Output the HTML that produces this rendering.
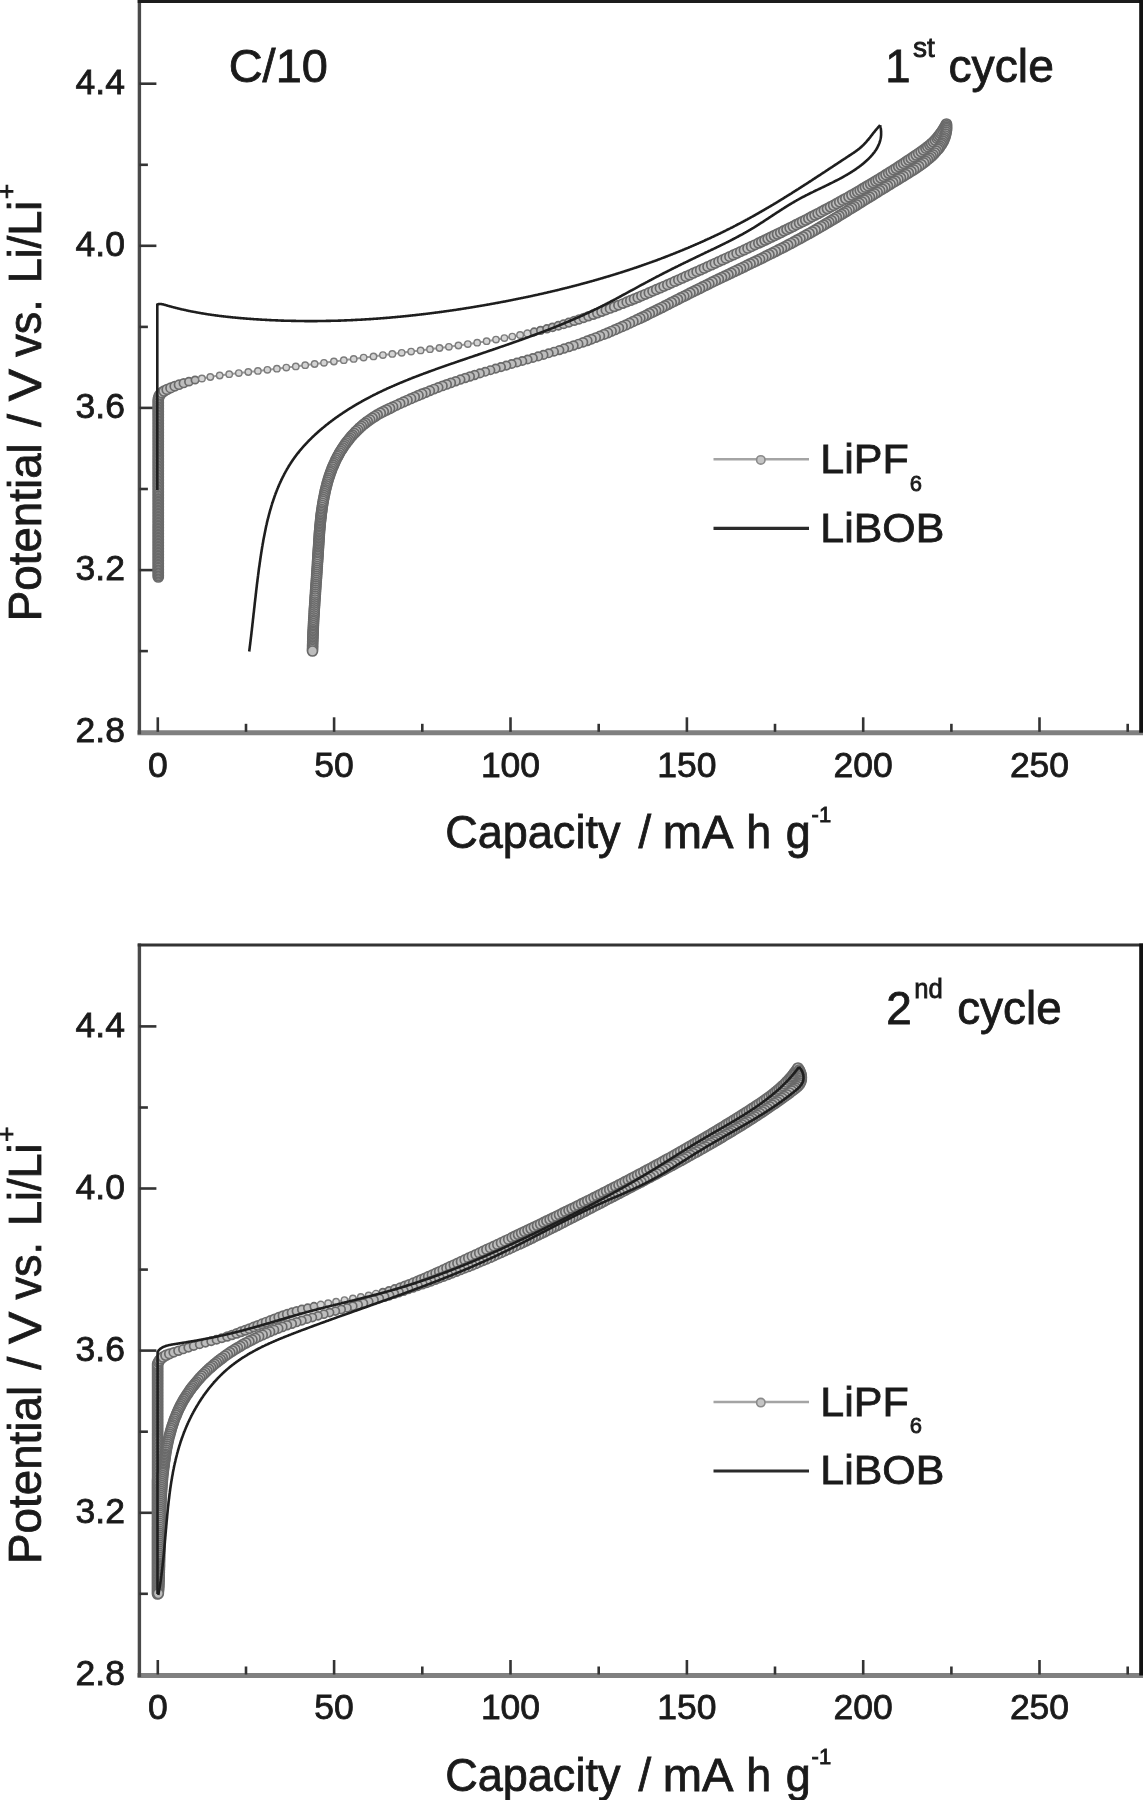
<!DOCTYPE html>
<html><head><meta charset="utf-8"><title>Charge-discharge curves: LiPF6 vs LiBOB</title>
<style>
html,body{margin:0;padding:0;background:#fff;}
svg{display:block;filter:blur(0.6px);}
text{font-family:"Liberation Sans", Arial, sans-serif;fill:#1a1a1a;stroke:#1a1a1a;stroke-width:0.8px;}
.tl text{font-size:35.5px;}
</style></head><body>
<svg width="1143" height="1800" viewBox="0 0 1143 1800">
<rect width="1143" height="1800" fill="#fff"/>
<line x1="137.5" y1="732.8" x2="1143" y2="732.8" stroke="#808080" stroke-width="5"/>
<line x1="139.4" y1="-0.2" x2="139.4" y2="734.3" stroke="#4a4a4a" stroke-width="3.4"/>
<line x1="137.7" y1="1.3" x2="1143" y2="1.3" stroke="#1c1c1c" stroke-width="3.2"/>
<line x1="1141.2" y1="-0.2" x2="1141.2" y2="732.8" stroke="#111" stroke-width="4"/>
<line x1="157.8" y1="717.3" x2="157.8" y2="731.8" stroke="#333" stroke-width="2.6"/>
<line x1="246.0" y1="723.8" x2="246.0" y2="731.8" stroke="#333" stroke-width="2.6"/>
<line x1="334.1" y1="717.3" x2="334.1" y2="731.8" stroke="#333" stroke-width="2.6"/>
<line x1="422.3" y1="723.8" x2="422.3" y2="731.8" stroke="#333" stroke-width="2.6"/>
<line x1="510.5" y1="717.3" x2="510.5" y2="731.8" stroke="#333" stroke-width="2.6"/>
<line x1="598.7" y1="723.8" x2="598.7" y2="731.8" stroke="#333" stroke-width="2.6"/>
<line x1="686.9" y1="717.3" x2="686.9" y2="731.8" stroke="#333" stroke-width="2.6"/>
<line x1="775.0" y1="723.8" x2="775.0" y2="731.8" stroke="#333" stroke-width="2.6"/>
<line x1="863.2" y1="717.3" x2="863.2" y2="731.8" stroke="#333" stroke-width="2.6"/>
<line x1="951.4" y1="723.8" x2="951.4" y2="731.8" stroke="#333" stroke-width="2.6"/>
<line x1="1039.5" y1="717.3" x2="1039.5" y2="731.8" stroke="#333" stroke-width="2.6"/>
<line x1="1127.7" y1="723.8" x2="1127.7" y2="731.8" stroke="#333" stroke-width="2.6"/>
<line x1="139.4" y1="651.1" x2="147.9" y2="651.1" stroke="#333" stroke-width="2.6"/>
<line x1="139.4" y1="570.1" x2="156.4" y2="570.1" stroke="#333" stroke-width="2.6"/>
<line x1="139.4" y1="489.0" x2="147.9" y2="489.0" stroke="#333" stroke-width="2.6"/>
<line x1="139.4" y1="407.9" x2="156.4" y2="407.9" stroke="#333" stroke-width="2.6"/>
<line x1="139.4" y1="326.9" x2="147.9" y2="326.9" stroke="#333" stroke-width="2.6"/>
<line x1="139.4" y1="245.8" x2="156.4" y2="245.8" stroke="#333" stroke-width="2.6"/>
<line x1="139.4" y1="164.8" x2="147.9" y2="164.8" stroke="#333" stroke-width="2.6"/>
<line x1="139.4" y1="83.7" x2="156.4" y2="83.7" stroke="#333" stroke-width="2.6"/>
<g class="tl">
<text x="157.8" y="776.6" text-anchor="middle">0</text>
<text x="334.1" y="776.6" text-anchor="middle">50</text>
<text x="510.5" y="776.6" text-anchor="middle">100</text>
<text x="686.9" y="776.6" text-anchor="middle">150</text>
<text x="863.2" y="776.6" text-anchor="middle">200</text>
<text x="1039.5" y="776.6" text-anchor="middle">250</text>
<text x="124.9" y="742.4" text-anchor="end">2.8</text>
<text x="124.9" y="580.3" text-anchor="end">3.2</text>
<text x="124.9" y="418.1" text-anchor="end">3.6</text>
<text x="124.9" y="256.0" text-anchor="end">4.0</text>
<text x="124.9" y="93.9" text-anchor="end">4.4</text>
</g>
<text x="445.22" y="848.30" style="font-size:45.5px" textLength="175.21" lengthAdjust="spacingAndGlyphs">Capacity</text>
<text x="638.50" y="848.30" style="font-size:45.5px">/</text>
<text x="662.79" y="848.30" style="font-size:45.5px" textLength="70.73" lengthAdjust="spacingAndGlyphs">mA</text>
<text x="746.25" y="848.30" style="font-size:45.5px" textLength="24.93" lengthAdjust="spacingAndGlyphs">h</text>
<text x="785.71" y="848.30" style="font-size:45.5px" textLength="24.96" lengthAdjust="spacingAndGlyphs">g</text>
<text x="811.60" y="821.50" style="font-size:22px">-1</text>
<text transform="translate(41.00 621.22) rotate(-90)" style="font-size:45.5px" textLength="178.01" lengthAdjust="spacingAndGlyphs">Potential</text>
<text transform="translate(41.00 426.75) rotate(-90)" style="font-size:45.5px">/</text>
<text transform="translate(41.00 401.30) rotate(-90)" style="font-size:45.5px" textLength="32.38" lengthAdjust="spacingAndGlyphs">V</text>
<text transform="translate(41.00 356.80) rotate(-90)" style="font-size:45.5px" textLength="57.62" lengthAdjust="spacingAndGlyphs">vs.</text>
<text transform="translate(41.00 283.37) rotate(-90)" style="font-size:45.5px" textLength="82.51" lengthAdjust="spacingAndGlyphs">Li/Li</text>
<text transform="translate(14.50 199.05) rotate(-90)" style="font-size:26px">+</text>
<line x1="137.5" y1="1675.5" x2="1143" y2="1675.5" stroke="#808080" stroke-width="5"/>
<line x1="139.4" y1="943.5" x2="139.4" y2="1677.0" stroke="#4a4a4a" stroke-width="3.4"/>
<line x1="137.7" y1="945.0" x2="1143" y2="945.0" stroke="#333" stroke-width="3.2"/>
<line x1="1141.2" y1="943.5" x2="1141.2" y2="1675.5" stroke="#111" stroke-width="4"/>
<line x1="157.8" y1="1660.0" x2="157.8" y2="1674.5" stroke="#333" stroke-width="2.6"/>
<line x1="246.0" y1="1666.5" x2="246.0" y2="1674.5" stroke="#333" stroke-width="2.6"/>
<line x1="334.1" y1="1660.0" x2="334.1" y2="1674.5" stroke="#333" stroke-width="2.6"/>
<line x1="422.3" y1="1666.5" x2="422.3" y2="1674.5" stroke="#333" stroke-width="2.6"/>
<line x1="510.5" y1="1660.0" x2="510.5" y2="1674.5" stroke="#333" stroke-width="2.6"/>
<line x1="598.7" y1="1666.5" x2="598.7" y2="1674.5" stroke="#333" stroke-width="2.6"/>
<line x1="686.9" y1="1660.0" x2="686.9" y2="1674.5" stroke="#333" stroke-width="2.6"/>
<line x1="775.0" y1="1666.5" x2="775.0" y2="1674.5" stroke="#333" stroke-width="2.6"/>
<line x1="863.2" y1="1660.0" x2="863.2" y2="1674.5" stroke="#333" stroke-width="2.6"/>
<line x1="951.4" y1="1666.5" x2="951.4" y2="1674.5" stroke="#333" stroke-width="2.6"/>
<line x1="1039.5" y1="1660.0" x2="1039.5" y2="1674.5" stroke="#333" stroke-width="2.6"/>
<line x1="1127.7" y1="1666.5" x2="1127.7" y2="1674.5" stroke="#333" stroke-width="2.6"/>
<line x1="139.4" y1="1593.8" x2="147.9" y2="1593.8" stroke="#333" stroke-width="2.6"/>
<line x1="139.4" y1="1512.8" x2="156.4" y2="1512.8" stroke="#333" stroke-width="2.6"/>
<line x1="139.4" y1="1431.7" x2="147.9" y2="1431.7" stroke="#333" stroke-width="2.6"/>
<line x1="139.4" y1="1350.6" x2="156.4" y2="1350.6" stroke="#333" stroke-width="2.6"/>
<line x1="139.4" y1="1269.6" x2="147.9" y2="1269.6" stroke="#333" stroke-width="2.6"/>
<line x1="139.4" y1="1188.5" x2="156.4" y2="1188.5" stroke="#333" stroke-width="2.6"/>
<line x1="139.4" y1="1107.5" x2="147.9" y2="1107.5" stroke="#333" stroke-width="2.6"/>
<line x1="139.4" y1="1026.4" x2="156.4" y2="1026.4" stroke="#333" stroke-width="2.6"/>
<g class="tl">
<text x="157.8" y="1719.3" text-anchor="middle">0</text>
<text x="334.1" y="1719.3" text-anchor="middle">50</text>
<text x="510.5" y="1719.3" text-anchor="middle">100</text>
<text x="686.9" y="1719.3" text-anchor="middle">150</text>
<text x="863.2" y="1719.3" text-anchor="middle">200</text>
<text x="1039.5" y="1719.3" text-anchor="middle">250</text>
<text x="124.9" y="1685.1" text-anchor="end">2.8</text>
<text x="124.9" y="1523.0" text-anchor="end">3.2</text>
<text x="124.9" y="1360.8" text-anchor="end">3.6</text>
<text x="124.9" y="1198.7" text-anchor="end">4.0</text>
<text x="124.9" y="1036.6" text-anchor="end">4.4</text>
</g>
<text x="445.22" y="1791.00" style="font-size:45.5px" textLength="175.21" lengthAdjust="spacingAndGlyphs">Capacity</text>
<text x="638.50" y="1791.00" style="font-size:45.5px">/</text>
<text x="662.79" y="1791.00" style="font-size:45.5px" textLength="70.73" lengthAdjust="spacingAndGlyphs">mA</text>
<text x="746.25" y="1791.00" style="font-size:45.5px" textLength="24.93" lengthAdjust="spacingAndGlyphs">h</text>
<text x="785.71" y="1791.00" style="font-size:45.5px" textLength="24.96" lengthAdjust="spacingAndGlyphs">g</text>
<text x="811.60" y="1764.20" style="font-size:22px">-1</text>
<text transform="translate(41.00 1563.92) rotate(-90)" style="font-size:45.5px" textLength="178.01" lengthAdjust="spacingAndGlyphs">Potential</text>
<text transform="translate(41.00 1369.45) rotate(-90)" style="font-size:45.5px">/</text>
<text transform="translate(41.00 1344.00) rotate(-90)" style="font-size:45.5px" textLength="32.38" lengthAdjust="spacingAndGlyphs">V</text>
<text transform="translate(41.00 1299.50) rotate(-90)" style="font-size:45.5px" textLength="57.62" lengthAdjust="spacingAndGlyphs">vs.</text>
<text transform="translate(41.00 1226.07) rotate(-90)" style="font-size:45.5px" textLength="82.51" lengthAdjust="spacingAndGlyphs">Li/Li</text>
<text transform="translate(14.50 1141.75) rotate(-90)" style="font-size:26px">+</text>
<text x="228.74" y="81.50" style="font-size:45.5px" textLength="99.12" lengthAdjust="spacingAndGlyphs">C/10</text>
<text x="885.30" y="81.50" style="font-size:45.5px">1</text>
<text x="912.90" y="56.80" style="font-size:27px" textLength="21.82" lengthAdjust="spacingAndGlyphs">st</text>
<text x="948.48" y="81.50" style="font-size:45.5px" textLength="105.41" lengthAdjust="spacingAndGlyphs">cycle</text>
<text x="886.18" y="1024.20" style="font-size:45.5px" textLength="25.54" lengthAdjust="spacingAndGlyphs">2</text>
<text x="914.35" y="997.60" style="font-size:27px" textLength="28.55" lengthAdjust="spacingAndGlyphs">nd</text>
<text x="957.19" y="1024.20" style="font-size:45.5px" textLength="104.49" lengthAdjust="spacingAndGlyphs">cycle</text>
<line x1="713.5" y1="459.3" x2="809" y2="459.3" stroke="#a4a4a4" stroke-width="2.4"/>
<circle cx="760.8" cy="459.9" r="4.2" fill="#c4c4c4" stroke="#8a8a8a" stroke-width="1.6"/>
<line x1="713.5" y1="528.3" x2="809" y2="528.3" stroke="#2a2a2a" stroke-width="3.2"/>
<text x="820.35" y="473.20" style="font-size:41px" textLength="88.42" lengthAdjust="spacingAndGlyphs">LiPF</text>
<text x="909.65" y="490.60" style="font-size:22px">6</text>
<text x="820.36" y="541.60" style="font-size:41px" textLength="123.91" lengthAdjust="spacingAndGlyphs">LiBOB</text>
<line x1="713.5" y1="1402.0" x2="809" y2="1402.0" stroke="#a4a4a4" stroke-width="2.4"/>
<circle cx="760.8" cy="1402.6" r="4.2" fill="#c4c4c4" stroke="#8a8a8a" stroke-width="1.6"/>
<line x1="713.5" y1="1471.0" x2="809" y2="1471.0" stroke="#2a2a2a" stroke-width="3.2"/>
<text x="820.35" y="1415.90" style="font-size:41px" textLength="88.42" lengthAdjust="spacingAndGlyphs">LiPF</text>
<text x="909.65" y="1433.30" style="font-size:22px">6</text>
<text x="820.36" y="1484.30" style="font-size:41px" textLength="123.91" lengthAdjust="spacingAndGlyphs">LiBOB</text>
<g id="top-curves">
<path d="M158.3 577.0 L158.3 576.5 L158.3 576.0 L158.3 575.5 L158.3 575.0 L158.3 574.5 L158.3 574.0 L158.3 573.5 L158.3 573.0 L158.3 572.5 L158.3 572.0 L158.3 571.5 L158.3 571.0 L158.3 570.5 L158.3 570.0 L158.3 569.5 L158.3 569.0 L158.3 568.5 L158.3 568.0 L158.3 567.5 L158.3 567.0 L158.3 566.5 L158.3 566.0 L158.3 565.5 L158.3 565.0 L158.3 564.5 L158.3 564.0 L158.3 563.5 L158.3 563.0 L158.3 562.5 L158.3 562.0 L158.3 561.5 L158.3 561.0 L158.3 560.5 L158.3 560.0 L158.3 559.5 L158.3 558.9 L158.3 558.4 L158.3 557.9 L158.3 557.4 L158.3 556.9 L158.3 556.4 L158.3 555.9 L158.3 555.4 L158.3 554.9 L158.3 554.4 L158.3 553.9 L158.3 553.4 L158.3 552.9 L158.3 552.4 L158.3 551.9 L158.3 551.4 L158.3 550.9 L158.3 550.4 L158.3 549.9 L158.3 549.4 L158.3 548.9 L158.3 548.4 L158.3 547.9 L158.3 547.4 L158.3 546.9 L158.3 546.4 L158.3 545.9 L158.3 545.4 L158.3 544.9 L158.3 544.4 L158.3 543.9 L158.3 543.4 L158.3 542.9 L158.3 542.4 L158.3 541.9 L158.3 541.4 L158.3 540.9 L158.3 540.4 L158.3 539.9 L158.3 539.4 L158.3 538.9 L158.3 538.4 L158.3 537.9 L158.3 537.4 L158.3 536.9 L158.3 536.4 L158.3 535.9 L158.3 535.4 L158.3 534.9 L158.3 534.4 L158.3 533.9 L158.3 533.4 L158.3 532.9 L158.3 532.4 L158.3 531.9 L158.3 531.4 L158.3 530.9 L158.3 530.4 L158.3 529.9 L158.3 529.4 L158.3 528.9 L158.3 528.4 L158.3 527.9 L158.3 527.4 L158.3 526.9 L158.3 526.4 L158.3 525.9 L158.3 525.4 L158.3 524.9 L158.3 524.4 L158.3 523.8 L158.3 523.3 L158.3 522.8 L158.3 522.3 L158.3 521.8 L158.3 521.3 L158.3 520.8 L158.3 520.3 L158.3 519.8 L158.3 519.3 L158.3 518.8 L158.3 518.3 L158.3 517.8 L158.3 517.3 L158.3 516.8 L158.3 516.3 L158.3 515.8 L158.3 515.3 L158.3 514.8 L158.3 514.3 L158.3 513.8 L158.3 513.3 L158.3 512.8 L158.3 512.3 L158.3 511.8 L158.3 511.3 L158.3 510.8 L158.3 510.3 L158.3 509.8 L158.3 509.3 L158.3 508.8 L158.3 508.3 L158.3 507.8 L158.3 507.3 L158.3 506.8 L158.3 506.3 L158.3 505.8 L158.3 505.3 L158.3 504.8 L158.3 504.3 L158.3 503.8 L158.3 503.3 L158.3 502.8 L158.3 502.3 L158.3 501.8 L158.3 501.3 L158.3 500.8 L158.3 500.3 L158.3 499.8 L158.3 499.3 L158.3 498.8 L158.3 498.3 L158.3 497.8 L158.3 497.3 L158.3 496.8 L158.3 496.3 L158.3 495.8 L158.3 495.3 L158.3 494.8 L158.3 494.3 L158.3 493.8 L158.3 493.3 L158.3 492.8 L158.3 492.3 L158.3 491.8 L158.3 491.3 L158.3 490.8 L158.3 490.3 L158.3 489.8 L158.3 489.3 L158.3 488.8 L158.3 488.2 L158.3 487.7 L158.3 487.2 L158.3 486.7 L158.3 486.2 L158.3 485.7 L158.3 485.2 L158.3 484.7 L158.3 484.2 L158.3 483.7 L158.3 483.2 L158.3 482.7 L158.3 482.2 L158.3 481.7 L158.3 481.2 L158.3 480.7 L158.3 480.2 L158.3 479.7 L158.3 479.2 L158.3 478.7 L158.3 478.2 L158.3 477.7 L158.3 477.2 L158.3 476.7 L158.3 476.2 L158.3 475.7 L158.3 475.2 L158.3 474.7 L158.3 474.2 L158.3 473.7 L158.3 473.2 L158.3 472.7 L158.3 472.2 L158.3 471.7 L158.3 471.2 L158.3 470.7 L158.3 470.2 L158.3 469.7 L158.3 469.2 L158.3 468.7 L158.3 468.2 L158.3 467.7 L158.3 467.2 L158.3 466.7 L158.3 466.2 L158.3 465.7 L158.3 465.2 L158.3 464.7 L158.3 464.2 L158.3 463.7 L158.3 463.2 L158.3 462.7 L158.3 462.2 L158.3 461.7 L158.3 461.2 L158.3 460.7 L158.3 460.2 L158.3 459.7 L158.3 459.2 L158.3 458.7 L158.3 458.2 L158.3 457.7 L158.3 457.2 L158.3 456.7 L158.3 456.2 L158.3 455.7 L158.3 455.2 L158.3 454.7 L158.3 454.2 L158.3 453.7 L158.3 453.2 L158.3 452.6 L158.3 452.1 L158.3 451.6 L158.3 451.1 L158.3 450.6 L158.3 450.1 L158.3 449.6 L158.3 449.1 L158.3 448.6 L158.3 448.1 L158.3 447.6 L158.3 447.1 L158.3 446.6 L158.3 446.1 L158.3 445.6 L158.3 445.1 L158.3 444.6 L158.3 444.1 L158.3 443.6 L158.3 443.1 L158.3 442.6 L158.3 442.1 L158.3 441.6 L158.3 441.1 L158.3 440.6 L158.3 440.1 L158.3 439.6 L158.3 439.1 L158.3 438.6 L158.3 438.1 L158.3 437.6 L158.3 437.1 L158.3 436.6 L158.3 436.1 L158.3 435.6 L158.3 435.1 L158.3 434.6 L158.3 434.1 L158.3 433.6 L158.3 433.1 L158.3 432.6 L158.3 432.1 L158.3 431.6 L158.3 431.1 L158.3 430.6 L158.3 430.1 L158.3 429.6 L158.3 429.1 L158.3 428.6 L158.3 428.1 L158.3 427.6 L158.3 427.1 L158.3 426.6 L158.3 426.1 L158.3 425.6 L158.3 425.1 L158.3 424.6 L158.3 424.1 L158.3 423.6 L158.3 423.1 L158.3 422.6 L158.3 422.1 L158.3 421.6 L158.3 421.1 L158.3 420.6 L158.3 420.1 L158.3 419.6 L158.3 419.1 L158.3 418.6 L158.3 418.1 L158.3 417.5 L158.3 417.0 L158.3 416.5 L158.3 416.0 L158.3 415.5 L158.3 415.0 L158.3 414.5 L158.3 414.0 L158.3 413.5 L158.3 413.0 L158.3 412.5 L158.3 412.0 L158.3 411.5 L158.3 411.0 L158.3 410.5 L158.3 410.0 L158.3 409.5 L158.3 409.0 L158.3 408.5 L158.3 408.0 L158.3 407.5 L158.3 407.0 L158.3 406.5 L158.3 406.0 L158.3 405.5 L158.3 405.0 L158.3 404.5 L158.3 404.0 L158.3 403.5 L158.3 403.0 L158.3 402.5 L158.3 402.0 L158.3 401.5 L158.3 401.0 L158.3 400.5 L158.3 400.0 L158.3 400.0 L158.3 399.4 L158.4 398.9 L158.5 398.3 L158.6 397.8 L158.7 397.3 L158.9 396.9 L159.0 396.4 L159.2 396.0 L159.5 395.5 L159.7 395.1 L159.9 394.7 L160.2 394.4 L160.5 394.0 L160.8 393.7 L161.1 393.3 L161.4 393.0 L161.8 392.7 L162.1 392.4 L162.5 392.1 L162.9 391.8 L163.2 391.6 L163.6 391.3 L164.0 391.1 L164.5 390.8 L164.9 390.6 L165.3 390.4 L165.7 390.1 L166.2 389.9 L166.6 389.7 L167.1 389.5 L167.5 389.3 L168.0 389.1 L168.4 388.9 L168.9 388.7 L169.3 388.5 L169.8 388.3 L170.2 388.1 L170.7 387.9 L171.1 387.7 L171.6 387.5 L172.0 387.3 L172.5 387.1 L173.0 387.0 L173.4 386.8 L173.9 386.6 L174.3 386.4 L174.8 386.2 L175.3 386.1 L175.7 385.9 L176.2 385.7 L176.6 385.6 L177.1 385.4 L177.6 385.2 L178.0 385.0 L178.5 384.9 L179.0 384.7 L179.4 384.6 L179.9 384.4 L180.4 384.2 L180.8 384.1 L181.3 383.9 L181.8 383.8 L182.2 383.6 L182.7 383.5 L183.2 383.3 L183.7 383.2 L184.1 383.0 L184.6 382.9 L185.1 382.7 L185.5 382.6 L186.0 382.5 L186.5 382.3 L187.0 382.2 L187.4 382.1 L187.9 381.9 L188.4 381.8 L188.9 381.7 L189.3 381.5 L189.8 381.4 L190.3 381.3 L190.8 381.1 L191.3 381.0 L191.7 380.9 L192.2 380.8 L192.7 380.6 L193.2 380.5 L193.7 380.4 L194.2 380.3 L194.6 380.2 L195.1 380.0 L195.6 379.9 L196.1 379.8 L196.6 379.7 L197.1 379.6 L197.5 379.5 L198.0 379.4 L198.5 379.3 L199.0 379.2 L199.5 379.0 L200.0 378.9 L200.5 378.8 L200.9 378.7 L201.4 378.6 L201.9 378.5 L202.4 378.4 L202.9 378.3 L203.4 378.2 L203.9 378.1 L204.4 378.0 L204.9 377.9 L205.4 377.9 L205.8 377.8 L206.3 377.7 L206.8 377.6 L207.3 377.5 L207.8 377.4 L208.3 377.3 L208.8 377.2 L209.3 377.1 L209.8 377.0 L210.3 377.0 L210.8 376.9 L211.3 376.8 L211.8 376.7 L212.3 376.6 L212.8 376.5 L213.3 376.5 L213.7 376.4 L214.2 376.3 L214.7 376.2 L215.2 376.1 L215.7 376.1 L216.2 376.0 L216.7 375.9 L217.2 375.8 L217.7 375.8 L218.2 375.7 L218.7 375.6 L219.2 375.6 L219.7 375.5 L220.2 375.4 L220.7 375.3 L221.2 375.3 L221.7 375.2 L222.2 375.1 L222.7 375.1 L223.2 375.0 L223.7 374.9 L224.2 374.9 L224.7 374.8 L225.2 374.7 L225.7 374.7 L226.2 374.6 L226.7 374.5 L227.2 374.5 L227.7 374.4 L228.2 374.3 L228.7 374.3 L229.2 374.2 L229.7 374.1 L230.2 374.1 L230.7 374.0 L231.2 374.0 L231.7 373.9 L232.2 373.8 L232.7 373.8 L233.2 373.7 L233.8 373.7 L234.3 373.6 L234.8 373.5 L235.3 373.5 L235.8 373.4 L236.3 373.4 L236.8 373.3 L237.3 373.3 L237.8 373.2 L238.3 373.1 L238.8 373.1 L239.3 373.0 L239.8 373.0 L240.3 372.9 L240.8 372.9 L241.3 372.8 L241.8 372.7 L242.3 372.7 L242.8 372.6 L243.3 372.6 L243.8 372.5 L244.3 372.5 L244.8 372.4 L245.3 372.4 L245.8 372.3 L246.3 372.2 L246.8 372.2 L247.3 372.1 L247.8 372.1 L248.3 372.0 L248.8 372.0 L249.3 371.9 L249.8 371.8 L250.3 371.8 L250.8 371.7 L251.4 371.7 L251.9 371.6 L252.4 371.6 L252.9 371.5 L253.4 371.5 L253.9 371.4 L254.4 371.3 L254.9 371.3 L255.4 371.2 L255.9 371.2 L256.4 371.1 L256.9 371.1 L257.4 371.0 L257.9 370.9 L258.4 370.9 L258.9 370.8 L259.4 370.8 L259.9 370.7 L260.4 370.7 L260.9 370.6 L261.4 370.5 L261.9 370.5 L262.4 370.4 L262.9 370.4 L263.4 370.3 L263.9 370.2 L264.4 370.2 L264.9 370.1 L265.4 370.1 L265.9 370.0 L266.4 370.0 L266.9 369.9 L267.4 369.8 L267.9 369.8 L268.4 369.7 L268.9 369.7 L269.4 369.6 L269.9 369.5 L270.4 369.5 L270.9 369.4 L271.4 369.4 L271.9 369.3 L272.4 369.2 L272.9 369.2 L273.4 369.1 L273.9 369.1 L274.4 369.0 L274.9 368.9 L275.4 368.9 L275.9 368.8 L276.4 368.8 L276.9 368.7 L277.4 368.6 L277.9 368.6 L278.4 368.5 L278.9 368.5 L279.4 368.4 L279.9 368.3 L280.4 368.3 L280.9 368.2 L281.4 368.2 L281.9 368.1 L282.3 368.0 L282.8 368.0 L283.3 367.9 L283.8 367.9 L284.3 367.8 L284.8 367.7 L285.3 367.7 L285.8 367.6 L286.3 367.6 L286.8 367.5 L287.3 367.4 L287.8 367.4 L288.3 367.3 L288.8 367.2 L289.3 367.2 L289.8 367.1 L290.3 367.1 L290.8 367.0 L291.3 366.9 L291.8 366.9 L292.3 366.8 L292.8 366.8 L293.3 366.7 L293.8 366.6 L294.3 366.6 L294.8 366.5 L295.3 366.4 L295.8 366.4 L296.3 366.3 L296.8 366.3 L297.3 366.2 L297.8 366.1 L298.3 366.1 L298.8 366.0 L299.3 365.9 L299.7 365.9 L300.2 365.8 L300.7 365.8 L301.2 365.7 L301.7 365.6 L302.2 365.6 L302.7 365.5 L303.2 365.4 L303.7 365.4 L304.2 365.3 L304.7 365.3 L305.2 365.2 L305.7 365.1 L306.2 365.1 L306.7 365.0 L307.2 364.9 L307.7 364.9 L308.2 364.8 L308.7 364.8 L309.2 364.7 L309.7 364.6 L310.2 364.6 L310.7 364.5 L311.2 364.4 L311.6 364.4 L312.1 364.3 L312.6 364.3 L313.1 364.2 L313.6 364.1 L314.1 364.1 L314.6 364.0 L315.1 363.9 L315.6 363.9 L316.1 363.8 L316.6 363.7 L317.1 363.7 L317.6 363.6 L318.1 363.6 L318.6 363.5 L319.1 363.4 L319.6 363.4 L320.1 363.3 L320.6 363.2 L321.1 363.2 L321.5 363.1 L322.0 363.0 L322.5 363.0 L323.0 362.9 L323.5 362.9 L324.0 362.8 L324.5 362.7 L325.0 362.7 L325.5 362.6 L326.0 362.5 L326.5 362.5 L327.0 362.4 L327.5 362.3 L328.0 362.3 L328.5 362.2 L329.0 362.1 L329.5 362.1 L330.0 362.0 L330.5 362.0 L330.9 361.9 L331.4 361.8 L331.9 361.8 L332.4 361.7 L332.9 361.6 L333.4 361.6 L333.9 361.5 L334.4 361.4 L334.9 361.4 L335.4 361.3 L335.9 361.2 L336.4 361.2 L336.9 361.1 L337.4 361.1 L337.9 361.0 L338.4 360.9 L338.9 360.9 L339.4 360.8 L339.8 360.7 L340.3 360.7 L340.8 360.6 L341.3 360.5 L341.8 360.5 L342.3 360.4 L342.8 360.3 L343.3 360.3 L343.8 360.2 L344.3 360.2 L344.8 360.1 L345.3 360.0 L345.8 360.0 L346.3 359.9 L346.8 359.8 L347.3 359.8 L347.8 359.7 L348.2 359.6 L348.7 359.6 L349.2 359.5 L349.7 359.4 L350.2 359.4 L350.7 359.3 L351.2 359.2 L351.7 359.2 L352.2 359.1 L352.7 359.1 L353.2 359.0 L353.7 358.9 L354.2 358.9 L354.7 358.8 L355.2 358.7 L355.7 358.7 L356.2 358.6 L356.6 358.5 L357.1 358.5 L357.6 358.4 L358.1 358.3 L358.6 358.3 L359.1 358.2 L359.6 358.2 L360.1 358.1 L360.6 358.0 L361.1 358.0 L361.6 357.9 L362.1 357.8 L362.6 357.8 L363.1 357.7 L363.6 357.6 L364.1 357.6 L364.6 357.5 L365.0 357.4 L365.5 357.4 L366.0 357.3 L366.5 357.3 L367.0 357.2 L367.5 357.1 L368.0 357.1 L368.5 357.0 L369.0 356.9 L369.5 356.9 L370.0 356.8 L370.5 356.7 L371.0 356.7 L371.5 356.6 L372.0 356.5 L372.5 356.5 L373.0 356.4 L373.5 356.4 L373.9 356.3 L374.4 356.2 L374.9 356.2 L375.4 356.1 L375.9 356.0 L376.4 356.0 L376.9 355.9 L377.4 355.8 L377.9 355.8 L378.4 355.7 L378.9 355.7 L379.4 355.6 L379.9 355.5 L380.4 355.5 L380.9 355.4 L381.4 355.3 L381.9 355.3 L382.4 355.2 L382.9 355.1 L383.3 355.1 L383.8 355.0 L384.3 355.0 L384.8 354.9 L385.3 354.8 L385.8 354.8 L386.3 354.7 L386.8 354.6 L387.3 354.6 L387.8 354.5 L388.3 354.4 L388.8 354.4 L389.3 354.3 L389.8 354.3 L390.3 354.2 L390.8 354.1 L391.3 354.1 L391.8 354.0 L392.3 353.9 L392.8 353.9 L393.3 353.8 L393.8 353.8 L394.2 353.7 L394.7 353.6 L395.2 353.6 L395.7 353.5 L396.2 353.4 L396.7 353.4 L397.2 353.3 L397.7 353.3 L398.2 353.2 L398.7 353.1 L399.2 353.1 L399.7 353.0 L400.2 352.9 L400.7 352.9 L401.2 352.8 L401.7 352.8 L402.2 352.7 L402.7 352.6 L403.2 352.6 L403.7 352.5 L404.2 352.4 L404.7 352.4 L405.2 352.3 L405.7 352.3 L406.2 352.2 L406.6 352.1 L407.1 352.1 L407.6 352.0 L408.1 351.9 L408.6 351.9 L409.1 351.8 L409.6 351.8 L410.1 351.7 L410.6 351.6 L411.1 351.6 L411.6 351.5 L412.1 351.5 L412.6 351.4 L413.1 351.3 L413.6 351.3 L414.1 351.2 L414.6 351.1 L415.1 351.1 L415.6 351.0 L416.1 351.0 L416.6 350.9 L417.1 350.8 L417.6 350.8 L418.1 350.7 L418.6 350.6 L419.1 350.6 L419.6 350.5 L420.1 350.5 L420.6 350.4 L421.1 350.3 L421.6 350.3 L422.1 350.2 L422.6 350.2 L423.1 350.1 L423.5 350.0 L424.0 350.0 L424.5 349.9 L425.0 349.8 L425.5 349.8 L426.0 349.7 L426.5 349.7 L427.0 349.6 L427.5 349.5 L428.0 349.5 L428.5 349.4 L429.0 349.3 L429.5 349.3 L430.0 349.2 L430.5 349.2 L431.0 349.1 L431.5 349.0 L432.0 349.0 L432.5 348.9 L433.0 348.8 L433.5 348.8 L434.0 348.7 L434.5 348.6 L435.0 348.6 L435.5 348.5 L436.0 348.5 L436.5 348.4 L437.0 348.3 L437.5 348.3 L438.0 348.2 L438.5 348.1 L439.0 348.1 L439.5 348.0 L440.0 347.9 L440.5 347.9 L441.0 347.8 L441.5 347.7 L442.0 347.7 L442.5 347.6 L442.9 347.6 L443.4 347.5 L443.9 347.4 L444.4 347.4 L444.9 347.3 L445.4 347.2 L445.9 347.2 L446.4 347.1 L446.9 347.0 L447.4 347.0 L447.9 346.9 L448.4 346.8 L448.9 346.8 L449.4 346.7 L449.9 346.6 L450.4 346.6 L450.9 346.5 L451.4 346.4 L451.9 346.4 L452.4 346.3 L452.9 346.2 L453.4 346.2 L453.9 346.1 L454.4 346.0 L454.9 346.0 L455.4 345.9 L455.9 345.8 L456.4 345.8 L456.9 345.7 L457.4 345.6 L457.9 345.5 L458.4 345.5 L458.9 345.4 L459.4 345.3 L459.9 345.3 L460.4 345.2 L460.8 345.1 L461.3 345.1 L461.8 345.0 L462.3 344.9 L462.8 344.8 L463.3 344.8 L463.8 344.7 L464.3 344.6 L464.8 344.6 L465.3 344.5 L465.8 344.4 L466.3 344.4 L466.8 344.3 L467.3 344.2 L467.8 344.1 L468.3 344.1 L468.8 344.0 L469.3 343.9 L469.8 343.8 L470.3 343.8 L470.8 343.7 L471.3 343.6 L471.8 343.5 L472.3 343.5 L472.8 343.4 L473.3 343.3 L473.8 343.3 L474.2 343.2 L474.7 343.1 L475.2 343.0 L475.7 343.0 L476.2 342.9 L476.7 342.8 L477.2 342.7 L477.7 342.6 L478.2 342.6 L478.7 342.5 L479.2 342.4 L479.7 342.3 L480.2 342.3 L480.7 342.2 L481.2 342.1 L481.7 342.0 L482.2 341.9 L482.7 341.9 L483.2 341.8 L483.7 341.7 L484.2 341.6 L484.7 341.6 L485.1 341.5 L485.6 341.4 L486.1 341.3 L486.6 341.2 L487.1 341.1 L487.6 341.1 L488.1 341.0 L488.6 340.9 L489.1 340.8 L489.6 340.7 L490.1 340.7 L490.6 340.6 L491.1 340.5 L491.6 340.4 L492.1 340.3 L492.6 340.2 L493.1 340.2 L493.5 340.1 L494.0 340.0 L494.5 339.9 L495.0 339.8 L495.5 339.7 L496.0 339.6 L496.5 339.6 L497.0 339.5 L497.5 339.4 L498.0 339.3 L498.5 339.2 L499.0 339.1 L499.5 339.0 L500.0 338.9 L500.5 338.9 L500.9 338.8 L501.4 338.7 L501.9 338.6 L502.4 338.5 L502.9 338.4 L503.4 338.3 L503.9 338.2 L504.4 338.1 L504.9 338.0 L505.4 338.0 L505.9 337.9 L506.4 337.8 L506.9 337.7 L507.3 337.6 L507.8 337.5 L508.3 337.4 L508.8 337.3 L509.3 337.2 L509.8 337.1 L510.3 337.0 L510.8 336.9 L511.3 336.8 L511.8 336.7 L512.3 336.6 L512.7 336.5 L513.2 336.4 L513.7 336.3 L514.2 336.2 L514.7 336.2 L515.2 336.1 L515.7 336.0 L516.2 335.9 L516.7 335.8 L517.2 335.7 L517.6 335.6 L518.1 335.5 L518.6 335.4 L519.1 335.3 L519.6 335.2 L520.1 335.0 L520.6 334.9 L521.1 334.8 L521.6 334.7 L522.1 334.6 L522.5 334.5 L523.0 334.4 L523.5 334.3 L524.0 334.2 L524.5 334.1 L525.0 334.0 L525.5 333.9 L526.0 333.8 L526.4 333.7 L526.9 333.6 L527.4 333.5 L527.9 333.4 L528.4 333.3 L528.9 333.1 L529.4 333.0 L529.9 332.9 L530.4 332.8 L530.8 332.7 L531.3 332.6 L531.8 332.5 L532.3 332.4 L532.8 332.3 L533.3 332.1 L533.8 332.0 L534.2 331.9 L534.7 331.8 L535.2 331.7 L535.7 331.6 L536.2 331.5 L536.7 331.3 L537.2 331.2 L537.6 331.1 L538.1 331.0 L538.6 330.9 L539.1 330.8 L539.6 330.6 L540.1 330.5 L540.6 330.4 L541.0 330.3 L541.5 330.2 L542.0 330.1 L542.5 329.9 L543.0 329.8 L543.5 329.7 L543.9 329.6 L544.4 329.4 L544.9 329.3 L545.4 329.2 L545.9 329.1 L546.4 328.9 L546.9 328.8 L547.3 328.7 L547.8 328.6 L548.3 328.4 L548.8 328.3 L549.3 328.2 L549.7 328.1 L550.2 327.9 L550.7 327.8 L551.2 327.7 L551.7 327.5 L552.2 327.4 L552.6 327.3 L553.1 327.2 L553.6 327.0 L554.1 326.9 L554.6 326.8 L555.0 326.6 L555.5 326.5 L556.0 326.4 L556.5 326.2 L557.0 326.1 L557.5 326.0 L557.9 325.8 L558.4 325.7 L558.9 325.5 L559.4 325.4 L559.9 325.3 L560.3 325.1 L560.8 325.0 L561.3 324.9 L561.8 324.7 L562.3 324.6 L562.7 324.4 L563.2 324.3 L563.7 324.2 L564.2 324.0 L564.6 323.9 L565.1 323.7 L565.6 323.6 L566.1 323.4 L566.6 323.3 L567.0 323.2 L567.5 323.0 L568.0 322.9 L568.5 322.7 L568.9 322.6 L569.4 322.4 L569.9 322.3 L570.4 322.1 L570.9 322.0 L571.3 321.8 L571.8 321.7 L572.3 321.5 L572.8 321.4 L573.2 321.2 L573.7 321.1 L574.2 320.9 L574.7 320.8 L575.1 320.6 L575.6 320.5 L576.1 320.3 L576.6 320.2 L577.0 320.0 L577.5 319.9 L578.0 319.7 L578.5 319.6 L579.0 319.4 L579.4 319.3 L579.9 319.1 L580.4 319.0 L580.8 318.8 L581.3 318.6 L581.8 318.5 L582.3 318.3 L582.7 318.2 L583.2 318.0 L583.7 317.9 L584.2 317.7 L584.6 317.5 L585.1 317.4 L585.6 317.2 L586.1 317.1 L586.5 316.9 L587.0 316.7 L587.5 316.6 L588.0 316.4 L588.4 316.3 L588.9 316.1 L589.4 315.9 L589.8 315.8 L590.3 315.6 L590.8 315.4 L591.3 315.3 L591.7 315.1 L592.2 315.0 L592.7 314.8 L593.2 314.6 L593.6 314.5 L594.1 314.3 L594.6 314.1 L595.0 314.0 L595.5 313.8 L596.0 313.6 L596.5 313.5 L596.9 313.3 L597.4 313.1 L597.9 312.9 L598.3 312.8 L598.8 312.6 L599.3 312.4 L599.8 312.3 L600.2 312.1 L600.7 311.9 L601.2 311.8 L601.6 311.6 L602.1 311.4 L602.6 311.2 L603.0 311.1 L603.5 310.9 L604.0 310.7 L604.5 310.6 L604.9 310.4 L605.4 310.2 L605.9 310.0 L606.3 309.9 L606.8 309.7 L607.3 309.5 L607.7 309.3 L608.2 309.2 L608.7 309.0 L609.1 308.8 L609.6 308.6 L610.1 308.4 L610.5 308.3 L611.0 308.1 L611.5 307.9 L612.0 307.7 L612.4 307.6 L612.9 307.4 L613.4 307.2 L613.8 307.0 L614.3 306.8 L614.8 306.7 L615.2 306.5 L615.7 306.3 L616.2 306.1 L616.6 305.9 L617.1 305.8 L617.6 305.6 L618.0 305.4 L618.5 305.2 L619.0 305.0 L619.4 304.9 L619.9 304.7 L620.4 304.5 L620.8 304.3 L621.3 304.1 L621.8 303.9 L622.2 303.8 L622.7 303.6 L623.2 303.4 L623.6 303.2 L624.1 303.0 L624.6 302.8 L625.0 302.6 L625.5 302.5 L626.0 302.3 L626.4 302.1 L626.9 301.9 L627.4 301.7 L627.8 301.5 L628.3 301.3 L628.7 301.1 L629.2 301.0 L629.7 300.8 L630.1 300.6 L630.6 300.4 L631.1 300.2 L631.5 300.0 L632.0 299.8 L632.5 299.6 L632.9 299.5 L633.4 299.3 L633.9 299.1 L634.3 298.9 L634.8 298.7 L635.3 298.5 L635.7 298.3 L636.2 298.1 L636.6 297.9 L637.1 297.7 L637.6 297.5 L638.0 297.4 L638.5 297.2 L639.0 297.0 L639.4 296.8 L639.9 296.6 L640.4 296.4 L640.8 296.2 L641.3 296.0 L641.7 295.8 L642.2 295.6 L642.7 295.4 L643.1 295.2 L643.6 295.0 L644.1 294.8 L644.5 294.6 L645.0 294.4 L645.4 294.3 L645.9 294.1 L646.4 293.9 L646.8 293.7 L647.3 293.5 L647.8 293.3 L648.2 293.1 L648.7 292.9 L649.1 292.7 L649.6 292.5 L650.1 292.3 L650.5 292.1 L651.0 291.9 L651.4 291.7 L651.9 291.5 L652.4 291.3 L652.8 291.1 L653.3 290.9 L653.8 290.7 L654.2 290.5 L654.7 290.3 L655.1 290.1 L655.6 289.9 L656.1 289.7 L656.5 289.5 L657.0 289.3 L657.4 289.1 L657.9 288.9 L658.4 288.7 L658.8 288.5 L659.3 288.3 L659.7 288.1 L660.2 287.9 L660.7 287.7 L661.1 287.5 L661.6 287.3 L662.0 287.1 L662.5 286.9 L663.0 286.7 L663.4 286.5 L663.9 286.3 L664.3 286.1 L664.8 285.9 L665.3 285.7 L665.7 285.5 L666.2 285.3 L666.6 285.1 L667.1 284.9 L667.6 284.7 L668.0 284.5 L668.5 284.3 L668.9 284.1 L669.4 283.9 L669.9 283.7 L670.3 283.5 L670.8 283.3 L671.2 283.1 L671.7 282.9 L672.2 282.7 L672.6 282.5 L673.1 282.3 L673.5 282.1 L674.0 281.9 L674.5 281.6 L674.9 281.4 L675.4 281.2 L675.8 281.0 L676.3 280.8 L676.7 280.6 L677.2 280.4 L677.7 280.2 L678.1 280.0 L678.6 279.8 L679.0 279.6 L679.5 279.4 L680.0 279.2 L680.4 279.0 L680.9 278.8 L681.3 278.6 L681.8 278.4 L682.2 278.2 L682.7 278.0 L683.2 277.8 L683.6 277.6 L684.1 277.3 L684.5 277.1 L685.0 276.9 L685.5 276.7 L685.9 276.5 L686.4 276.3 L686.8 276.1 L687.3 275.9 L687.7 275.7 L688.2 275.5 L688.7 275.3 L689.1 275.1 L689.6 274.9 L690.0 274.7 L690.5 274.5 L690.9 274.3 L691.4 274.0 L691.9 273.8 L692.3 273.6 L692.8 273.4 L693.2 273.2 L693.7 273.0 L694.1 272.8 L694.6 272.6 L695.1 272.4 L695.5 272.2 L696.0 272.0 L696.4 271.8 L696.9 271.6 L697.3 271.4 L697.8 271.2 L698.3 270.9 L698.7 270.7 L699.2 270.5 L699.6 270.3 L700.1 270.1 L700.5 269.9 L701.0 269.7 L701.4 269.5 L701.9 269.3 L702.4 269.1 L702.8 268.9 L703.3 268.7 L703.7 268.5 L704.2 268.3 L704.6 268.0 L705.1 267.8 L705.6 267.6 L706.0 267.4 L706.5 267.2 L706.9 267.0 L707.4 266.8 L707.8 266.6 L708.3 266.4 L708.7 266.2 L709.2 266.0 L709.7 265.8 L710.1 265.6 L710.6 265.4 L711.0 265.1 L711.5 264.9 L711.9 264.7 L712.4 264.5 L712.8 264.3 L713.3 264.1 L713.8 263.9 L714.2 263.7 L714.7 263.5 L715.1 263.3 L715.6 263.1 L716.0 262.9 L716.5 262.7 L716.9 262.4 L717.4 262.2 L717.9 262.0 L718.3 261.8 L718.8 261.6 L719.2 261.4 L719.7 261.2 L720.1 261.0 L720.6 260.8 L721.0 260.6 L721.5 260.4 L722.0 260.2 L722.4 259.9 L722.9 259.7 L723.3 259.5 L723.8 259.3 L724.2 259.1 L724.7 258.9 L725.1 258.7 L725.6 258.5 L726.0 258.3 L726.5 258.1 L727.0 257.9 L727.4 257.7 L727.9 257.4 L728.3 257.2 L728.8 257.0 L729.2 256.8 L729.7 256.6 L730.1 256.4 L730.6 256.2 L731.0 256.0 L731.5 255.8 L731.9 255.6 L732.4 255.4 L732.9 255.1 L733.3 254.9 L733.8 254.7 L734.2 254.5 L734.7 254.3 L735.1 254.1 L735.6 253.9 L736.0 253.7 L736.5 253.5 L736.9 253.3 L737.4 253.0 L737.8 252.8 L738.3 252.6 L738.8 252.4 L739.2 252.2 L739.7 252.0 L740.1 251.8 L740.6 251.6 L741.0 251.4 L741.5 251.1 L741.9 250.9 L742.4 250.7 L742.8 250.5 L743.3 250.3 L743.7 250.1 L744.2 249.9 L744.6 249.7 L745.1 249.5 L745.5 249.2 L746.0 249.0 L746.5 248.8 L746.9 248.6 L747.4 248.4 L747.8 248.2 L748.3 248.0 L748.7 247.8 L749.2 247.6 L749.6 247.3 L750.1 247.1 L750.5 246.9 L751.0 246.7 L751.4 246.5 L751.9 246.3 L752.3 246.1 L752.8 245.9 L753.2 245.6 L753.7 245.4 L754.1 245.2 L754.6 245.0 L755.0 244.8 L755.5 244.6 L755.9 244.4 L756.4 244.1 L756.8 243.9 L757.3 243.7 L757.7 243.5 L758.2 243.3 L758.7 243.1 L759.1 242.9 L759.6 242.7 L760.0 242.4 L760.5 242.2 L760.9 242.0 L761.4 241.8 L761.8 241.6 L762.3 241.4 L762.7 241.1 L763.2 240.9 L763.6 240.7 L764.1 240.5 L764.5 240.3 L765.0 240.1 L765.4 239.9 L765.9 239.6 L766.3 239.4 L766.8 239.2 L767.2 239.0 L767.7 238.8 L768.1 238.6 L768.6 238.3 L769.0 238.1 L769.5 237.9 L769.9 237.7 L770.4 237.5 L770.8 237.3 L771.3 237.0 L771.7 236.8 L772.2 236.6 L772.6 236.4 L773.1 236.2 L773.5 236.0 L774.0 235.7 L774.4 235.5 L774.9 235.3 L775.3 235.1 L775.8 234.9 L776.2 234.7 L776.7 234.4 L777.1 234.2 L777.5 234.0 L778.0 233.8 L778.4 233.6 L778.9 233.3 L779.3 233.1 L779.8 232.9 L780.2 232.7 L780.7 232.5 L781.1 232.2 L781.6 232.0 L782.0 231.8 L782.5 231.6 L782.9 231.4 L783.4 231.1 L783.8 230.9 L784.3 230.7 L784.7 230.5 L785.2 230.3 L785.6 230.0 L786.1 229.8 L786.5 229.6 L787.0 229.4 L787.4 229.2 L787.9 228.9 L788.3 228.7 L788.7 228.5 L789.2 228.3 L789.6 228.0 L790.1 227.8 L790.5 227.6 L791.0 227.4 L791.4 227.2 L791.9 226.9 L792.3 226.7 L792.8 226.5 L793.2 226.3 L793.7 226.0 L794.1 225.8 L794.6 225.6 L795.0 225.4 L795.4 225.1 L795.9 224.9 L796.3 224.7 L796.8 224.5 L797.2 224.2 L797.7 224.0 L798.1 223.8 L798.6 223.6 L799.0 223.3 L799.5 223.1 L799.9 222.9 L800.4 222.7 L800.8 222.4 L801.2 222.2 L801.7 222.0 L802.1 221.8 L802.6 221.5 L803.0 221.3 L803.5 221.1 L803.9 220.9 L804.4 220.6 L804.8 220.4 L805.2 220.2 L805.7 220.0 L806.1 219.7 L806.6 219.5 L807.0 219.3 L807.5 219.0 L807.9 218.8 L808.4 218.6 L808.8 218.4 L809.2 218.1 L809.7 217.9 L810.1 217.7 L810.6 217.4 L811.0 217.2 L811.5 217.0 L811.9 216.7 L812.4 216.5 L812.8 216.3 L813.2 216.1 L813.7 215.8 L814.1 215.6 L814.6 215.4 L815.0 215.1 L815.5 214.9 L815.9 214.7 L816.3 214.4 L816.8 214.2 L817.2 214.0 L817.7 213.7 L818.1 213.5 L818.6 213.3 L819.0 213.0 L819.4 212.8 L819.9 212.6 L820.3 212.3 L820.8 212.1 L821.2 211.9 L821.7 211.6 L822.1 211.4 L822.5 211.2 L823.0 210.9 L823.4 210.7 L823.9 210.5 L824.3 210.2 L824.7 210.0 L825.2 209.8 L825.6 209.5 L826.1 209.3 L826.5 209.1 L826.9 208.8 L827.4 208.6 L827.8 208.4 L828.3 208.1 L828.7 207.9 L829.2 207.6 L829.6 207.4 L830.0 207.2 L830.5 206.9 L830.9 206.7 L831.4 206.5 L831.8 206.2 L832.2 206.0 L832.7 205.7 L833.1 205.5 L833.6 205.3 L834.0 205.0 L834.4 204.8 L834.9 204.5 L835.3 204.3 L835.8 204.1 L836.2 203.8 L836.6 203.6 L837.1 203.3 L837.5 203.1 L837.9 202.9 L838.4 202.6 L838.8 202.4 L839.3 202.1 L839.7 201.9 L840.1 201.6 L840.6 201.4 L841.0 201.2 L841.5 200.9 L841.9 200.7 L842.3 200.4 L842.8 200.2 L843.2 199.9 L843.6 199.7 L844.1 199.5 L844.5 199.2 L845.0 199.0 L845.4 198.7 L845.8 198.5 L846.3 198.2 L846.7 198.0 L847.1 197.7 L847.6 197.5 L848.0 197.2 L848.5 197.0 L848.9 196.8 L849.3 196.5 L849.8 196.3 L850.2 196.0 L850.6 195.8 L851.1 195.5 L851.5 195.3 L851.9 195.0 L852.4 194.8 L852.8 194.5 L853.3 194.3 L853.7 194.0 L854.1 193.8 L854.6 193.5 L855.0 193.3 L855.4 193.0 L855.9 192.8 L856.3 192.5 L856.7 192.3 L857.2 192.0 L857.6 191.8 L858.0 191.5 L858.5 191.3 L858.9 191.0 L859.4 190.8 L859.8 190.5 L860.2 190.3 L860.7 190.0 L861.1 189.8 L861.5 189.5 L862.0 189.3 L862.4 189.0 L862.8 188.7 L863.3 188.5 L863.7 188.2 L864.1 188.0 L864.6 187.7 L865.0 187.5 L865.4 187.2 L865.9 187.0 L866.3 186.7 L866.7 186.4 L867.2 186.2 L867.6 185.9 L868.0 185.7 L868.4 185.4 L868.9 185.2 L869.3 184.9 L869.7 184.6 L870.2 184.4 L870.6 184.1 L871.0 183.9 L871.5 183.6 L871.9 183.4 L872.3 183.1 L872.8 182.8 L873.2 182.6 L873.6 182.3 L874.1 182.1 L874.5 181.8 L874.9 181.5 L875.3 181.3 L875.8 181.0 L876.2 180.8 L876.6 180.5 L877.1 180.2 L877.5 180.0 L877.9 179.7 L878.3 179.5 L878.8 179.2 L879.2 178.9 L879.6 178.7 L880.1 178.4 L880.5 178.1 L880.9 177.9 L881.3 177.6 L881.8 177.4 L882.2 177.1 L882.6 176.8 L883.0 176.6 L883.5 176.3 L883.9 176.0 L884.3 175.8 L884.8 175.5 L885.2 175.2 L885.6 175.0 L886.0 174.7 L886.5 174.4 L886.9 174.2 L887.3 173.9 L887.7 173.6 L888.2 173.4 L888.6 173.1 L889.0 172.8 L889.4 172.6 L889.9 172.3 L890.3 172.0 L890.7 171.8 L891.1 171.5 L891.6 171.2 L892.0 171.0 L892.4 170.7 L892.8 170.4 L893.2 170.2 L893.7 169.9 L894.1 169.6 L894.5 169.3 L894.9 169.1 L895.4 168.8 L895.8 168.5 L896.2 168.3 L896.6 168.0 L897.0 167.7 L897.5 167.4 L897.9 167.2 L898.3 166.9 L898.7 166.6 L899.1 166.4 L899.6 166.1 L900.0 165.8 L900.4 165.5 L900.8 165.3 L901.2 165.0 L901.7 164.7 L902.1 164.4 L902.5 164.2 L902.9 163.9 L903.3 163.6 L903.7 163.4 L904.2 163.1 L904.6 162.8 L905.0 162.5 L905.4 162.3 L905.8 162.0 L906.2 161.7 L906.7 161.4 L907.1 161.1 L907.5 160.9 L907.9 160.6 L908.3 160.3 L908.7 160.0 L909.1 159.8 L909.6 159.5 L910.0 159.2 L910.4 158.9 L910.8 158.7 L911.2 158.4 L911.6 158.1 L912.0 157.8 L912.5 157.5 L912.9 157.3 L913.3 157.0 L913.7 156.7 L914.1 156.4 L914.5 156.1 L914.9 155.9 L915.3 155.6 L915.8 155.3 L916.2 155.0 L916.6 154.7 L917.0 154.5 L917.4 154.2 L917.8 153.9 L918.2 153.6 L918.6 153.3 L919.0 153.0 L919.4 152.8 L919.8 152.5 L920.3 152.2 L920.7 151.9 L921.1 151.6 L921.5 151.3 L921.9 151.1 L922.3 150.8 L922.7 150.5 L923.1 150.2 L923.5 149.9 L923.9 149.6 L924.3 149.3 L924.7 149.0 L925.1 148.7 L925.5 148.5 L925.9 148.2 L926.3 147.9 L926.7 147.6 L927.1 147.3 L927.5 147.0 L927.8 146.7 L928.2 146.3 L928.6 146.0 L929.0 145.7 L929.4 145.4 L929.8 145.1 L930.1 144.8 L930.5 144.5 L930.9 144.1 L931.3 143.8 L931.6 143.5 L932.0 143.2 L932.4 142.8 L932.7 142.5 L933.1 142.1 L933.4 141.8 L933.8 141.5 L934.1 141.1 L934.5 140.7 L934.8 140.4 L935.2 140.0 L935.5 139.7 L935.9 139.3 L936.2 138.9 L936.5 138.6 L936.9 138.2 L937.2 137.8 L937.5 137.4 L937.8 137.0 L938.1 136.6 L938.5 136.2 L938.8 135.8 L939.1 135.4 L939.4 135.0 L939.7 134.6 L940.0 134.2 L940.3 133.8 L940.6 133.4 L940.9 133.0 L941.2 132.6 L941.4 132.2 L941.7 131.8 L942.0 131.3 L942.3 130.9 L942.6 130.5 L942.9 130.1 L943.1 129.6 L943.4 129.2 L943.7 128.8 L943.9 128.3 L944.2 127.9 L944.5 127.5 L944.7 127.0 L945.0 126.6 L945.2 126.2 L945.5 125.7 L945.8 125.3 L946.0 124.9 L946.3 124.4 L946.5 124.0" fill="none" stroke="#9a9a9a" stroke-width="2"/>
<g fill="#bdbdbd" stroke="#6a6a6a" stroke-width="1.7"><circle cx="158.3" cy="577.0" r="5.00"/><circle cx="158.3" cy="575.5" r="5.00"/><circle cx="158.3" cy="574.0" r="5.00"/><circle cx="158.3" cy="572.5" r="5.00"/><circle cx="158.3" cy="571.0" r="5.00"/><circle cx="158.3" cy="569.5" r="5.00"/><circle cx="158.3" cy="568.0" r="5.00"/><circle cx="158.3" cy="566.5" r="5.00"/><circle cx="158.3" cy="565.0" r="5.00"/><circle cx="158.3" cy="563.5" r="5.00"/><circle cx="158.3" cy="562.0" r="5.00"/><circle cx="158.3" cy="560.5" r="5.00"/><circle cx="158.3" cy="558.9" r="5.00"/><circle cx="158.3" cy="557.4" r="5.00"/><circle cx="158.3" cy="555.9" r="5.00"/><circle cx="158.3" cy="554.4" r="5.00"/><circle cx="158.3" cy="552.9" r="5.00"/><circle cx="158.3" cy="551.4" r="5.00"/><circle cx="158.3" cy="549.9" r="5.00"/><circle cx="158.3" cy="548.4" r="5.00"/><circle cx="158.3" cy="546.9" r="5.00"/><circle cx="158.3" cy="545.4" r="5.00"/><circle cx="158.3" cy="543.9" r="5.00"/><circle cx="158.3" cy="542.4" r="5.00"/><circle cx="158.3" cy="540.9" r="5.00"/><circle cx="158.3" cy="539.4" r="5.00"/><circle cx="158.3" cy="537.9" r="5.00"/><circle cx="158.3" cy="536.4" r="5.00"/><circle cx="158.3" cy="534.9" r="5.00"/><circle cx="158.3" cy="533.4" r="5.00"/><circle cx="158.3" cy="531.9" r="5.00"/><circle cx="158.3" cy="530.4" r="5.00"/><circle cx="158.3" cy="528.9" r="5.00"/><circle cx="158.3" cy="527.4" r="5.00"/><circle cx="158.3" cy="525.9" r="5.00"/><circle cx="158.3" cy="524.4" r="5.00"/><circle cx="158.3" cy="522.8" r="5.00"/><circle cx="158.3" cy="521.3" r="5.00"/><circle cx="158.3" cy="519.8" r="5.00"/><circle cx="158.3" cy="518.3" r="5.00"/><circle cx="158.3" cy="516.8" r="5.00"/><circle cx="158.3" cy="515.3" r="5.00"/><circle cx="158.3" cy="513.8" r="5.00"/><circle cx="158.3" cy="512.3" r="5.00"/><circle cx="158.3" cy="510.8" r="5.00"/><circle cx="158.3" cy="509.3" r="5.00"/><circle cx="158.3" cy="507.8" r="5.00"/><circle cx="158.3" cy="506.3" r="5.00"/><circle cx="158.3" cy="504.8" r="5.00"/><circle cx="158.3" cy="503.3" r="5.00"/><circle cx="158.3" cy="501.8" r="5.00"/><circle cx="158.3" cy="500.3" r="5.00"/><circle cx="158.3" cy="498.8" r="5.00"/><circle cx="158.3" cy="497.3" r="5.00"/><circle cx="158.3" cy="495.8" r="5.00"/><circle cx="158.3" cy="494.3" r="5.00"/><circle cx="158.3" cy="492.8" r="5.00"/><circle cx="158.3" cy="491.3" r="5.00"/><circle cx="158.3" cy="489.8" r="5.00"/><circle cx="158.3" cy="488.2" r="5.00"/><circle cx="158.3" cy="486.7" r="5.00"/><circle cx="158.3" cy="485.2" r="5.00"/><circle cx="158.3" cy="483.7" r="5.00"/><circle cx="158.3" cy="482.2" r="5.00"/><circle cx="158.3" cy="480.7" r="5.00"/><circle cx="158.3" cy="479.2" r="5.00"/><circle cx="158.3" cy="477.7" r="5.00"/><circle cx="158.3" cy="476.2" r="5.00"/><circle cx="158.3" cy="474.7" r="5.00"/><circle cx="158.3" cy="473.2" r="5.00"/><circle cx="158.3" cy="471.7" r="5.00"/><circle cx="158.3" cy="470.2" r="5.00"/><circle cx="158.3" cy="468.7" r="5.00"/><circle cx="158.3" cy="467.2" r="5.00"/><circle cx="158.3" cy="465.7" r="5.00"/><circle cx="158.3" cy="464.2" r="5.00"/><circle cx="158.3" cy="462.7" r="5.00"/><circle cx="158.3" cy="461.2" r="5.00"/><circle cx="158.3" cy="459.7" r="5.00"/><circle cx="158.3" cy="458.2" r="5.00"/><circle cx="158.3" cy="456.7" r="5.00"/><circle cx="158.3" cy="455.2" r="5.00"/><circle cx="158.3" cy="453.7" r="5.00"/><circle cx="158.3" cy="452.1" r="5.00"/><circle cx="158.3" cy="450.6" r="5.00"/><circle cx="158.3" cy="449.1" r="5.00"/><circle cx="158.3" cy="447.6" r="5.00"/><circle cx="158.3" cy="446.1" r="5.00"/><circle cx="158.3" cy="444.6" r="5.00"/><circle cx="158.3" cy="443.1" r="5.00"/><circle cx="158.3" cy="441.6" r="5.00"/><circle cx="158.3" cy="440.1" r="5.00"/><circle cx="158.3" cy="438.6" r="5.00"/><circle cx="158.3" cy="437.1" r="5.00"/><circle cx="158.3" cy="435.6" r="5.00"/><circle cx="158.3" cy="434.1" r="5.00"/><circle cx="158.3" cy="432.6" r="5.00"/><circle cx="158.3" cy="431.1" r="5.00"/><circle cx="158.3" cy="429.6" r="5.00"/><circle cx="158.3" cy="428.1" r="5.00"/><circle cx="158.3" cy="426.6" r="5.00"/><circle cx="158.3" cy="425.1" r="5.00"/><circle cx="158.3" cy="423.6" r="5.00"/><circle cx="158.3" cy="422.1" r="5.00"/><circle cx="158.3" cy="420.6" r="5.00"/><circle cx="158.3" cy="419.1" r="5.00"/><circle cx="158.3" cy="417.5" r="5.00"/><circle cx="158.3" cy="416.0" r="5.00"/><circle cx="158.3" cy="414.5" r="5.00"/><circle cx="158.3" cy="413.0" r="5.00"/><circle cx="158.3" cy="411.5" r="5.00"/><circle cx="158.3" cy="410.0" r="5.00"/><circle cx="158.3" cy="408.5" r="5.00"/><circle cx="158.3" cy="407.0" r="5.00"/><circle cx="158.3" cy="405.5" r="5.00"/><circle cx="158.3" cy="404.0" r="5.00"/><circle cx="158.3" cy="402.5" r="5.00"/><circle cx="158.3" cy="401.0" r="5.00"/><circle cx="158.3" cy="399.4" r="5.00"/><circle cx="158.6" cy="397.8" r="5.00"/><circle cx="159.2" cy="396.0" r="5.00"/><circle cx="160.2" cy="394.4" r="5.00"/><circle cx="161.8" cy="392.7" r="5.00"/><circle cx="164.0" cy="391.1" r="5.00"/><circle cx="167.1" cy="389.5" r="4.93"/><circle cx="170.7" cy="387.9" r="4.72"/><circle cx="174.8" cy="386.2" r="4.62"/><circle cx="179.0" cy="384.7" r="4.53"/><circle cx="183.7" cy="383.2" r="4.32"/><circle cx="188.9" cy="381.7" r="4.02"/><circle cx="195.1" cy="380.0" r="3.72"/><circle cx="201.9" cy="378.5" r="3.30" fill="#d4d4d4" stroke="#7c7c7c" stroke-width="1.4"/><circle cx="210.3" cy="377.0" r="3.20" fill="#d4d4d4" stroke="#7c7c7c" stroke-width="1.4"/><circle cx="219.7" cy="375.5" r="3.20" fill="#d4d4d4" stroke="#7c7c7c" stroke-width="1.4"/><circle cx="229.2" cy="374.2" r="3.20" fill="#d4d4d4" stroke="#7c7c7c" stroke-width="1.4"/><circle cx="238.8" cy="373.1" r="3.20" fill="#d4d4d4" stroke="#7c7c7c" stroke-width="1.4"/><circle cx="248.3" cy="372.0" r="3.20" fill="#d4d4d4" stroke="#7c7c7c" stroke-width="1.4"/><circle cx="257.9" cy="370.9" r="3.20" fill="#d4d4d4" stroke="#7c7c7c" stroke-width="1.4"/><circle cx="267.4" cy="369.8" r="3.20" fill="#d4d4d4" stroke="#7c7c7c" stroke-width="1.4"/><circle cx="276.9" cy="368.7" r="3.20" fill="#d4d4d4" stroke="#7c7c7c" stroke-width="1.4"/><circle cx="286.3" cy="367.6" r="3.20" fill="#d4d4d4" stroke="#7c7c7c" stroke-width="1.4"/><circle cx="295.8" cy="366.4" r="3.20" fill="#d4d4d4" stroke="#7c7c7c" stroke-width="1.4"/><circle cx="305.2" cy="365.2" r="3.20" fill="#d4d4d4" stroke="#7c7c7c" stroke-width="1.4"/><circle cx="314.6" cy="364.0" r="3.20" fill="#d4d4d4" stroke="#7c7c7c" stroke-width="1.4"/><circle cx="324.0" cy="362.8" r="3.20" fill="#d4d4d4" stroke="#7c7c7c" stroke-width="1.4"/><circle cx="333.9" cy="361.5" r="3.20" fill="#d4d4d4" stroke="#7c7c7c" stroke-width="1.4"/><circle cx="343.8" cy="360.2" r="3.20" fill="#d4d4d4" stroke="#7c7c7c" stroke-width="1.4"/><circle cx="353.7" cy="358.9" r="3.20" fill="#d4d4d4" stroke="#7c7c7c" stroke-width="1.4"/><circle cx="363.6" cy="357.6" r="3.20" fill="#d4d4d4" stroke="#7c7c7c" stroke-width="1.4"/><circle cx="373.5" cy="356.4" r="3.20" fill="#d4d4d4" stroke="#7c7c7c" stroke-width="1.4"/><circle cx="382.9" cy="355.1" r="3.20" fill="#d4d4d4" stroke="#7c7c7c" stroke-width="1.4"/><circle cx="392.3" cy="353.9" r="3.20" fill="#d4d4d4" stroke="#7c7c7c" stroke-width="1.4"/><circle cx="401.7" cy="352.8" r="3.20" fill="#d4d4d4" stroke="#7c7c7c" stroke-width="1.4"/><circle cx="411.1" cy="351.6" r="3.20" fill="#d4d4d4" stroke="#7c7c7c" stroke-width="1.4"/><circle cx="420.6" cy="350.4" r="3.20" fill="#d4d4d4" stroke="#7c7c7c" stroke-width="1.4"/><circle cx="430.0" cy="349.2" r="3.20" fill="#d4d4d4" stroke="#7c7c7c" stroke-width="1.4"/><circle cx="439.5" cy="348.0" r="3.20" fill="#d4d4d4" stroke="#7c7c7c" stroke-width="1.4"/><circle cx="448.9" cy="346.8" r="3.20" fill="#d4d4d4" stroke="#7c7c7c" stroke-width="1.4"/><circle cx="458.4" cy="345.5" r="3.20" fill="#d4d4d4" stroke="#7c7c7c" stroke-width="1.4"/><circle cx="467.8" cy="344.1" r="3.20" fill="#d4d4d4" stroke="#7c7c7c" stroke-width="1.4"/><circle cx="477.2" cy="342.7" r="3.20" fill="#d4d4d4" stroke="#7c7c7c" stroke-width="1.4"/><circle cx="486.6" cy="341.2" r="3.20" fill="#d4d4d4" stroke="#7c7c7c" stroke-width="1.4"/><circle cx="496.0" cy="339.6" r="3.20" fill="#d4d4d4" stroke="#7c7c7c" stroke-width="1.4"/><circle cx="504.4" cy="338.1" r="3.20" fill="#d4d4d4" stroke="#7c7c7c" stroke-width="1.4"/><circle cx="512.3" cy="336.6" r="3.20" fill="#d4d4d4" stroke="#7c7c7c" stroke-width="1.4"/><circle cx="520.1" cy="335.0" r="3.30" fill="#d4d4d4" stroke="#7c7c7c" stroke-width="1.4"/><circle cx="527.4" cy="333.5" r="3.50" fill="#d4d4d4" stroke="#7c7c7c" stroke-width="1.4"/><circle cx="534.2" cy="331.9" r="3.70"/><circle cx="540.6" cy="330.4" r="3.80"/><circle cx="546.9" cy="328.8" r="3.90"/><circle cx="552.6" cy="327.3" r="4.00"/><circle cx="558.4" cy="325.7" r="4.10"/><circle cx="563.7" cy="324.2" r="4.20"/><circle cx="568.9" cy="322.6" r="4.20"/><circle cx="574.2" cy="320.9" r="4.30"/><circle cx="579.0" cy="319.4" r="4.40"/><circle cx="583.7" cy="317.9" r="4.40"/><circle cx="588.4" cy="316.3" r="4.40"/><circle cx="593.2" cy="314.6" r="4.50"/><circle cx="597.4" cy="313.1" r="4.60"/><circle cx="601.6" cy="311.6" r="4.60"/><circle cx="605.9" cy="310.0" r="4.60"/><circle cx="610.1" cy="308.4" r="4.60"/><circle cx="614.3" cy="306.8" r="4.60"/><circle cx="618.5" cy="305.2" r="4.60"/><circle cx="622.7" cy="303.6" r="4.60"/><circle cx="626.9" cy="301.9" r="4.70"/><circle cx="630.6" cy="300.4" r="4.80"/><circle cx="634.3" cy="298.9" r="4.79"/><circle cx="638.0" cy="297.4" r="4.79"/><circle cx="641.7" cy="295.8" r="4.79"/><circle cx="645.4" cy="294.3" r="4.79"/><circle cx="649.1" cy="292.7" r="4.79"/><circle cx="652.8" cy="291.1" r="4.79"/><circle cx="656.5" cy="289.5" r="4.79"/><circle cx="660.2" cy="287.9" r="4.79"/><circle cx="663.9" cy="286.3" r="4.79"/><circle cx="667.6" cy="284.7" r="4.79"/><circle cx="671.2" cy="283.1" r="4.79"/><circle cx="674.9" cy="281.4" r="4.79"/><circle cx="678.6" cy="279.8" r="4.79"/><circle cx="682.2" cy="278.2" r="4.79"/><circle cx="685.9" cy="276.5" r="4.79"/><circle cx="689.6" cy="274.9" r="4.79"/><circle cx="693.2" cy="273.2" r="4.79"/><circle cx="696.9" cy="271.6" r="4.80"/><circle cx="700.5" cy="269.9" r="4.80"/><circle cx="704.2" cy="268.3" r="4.80"/><circle cx="707.8" cy="266.6" r="4.80"/><circle cx="711.5" cy="264.9" r="4.80"/><circle cx="715.1" cy="263.3" r="4.80"/><circle cx="718.8" cy="261.6" r="4.80"/><circle cx="722.4" cy="259.9" r="4.80"/><circle cx="726.0" cy="258.3" r="4.80"/><circle cx="729.7" cy="256.6" r="4.80"/><circle cx="733.3" cy="254.9" r="4.80"/><circle cx="736.9" cy="253.3" r="4.80"/><circle cx="740.6" cy="251.6" r="4.80"/><circle cx="744.2" cy="249.9" r="4.80"/><circle cx="747.8" cy="248.2" r="4.80"/><circle cx="751.4" cy="246.5" r="4.80"/><circle cx="755.0" cy="244.8" r="4.80"/><circle cx="758.7" cy="243.1" r="4.90"/><circle cx="761.8" cy="241.6" r="5.00"/><circle cx="765.0" cy="240.1" r="5.00"/><circle cx="768.1" cy="238.6" r="5.00"/><circle cx="771.3" cy="237.0" r="5.00"/><circle cx="774.4" cy="235.5" r="5.00"/><circle cx="777.5" cy="234.0" r="5.00"/><circle cx="780.7" cy="232.5" r="5.00"/><circle cx="783.8" cy="230.9" r="5.00"/><circle cx="787.0" cy="229.4" r="5.00"/><circle cx="790.1" cy="227.8" r="5.00"/><circle cx="793.2" cy="226.3" r="5.00"/><circle cx="796.3" cy="224.7" r="5.00"/><circle cx="799.5" cy="223.1" r="5.00"/><circle cx="802.6" cy="221.5" r="5.00"/><circle cx="805.7" cy="220.0" r="5.00"/><circle cx="808.8" cy="218.4" r="5.00"/><circle cx="811.9" cy="216.7" r="5.00"/><circle cx="815.0" cy="215.1" r="5.00"/><circle cx="818.1" cy="213.5" r="5.00"/><circle cx="821.2" cy="211.9" r="5.00"/><circle cx="824.3" cy="210.2" r="5.00"/><circle cx="827.4" cy="208.6" r="5.00"/><circle cx="830.5" cy="206.9" r="5.00"/><circle cx="833.6" cy="205.3" r="5.00"/><circle cx="836.6" cy="203.6" r="5.00"/><circle cx="839.7" cy="201.9" r="5.00"/><circle cx="842.8" cy="200.2" r="5.00"/><circle cx="845.8" cy="198.5" r="5.00"/><circle cx="848.9" cy="196.8" r="5.00"/><circle cx="851.9" cy="195.0" r="4.99"/><circle cx="855.0" cy="193.3" r="5.00"/><circle cx="857.6" cy="191.8" r="5.00"/><circle cx="860.2" cy="190.3" r="5.00"/><circle cx="862.8" cy="188.7" r="5.00"/><circle cx="865.4" cy="187.2" r="5.00"/><circle cx="868.0" cy="185.7" r="5.00"/><circle cx="870.6" cy="184.1" r="5.00"/><circle cx="873.2" cy="182.6" r="5.00"/><circle cx="875.8" cy="181.0" r="5.00"/><circle cx="878.3" cy="179.5" r="5.00"/><circle cx="880.9" cy="177.9" r="5.00"/><circle cx="883.5" cy="176.3" r="5.00"/><circle cx="886.0" cy="174.7" r="5.00"/><circle cx="888.6" cy="173.1" r="5.00"/><circle cx="891.1" cy="171.5" r="5.00"/><circle cx="893.7" cy="169.9" r="5.00"/><circle cx="896.2" cy="168.3" r="5.00"/><circle cx="898.7" cy="166.6" r="5.00"/><circle cx="901.2" cy="165.0" r="5.00"/><circle cx="903.7" cy="163.4" r="5.00"/><circle cx="906.2" cy="161.7" r="5.00"/><circle cx="908.7" cy="160.0" r="5.00"/><circle cx="911.2" cy="158.4" r="5.00"/><circle cx="913.7" cy="156.7" r="5.00"/><circle cx="916.2" cy="155.0" r="5.00"/><circle cx="918.6" cy="153.3" r="5.00"/><circle cx="921.1" cy="151.6" r="5.00"/><circle cx="923.5" cy="149.9" r="5.00"/><circle cx="925.9" cy="148.2" r="5.00"/><circle cx="927.8" cy="146.7" r="5.00"/><circle cx="929.8" cy="145.1" r="5.00"/><circle cx="931.6" cy="143.5" r="5.00"/><circle cx="933.4" cy="141.8" r="5.00"/><circle cx="935.2" cy="140.0" r="5.00"/><circle cx="936.9" cy="138.2" r="5.00"/><circle cx="938.1" cy="136.6" r="5.00"/><circle cx="939.4" cy="135.0" r="5.00"/><circle cx="940.6" cy="133.4" r="5.00"/><circle cx="941.7" cy="131.8" r="5.00"/><circle cx="942.9" cy="130.1" r="5.00"/><circle cx="943.9" cy="128.3" r="5.00"/><circle cx="945.0" cy="126.6" r="5.00"/><circle cx="946.0" cy="124.9" r="5.00"/></g>
<path d="M946.5 124.0 L946.5 124.5 L946.6 125.1 L946.6 125.6 L946.6 126.1 L946.6 126.7 L946.6 127.2 L946.6 127.7 L946.6 128.2 L946.6 128.7 L946.6 129.3 L946.5 129.8 L946.5 130.3 L946.4 130.8 L946.4 131.3 L946.3 131.8 L946.2 132.2 L946.1 132.7 L946.0 133.2 L945.9 133.7 L945.8 134.2 L945.7 134.6 L945.6 135.1 L945.5 135.6 L945.3 136.0 L945.2 136.5 L945.0 137.0 L944.9 137.4 L944.7 137.9 L944.5 138.3 L944.4 138.8 L944.2 139.2 L944.0 139.6 L943.8 140.1 L943.6 140.5 L943.4 140.9 L943.2 141.4 L943.0 141.8 L942.7 142.2 L942.5 142.6 L942.3 143.1 L942.0 143.5 L941.8 143.9 L941.5 144.3 L941.3 144.7 L941.0 145.1 L940.8 145.5 L940.5 145.9 L940.2 146.3 L940.0 146.7 L939.7 147.1 L939.4 147.5 L939.1 147.9 L938.8 148.2 L938.5 148.6 L938.2 149.0 L937.9 149.4 L937.6 149.8 L937.3 150.1 L937.0 150.5 L936.7 150.9 L936.3 151.2 L936.0 151.6 L935.7 152.0 L935.4 152.3 L935.0 152.7 L934.7 153.0 L934.4 153.4 L934.0 153.7 L933.7 154.1 L933.3 154.4 L933.0 154.8 L932.7 155.1 L932.3 155.5 L931.9 155.8 L931.6 156.1 L931.2 156.5 L930.9 156.8 L930.5 157.1 L930.1 157.5 L929.8 157.8 L929.4 158.1 L929.0 158.4 L928.7 158.8 L928.3 159.1 L927.9 159.4 L927.5 159.7 L927.1 160.0 L926.8 160.3 L926.4 160.7 L926.0 161.0 L925.6 161.3 L925.2 161.6 L924.8 161.9 L924.4 162.2 L924.0 162.5 L923.6 162.8 L923.2 163.1 L922.8 163.4 L922.4 163.7 L922.0 164.0 L921.6 164.3 L921.2 164.6 L920.8 164.9 L920.4 165.2 L920.0 165.5 L919.5 165.8 L919.1 166.1 L918.7 166.4 L918.3 166.6 L917.9 166.9 L917.5 167.2 L917.0 167.5 L916.6 167.8 L916.2 168.1 L915.8 168.4 L915.3 168.6 L914.9 168.9 L914.5 169.2 L914.1 169.5 L913.6 169.8 L913.2 170.0 L912.8 170.3 L912.3 170.6 L911.9 170.9 L911.5 171.1 L911.0 171.4 L910.6 171.7 L910.2 172.0 L909.7 172.2 L909.3 172.5 L908.9 172.8 L908.4 173.0 L908.0 173.3 L907.6 173.6 L907.1 173.8 L906.7 174.1 L906.2 174.4 L905.8 174.7 L905.4 174.9 L904.9 175.2 L904.5 175.5 L904.1 175.7 L903.6 176.0 L903.2 176.3 L902.7 176.5 L902.3 176.8 L901.9 177.1 L901.4 177.3 L901.0 177.6 L900.5 177.9 L900.1 178.1 L899.7 178.4 L899.2 178.7 L898.8 178.9 L898.3 179.2 L897.9 179.5 L897.5 179.7 L897.0 180.0 L896.6 180.3 L896.2 180.5 L895.7 180.8 L895.3 181.1 L894.9 181.3 L894.4 181.6 L894.0 181.9 L893.6 182.1 L893.1 182.4 L892.7 182.7 L892.2 182.9 L891.8 183.2 L891.4 183.5 L890.9 183.7 L890.5 184.0 L890.1 184.3 L889.6 184.5 L889.2 184.8 L888.8 185.1 L888.3 185.3 L887.9 185.6 L887.5 185.9 L887.1 186.1 L886.6 186.4 L886.2 186.7 L885.8 186.9 L885.3 187.2 L884.9 187.5 L884.5 187.7 L884.0 188.0 L883.6 188.3 L883.2 188.5 L882.7 188.8 L882.3 189.1 L881.9 189.3 L881.5 189.6 L881.0 189.9 L880.6 190.1 L880.2 190.4 L879.7 190.7 L879.3 190.9 L878.9 191.2 L878.4 191.5 L878.0 191.7 L877.6 192.0 L877.2 192.3 L876.7 192.5 L876.3 192.8 L875.9 193.1 L875.5 193.3 L875.0 193.6 L874.6 193.9 L874.2 194.1 L873.7 194.4 L873.3 194.7 L872.9 194.9 L872.5 195.2 L872.0 195.5 L871.6 195.7 L871.2 196.0 L870.8 196.3 L870.3 196.5 L869.9 196.8 L869.5 197.1 L869.1 197.3 L868.6 197.6 L868.2 197.8 L867.8 198.1 L867.3 198.4 L866.9 198.6 L866.5 198.9 L866.1 199.2 L865.6 199.4 L865.2 199.7 L864.8 200.0 L864.4 200.2 L863.9 200.5 L863.5 200.8 L863.1 201.0 L862.7 201.3 L862.3 201.6 L861.8 201.8 L861.4 202.1 L861.0 202.4 L860.6 202.6 L860.1 202.9 L859.7 203.1 L859.3 203.4 L858.9 203.7 L858.4 203.9 L858.0 204.2 L857.6 204.5 L857.2 204.7 L856.7 205.0 L856.3 205.3 L855.9 205.5 L855.5 205.8 L855.0 206.0 L854.6 206.3 L854.2 206.6 L853.8 206.8 L853.4 207.1 L852.9 207.4 L852.5 207.6 L852.1 207.9 L851.7 208.1 L851.2 208.4 L850.8 208.7 L850.4 208.9 L850.0 209.2 L849.5 209.4 L849.1 209.7 L848.7 210.0 L848.3 210.2 L847.9 210.5 L847.4 210.8 L847.0 211.0 L846.6 211.3 L846.2 211.5 L845.7 211.8 L845.3 212.1 L844.9 212.3 L844.5 212.6 L844.0 212.8 L843.6 213.1 L843.2 213.4 L842.8 213.6 L842.4 213.9 L841.9 214.1 L841.5 214.4 L841.1 214.7 L840.7 214.9 L840.2 215.2 L839.8 215.4 L839.4 215.7 L839.0 215.9 L838.5 216.2 L838.1 216.5 L837.7 216.7 L837.3 217.0 L836.8 217.2 L836.4 217.5 L836.0 217.7 L835.6 218.0 L835.2 218.3 L834.7 218.5 L834.3 218.8 L833.9 219.0 L833.5 219.3 L833.0 219.5 L832.6 219.8 L832.2 220.0 L831.8 220.3 L831.3 220.6 L830.9 220.8 L830.5 221.1 L830.1 221.3 L829.6 221.6 L829.2 221.8 L828.8 222.1 L828.4 222.3 L827.9 222.6 L827.5 222.8 L827.1 223.1 L826.7 223.3 L826.2 223.6 L825.8 223.9 L825.4 224.1 L825.0 224.4 L824.5 224.6 L824.1 224.9 L823.7 225.1 L823.2 225.4 L822.8 225.6 L822.4 225.9 L822.0 226.1 L821.5 226.4 L821.1 226.6 L820.7 226.9 L820.3 227.1 L819.8 227.4 L819.4 227.6 L819.0 227.9 L818.6 228.1 L818.1 228.4 L817.7 228.6 L817.3 228.9 L816.8 229.1 L816.4 229.4 L816.0 229.6 L815.6 229.8 L815.1 230.1 L814.7 230.3 L814.3 230.6 L813.8 230.8 L813.4 231.1 L813.0 231.3 L812.5 231.6 L812.1 231.8 L811.7 232.1 L811.3 232.3 L810.8 232.6 L810.4 232.8 L810.0 233.0 L809.5 233.3 L809.1 233.5 L808.7 233.8 L808.2 234.0 L807.8 234.3 L807.4 234.5 L806.9 234.7 L806.5 235.0 L806.1 235.2 L805.6 235.5 L805.2 235.7 L804.8 236.0 L804.3 236.2 L803.9 236.4 L803.5 236.7 L803.0 236.9 L802.6 237.2 L802.2 237.4 L801.7 237.6 L801.3 237.9 L800.9 238.1 L800.4 238.3 L800.0 238.6 L799.6 238.8 L799.1 239.1 L798.7 239.3 L798.3 239.5 L797.8 239.8 L797.4 240.0 L796.9 240.2 L796.5 240.5 L796.1 240.7 L795.6 241.0 L795.2 241.2 L794.8 241.4 L794.3 241.7 L793.9 241.9 L793.4 242.1 L793.0 242.4 L792.6 242.6 L792.1 242.8 L791.7 243.1 L791.2 243.3 L790.8 243.5 L790.4 243.8 L789.9 244.0 L789.5 244.2 L789.0 244.4 L788.6 244.7 L788.2 244.9 L787.7 245.1 L787.3 245.4 L786.8 245.6 L786.4 245.8 L786.0 246.1 L785.5 246.3 L785.1 246.5 L784.6 246.8 L784.2 247.0 L783.7 247.2 L783.3 247.4 L782.9 247.7 L782.4 247.9 L782.0 248.1 L781.5 248.4 L781.1 248.6 L780.6 248.8 L780.2 249.0 L779.8 249.3 L779.3 249.5 L778.9 249.7 L778.4 249.9 L778.0 250.2 L777.5 250.4 L777.1 250.6 L776.6 250.8 L776.2 251.1 L775.7 251.3 L775.3 251.5 L774.9 251.7 L774.4 252.0 L774.0 252.2 L773.5 252.4 L773.1 252.6 L772.6 252.9 L772.2 253.1 L771.7 253.3 L771.3 253.5 L770.8 253.8 L770.4 254.0 L769.9 254.2 L769.5 254.4 L769.0 254.7 L768.6 254.9 L768.1 255.1 L767.7 255.3 L767.3 255.6 L766.8 255.8 L766.4 256.0 L765.9 256.2 L765.5 256.4 L765.0 256.7 L764.6 256.9 L764.1 257.1 L763.7 257.3 L763.2 257.5 L762.8 257.8 L762.3 258.0 L761.9 258.2 L761.4 258.4 L761.0 258.7 L760.5 258.9 L760.1 259.1 L759.6 259.3 L759.2 259.5 L758.7 259.8 L758.3 260.0 L757.8 260.2 L757.4 260.4 L756.9 260.6 L756.5 260.9 L756.0 261.1 L755.6 261.3 L755.1 261.5 L754.7 261.7 L754.2 261.9 L753.8 262.2 L753.3 262.4 L752.9 262.6 L752.4 262.8 L752.0 263.0 L751.5 263.3 L751.0 263.5 L750.6 263.7 L750.1 263.9 L749.7 264.1 L749.2 264.4 L748.8 264.6 L748.3 264.8 L747.9 265.0 L747.4 265.2 L747.0 265.4 L746.5 265.7 L746.1 265.9 L745.6 266.1 L745.2 266.3 L744.7 266.5 L744.3 266.8 L743.8 267.0 L743.4 267.2 L742.9 267.4 L742.5 267.6 L742.0 267.8 L741.6 268.1 L741.1 268.3 L740.6 268.5 L740.2 268.7 L739.7 268.9 L739.3 269.2 L738.8 269.4 L738.4 269.6 L737.9 269.8 L737.5 270.0 L737.0 270.2 L736.6 270.5 L736.1 270.7 L735.7 270.9 L735.2 271.1 L734.8 271.3 L734.3 271.5 L733.8 271.8 L733.4 272.0 L732.9 272.2 L732.5 272.4 L732.0 272.6 L731.6 272.8 L731.1 273.1 L730.7 273.3 L730.2 273.5 L729.8 273.7 L729.3 273.9 L728.9 274.2 L728.4 274.4 L728.0 274.6 L727.5 274.8 L727.1 275.0 L726.6 275.2 L726.1 275.5 L725.7 275.7 L725.2 275.9 L724.8 276.1 L724.3 276.3 L723.9 276.6 L723.4 276.8 L723.0 277.0 L722.5 277.2 L722.1 277.4 L721.6 277.6 L721.2 277.9 L720.7 278.1 L720.3 278.3 L719.8 278.5 L719.3 278.7 L718.9 279.0 L718.4 279.2 L718.0 279.4 L717.5 279.6 L717.1 279.8 L716.6 280.0 L716.2 280.3 L715.7 280.5 L715.3 280.7 L714.8 280.9 L714.4 281.1 L713.9 281.4 L713.5 281.6 L713.0 281.8 L712.6 282.0 L712.1 282.2 L711.7 282.5 L711.2 282.7 L710.8 282.9 L710.3 283.1 L709.8 283.3 L709.4 283.6 L708.9 283.8 L708.5 284.0 L708.0 284.2 L707.6 284.5 L707.1 284.7 L706.7 284.9 L706.2 285.1 L705.8 285.3 L705.3 285.6 L704.9 285.8 L704.4 286.0 L704.0 286.2 L703.5 286.4 L703.1 286.7 L702.6 286.9 L702.2 287.1 L701.7 287.3 L701.3 287.6 L700.8 287.8 L700.4 288.0 L699.9 288.2 L699.5 288.5 L699.0 288.7 L698.6 288.9 L698.1 289.1 L697.7 289.3 L697.2 289.6 L696.8 289.8 L696.3 290.0 L695.9 290.2 L695.4 290.5 L695.0 290.7 L694.5 290.9 L694.1 291.1 L693.6 291.4 L693.2 291.6 L692.7 291.8 L692.3 292.0 L691.8 292.3 L691.4 292.5 L690.9 292.7 L690.5 293.0 L690.0 293.2 L689.6 293.4 L689.1 293.6 L688.7 293.9 L688.3 294.1 L687.8 294.3 L687.4 294.5 L686.9 294.8 L686.5 295.0 L686.0 295.2 L685.6 295.4 L685.1 295.7 L684.7 295.9 L684.2 296.1 L683.8 296.3 L683.3 296.6 L682.9 296.8 L682.4 297.0 L682.0 297.3 L681.5 297.5 L681.1 297.7 L680.6 297.9 L680.2 298.2 L679.7 298.4 L679.3 298.6 L678.9 298.8 L678.4 299.1 L678.0 299.3 L677.5 299.5 L677.1 299.8 L676.6 300.0 L676.2 300.2 L675.7 300.4 L675.3 300.7 L674.8 300.9 L674.4 301.1 L673.9 301.3 L673.5 301.6 L673.0 301.8 L672.6 302.0 L672.1 302.3 L671.7 302.5 L671.3 302.7 L670.8 302.9 L670.4 303.2 L669.9 303.4 L669.5 303.6 L669.0 303.8 L668.6 304.1 L668.1 304.3 L667.7 304.5 L667.2 304.7 L666.8 305.0 L666.3 305.2 L665.9 305.4 L665.4 305.7 L665.0 305.9 L664.6 306.1 L664.1 306.3 L663.7 306.6 L663.2 306.8 L662.8 307.0 L662.3 307.2 L661.9 307.5 L661.4 307.7 L661.0 307.9 L660.5 308.1 L660.1 308.4 L659.6 308.6 L659.2 308.8 L658.7 309.0 L658.3 309.3 L657.8 309.5 L657.4 309.7 L657.0 309.9 L656.5 310.2 L656.1 310.4 L655.6 310.6 L655.2 310.8 L654.7 311.0 L654.3 311.3 L653.8 311.5 L653.4 311.7 L652.9 311.9 L652.5 312.2 L652.0 312.4 L651.6 312.6 L651.1 312.8 L650.7 313.0 L650.2 313.3 L649.8 313.5 L649.3 313.7 L648.9 313.9 L648.4 314.2 L648.0 314.4 L647.5 314.6 L647.1 314.8 L646.6 315.0 L646.2 315.3 L645.7 315.5 L645.3 315.7 L644.9 315.9 L644.4 316.1 L644.0 316.4 L643.5 316.6 L643.1 316.8 L642.6 317.0 L642.2 317.2 L641.7 317.4 L641.3 317.7 L640.8 317.9 L640.4 318.1 L639.9 318.3 L639.5 318.5 L639.0 318.7 L638.6 319.0 L638.1 319.2 L637.7 319.4 L637.2 319.6 L636.8 319.8 L636.3 320.0 L635.9 320.2 L635.4 320.5 L635.0 320.7 L634.5 320.9 L634.0 321.1 L633.6 321.3 L633.1 321.5 L632.7 321.7 L632.2 321.9 L631.8 322.2 L631.3 322.4 L630.9 322.6 L630.4 322.8 L630.0 323.0 L629.5 323.2 L629.1 323.4 L628.6 323.6 L628.2 323.8 L627.7 324.0 L627.3 324.3 L626.8 324.5 L626.4 324.7 L625.9 324.9 L625.5 325.1 L625.0 325.3 L624.5 325.5 L624.1 325.7 L623.6 325.9 L623.2 326.1 L622.7 326.3 L622.3 326.5 L621.8 326.7 L621.4 326.9 L620.9 327.1 L620.5 327.3 L620.0 327.5 L619.5 327.7 L619.1 327.9 L618.6 328.1 L618.2 328.3 L617.7 328.5 L617.3 328.7 L616.8 328.9 L616.4 329.1 L615.9 329.3 L615.4 329.5 L615.0 329.7 L614.5 329.9 L614.1 330.1 L613.6 330.3 L613.2 330.5 L612.7 330.7 L612.2 330.9 L611.8 331.1 L611.3 331.3 L610.9 331.5 L610.4 331.7 L609.9 331.9 L609.5 332.1 L609.0 332.3 L608.6 332.5 L608.1 332.7 L607.6 332.9 L607.2 333.0 L606.7 333.2 L606.3 333.4 L605.8 333.6 L605.3 333.8 L604.9 334.0 L604.4 334.2 L604.0 334.4 L603.5 334.5 L603.0 334.7 L602.6 334.9 L602.1 335.1 L601.6 335.3 L601.2 335.5 L600.7 335.7 L600.3 335.8 L599.8 336.0 L599.3 336.2 L598.9 336.4 L598.4 336.6 L597.9 336.7 L597.5 336.9 L597.0 337.1 L596.5 337.3 L596.1 337.5 L595.6 337.6 L595.2 337.8 L594.7 338.0 L594.2 338.2 L593.8 338.3 L593.3 338.5 L592.8 338.7 L592.4 338.9 L591.9 339.0 L591.4 339.2 L591.0 339.4 L590.5 339.6 L590.0 339.7 L589.5 339.9 L589.1 340.1 L588.6 340.3 L588.1 340.4 L587.7 340.6 L587.2 340.8 L586.7 340.9 L586.3 341.1 L585.8 341.3 L585.3 341.4 L584.9 341.6 L584.4 341.8 L583.9 341.9 L583.5 342.1 L583.0 342.3 L582.5 342.4 L582.0 342.6 L581.6 342.8 L581.1 342.9 L580.6 343.1 L580.2 343.3 L579.7 343.4 L579.2 343.6 L578.7 343.7 L578.3 343.9 L577.8 344.1 L577.3 344.2 L576.9 344.4 L576.4 344.5 L575.9 344.7 L575.4 344.9 L575.0 345.0 L574.5 345.2 L574.0 345.3 L573.5 345.5 L573.1 345.7 L572.6 345.8 L572.1 346.0 L571.6 346.1 L571.2 346.3 L570.7 346.4 L570.2 346.6 L569.7 346.8 L569.3 346.9 L568.8 347.1 L568.3 347.2 L567.8 347.4 L567.4 347.5 L566.9 347.7 L566.4 347.8 L565.9 348.0 L565.5 348.1 L565.0 348.3 L564.5 348.4 L564.0 348.6 L563.6 348.7 L563.1 348.9 L562.6 349.0 L562.1 349.2 L561.7 349.3 L561.2 349.5 L560.7 349.6 L560.2 349.8 L559.8 349.9 L559.3 350.1 L558.8 350.2 L558.3 350.4 L557.8 350.5 L557.4 350.7 L556.9 350.8 L556.4 351.0 L555.9 351.1 L555.5 351.3 L555.0 351.4 L554.5 351.6 L554.0 351.7 L553.5 351.9 L553.1 352.0 L552.6 352.2 L552.1 352.3 L551.6 352.4 L551.1 352.6 L550.7 352.7 L550.2 352.9 L549.7 353.0 L549.2 353.2 L548.7 353.3 L548.3 353.5 L547.8 353.6 L547.3 353.7 L546.8 353.9 L546.3 354.0 L545.9 354.2 L545.4 354.3 L544.9 354.5 L544.4 354.6 L543.9 354.7 L543.5 354.9 L543.0 355.0 L542.5 355.2 L542.0 355.3 L541.5 355.4 L541.1 355.6 L540.6 355.7 L540.1 355.9 L539.6 356.0 L539.1 356.1 L538.7 356.3 L538.2 356.4 L537.7 356.6 L537.2 356.7 L536.7 356.8 L536.3 357.0 L535.8 357.1 L535.3 357.3 L534.8 357.4 L534.3 357.5 L533.8 357.7 L533.4 357.8 L532.9 358.0 L532.4 358.1 L531.9 358.2 L531.4 358.4 L531.0 358.5 L530.5 358.7 L530.0 358.8 L529.5 358.9 L529.0 359.1 L528.5 359.2 L528.1 359.4 L527.6 359.5 L527.1 359.6 L526.6 359.8 L526.1 359.9 L525.6 360.0 L525.2 360.2 L524.7 360.3 L524.2 360.5 L523.7 360.6 L523.2 360.7 L522.8 360.9 L522.3 361.0 L521.8 361.1 L521.3 361.3 L520.8 361.4 L520.3 361.6 L519.9 361.7 L519.4 361.8 L518.9 362.0 L518.4 362.1 L517.9 362.2 L517.4 362.4 L517.0 362.5 L516.5 362.7 L516.0 362.8 L515.5 362.9 L515.0 363.1 L514.6 363.2 L514.1 363.3 L513.6 363.5 L513.1 363.6 L512.6 363.8 L512.1 363.9 L511.7 364.0 L511.2 364.2 L510.7 364.3 L510.2 364.4 L509.7 364.6 L509.2 364.7 L508.8 364.9 L508.3 365.0 L507.8 365.1 L507.3 365.3 L506.8 365.4 L506.3 365.6 L505.9 365.7 L505.4 365.8 L504.9 366.0 L504.4 366.1 L503.9 366.2 L503.5 366.4 L503.0 366.5 L502.5 366.7 L502.0 366.8 L501.5 366.9 L501.0 367.1 L500.6 367.2 L500.1 367.4 L499.6 367.5 L499.1 367.6 L498.6 367.8 L498.1 367.9 L497.7 368.1 L497.2 368.2 L496.7 368.3 L496.2 368.5 L495.7 368.6 L495.3 368.8 L494.8 368.9 L494.3 369.0 L493.8 369.2 L493.3 369.3 L492.9 369.5 L492.4 369.6 L491.9 369.7 L491.4 369.9 L490.9 370.0 L490.4 370.2 L490.0 370.3 L489.5 370.5 L489.0 370.6 L488.5 370.7 L488.0 370.9 L487.6 371.0 L487.1 371.2 L486.6 371.3 L486.1 371.5 L485.6 371.6 L485.2 371.8 L484.7 371.9 L484.2 372.0 L483.7 372.2 L483.2 372.3 L482.8 372.5 L482.3 372.6 L481.8 372.8 L481.3 372.9 L480.8 373.1 L480.4 373.2 L479.9 373.4 L479.4 373.5 L478.9 373.6 L478.4 373.8 L478.0 373.9 L477.5 374.1 L477.0 374.2 L476.5 374.4 L476.0 374.5 L475.6 374.7 L475.1 374.8 L474.6 375.0 L474.1 375.1 L473.6 375.3 L473.2 375.4 L472.7 375.6 L472.2 375.7 L471.7 375.9 L471.3 376.0 L470.8 376.2 L470.3 376.3 L469.8 376.5 L469.3 376.6 L468.9 376.8 L468.4 377.0 L467.9 377.1 L467.4 377.3 L467.0 377.4 L466.5 377.6 L466.0 377.7 L465.5 377.9 L465.1 378.0 L464.6 378.2 L464.1 378.3 L463.6 378.5 L463.2 378.7 L462.7 378.8 L462.2 379.0 L461.7 379.1 L461.2 379.3 L460.8 379.4 L460.3 379.6 L459.8 379.8 L459.3 379.9 L458.9 380.1 L458.4 380.2 L457.9 380.4 L457.4 380.6 L457.0 380.7 L456.5 380.9 L456.0 381.1 L455.6 381.2 L455.1 381.4 L454.6 381.5 L454.1 381.7 L453.7 381.9 L453.2 382.0 L452.7 382.2 L452.2 382.4 L451.8 382.5 L451.3 382.7 L450.8 382.9 L450.4 383.0 L449.9 383.2 L449.4 383.4 L448.9 383.5 L448.5 383.7 L448.0 383.9 L447.5 384.0 L447.1 384.2 L446.6 384.4 L446.1 384.6 L445.6 384.7 L445.2 384.9 L444.7 385.1 L444.2 385.2 L443.8 385.4 L443.3 385.6 L442.8 385.8 L442.4 385.9 L441.9 386.1 L441.4 386.3 L440.9 386.5 L440.5 386.6 L440.0 386.8 L439.5 387.0 L439.1 387.2 L438.6 387.3 L438.1 387.5 L437.7 387.7 L437.2 387.9 L436.7 388.1 L436.3 388.2 L435.8 388.4 L435.3 388.6 L434.9 388.8 L434.4 389.0 L433.9 389.1 L433.5 389.3 L433.0 389.5 L432.5 389.7 L432.1 389.9 L431.6 390.1 L431.1 390.2 L430.7 390.4 L430.2 390.6 L429.7 390.8 L429.3 391.0 L428.8 391.2 L428.3 391.3 L427.9 391.5 L427.4 391.7 L427.0 391.9 L426.5 392.1 L426.0 392.3 L425.6 392.5 L425.1 392.7 L424.6 392.8 L424.2 393.0 L423.7 393.2 L423.3 393.4 L422.8 393.6 L422.3 393.8 L421.9 394.0 L421.4 394.2 L420.9 394.4 L420.5 394.6 L420.0 394.8 L419.6 395.0 L419.1 395.1 L418.6 395.3 L418.2 395.5 L417.7 395.7 L417.3 395.9 L416.8 396.1 L416.3 396.3 L415.9 396.5 L415.4 396.7 L415.0 396.9 L414.5 397.1 L414.0 397.3 L413.6 397.5 L413.1 397.7 L412.7 397.9 L412.2 398.1 L411.8 398.3 L411.3 398.5 L410.8 398.7 L410.4 398.9 L409.9 399.1 L409.5 399.3 L409.0 399.5 L408.6 399.7 L408.1 399.9 L407.6 400.1 L407.2 400.3 L406.7 400.5 L406.3 400.7 L405.8 400.9 L405.4 401.1 L404.9 401.3 L404.5 401.5 L404.0 401.7 L403.5 401.9 L403.1 402.1 L402.6 402.4 L402.2 402.6 L401.7 402.8 L401.3 403.0 L400.8 403.2 L400.4 403.4 L399.9 403.6 L399.5 403.8 L399.0 404.0 L398.6 404.2 L398.1 404.4 L397.7 404.6 L397.2 404.9 L396.8 405.1 L396.3 405.3 L395.8 405.5 L395.4 405.7 L394.9 405.9 L394.5 406.1 L394.0 406.3 L393.6 406.5 L393.1 406.8 L392.7 407.0 L392.2 407.2 L391.8 407.4 L391.3 407.6 L390.9 407.8 L390.5 408.0 L390.0 408.3 L389.6 408.5 L389.1 408.7 L388.7 408.9 L388.2 409.1 L387.8 409.3 L387.3 409.6 L386.9 409.8 L386.4 410.0 L386.0 410.2 L385.5 410.4 L385.1 410.7 L384.7 410.9 L384.2 411.1 L383.8 411.4 L383.3 411.6 L382.9 411.8 L382.4 412.0 L382.0 412.3 L381.6 412.5 L381.1 412.7 L380.7 413.0 L380.3 413.2 L379.8 413.5 L379.4 413.7 L379.0 413.9 L378.5 414.2 L378.1 414.4 L377.7 414.7 L377.2 414.9 L376.8 415.2 L376.4 415.4 L375.9 415.7 L375.5 415.9 L375.1 416.2 L374.7 416.5 L374.3 416.7 L373.8 417.0 L373.4 417.3 L373.0 417.5 L372.6 417.8 L372.2 418.1 L371.7 418.4 L371.3 418.6 L370.9 418.9 L370.5 419.2 L370.1 419.5 L369.7 419.8 L369.3 420.1 L368.9 420.4 L368.5 420.6 L368.1 420.9 L367.7 421.2 L367.3 421.5 L366.9 421.9 L366.5 422.2 L366.1 422.5 L365.7 422.8 L365.3 423.1 L364.9 423.4 L364.5 423.7 L364.1 424.0 L363.7 424.4 L363.3 424.7 L362.9 425.0 L362.6 425.3 L362.2 425.7 L361.8 426.0 L361.4 426.3 L361.0 426.7 L360.7 427.0 L360.3 427.3 L359.9 427.7 L359.5 428.0 L359.2 428.4 L358.8 428.7 L358.4 429.1 L358.1 429.4 L357.7 429.8 L357.3 430.1 L357.0 430.5 L356.6 430.8 L356.3 431.2 L355.9 431.5 L355.6 431.9 L355.2 432.3 L354.9 432.6 L354.5 433.0 L354.2 433.4 L353.8 433.7 L353.5 434.1 L353.1 434.5 L352.8 434.8 L352.5 435.2 L352.1 435.6 L351.8 436.0 L351.5 436.4 L351.1 436.7 L350.8 437.1 L350.5 437.5 L350.1 437.9 L349.8 438.3 L349.5 438.7 L349.2 439.1 L348.9 439.5 L348.6 439.9 L348.2 440.2 L347.9 440.6 L347.6 441.0 L347.3 441.4 L347.0 441.8 L346.7 442.2 L346.4 442.6 L346.1 443.0 L345.8 443.4 L345.5 443.9 L345.2 444.3 L344.9 444.7 L344.6 445.1 L344.3 445.5 L344.1 445.9 L343.8 446.3 L343.5 446.7 L343.2 447.1 L342.9 447.6 L342.7 448.0 L342.4 448.4 L342.1 448.8 L341.9 449.2 L341.6 449.6 L341.3 450.1 L341.1 450.5 L340.8 450.9 L340.5 451.3 L340.3 451.8 L340.0 452.2 L339.8 452.6 L339.5 453.0 L339.3 453.5 L339.0 453.9 L338.8 454.3 L338.6 454.8 L338.3 455.2 L338.1 455.6 L337.9 456.1 L337.6 456.5 L337.4 456.9 L337.2 457.4 L336.9 457.8 L336.7 458.3 L336.5 458.7 L336.3 459.1 L336.0 459.6 L335.8 460.0 L335.6 460.5 L335.4 460.9 L335.2 461.3 L335.0 461.8 L334.8 462.2 L334.6 462.7 L334.4 463.1 L334.2 463.6 L334.0 464.0 L333.8 464.5 L333.6 464.9 L333.4 465.4 L333.2 465.8 L333.0 466.3 L332.8 466.7 L332.6 467.2 L332.4 467.7 L332.2 468.1 L332.1 468.6 L331.9 469.0 L331.7 469.5 L331.5 469.9 L331.4 470.4 L331.2 470.9 L331.0 471.3 L330.8 471.8 L330.7 472.2 L330.5 472.7 L330.3 473.2 L330.2 473.6 L330.0 474.1 L329.9 474.6 L329.7 475.0 L329.5 475.5 L329.4 476.0 L329.2 476.4 L329.1 476.9 L328.9 477.4 L328.8 477.8 L328.6 478.3 L328.5 478.8 L328.3 479.3 L328.2 479.7 L328.1 480.2 L327.9 480.7 L327.8 481.2 L327.6 481.6 L327.5 482.1 L327.4 482.6 L327.2 483.1 L327.1 483.5 L327.0 484.0 L326.8 484.5 L326.7 485.0 L326.6 485.4 L326.5 485.9 L326.3 486.4 L326.2 486.9 L326.1 487.4 L326.0 487.9 L325.9 488.3 L325.7 488.8 L325.6 489.3 L325.5 489.8 L325.4 490.3 L325.3 490.8 L325.2 491.2 L325.1 491.7 L325.0 492.2 L324.9 492.7 L324.8 493.2 L324.7 493.7 L324.6 494.2 L324.5 494.7 L324.4 495.1 L324.3 495.6 L324.2 496.1 L324.1 496.6 L324.0 497.1 L323.9 497.6 L323.8 498.1 L323.7 498.6 L323.6 499.1 L323.5 499.6 L323.4 500.1 L323.3 500.6 L323.2 501.0 L323.2 501.5 L323.1 502.0 L323.0 502.5 L322.9 503.0 L322.8 503.5 L322.7 504.0 L322.7 504.5 L322.6 505.0 L322.5 505.5 L322.4 506.0 L322.4 506.5 L322.3 507.0 L322.2 507.5 L322.1 508.0 L322.1 508.5 L322.0 509.0 L321.9 509.5 L321.8 510.0 L321.8 510.5 L321.7 511.0 L321.6 511.5 L321.6 512.0 L321.5 512.5 L321.4 513.0 L321.4 513.5 L321.3 514.0 L321.3 514.5 L321.2 515.0 L321.1 515.5 L321.1 516.0 L321.0 516.5 L321.0 517.0 L320.9 517.5 L320.8 518.0 L320.8 518.5 L320.7 519.0 L320.7 519.5 L320.6 520.0 L320.6 520.5 L320.5 521.0 L320.5 521.6 L320.4 522.1 L320.4 522.6 L320.3 523.1 L320.3 523.6 L320.2 524.1 L320.2 524.6 L320.1 525.1 L320.1 525.6 L320.0 526.1 L320.0 526.6 L319.9 527.1 L319.9 527.6 L319.9 528.1 L319.8 528.6 L319.8 529.1 L319.7 529.6 L319.7 530.1 L319.6 530.7 L319.6 531.2 L319.6 531.7 L319.5 532.2 L319.5 532.7 L319.4 533.2 L319.4 533.7 L319.4 534.2 L319.3 534.7 L319.3 535.2 L319.2 535.7 L319.2 536.2 L319.2 536.7 L319.1 537.2 L319.1 537.8 L319.1 538.3 L319.0 538.8 L319.0 539.3 L319.0 539.8 L318.9 540.3 L318.9 540.8 L318.9 541.3 L318.8 541.8 L318.8 542.3 L318.8 542.8 L318.7 543.3 L318.7 543.8 L318.7 544.3 L318.6 544.8 L318.6 545.3 L318.6 545.9 L318.5 546.4 L318.5 546.9 L318.5 547.4 L318.4 547.9 L318.4 548.4 L318.4 548.9 L318.3 549.4 L318.3 549.9 L318.3 550.4 L318.2 550.9 L318.2 551.4 L318.2 551.9 L318.2 552.4 L318.1 552.9 L318.1 553.4 L318.1 553.9 L318.0 554.4 L318.0 554.9 L318.0 555.4 L317.9 555.9 L317.9 556.4 L317.9 556.9 L317.8 557.5 L317.8 558.0 L317.8 558.5 L317.8 559.0 L317.7 559.5 L317.7 560.0 L317.7 560.5 L317.6 561.0 L317.6 561.5 L317.6 562.0 L317.5 562.5 L317.5 563.0 L317.5 563.5 L317.4 564.0 L317.4 564.5 L317.4 565.0 L317.3 565.5 L317.3 566.0 L317.3 566.5 L317.2 566.9 L317.2 567.4 L317.2 567.9 L317.1 568.4 L317.1 568.9 L317.1 569.4 L317.0 569.9 L317.0 570.4 L317.0 570.9 L316.9 571.4 L316.9 571.9 L316.9 572.4 L316.8 572.9 L316.8 573.4 L316.8 573.9 L316.7 574.4 L316.7 574.9 L316.7 575.4 L316.6 575.9 L316.6 576.4 L316.6 576.9 L316.5 577.4 L316.5 577.9 L316.5 578.3 L316.4 578.8 L316.4 579.3 L316.4 579.8 L316.3 580.3 L316.3 580.8 L316.3 581.3 L316.2 581.8 L316.2 582.3 L316.1 582.8 L316.1 583.3 L316.1 583.8 L316.0 584.3 L316.0 584.8 L316.0 585.3 L315.9 585.7 L315.9 586.2 L315.9 586.7 L315.8 587.2 L315.8 587.7 L315.8 588.2 L315.7 588.7 L315.7 589.2 L315.7 589.7 L315.6 590.2 L315.6 590.7 L315.6 591.2 L315.5 591.7 L315.5 592.1 L315.5 592.6 L315.4 593.1 L315.4 593.6 L315.4 594.1 L315.3 594.6 L315.3 595.1 L315.3 595.6 L315.2 596.1 L315.2 596.6 L315.2 597.1 L315.1 597.6 L315.1 598.0 L315.1 598.5 L315.0 599.0 L315.0 599.5 L315.0 600.0 L314.9 600.5 L314.9 601.0 L314.9 601.5 L314.8 602.0 L314.8 602.5 L314.8 603.0 L314.7 603.5 L314.7 603.9 L314.7 604.4 L314.6 604.9 L314.6 605.4 L314.6 605.9 L314.5 606.4 L314.5 606.9 L314.5 607.4 L314.4 607.9 L314.4 608.4 L314.4 608.9 L314.3 609.4 L314.3 609.9 L314.3 610.4 L314.3 610.8 L314.2 611.3 L314.2 611.8 L314.2 612.3 L314.1 612.8 L314.1 613.3 L314.1 613.8 L314.0 614.3 L314.0 614.8 L314.0 615.3 L314.0 615.8 L313.9 616.3 L313.9 616.8 L313.9 617.3 L313.8 617.8 L313.8 618.3 L313.8 618.8 L313.8 619.3 L313.7 619.8 L313.7 620.2 L313.7 620.7 L313.6 621.2 L313.6 621.7 L313.6 622.2 L313.6 622.7 L313.5 623.2 L313.5 623.7 L313.5 624.2 L313.5 624.7 L313.4 625.2 L313.4 625.7 L313.4 626.2 L313.4 626.7 L313.3 627.2 L313.3 627.7 L313.3 628.2 L313.3 628.7 L313.2 629.2 L313.2 629.7 L313.2 630.2 L313.2 630.7 L313.2 631.2 L313.1 631.7 L313.1 632.2 L313.1 632.7 L313.1 633.2 L313.0 633.7 L313.0 634.2 L313.0 634.7 L313.0 635.2 L313.0 635.7 L312.9 636.2 L312.9 636.7 L312.9 637.3 L312.9 637.8 L312.9 638.3 L312.8 638.8 L312.8 639.3 L312.8 639.8 L312.8 640.3 L312.8 640.8 L312.8 641.3 L312.7 641.8 L312.7 642.3 L312.7 642.8 L312.7 643.3 L312.7 643.8 L312.7 644.3 L312.6 644.9 L312.6 645.4 L312.6 645.9 L312.6 646.4 L312.6 646.9 L312.6 647.4 L312.6 647.9 L312.6 648.4 L312.5 648.9 L312.5 649.5 L312.5 650.0 L312.5 650.5 L312.5 651.0" fill="none" stroke="#9a9a9a" stroke-width="2"/>
<g fill="#bdbdbd" stroke="#6a6a6a" stroke-width="1.7"><circle cx="946.5" cy="124.0" r="5.00"/><circle cx="946.6" cy="125.6" r="5.00"/><circle cx="946.6" cy="127.2" r="5.00"/><circle cx="946.6" cy="128.7" r="5.00"/><circle cx="946.5" cy="130.3" r="5.00"/><circle cx="946.2" cy="132.2" r="5.00"/><circle cx="945.8" cy="134.2" r="5.00"/><circle cx="945.3" cy="136.0" r="5.00"/><circle cx="944.7" cy="137.9" r="5.00"/><circle cx="944.0" cy="139.6" r="5.00"/><circle cx="943.2" cy="141.4" r="5.00"/><circle cx="942.3" cy="143.1" r="5.00"/><circle cx="941.3" cy="144.7" r="5.00"/><circle cx="940.2" cy="146.3" r="5.00"/><circle cx="939.1" cy="147.9" r="5.00"/><circle cx="937.9" cy="149.4" r="5.00"/><circle cx="936.3" cy="151.2" r="5.00"/><circle cx="934.7" cy="153.0" r="5.00"/><circle cx="933.0" cy="154.8" r="5.00"/><circle cx="931.2" cy="156.5" r="5.00"/><circle cx="929.4" cy="158.1" r="5.00"/><circle cx="927.5" cy="159.7" r="5.00"/><circle cx="925.6" cy="161.3" r="5.00"/><circle cx="923.6" cy="162.8" r="5.00"/><circle cx="921.2" cy="164.6" r="5.00"/><circle cx="918.7" cy="166.4" r="5.00"/><circle cx="916.2" cy="168.1" r="5.00"/><circle cx="913.6" cy="169.8" r="5.00"/><circle cx="911.0" cy="171.4" r="5.00"/><circle cx="908.4" cy="173.0" r="5.00"/><circle cx="905.8" cy="174.7" r="5.00"/><circle cx="903.2" cy="176.3" r="5.00"/><circle cx="900.5" cy="177.9" r="5.00"/><circle cx="897.9" cy="179.5" r="5.00"/><circle cx="895.3" cy="181.1" r="5.00"/><circle cx="892.7" cy="182.7" r="5.00"/><circle cx="890.1" cy="184.3" r="5.00"/><circle cx="887.5" cy="185.9" r="5.00"/><circle cx="884.9" cy="187.5" r="5.00"/><circle cx="882.3" cy="189.1" r="5.00"/><circle cx="879.7" cy="190.7" r="5.00"/><circle cx="877.2" cy="192.3" r="5.00"/><circle cx="874.6" cy="193.9" r="5.00"/><circle cx="872.0" cy="195.5" r="5.00"/><circle cx="869.5" cy="197.1" r="5.00"/><circle cx="866.9" cy="198.6" r="5.00"/><circle cx="864.4" cy="200.2" r="5.00"/><circle cx="861.8" cy="201.8" r="5.00"/><circle cx="859.3" cy="203.4" r="5.00"/><circle cx="856.7" cy="205.0" r="5.00"/><circle cx="854.2" cy="206.6" r="5.00"/><circle cx="851.7" cy="208.1" r="5.00"/><circle cx="849.1" cy="209.7" r="5.00"/><circle cx="846.6" cy="211.3" r="5.00"/><circle cx="844.0" cy="212.8" r="5.00"/><circle cx="841.5" cy="214.4" r="5.00"/><circle cx="839.0" cy="215.9" r="5.00"/><circle cx="836.4" cy="217.5" r="5.00"/><circle cx="833.9" cy="219.0" r="5.00"/><circle cx="831.3" cy="220.6" r="5.00"/><circle cx="828.8" cy="222.1" r="5.00"/><circle cx="826.2" cy="223.6" r="5.00"/><circle cx="823.7" cy="225.1" r="5.00"/><circle cx="821.1" cy="226.6" r="5.00"/><circle cx="818.1" cy="228.4" r="5.00"/><circle cx="815.1" cy="230.1" r="5.00"/><circle cx="812.1" cy="231.8" r="5.00"/><circle cx="809.1" cy="233.5" r="5.00"/><circle cx="806.1" cy="235.2" r="5.00"/><circle cx="803.0" cy="236.9" r="5.00"/><circle cx="800.0" cy="238.6" r="5.00"/><circle cx="796.9" cy="240.2" r="5.00"/><circle cx="793.9" cy="241.9" r="5.00"/><circle cx="790.8" cy="243.5" r="5.00"/><circle cx="787.7" cy="245.1" r="5.00"/><circle cx="784.6" cy="246.8" r="5.00"/><circle cx="781.5" cy="248.4" r="5.00"/><circle cx="778.4" cy="249.9" r="5.00"/><circle cx="775.3" cy="251.5" r="5.00"/><circle cx="772.2" cy="253.1" r="5.00"/><circle cx="769.0" cy="254.7" r="5.00"/><circle cx="765.9" cy="256.2" r="5.00"/><circle cx="762.8" cy="257.8" r="5.00"/><circle cx="759.6" cy="259.3" r="5.00"/><circle cx="756.5" cy="260.9" r="5.00"/><circle cx="753.3" cy="262.4" r="5.00"/><circle cx="750.1" cy="263.9" r="4.99"/><circle cx="747.0" cy="265.4" r="4.99"/><circle cx="743.8" cy="267.0" r="4.99"/><circle cx="740.6" cy="268.5" r="4.99"/><circle cx="737.5" cy="270.0" r="4.99"/><circle cx="734.3" cy="271.5" r="4.99"/><circle cx="731.1" cy="273.1" r="4.99"/><circle cx="728.0" cy="274.6" r="4.99"/><circle cx="724.8" cy="276.1" r="4.99"/><circle cx="721.6" cy="277.6" r="4.99"/><circle cx="718.4" cy="279.2" r="4.99"/><circle cx="715.3" cy="280.7" r="4.99"/><circle cx="712.1" cy="282.2" r="4.99"/><circle cx="708.9" cy="283.8" r="4.99"/><circle cx="705.8" cy="285.3" r="4.99"/><circle cx="702.6" cy="286.9" r="4.99"/><circle cx="699.5" cy="288.5" r="4.99"/><circle cx="696.3" cy="290.0" r="4.99"/><circle cx="693.2" cy="291.6" r="4.99"/><circle cx="690.0" cy="293.2" r="4.99"/><circle cx="686.9" cy="294.8" r="4.99"/><circle cx="683.8" cy="296.3" r="4.99"/><circle cx="680.6" cy="297.9" r="5.00"/><circle cx="677.5" cy="299.5" r="5.00"/><circle cx="674.4" cy="301.1" r="5.00"/><circle cx="671.3" cy="302.7" r="5.00"/><circle cx="668.1" cy="304.3" r="5.00"/><circle cx="665.0" cy="305.9" r="5.00"/><circle cx="661.9" cy="307.5" r="5.00"/><circle cx="658.7" cy="309.0" r="5.00"/><circle cx="655.6" cy="310.6" r="5.00"/><circle cx="652.5" cy="312.2" r="5.00"/><circle cx="649.3" cy="313.7" r="5.00"/><circle cx="646.2" cy="315.3" r="5.00"/><circle cx="643.1" cy="316.8" r="5.00"/><circle cx="639.9" cy="318.3" r="5.00"/><circle cx="636.8" cy="319.8" r="4.90"/><circle cx="633.1" cy="321.5" r="4.80"/><circle cx="629.5" cy="323.2" r="4.80"/><circle cx="625.9" cy="324.9" r="4.80"/><circle cx="622.3" cy="326.5" r="4.81"/><circle cx="618.6" cy="328.1" r="4.81"/><circle cx="615.0" cy="329.7" r="4.81"/><circle cx="611.3" cy="331.3" r="4.81"/><circle cx="607.6" cy="332.9" r="4.81"/><circle cx="604.0" cy="334.4" r="4.71"/><circle cx="599.8" cy="336.0" r="4.61"/><circle cx="595.6" cy="337.6" r="4.61"/><circle cx="591.4" cy="339.2" r="4.61"/><circle cx="587.2" cy="340.8" r="4.61"/><circle cx="583.0" cy="342.3" r="4.51"/><circle cx="578.3" cy="343.9" r="4.40"/><circle cx="573.5" cy="345.5" r="4.40"/><circle cx="568.8" cy="347.1" r="4.40"/><circle cx="564.0" cy="348.6" r="4.40"/><circle cx="559.3" cy="350.1" r="4.30"/><circle cx="554.0" cy="351.7" r="4.20"/><circle cx="548.7" cy="353.3" r="4.20"/><circle cx="543.5" cy="354.9" r="4.20"/><circle cx="538.2" cy="356.4" r="4.19"/><circle cx="532.9" cy="358.0" r="4.19"/><circle cx="527.6" cy="359.5" r="4.19"/><circle cx="522.3" cy="361.0" r="4.19"/><circle cx="517.0" cy="362.5" r="4.19"/><circle cx="511.7" cy="364.0" r="4.19"/><circle cx="506.3" cy="365.6" r="4.19"/><circle cx="501.0" cy="367.1" r="4.19"/><circle cx="495.7" cy="368.6" r="4.19"/><circle cx="490.4" cy="370.2" r="4.19"/><circle cx="485.2" cy="371.8" r="4.19"/><circle cx="479.9" cy="373.4" r="4.19"/><circle cx="474.6" cy="375.0" r="4.29"/><circle cx="469.8" cy="376.5" r="4.39"/><circle cx="465.1" cy="378.0" r="4.40"/><circle cx="460.3" cy="379.6" r="4.40"/><circle cx="455.6" cy="381.2" r="4.40"/><circle cx="450.8" cy="382.9" r="4.50"/><circle cx="446.6" cy="384.4" r="4.60"/><circle cx="442.4" cy="385.9" r="4.60"/><circle cx="438.1" cy="387.5" r="4.60"/><circle cx="433.9" cy="389.1" r="4.60"/><circle cx="429.7" cy="390.8" r="4.60"/><circle cx="425.6" cy="392.5" r="4.70"/><circle cx="421.9" cy="394.0" r="4.80"/><circle cx="418.2" cy="395.5" r="4.80"/><circle cx="414.5" cy="397.1" r="4.80"/><circle cx="410.8" cy="398.7" r="4.80"/><circle cx="407.2" cy="400.3" r="4.80"/><circle cx="403.5" cy="401.9" r="4.80"/><circle cx="399.9" cy="403.6" r="4.81"/><circle cx="396.3" cy="405.3" r="4.81"/><circle cx="392.7" cy="407.0" r="4.91"/><circle cx="389.6" cy="408.5" r="5.00"/><circle cx="386.4" cy="410.0" r="5.00"/><circle cx="383.3" cy="411.6" r="5.00"/><circle cx="380.3" cy="413.2" r="5.00"/><circle cx="377.2" cy="414.9" r="5.00"/><circle cx="374.7" cy="416.5" r="5.00"/><circle cx="372.2" cy="418.1" r="5.00"/><circle cx="369.7" cy="419.8" r="5.00"/><circle cx="367.3" cy="421.5" r="5.00"/><circle cx="365.3" cy="423.1" r="5.00"/><circle cx="363.3" cy="424.7" r="5.00"/><circle cx="361.4" cy="426.3" r="5.00"/><circle cx="359.5" cy="428.0" r="5.00"/><circle cx="357.7" cy="429.8" r="5.00"/><circle cx="355.9" cy="431.5" r="5.00"/><circle cx="354.2" cy="433.4" r="5.00"/><circle cx="352.5" cy="435.2" r="5.00"/><circle cx="351.1" cy="436.7" r="5.00"/><circle cx="349.8" cy="438.3" r="5.00"/><circle cx="348.6" cy="439.9" r="5.00"/><circle cx="347.3" cy="441.4" r="5.00"/><circle cx="346.1" cy="443.0" r="5.00"/><circle cx="344.9" cy="444.7" r="5.00"/><circle cx="343.8" cy="446.3" r="5.00"/><circle cx="342.7" cy="448.0" r="5.00"/><circle cx="341.6" cy="449.6" r="5.00"/><circle cx="340.5" cy="451.3" r="5.00"/><circle cx="339.5" cy="453.0" r="5.00"/><circle cx="338.6" cy="454.8" r="5.00"/><circle cx="337.6" cy="456.5" r="5.00"/><circle cx="336.7" cy="458.3" r="5.00"/><circle cx="335.8" cy="460.0" r="5.00"/><circle cx="335.0" cy="461.8" r="5.00"/><circle cx="334.2" cy="463.6" r="5.00"/><circle cx="333.4" cy="465.4" r="5.00"/><circle cx="332.6" cy="467.2" r="5.00"/><circle cx="331.9" cy="469.0" r="5.00"/><circle cx="331.2" cy="470.9" r="5.00"/><circle cx="330.5" cy="472.7" r="5.00"/><circle cx="329.9" cy="474.6" r="5.00"/><circle cx="329.2" cy="476.4" r="5.00"/><circle cx="328.6" cy="478.3" r="5.00"/><circle cx="328.1" cy="480.2" r="5.00"/><circle cx="327.5" cy="482.1" r="5.00"/><circle cx="327.0" cy="484.0" r="5.00"/><circle cx="326.5" cy="485.9" r="5.00"/><circle cx="326.0" cy="487.9" r="5.00"/><circle cx="325.5" cy="489.8" r="5.00"/><circle cx="325.1" cy="491.7" r="5.00"/><circle cx="324.7" cy="493.7" r="5.00"/><circle cx="324.3" cy="495.6" r="5.00"/><circle cx="323.9" cy="497.6" r="5.00"/><circle cx="323.5" cy="499.6" r="5.00"/><circle cx="323.2" cy="501.5" r="5.00"/><circle cx="322.8" cy="503.5" r="5.00"/><circle cx="322.5" cy="505.5" r="5.00"/><circle cx="322.2" cy="507.5" r="5.00"/><circle cx="321.9" cy="509.5" r="5.00"/><circle cx="321.7" cy="511.0" r="5.00"/><circle cx="321.5" cy="512.5" r="5.00"/><circle cx="321.3" cy="514.0" r="5.00"/><circle cx="321.1" cy="515.5" r="5.00"/><circle cx="321.0" cy="517.0" r="5.00"/><circle cx="320.8" cy="518.5" r="5.00"/><circle cx="320.6" cy="520.0" r="5.00"/><circle cx="320.5" cy="521.6" r="5.00"/><circle cx="320.3" cy="523.1" r="5.00"/><circle cx="320.2" cy="524.6" r="5.00"/><circle cx="320.0" cy="526.1" r="5.00"/><circle cx="319.9" cy="527.6" r="5.00"/><circle cx="319.8" cy="529.1" r="5.00"/><circle cx="319.6" cy="530.7" r="5.00"/><circle cx="319.5" cy="532.2" r="5.00"/><circle cx="319.4" cy="533.7" r="5.00"/><circle cx="319.3" cy="535.2" r="5.00"/><circle cx="319.2" cy="536.7" r="5.00"/><circle cx="319.1" cy="538.3" r="5.00"/><circle cx="319.0" cy="539.8" r="5.00"/><circle cx="318.9" cy="541.3" r="5.00"/><circle cx="318.8" cy="542.8" r="5.00"/><circle cx="318.7" cy="544.3" r="5.00"/><circle cx="318.6" cy="545.9" r="5.00"/><circle cx="318.5" cy="547.4" r="5.00"/><circle cx="318.4" cy="548.9" r="5.00"/><circle cx="318.3" cy="550.4" r="5.00"/><circle cx="318.2" cy="551.9" r="5.00"/><circle cx="318.1" cy="553.4" r="5.00"/><circle cx="318.0" cy="554.9" r="5.00"/><circle cx="317.9" cy="556.4" r="5.00"/><circle cx="317.8" cy="558.0" r="5.00"/><circle cx="317.7" cy="559.5" r="5.00"/><circle cx="317.6" cy="561.0" r="5.00"/><circle cx="317.5" cy="562.5" r="5.00"/><circle cx="317.4" cy="564.5" r="5.00"/><circle cx="317.3" cy="566.5" r="5.00"/><circle cx="317.1" cy="568.4" r="5.00"/><circle cx="317.0" cy="570.4" r="5.00"/><circle cx="316.9" cy="572.4" r="5.00"/><circle cx="316.7" cy="574.4" r="5.00"/><circle cx="316.6" cy="576.4" r="5.00"/><circle cx="316.5" cy="578.3" r="5.00"/><circle cx="316.3" cy="580.3" r="5.00"/><circle cx="316.2" cy="582.3" r="5.00"/><circle cx="316.0" cy="584.3" r="5.00"/><circle cx="315.9" cy="586.2" r="5.00"/><circle cx="315.8" cy="588.2" r="5.00"/><circle cx="315.6" cy="590.2" r="5.00"/><circle cx="315.5" cy="592.1" r="5.00"/><circle cx="315.4" cy="594.1" r="5.00"/><circle cx="315.2" cy="596.1" r="5.00"/><circle cx="315.1" cy="598.0" r="5.00"/><circle cx="315.0" cy="600.0" r="5.00"/><circle cx="314.8" cy="602.0" r="5.00"/><circle cx="314.7" cy="603.9" r="5.00"/><circle cx="314.6" cy="605.9" r="5.00"/><circle cx="314.4" cy="607.9" r="5.00"/><circle cx="314.3" cy="609.9" r="5.00"/><circle cx="314.2" cy="611.8" r="5.00"/><circle cx="314.1" cy="613.8" r="5.00"/><circle cx="314.0" cy="615.8" r="5.00"/><circle cx="313.8" cy="617.8" r="5.00"/><circle cx="313.7" cy="619.8" r="5.00"/><circle cx="313.6" cy="621.7" r="5.00"/><circle cx="313.5" cy="623.7" r="5.00"/><circle cx="313.4" cy="625.7" r="5.00"/><circle cx="313.3" cy="627.7" r="5.00"/><circle cx="313.2" cy="629.7" r="5.00"/><circle cx="313.2" cy="631.2" r="5.00"/><circle cx="313.1" cy="632.7" r="5.00"/><circle cx="313.0" cy="634.2" r="5.00"/><circle cx="313.0" cy="635.7" r="5.00"/><circle cx="312.9" cy="637.3" r="5.00"/><circle cx="312.8" cy="638.8" r="5.00"/><circle cx="312.8" cy="640.3" r="5.00"/><circle cx="312.7" cy="641.8" r="5.00"/><circle cx="312.7" cy="643.3" r="5.00"/><circle cx="312.6" cy="644.9" r="5.00"/><circle cx="312.6" cy="646.4" r="5.00"/><circle cx="312.6" cy="647.9" r="5.00"/><circle cx="312.5" cy="649.5" r="5.00"/><circle cx="312.5" cy="651.0" r="5.00"/></g>
<path d="M157.3 490.0 L157.3 489.5 L157.3 489.0 L157.3 488.5 L157.3 488.0 L157.3 487.5 L157.3 487.0 L157.3 486.5 L157.3 486.0 L157.3 485.5 L157.3 485.0 L157.3 484.5 L157.3 484.0 L157.3 483.5 L157.3 483.0 L157.3 482.5 L157.3 482.0 L157.3 481.5 L157.3 481.0 L157.3 480.5 L157.3 480.0 L157.3 479.5 L157.3 479.0 L157.3 478.5 L157.3 478.0 L157.3 477.5 L157.3 477.0 L157.3 476.5 L157.3 476.0 L157.3 475.5 L157.3 475.0 L157.3 474.5 L157.3 474.0 L157.3 473.5 L157.3 473.0 L157.3 472.5 L157.3 472.0 L157.3 471.4 L157.3 470.9 L157.3 470.4 L157.3 469.9 L157.3 469.4 L157.3 468.9 L157.3 468.4 L157.3 467.9 L157.3 467.4 L157.3 466.9 L157.3 466.4 L157.3 465.9 L157.3 465.4 L157.3 464.9 L157.3 464.4 L157.3 463.9 L157.3 463.4 L157.3 462.9 L157.3 462.4 L157.3 461.9 L157.3 461.4 L157.3 460.9 L157.3 460.4 L157.3 459.9 L157.3 459.4 L157.3 458.9 L157.3 458.4 L157.3 457.9 L157.3 457.4 L157.3 456.9 L157.3 456.4 L157.3 455.9 L157.3 455.4 L157.3 454.9 L157.3 454.4 L157.3 453.9 L157.3 453.4 L157.3 452.9 L157.3 452.4 L157.3 451.9 L157.3 451.4 L157.3 450.9 L157.3 450.4 L157.3 449.9 L157.3 449.4 L157.3 448.9 L157.3 448.4 L157.3 447.9 L157.3 447.4 L157.3 446.9 L157.3 446.4 L157.3 445.9 L157.3 445.4 L157.3 444.9 L157.3 444.4 L157.3 443.9 L157.3 443.4 L157.3 442.9 L157.3 442.4 L157.3 441.9 L157.3 441.4 L157.3 440.9 L157.3 440.4 L157.3 439.9 L157.3 439.4 L157.3 438.9 L157.3 438.4 L157.3 437.9 L157.3 437.4 L157.3 436.9 L157.3 436.4 L157.3 435.9 L157.3 435.4 L157.3 434.9 L157.3 434.4 L157.3 433.8 L157.3 433.3 L157.3 432.8 L157.3 432.3 L157.3 431.8 L157.3 431.3 L157.3 430.8 L157.3 430.3 L157.3 429.8 L157.3 429.3 L157.3 428.8 L157.3 428.3 L157.3 427.8 L157.3 427.3 L157.3 426.8 L157.3 426.3 L157.3 425.8 L157.3 425.3 L157.3 424.8 L157.3 424.3 L157.3 423.8 L157.3 423.3 L157.3 422.8 L157.3 422.3 L157.3 421.8 L157.3 421.3 L157.3 420.8 L157.3 420.3 L157.3 419.8 L157.3 419.3 L157.3 418.8 L157.3 418.3 L157.3 417.8 L157.3 417.3 L157.3 416.8 L157.3 416.3 L157.3 415.8 L157.3 415.3 L157.3 414.8 L157.3 414.3 L157.3 413.8 L157.3 413.3 L157.3 412.8 L157.3 412.3 L157.3 411.8 L157.3 411.3 L157.3 410.8 L157.3 410.3 L157.3 409.8 L157.3 409.3 L157.3 408.8 L157.3 408.3 L157.3 407.8 L157.3 407.3 L157.3 406.8 L157.3 406.3 L157.3 405.8 L157.3 405.3 L157.3 404.8 L157.3 404.3 L157.3 403.8 L157.3 403.3 L157.3 402.8 L157.3 402.3 L157.3 401.8 L157.3 401.3 L157.3 400.8 L157.3 400.3 L157.3 399.8 L157.3 399.3 L157.3 398.8 L157.3 398.3 L157.3 397.8 L157.3 397.2 L157.3 396.7 L157.3 396.2 L157.3 395.7 L157.3 395.2 L157.3 394.7 L157.3 394.2 L157.3 393.7 L157.3 393.2 L157.3 392.7 L157.3 392.2 L157.3 391.7 L157.3 391.2 L157.3 390.7 L157.3 390.2 L157.3 389.7 L157.3 389.2 L157.3 388.7 L157.3 388.2 L157.3 387.7 L157.3 387.2 L157.3 386.7 L157.3 386.2 L157.3 385.7 L157.3 385.2 L157.3 384.7 L157.3 384.2 L157.3 383.7 L157.3 383.2 L157.3 382.7 L157.3 382.2 L157.3 381.7 L157.3 381.2 L157.3 380.7 L157.3 380.2 L157.3 379.7 L157.3 379.2 L157.3 378.7 L157.3 378.2 L157.3 377.7 L157.3 377.2 L157.3 376.7 L157.3 376.2 L157.3 375.7 L157.3 375.2 L157.3 374.7 L157.3 374.2 L157.3 373.7 L157.3 373.2 L157.3 372.7 L157.3 372.2 L157.3 371.7 L157.3 371.2 L157.3 370.7 L157.3 370.2 L157.3 369.7 L157.3 369.2 L157.3 368.7 L157.3 368.2 L157.3 367.7 L157.3 367.2 L157.3 366.7 L157.3 366.2 L157.3 365.7 L157.3 365.2 L157.3 364.7 L157.3 364.2 L157.3 363.7 L157.3 363.2 L157.3 362.7 L157.3 362.2 L157.3 361.7 L157.3 361.2 L157.3 360.7 L157.3 360.1 L157.3 359.6 L157.3 359.1 L157.3 358.6 L157.3 358.1 L157.3 357.6 L157.3 357.1 L157.3 356.6 L157.3 356.1 L157.3 355.6 L157.3 355.1 L157.3 354.6 L157.3 354.1 L157.3 353.6 L157.3 353.1 L157.3 352.6 L157.3 352.1 L157.3 351.6 L157.3 351.1 L157.3 350.6 L157.3 350.1 L157.3 349.6 L157.3 349.1 L157.3 348.6 L157.3 348.1 L157.3 347.6 L157.3 347.1 L157.3 346.6 L157.3 346.1 L157.3 345.6 L157.3 345.1 L157.3 344.6 L157.3 344.1 L157.3 343.6 L157.3 343.1 L157.3 342.6 L157.3 342.1 L157.3 341.6 L157.3 341.1 L157.3 340.6 L157.3 340.1 L157.3 339.6 L157.3 339.1 L157.3 338.6 L157.3 338.1 L157.3 337.6 L157.3 337.1 L157.3 336.6 L157.3 336.1 L157.3 335.6 L157.3 335.1 L157.3 334.6 L157.3 334.1 L157.3 333.6 L157.3 333.1 L157.3 332.6 L157.3 332.1 L157.3 331.6 L157.3 331.1 L157.3 330.6 L157.3 330.1 L157.3 329.6 L157.3 329.1 L157.3 328.6 L157.3 328.1 L157.3 327.6 L157.3 327.1 L157.3 326.6 L157.3 326.1 L157.3 325.6 L157.3 325.1 L157.3 324.6 L157.3 324.1 L157.3 323.6 L157.3 323.1 L157.3 322.5 L157.3 322.0 L157.3 321.5 L157.3 321.0 L157.3 320.5 L157.3 320.0 L157.3 319.5 L157.3 319.0 L157.3 318.5 L157.3 318.0 L157.3 317.5 L157.3 317.0 L157.3 316.5 L157.3 316.0 L157.3 315.5 L157.3 315.0 L157.3 314.5 L157.3 314.0 L157.3 313.5 L157.3 313.0 L157.3 312.5 L157.3 312.0 L157.3 311.5 L157.3 311.0 L157.3 310.5 L157.3 310.0 L157.3 309.5 L157.3 309.0 L157.3 308.5 L157.3 308.0 L157.3 307.5 L157.3 307.0 L157.3 306.5 L157.3 306.0 L157.3 305.5 L157.3 305.0 L157.3 304.5 L157.3 304.5 L157.7 304.3 L158.2 304.2 L158.6 304.1 L159.1 304.1 L159.5 304.0 L160.0 304.0 L160.5 304.0 L160.9 304.0 L161.4 304.1 L161.8 304.2 L162.3 304.2 L162.8 304.3 L163.3 304.5 L163.7 304.6 L164.2 304.7 L164.7 304.8 L165.2 305.0 L165.6 305.1 L166.1 305.2 L166.6 305.4 L167.1 305.5 L167.6 305.7 L168.0 305.8 L168.5 305.9 L169.0 306.1 L169.5 306.2 L170.0 306.3 L170.4 306.5 L170.9 306.6 L171.4 306.7 L171.9 306.9 L172.4 307.0 L172.8 307.1 L173.3 307.2 L173.8 307.4 L174.3 307.5 L174.8 307.6 L175.2 307.7 L175.7 307.9 L176.2 308.0 L176.7 308.1 L177.2 308.2 L177.7 308.3 L178.1 308.5 L178.6 308.6 L179.1 308.7 L179.6 308.8 L180.1 308.9 L180.6 309.0 L181.1 309.2 L181.5 309.3 L182.0 309.4 L182.5 309.5 L183.0 309.6 L183.5 309.7 L184.0 309.8 L184.5 309.9 L184.9 310.0 L185.4 310.1 L185.9 310.2 L186.4 310.4 L186.9 310.5 L187.4 310.6 L187.9 310.7 L188.4 310.8 L188.8 310.9 L189.3 311.0 L189.8 311.1 L190.3 311.2 L190.8 311.3 L191.3 311.4 L191.8 311.5 L192.3 311.6 L192.8 311.7 L193.2 311.8 L193.7 311.8 L194.2 311.9 L194.7 312.0 L195.2 312.1 L195.7 312.2 L196.2 312.3 L196.7 312.4 L197.2 312.5 L197.7 312.6 L198.2 312.7 L198.6 312.8 L199.1 312.8 L199.6 312.9 L200.1 313.0 L200.6 313.1 L201.1 313.2 L201.6 313.3 L202.1 313.4 L202.6 313.4 L203.1 313.5 L203.6 313.6 L204.1 313.7 L204.6 313.8 L205.1 313.8 L205.5 313.9 L206.0 314.0 L206.5 314.1 L207.0 314.2 L207.5 314.2 L208.0 314.3 L208.5 314.4 L209.0 314.5 L209.5 314.5 L210.0 314.6 L210.5 314.7 L211.0 314.7 L211.5 314.8 L212.0 314.9 L212.5 315.0 L213.0 315.0 L213.5 315.1 L214.0 315.2 L214.5 315.2 L215.0 315.3 L215.4 315.4 L215.9 315.4 L216.4 315.5 L216.9 315.6 L217.4 315.6 L217.9 315.7 L218.4 315.8 L218.9 315.8 L219.4 315.9 L219.9 316.0 L220.4 316.0 L220.9 316.1 L221.4 316.1 L221.9 316.2 L222.4 316.3 L222.9 316.3 L223.4 316.4 L223.9 316.4 L224.4 316.5 L224.9 316.5 L225.4 316.6 L225.9 316.7 L226.4 316.7 L226.9 316.8 L227.4 316.8 L227.9 316.9 L228.4 316.9 L228.9 317.0 L229.4 317.0 L229.9 317.1 L230.4 317.1 L230.9 317.2 L231.4 317.3 L231.9 317.3 L232.4 317.4 L232.9 317.4 L233.4 317.5 L233.9 317.5 L234.4 317.5 L234.9 317.6 L235.4 317.6 L235.9 317.7 L236.4 317.7 L236.9 317.8 L237.4 317.8 L237.9 317.9 L238.4 317.9 L238.9 318.0 L239.4 318.0 L239.9 318.1 L240.4 318.1 L240.9 318.1 L241.4 318.2 L241.9 318.2 L242.4 318.3 L242.9 318.3 L243.4 318.4 L243.9 318.4 L244.4 318.4 L244.9 318.5 L245.4 318.5 L245.9 318.6 L246.4 318.6 L246.9 318.6 L247.4 318.7 L247.9 318.7 L248.4 318.8 L248.9 318.8 L249.4 318.8 L249.9 318.9 L250.4 318.9 L250.9 318.9 L251.4 319.0 L251.9 319.0 L252.4 319.0 L252.9 319.1 L253.4 319.1 L253.9 319.2 L254.4 319.2 L254.9 319.2 L255.4 319.3 L255.9 319.3 L256.4 319.3 L256.9 319.4 L257.4 319.4 L257.9 319.4 L258.4 319.4 L258.9 319.5 L259.4 319.5 L259.9 319.5 L260.4 319.6 L260.9 319.6 L261.4 319.6 L261.9 319.7 L262.4 319.7 L262.9 319.7 L263.4 319.7 L263.9 319.8 L264.4 319.8 L264.9 319.8 L265.4 319.9 L265.9 319.9 L266.4 319.9 L266.9 319.9 L267.4 320.0 L267.9 320.0 L268.4 320.0 L268.9 320.0 L269.4 320.1 L269.9 320.1 L270.4 320.1 L270.9 320.1 L271.4 320.2 L271.9 320.2 L272.4 320.2 L272.9 320.2 L273.4 320.3 L273.9 320.3 L274.4 320.3 L274.9 320.3 L275.4 320.3 L275.9 320.4 L276.4 320.4 L276.9 320.4 L277.4 320.4 L277.9 320.4 L278.4 320.5 L278.9 320.5 L279.4 320.5 L279.9 320.5 L280.4 320.5 L280.9 320.6 L281.4 320.6 L281.9 320.6 L282.4 320.6 L282.9 320.6 L283.4 320.6 L283.9 320.7 L284.4 320.7 L284.9 320.7 L285.4 320.7 L285.9 320.7 L286.4 320.7 L286.9 320.7 L287.4 320.8 L287.9 320.8 L288.4 320.8 L288.9 320.8 L289.4 320.8 L289.9 320.8 L290.4 320.8 L290.9 320.8 L291.4 320.9 L291.9 320.9 L292.4 320.9 L292.9 320.9 L293.4 320.9 L293.9 320.9 L294.4 320.9 L294.9 320.9 L295.4 320.9 L295.9 320.9 L296.4 321.0 L296.9 321.0 L297.4 321.0 L297.9 321.0 L298.4 321.0 L298.9 321.0 L299.4 321.0 L299.9 321.0 L300.4 321.0 L300.9 321.0 L301.4 321.0 L301.9 321.0 L302.4 321.0 L302.9 321.0 L303.4 321.0 L303.9 321.0 L304.4 321.1 L304.9 321.1 L305.4 321.1 L305.9 321.1 L306.4 321.1 L306.9 321.1 L307.4 321.1 L307.9 321.1 L308.4 321.1 L308.9 321.1 L309.4 321.1 L309.9 321.1 L310.4 321.1 L310.9 321.1 L311.4 321.1 L311.9 321.1 L312.4 321.1 L312.9 321.1 L313.4 321.1 L313.9 321.1 L314.4 321.1 L314.9 321.1 L315.4 321.1 L315.9 321.1 L316.4 321.1 L316.9 321.1 L317.4 321.1 L317.9 321.0 L318.4 321.0 L318.9 321.0 L319.4 321.0 L319.9 321.0 L320.4 321.0 L320.9 321.0 L321.4 321.0 L321.9 321.0 L322.4 321.0 L322.9 321.0 L323.4 321.0 L323.9 321.0 L324.4 321.0 L324.9 321.0 L325.4 321.0 L325.9 320.9 L326.4 320.9 L326.9 320.9 L327.4 320.9 L327.9 320.9 L328.4 320.9 L328.9 320.9 L329.4 320.9 L329.9 320.9 L330.4 320.9 L330.9 320.8 L331.4 320.8 L331.9 320.8 L332.4 320.8 L332.9 320.8 L333.4 320.8 L333.9 320.8 L334.4 320.8 L334.9 320.7 L335.4 320.7 L335.9 320.7 L336.4 320.7 L336.9 320.7 L337.4 320.7 L337.9 320.7 L338.4 320.6 L338.9 320.6 L339.4 320.6 L339.9 320.6 L340.4 320.6 L340.9 320.6 L341.4 320.5 L341.9 320.5 L342.4 320.5 L342.9 320.5 L343.4 320.5 L343.9 320.5 L344.4 320.4 L344.9 320.4 L345.4 320.4 L345.9 320.4 L346.3 320.4 L346.8 320.3 L347.3 320.3 L347.8 320.3 L348.3 320.3 L348.8 320.3 L349.3 320.2 L349.8 320.2 L350.3 320.2 L350.8 320.2 L351.3 320.1 L351.8 320.1 L352.3 320.1 L352.8 320.1 L353.3 320.0 L353.8 320.0 L354.3 320.0 L354.8 320.0 L355.3 319.9 L355.8 319.9 L356.3 319.9 L356.8 319.9 L357.3 319.8 L357.8 319.8 L358.3 319.8 L358.8 319.8 L359.3 319.7 L359.8 319.7 L360.3 319.7 L360.8 319.7 L361.3 319.6 L361.8 319.6 L362.3 319.6 L362.8 319.5 L363.3 319.5 L363.8 319.5 L364.3 319.5 L364.8 319.4 L365.3 319.4 L365.8 319.4 L366.3 319.3 L366.8 319.3 L367.3 319.3 L367.8 319.2 L368.3 319.2 L368.8 319.2 L369.3 319.1 L369.8 319.1 L370.3 319.1 L370.8 319.1 L371.3 319.0 L371.8 319.0 L372.3 319.0 L372.8 318.9 L373.3 318.9 L373.8 318.8 L374.3 318.8 L374.8 318.8 L375.3 318.7 L375.8 318.7 L376.3 318.7 L376.8 318.6 L377.3 318.6 L377.8 318.6 L378.3 318.5 L378.8 318.5 L379.3 318.5 L379.8 318.4 L380.3 318.4 L380.8 318.3 L381.3 318.3 L381.8 318.3 L382.3 318.2 L382.8 318.2 L383.3 318.1 L383.8 318.1 L384.3 318.1 L384.8 318.0 L385.3 318.0 L385.8 317.9 L386.3 317.9 L386.8 317.9 L387.3 317.8 L387.8 317.8 L388.3 317.7 L388.8 317.7 L389.3 317.7 L389.8 317.6 L390.3 317.6 L390.8 317.5 L391.2 317.5 L391.7 317.4 L392.2 317.4 L392.7 317.3 L393.2 317.3 L393.7 317.3 L394.2 317.2 L394.7 317.2 L395.2 317.1 L395.7 317.1 L396.2 317.0 L396.7 317.0 L397.2 316.9 L397.7 316.9 L398.2 316.8 L398.7 316.8 L399.2 316.8 L399.7 316.7 L400.2 316.7 L400.7 316.6 L401.2 316.6 L401.7 316.5 L402.2 316.5 L402.7 316.4 L403.2 316.4 L403.7 316.3 L404.2 316.3 L404.7 316.2 L405.2 316.2 L405.7 316.1 L406.2 316.1 L406.7 316.0 L407.2 316.0 L407.7 315.9 L408.2 315.9 L408.7 315.8 L409.2 315.8 L409.7 315.7 L410.2 315.6 L410.7 315.6 L411.2 315.5 L411.7 315.5 L412.2 315.4 L412.7 315.4 L413.2 315.3 L413.7 315.3 L414.1 315.2 L414.6 315.2 L415.1 315.1 L415.6 315.1 L416.1 315.0 L416.6 314.9 L417.1 314.9 L417.6 314.8 L418.1 314.8 L418.6 314.7 L419.1 314.7 L419.6 314.6 L420.1 314.5 L420.6 314.5 L421.1 314.4 L421.6 314.4 L422.1 314.3 L422.6 314.3 L423.1 314.2 L423.6 314.1 L424.1 314.1 L424.6 314.0 L425.1 314.0 L425.6 313.9 L426.1 313.8 L426.6 313.8 L427.1 313.7 L427.6 313.7 L428.1 313.6 L428.6 313.5 L429.1 313.5 L429.6 313.4 L430.1 313.3 L430.6 313.3 L431.0 313.2 L431.5 313.2 L432.0 313.1 L432.5 313.0 L433.0 313.0 L433.5 312.9 L434.0 312.8 L434.5 312.8 L435.0 312.7 L435.5 312.6 L436.0 312.6 L436.5 312.5 L437.0 312.5 L437.5 312.4 L438.0 312.3 L438.5 312.3 L439.0 312.2 L439.5 312.1 L440.0 312.1 L440.5 312.0 L441.0 311.9 L441.5 311.9 L442.0 311.8 L442.5 311.7 L443.0 311.7 L443.5 311.6 L444.0 311.5 L444.5 311.4 L444.9 311.4 L445.4 311.3 L445.9 311.2 L446.4 311.2 L446.9 311.1 L447.4 311.0 L447.9 311.0 L448.4 310.9 L448.9 310.8 L449.4 310.7 L449.9 310.7 L450.4 310.6 L450.9 310.5 L451.4 310.5 L451.9 310.4 L452.4 310.3 L452.9 310.2 L453.4 310.2 L453.9 310.1 L454.4 310.0 L454.9 310.0 L455.4 309.9 L455.9 309.8 L456.3 309.7 L456.8 309.7 L457.3 309.6 L457.8 309.5 L458.3 309.4 L458.8 309.4 L459.3 309.3 L459.8 309.2 L460.3 309.1 L460.8 309.1 L461.3 309.0 L461.8 308.9 L462.3 308.8 L462.8 308.7 L463.3 308.7 L463.8 308.6 L464.3 308.5 L464.8 308.4 L465.3 308.4 L465.8 308.3 L466.3 308.2 L466.7 308.1 L467.2 308.0 L467.7 308.0 L468.2 307.9 L468.7 307.8 L469.2 307.7 L469.7 307.7 L470.2 307.6 L470.7 307.5 L471.2 307.4 L471.7 307.3 L472.2 307.2 L472.7 307.2 L473.2 307.1 L473.7 307.0 L474.2 306.9 L474.7 306.8 L475.2 306.8 L475.6 306.7 L476.1 306.6 L476.6 306.5 L477.1 306.4 L477.6 306.3 L478.1 306.3 L478.6 306.2 L479.1 306.1 L479.6 306.0 L480.1 305.9 L480.6 305.8 L481.1 305.8 L481.6 305.7 L482.1 305.6 L482.6 305.5 L483.1 305.4 L483.6 305.3 L484.0 305.2 L484.5 305.2 L485.0 305.1 L485.5 305.0 L486.0 304.9 L486.5 304.8 L487.0 304.7 L487.5 304.6 L488.0 304.6 L488.5 304.5 L489.0 304.4 L489.5 304.3 L490.0 304.2 L490.5 304.1 L491.0 304.0 L491.5 303.9 L491.9 303.8 L492.4 303.8 L492.9 303.7 L493.4 303.6 L493.9 303.5 L494.4 303.4 L494.9 303.3 L495.4 303.2 L495.9 303.1 L496.4 303.0 L496.9 302.9 L497.4 302.9 L497.9 302.8 L498.4 302.7 L498.8 302.6 L499.3 302.5 L499.8 302.4 L500.3 302.3 L500.8 302.2 L501.3 302.1 L501.8 302.0 L502.3 301.9 L502.8 301.8 L503.3 301.7 L503.8 301.6 L504.3 301.6 L504.8 301.5 L505.3 301.4 L505.7 301.3 L506.2 301.2 L506.7 301.1 L507.2 301.0 L507.7 300.9 L508.2 300.8 L508.7 300.7 L509.2 300.6 L509.7 300.5 L510.2 300.4 L510.7 300.3 L511.2 300.2 L511.7 300.1 L512.1 300.0 L512.6 299.9 L513.1 299.8 L513.6 299.7 L514.1 299.6 L514.6 299.5 L515.1 299.4 L515.6 299.3 L516.1 299.2 L516.6 299.1 L517.1 299.0 L517.6 298.9 L518.0 298.8 L518.5 298.7 L519.0 298.6 L519.5 298.5 L520.0 298.4 L520.5 298.3 L521.0 298.2 L521.5 298.1 L522.0 298.0 L522.5 297.9 L523.0 297.8 L523.4 297.7 L523.9 297.6 L524.4 297.5 L524.9 297.4 L525.4 297.3 L525.9 297.2 L526.4 297.1 L526.9 297.0 L527.4 296.9 L527.9 296.8 L528.4 296.7 L528.8 296.6 L529.3 296.5 L529.8 296.4 L530.3 296.3 L530.8 296.2 L531.3 296.1 L531.8 296.0 L532.3 295.9 L532.8 295.7 L533.3 295.6 L533.7 295.5 L534.2 295.4 L534.7 295.3 L535.2 295.2 L535.7 295.1 L536.2 295.0 L536.7 294.9 L537.2 294.8 L537.7 294.7 L538.2 294.6 L538.6 294.5 L539.1 294.3 L539.6 294.2 L540.1 294.1 L540.6 294.0 L541.1 293.9 L541.6 293.8 L542.1 293.7 L542.6 293.6 L543.0 293.5 L543.5 293.4 L544.0 293.2 L544.5 293.1 L545.0 293.0 L545.5 292.9 L546.0 292.8 L546.5 292.7 L547.0 292.6 L547.4 292.5 L547.9 292.3 L548.4 292.2 L548.9 292.1 L549.4 292.0 L549.9 291.9 L550.4 291.8 L550.9 291.7 L551.3 291.5 L551.8 291.4 L552.3 291.3 L552.8 291.2 L553.3 291.1 L553.8 291.0 L554.3 290.9 L554.8 290.7 L555.3 290.6 L555.7 290.5 L556.2 290.4 L556.7 290.3 L557.2 290.2 L557.7 290.0 L558.2 289.9 L558.7 289.8 L559.1 289.7 L559.6 289.6 L560.1 289.4 L560.6 289.3 L561.1 289.2 L561.6 289.1 L562.1 289.0 L562.6 288.8 L563.0 288.7 L563.5 288.6 L564.0 288.5 L564.5 288.4 L565.0 288.2 L565.5 288.1 L566.0 288.0 L566.4 287.9 L566.9 287.8 L567.4 287.6 L567.9 287.5 L568.4 287.4 L568.9 287.3 L569.4 287.1 L569.8 287.0 L570.3 286.9 L570.8 286.8 L571.3 286.6 L571.8 286.5 L572.3 286.4 L572.8 286.3 L573.2 286.1 L573.7 286.0 L574.2 285.9 L574.7 285.8 L575.2 285.6 L575.7 285.5 L576.2 285.4 L576.6 285.3 L577.1 285.1 L577.6 285.0 L578.1 284.9 L578.6 284.8 L579.1 284.6 L579.5 284.5 L580.0 284.4 L580.5 284.2 L581.0 284.1 L581.5 284.0 L582.0 283.8 L582.4 283.7 L582.9 283.6 L583.4 283.5 L583.9 283.3 L584.4 283.2 L584.9 283.1 L585.3 282.9 L585.8 282.8 L586.3 282.7 L586.8 282.5 L587.3 282.4 L587.8 282.3 L588.2 282.1 L588.7 282.0 L589.2 281.9 L589.7 281.7 L590.2 281.6 L590.7 281.5 L591.1 281.3 L591.6 281.2 L592.1 281.1 L592.6 280.9 L593.1 280.8 L593.5 280.7 L594.0 280.5 L594.5 280.4 L595.0 280.2 L595.5 280.1 L596.0 280.0 L596.4 279.8 L596.9 279.7 L597.4 279.6 L597.9 279.4 L598.4 279.3 L598.8 279.1 L599.3 279.0 L599.8 278.9 L600.3 278.7 L600.8 278.6 L601.2 278.4 L601.7 278.3 L602.2 278.2 L602.7 278.0 L603.2 277.9 L603.6 277.7 L604.1 277.6 L604.6 277.5 L605.1 277.3 L605.6 277.2 L606.0 277.0 L606.5 276.9 L607.0 276.7 L607.5 276.6 L608.0 276.5 L608.4 276.3 L608.9 276.2 L609.4 276.0 L609.9 275.9 L610.4 275.7 L610.8 275.6 L611.3 275.4 L611.8 275.3 L612.3 275.2 L612.7 275.0 L613.2 274.9 L613.7 274.7 L614.2 274.6 L614.7 274.4 L615.1 274.3 L615.6 274.1 L616.1 274.0 L616.6 273.8 L617.0 273.7 L617.5 273.5 L618.0 273.4 L618.5 273.2 L619.0 273.1 L619.4 272.9 L619.9 272.8 L620.4 272.6 L620.9 272.5 L621.3 272.3 L621.8 272.2 L622.3 272.0 L622.8 271.9 L623.2 271.7 L623.7 271.6 L624.2 271.4 L624.7 271.3 L625.1 271.1 L625.6 271.0 L626.1 270.8 L626.6 270.6 L627.1 270.5 L627.5 270.3 L628.0 270.2 L628.5 270.0 L629.0 269.9 L629.4 269.7 L629.9 269.6 L630.4 269.4 L630.9 269.2 L631.3 269.1 L631.8 268.9 L632.3 268.8 L632.7 268.6 L633.2 268.4 L633.7 268.3 L634.2 268.1 L634.6 268.0 L635.1 267.8 L635.6 267.7 L636.1 267.5 L636.5 267.3 L637.0 267.2 L637.5 267.0 L638.0 266.9 L638.4 266.7 L638.9 266.5 L639.4 266.4 L639.8 266.2 L640.3 266.0 L640.8 265.9 L641.3 265.7 L641.7 265.5 L642.2 265.4 L642.7 265.2 L643.2 265.1 L643.6 264.9 L644.1 264.7 L644.6 264.6 L645.0 264.4 L645.5 264.2 L646.0 264.1 L646.5 263.9 L646.9 263.7 L647.4 263.6 L647.9 263.4 L648.3 263.2 L648.8 263.1 L649.3 262.9 L649.7 262.7 L650.2 262.6 L650.7 262.4 L651.2 262.2 L651.6 262.0 L652.1 261.9 L652.6 261.7 L653.0 261.5 L653.5 261.4 L654.0 261.2 L654.4 261.0 L654.9 260.9 L655.4 260.7 L655.9 260.5 L656.3 260.3 L656.8 260.2 L657.3 260.0 L657.7 259.8 L658.2 259.6 L658.7 259.5 L659.1 259.3 L659.6 259.1 L660.1 258.9 L660.5 258.8 L661.0 258.6 L661.5 258.4 L661.9 258.2 L662.4 258.1 L662.9 257.9 L663.3 257.7 L663.8 257.5 L664.3 257.4 L664.7 257.2 L665.2 257.0 L665.7 256.8 L666.1 256.6 L666.6 256.5 L667.1 256.3 L667.5 256.1 L668.0 255.9 L668.5 255.7 L668.9 255.6 L669.4 255.4 L669.9 255.2 L670.3 255.0 L670.8 254.8 L671.3 254.6 L671.7 254.5 L672.2 254.3 L672.6 254.1 L673.1 253.9 L673.6 253.7 L674.0 253.5 L674.5 253.4 L675.0 253.2 L675.4 253.0 L675.9 252.8 L676.4 252.6 L676.8 252.4 L677.3 252.2 L677.7 252.1 L678.2 251.9 L678.7 251.7 L679.1 251.5 L679.6 251.3 L680.1 251.1 L680.5 250.9 L681.0 250.7 L681.4 250.6 L681.9 250.4 L682.4 250.2 L682.8 250.0 L683.3 249.8 L683.8 249.6 L684.2 249.4 L684.7 249.2 L685.1 249.0 L685.6 248.8 L686.1 248.6 L686.5 248.4 L687.0 248.3 L687.4 248.1 L687.9 247.9 L688.4 247.7 L688.8 247.5 L689.3 247.3 L689.7 247.1 L690.2 246.9 L690.7 246.7 L691.1 246.5 L691.6 246.3 L692.0 246.1 L692.5 245.9 L693.0 245.7 L693.4 245.5 L693.9 245.3 L694.3 245.1 L694.8 244.9 L695.2 244.7 L695.7 244.5 L696.2 244.3 L696.6 244.1 L697.1 243.9 L697.5 243.7 L698.0 243.5 L698.4 243.3 L698.9 243.1 L699.4 242.9 L699.8 242.7 L700.3 242.5 L700.7 242.3 L701.2 242.1 L701.6 241.9 L702.1 241.7 L702.6 241.5 L703.0 241.3 L703.5 241.1 L703.9 240.9 L704.4 240.7 L704.8 240.5 L705.3 240.3 L705.7 240.0 L706.2 239.8 L706.7 239.6 L707.1 239.4 L707.6 239.2 L708.0 239.0 L708.5 238.8 L708.9 238.6 L709.4 238.4 L709.8 238.2 L710.3 238.0 L710.7 237.8 L711.2 237.5 L711.6 237.3 L712.1 237.1 L712.5 236.9 L713.0 236.7 L713.5 236.5 L713.9 236.3 L714.4 236.1 L714.8 235.8 L715.3 235.6 L715.7 235.4 L716.2 235.2 L716.6 235.0 L717.1 234.8 L717.5 234.6 L718.0 234.3 L718.4 234.1 L718.9 233.9 L719.3 233.7 L719.8 233.5 L720.2 233.3 L720.7 233.0 L721.1 232.8 L721.6 232.6 L722.0 232.4 L722.5 232.2 L722.9 231.9 L723.4 231.7 L723.8 231.5 L724.3 231.3 L724.7 231.1 L725.2 230.8 L725.6 230.6 L726.1 230.4 L726.5 230.2 L726.9 230.0 L727.4 229.7 L727.8 229.5 L728.3 229.3 L728.7 229.1 L729.2 228.8 L729.6 228.6 L730.1 228.4 L730.5 228.2 L731.0 227.9 L731.4 227.7 L731.9 227.5 L732.3 227.3 L732.8 227.0 L733.2 226.8 L733.6 226.6 L734.1 226.3 L734.5 226.1 L735.0 225.9 L735.4 225.7 L735.9 225.4 L736.3 225.2 L736.8 225.0 L737.2 224.7 L737.6 224.5 L738.1 224.3 L738.5 224.0 L739.0 223.8 L739.4 223.6 L739.9 223.3 L740.3 223.1 L740.7 222.9 L741.2 222.6 L741.6 222.4 L742.1 222.2 L742.5 221.9 L743.0 221.7 L743.4 221.5 L743.8 221.2 L744.3 221.0 L744.7 220.7 L745.2 220.5 L745.6 220.3 L746.0 220.0 L746.5 219.8 L746.9 219.6 L747.4 219.3 L747.8 219.1 L748.2 218.8 L748.7 218.6 L749.1 218.4 L749.6 218.1 L750.0 217.9 L750.4 217.6 L750.9 217.4 L751.3 217.1 L751.8 216.9 L752.2 216.7 L752.6 216.4 L753.1 216.2 L753.5 215.9 L754.0 215.7 L754.4 215.4 L754.8 215.2 L755.3 215.0 L755.7 214.7 L756.1 214.5 L756.6 214.2 L757.0 214.0 L757.4 213.7 L757.9 213.5 L758.3 213.2 L758.8 213.0 L759.2 212.7 L759.6 212.5 L760.1 212.2 L760.5 212.0 L760.9 211.7 L761.4 211.5 L761.8 211.2 L762.2 211.0 L762.7 210.7 L763.1 210.5 L763.5 210.2 L764.0 210.0 L764.4 209.7 L764.8 209.5 L765.3 209.2 L765.7 209.0 L766.1 208.7 L766.6 208.4 L767.0 208.2 L767.4 207.9 L767.9 207.7 L768.3 207.4 L768.7 207.2 L769.2 206.9 L769.6 206.7 L770.0 206.4 L770.5 206.2 L770.9 205.9 L771.3 205.6 L771.8 205.4 L772.2 205.1 L772.6 204.9 L773.1 204.6 L773.5 204.3 L773.9 204.1 L774.3 203.8 L774.8 203.6 L775.2 203.3 L775.6 203.1 L776.1 202.8 L776.5 202.5 L776.9 202.3 L777.4 202.0 L777.8 201.8 L778.2 201.5 L778.6 201.2 L779.1 201.0 L779.5 200.7 L779.9 200.4 L780.4 200.2 L780.8 199.9 L781.2 199.7 L781.6 199.4 L782.1 199.1 L782.5 198.9 L782.9 198.6 L783.4 198.3 L783.8 198.1 L784.2 197.8 L784.6 197.5 L785.1 197.3 L785.5 197.0 L785.9 196.8 L786.3 196.5 L786.8 196.2 L787.2 196.0 L787.6 195.7 L788.1 195.4 L788.5 195.2 L788.9 194.9 L789.3 194.6 L789.8 194.4 L790.2 194.1 L790.6 193.8 L791.0 193.6 L791.5 193.3 L791.9 193.0 L792.3 192.8 L792.7 192.5 L793.2 192.2 L793.6 192.0 L794.0 191.7 L794.4 191.4 L794.9 191.1 L795.3 190.9 L795.7 190.6 L796.1 190.3 L796.6 190.1 L797.0 189.8 L797.4 189.5 L797.8 189.3 L798.3 189.0 L798.7 188.7 L799.1 188.5 L799.5 188.2 L800.0 187.9 L800.4 187.6 L800.8 187.4 L801.2 187.1 L801.6 186.8 L802.1 186.6 L802.5 186.3 L802.9 186.0 L803.3 185.7 L803.8 185.5 L804.2 185.2 L804.6 184.9 L805.0 184.7 L805.4 184.4 L805.9 184.1 L806.3 183.8 L806.7 183.6 L807.1 183.3 L807.6 183.0 L808.0 182.8 L808.4 182.5 L808.8 182.2 L809.2 181.9 L809.7 181.7 L810.1 181.4 L810.5 181.1 L810.9 180.8 L811.3 180.6 L811.8 180.3 L812.2 180.0 L812.6 179.7 L813.0 179.5 L813.4 179.2 L813.9 178.9 L814.3 178.7 L814.7 178.4 L815.1 178.1 L815.5 177.8 L816.0 177.6 L816.4 177.3 L816.8 177.0 L817.2 176.7 L817.6 176.5 L818.1 176.2 L818.5 175.9 L818.9 175.6 L819.3 175.4 L819.7 175.1 L820.2 174.8 L820.6 174.5 L821.0 174.3 L821.4 174.0 L821.8 173.7 L822.3 173.4 L822.7 173.2 L823.1 172.9 L823.5 172.6 L823.9 172.3 L824.3 172.1 L824.8 171.8 L825.2 171.5 L825.6 171.2 L826.0 171.0 L826.4 170.7 L826.9 170.4 L827.3 170.1 L827.7 169.9 L828.1 169.6 L828.5 169.3 L828.9 169.0 L829.4 168.8 L829.8 168.5 L830.2 168.2 L830.6 167.9 L831.0 167.7 L831.4 167.4 L831.9 167.1 L832.3 166.8 L832.7 166.6 L833.1 166.3 L833.5 166.0 L833.9 165.7 L834.4 165.5 L834.8 165.2 L835.2 164.9 L835.6 164.6 L836.0 164.4 L836.4 164.1 L836.9 163.8 L837.3 163.5 L837.7 163.3 L838.1 163.0 L838.5 162.7 L838.9 162.5 L839.4 162.2 L839.8 161.9 L840.2 161.6 L840.6 161.4 L841.0 161.1 L841.4 160.8 L841.8 160.5 L842.3 160.3 L842.7 160.0 L843.1 159.7 L843.5 159.4 L843.9 159.2 L844.3 158.9 L844.8 158.6 L845.2 158.3 L845.6 158.1 L846.0 157.8 L846.4 157.5 L846.8 157.3 L847.2 157.0 L847.7 156.7 L848.1 156.4 L848.5 156.2 L848.9 155.9 L849.3 155.6 L849.7 155.3 L850.2 155.1 L850.6 154.8 L851.0 154.5 L851.4 154.3 L851.8 154.0 L852.2 153.7 L852.6 153.4 L853.0 153.2 L853.5 152.9 L853.9 152.6 L854.3 152.3 L854.7 152.0 L855.1 151.8 L855.5 151.5 L855.9 151.2 L856.3 150.9 L856.7 150.6 L857.1 150.3 L857.5 150.0 L857.9 149.7 L858.3 149.4 L858.7 149.1 L859.1 148.8 L859.5 148.5 L859.8 148.2 L860.2 147.9 L860.6 147.6 L861.0 147.2 L861.3 146.9 L861.7 146.6 L862.1 146.2 L862.4 145.9 L862.8 145.5 L863.2 145.2 L863.5 144.8 L863.9 144.5 L864.2 144.1 L864.6 143.8 L864.9 143.4 L865.3 143.0 L865.6 142.6 L865.9 142.3 L866.3 141.9 L866.6 141.5 L866.9 141.1 L867.3 140.7 L867.6 140.3 L867.9 139.9 L868.3 139.6 L868.6 139.2 L868.9 138.8 L869.2 138.4 L869.5 138.0 L869.9 137.6 L870.2 137.2 L870.5 136.8 L870.8 136.4 L871.1 136.0 L871.4 135.6 L871.8 135.2 L872.1 134.8 L872.4 134.4 L872.7 133.9 L873.0 133.5 L873.3 133.1 L873.6 132.7 L874.0 132.3 L874.3 132.0 L874.6 131.6 L874.9 131.2 L875.2 130.8 L875.5 130.4 L875.9 130.0 L876.2 129.6 L876.5 129.2 L876.8 128.8 L877.1 128.5 L877.5 128.1 L877.8 127.7 L878.1 127.3 L878.4 127.0 L878.8 126.6 L879.1 126.3 L879.4 125.9 L879.8 125.5 L880.1 125.2" fill="none" stroke="#1e1e1e" stroke-width="2.6" stroke-linejoin="round"/>
<path d="M880.1 125.2 L880.2 125.8 L880.4 126.3 L880.5 126.9 L880.6 127.4 L880.7 128.0 L880.8 128.5 L880.9 129.1 L880.9 129.6 L881.0 130.1 L881.0 130.7 L881.1 131.2 L881.1 131.7 L881.1 132.2 L881.1 132.7 L881.1 133.3 L881.1 133.8 L881.1 134.3 L881.1 134.8 L881.1 135.3 L881.0 135.8 L881.0 136.2 L880.9 136.7 L880.9 137.2 L880.8 137.7 L880.7 138.2 L880.6 138.6 L880.5 139.1 L880.4 139.6 L880.3 140.0 L880.2 140.5 L880.1 141.0 L879.9 141.4 L879.8 141.9 L879.7 142.3 L879.5 142.8 L879.3 143.2 L879.2 143.6 L879.0 144.1 L878.8 144.5 L878.6 144.9 L878.4 145.4 L878.2 145.8 L878.0 146.2 L877.8 146.6 L877.6 147.0 L877.4 147.4 L877.2 147.9 L876.9 148.3 L876.7 148.7 L876.5 149.1 L876.2 149.5 L876.0 149.9 L875.7 150.3 L875.4 150.6 L875.2 151.0 L874.9 151.4 L874.6 151.8 L874.4 152.2 L874.1 152.6 L873.8 152.9 L873.5 153.3 L873.2 153.7 L872.9 154.0 L872.6 154.4 L872.3 154.8 L872.0 155.1 L871.7 155.5 L871.3 155.8 L871.0 156.2 L870.7 156.6 L870.4 156.9 L870.0 157.2 L869.7 157.6 L869.4 157.9 L869.0 158.3 L868.7 158.6 L868.4 159.0 L868.0 159.3 L867.7 159.6 L867.3 160.0 L867.0 160.3 L866.6 160.6 L866.3 160.9 L865.9 161.3 L865.5 161.6 L865.2 161.9 L864.8 162.2 L864.5 162.5 L864.1 162.9 L863.7 163.2 L863.3 163.5 L863.0 163.8 L862.6 164.1 L862.2 164.4 L861.8 164.7 L861.5 165.0 L861.1 165.3 L860.7 165.6 L860.3 165.9 L859.9 166.2 L859.5 166.5 L859.1 166.8 L858.7 167.1 L858.3 167.4 L857.9 167.7 L857.5 167.9 L857.1 168.2 L856.7 168.5 L856.3 168.8 L855.9 169.1 L855.5 169.4 L855.1 169.6 L854.7 169.9 L854.3 170.2 L853.9 170.5 L853.5 170.7 L853.0 171.0 L852.6 171.3 L852.2 171.5 L851.8 171.8 L851.4 172.1 L850.9 172.3 L850.5 172.6 L850.1 172.9 L849.7 173.1 L849.2 173.4 L848.8 173.7 L848.4 173.9 L847.9 174.2 L847.5 174.4 L847.1 174.7 L846.6 174.9 L846.2 175.2 L845.8 175.4 L845.3 175.7 L844.9 175.9 L844.4 176.2 L844.0 176.4 L843.6 176.7 L843.1 176.9 L842.7 177.2 L842.2 177.4 L841.8 177.7 L841.3 177.9 L840.9 178.2 L840.4 178.4 L840.0 178.6 L839.5 178.9 L839.1 179.1 L838.6 179.4 L838.2 179.6 L837.7 179.8 L837.2 180.1 L836.8 180.3 L836.3 180.5 L835.9 180.8 L835.4 181.0 L835.0 181.2 L834.5 181.5 L834.0 181.7 L833.6 181.9 L833.1 182.2 L832.7 182.4 L832.2 182.6 L831.7 182.9 L831.3 183.1 L830.8 183.3 L830.3 183.5 L829.9 183.8 L829.4 184.0 L828.9 184.2 L828.5 184.5 L828.0 184.7 L827.5 184.9 L827.1 185.1 L826.6 185.4 L826.1 185.6 L825.7 185.8 L825.2 186.0 L824.7 186.3 L824.3 186.5 L823.8 186.7 L823.3 186.9 L822.9 187.2 L822.4 187.4 L821.9 187.6 L821.5 187.8 L821.0 188.1 L820.5 188.3 L820.1 188.5 L819.6 188.7 L819.1 189.0 L818.7 189.2 L818.2 189.4 L817.7 189.6 L817.2 189.9 L816.8 190.1 L816.3 190.3 L815.8 190.5 L815.4 190.8 L814.9 191.0 L814.4 191.2 L814.0 191.4 L813.5 191.7 L813.1 191.9 L812.6 192.1 L812.1 192.4 L811.7 192.6 L811.2 192.8 L810.7 193.0 L810.3 193.3 L809.8 193.5 L809.3 193.7 L808.9 194.0 L808.4 194.2 L808.0 194.4 L807.5 194.7 L807.0 194.9 L806.6 195.1 L806.1 195.3 L805.7 195.6 L805.2 195.8 L804.8 196.1 L804.3 196.3 L803.9 196.5 L803.4 196.8 L802.9 197.0 L802.5 197.2 L802.0 197.5 L801.6 197.7 L801.1 198.0 L800.7 198.2 L800.3 198.4 L799.8 198.7 L799.4 198.9 L798.9 199.2 L798.5 199.4 L798.0 199.7 L797.6 199.9 L797.1 200.1 L796.7 200.4 L796.3 200.6 L795.8 200.9 L795.4 201.1 L795.0 201.4 L794.5 201.6 L794.1 201.9 L793.7 202.2 L793.2 202.4 L792.8 202.7 L792.4 202.9 L791.9 203.2 L791.5 203.4 L791.1 203.7 L790.6 203.9 L790.2 204.2 L789.8 204.5 L789.4 204.7 L788.9 205.0 L788.5 205.2 L788.1 205.5 L787.7 205.8 L787.2 206.0 L786.8 206.3 L786.4 206.5 L786.0 206.8 L785.6 207.1 L785.1 207.3 L784.7 207.6 L784.3 207.9 L783.9 208.1 L783.5 208.4 L783.0 208.7 L782.6 208.9 L782.2 209.2 L781.8 209.5 L781.4 209.7 L781.0 210.0 L780.6 210.3 L780.1 210.5 L779.7 210.8 L779.3 211.1 L778.9 211.3 L778.5 211.6 L778.1 211.9 L777.7 212.1 L777.2 212.4 L776.8 212.7 L776.4 212.9 L776.0 213.2 L775.6 213.5 L775.2 213.7 L774.8 214.0 L774.4 214.3 L774.0 214.6 L773.5 214.8 L773.1 215.1 L772.7 215.4 L772.3 215.6 L771.9 215.9 L771.5 216.2 L771.1 216.4 L770.7 216.7 L770.3 217.0 L769.9 217.3 L769.4 217.5 L769.0 217.8 L768.6 218.1 L768.2 218.3 L767.8 218.6 L767.4 218.9 L767.0 219.1 L766.6 219.4 L766.2 219.7 L765.8 219.9 L765.3 220.2 L764.9 220.5 L764.5 220.8 L764.1 221.0 L763.7 221.3 L763.3 221.6 L762.9 221.8 L762.5 222.1 L762.1 222.4 L761.6 222.6 L761.2 222.9 L760.8 223.2 L760.4 223.4 L760.0 223.7 L759.6 223.9 L759.2 224.2 L758.8 224.5 L758.3 224.7 L757.9 225.0 L757.5 225.3 L757.1 225.5 L756.7 225.8 L756.3 226.0 L755.8 226.3 L755.4 226.6 L755.0 226.8 L754.6 227.1 L754.2 227.3 L753.8 227.6 L753.3 227.9 L752.9 228.1 L752.5 228.4 L752.1 228.6 L751.6 228.9 L751.2 229.1 L750.8 229.4 L750.4 229.6 L750.0 229.9 L749.5 230.1 L749.1 230.4 L748.7 230.6 L748.2 230.9 L747.8 231.1 L747.4 231.4 L747.0 231.6 L746.5 231.9 L746.1 232.1 L745.7 232.4 L745.2 232.6 L744.8 232.9 L744.4 233.1 L743.9 233.3 L743.5 233.6 L743.1 233.8 L742.6 234.1 L742.2 234.3 L741.8 234.6 L741.3 234.8 L740.9 235.0 L740.5 235.3 L740.0 235.5 L739.6 235.7 L739.1 236.0 L738.7 236.2 L738.3 236.5 L737.8 236.7 L737.4 236.9 L736.9 237.2 L736.5 237.4 L736.1 237.6 L735.6 237.9 L735.2 238.1 L734.7 238.3 L734.3 238.6 L733.8 238.8 L733.4 239.0 L733.0 239.3 L732.5 239.5 L732.1 239.7 L731.6 239.9 L731.2 240.2 L730.7 240.4 L730.3 240.6 L729.8 240.9 L729.4 241.1 L728.9 241.3 L728.5 241.5 L728.0 241.8 L727.6 242.0 L727.1 242.2 L726.7 242.4 L726.2 242.7 L725.8 242.9 L725.3 243.1 L724.9 243.3 L724.4 243.6 L724.0 243.8 L723.5 244.0 L723.1 244.2 L722.6 244.4 L722.2 244.7 L721.7 244.9 L721.3 245.1 L720.8 245.3 L720.4 245.6 L719.9 245.8 L719.5 246.0 L719.0 246.2 L718.6 246.4 L718.1 246.7 L717.6 246.9 L717.2 247.1 L716.7 247.3 L716.3 247.5 L715.8 247.8 L715.4 248.0 L714.9 248.2 L714.5 248.4 L714.0 248.6 L713.6 248.8 L713.1 249.1 L712.7 249.3 L712.2 249.5 L711.7 249.7 L711.3 249.9 L710.8 250.2 L710.4 250.4 L709.9 250.6 L709.5 250.8 L709.0 251.0 L708.6 251.2 L708.1 251.5 L707.6 251.7 L707.2 251.9 L706.7 252.1 L706.3 252.3 L705.8 252.5 L705.4 252.8 L704.9 253.0 L704.5 253.2 L704.0 253.4 L703.5 253.6 L703.1 253.8 L702.6 254.1 L702.2 254.3 L701.7 254.5 L701.3 254.7 L700.8 254.9 L700.4 255.1 L699.9 255.4 L699.5 255.6 L699.0 255.8 L698.6 256.0 L698.1 256.2 L697.6 256.4 L697.2 256.7 L696.7 256.9 L696.3 257.1 L695.8 257.3 L695.4 257.5 L694.9 257.8 L694.5 258.0 L694.0 258.2 L693.6 258.4 L693.1 258.6 L692.7 258.8 L692.2 259.1 L691.8 259.3 L691.3 259.5 L690.9 259.7 L690.4 259.9 L690.0 260.2 L689.5 260.4 L689.1 260.6 L688.6 260.8 L688.2 261.0 L687.7 261.3 L687.3 261.5 L686.8 261.7 L686.4 261.9 L685.9 262.1 L685.5 262.3 L685.0 262.6 L684.6 262.8 L684.1 263.0 L683.7 263.2 L683.2 263.5 L682.8 263.7 L682.3 263.9 L681.9 264.1 L681.4 264.3 L681.0 264.6 L680.5 264.8 L680.1 265.0 L679.6 265.2 L679.2 265.4 L678.7 265.7 L678.3 265.9 L677.8 266.1 L677.4 266.3 L676.9 266.6 L676.5 266.8 L676.0 267.0 L675.6 267.2 L675.1 267.4 L674.7 267.7 L674.2 267.9 L673.8 268.1 L673.3 268.3 L672.9 268.6 L672.5 268.8 L672.0 269.0 L671.6 269.2 L671.1 269.5 L670.7 269.7 L670.2 269.9 L669.8 270.1 L669.3 270.4 L668.9 270.6 L668.4 270.8 L668.0 271.0 L667.5 271.3 L667.1 271.5 L666.7 271.7 L666.2 271.9 L665.8 272.2 L665.3 272.4 L664.9 272.6 L664.4 272.8 L664.0 273.1 L663.5 273.3 L663.1 273.5 L662.7 273.8 L662.2 274.0 L661.8 274.2 L661.3 274.4 L660.9 274.7 L660.4 274.9 L660.0 275.1 L659.5 275.4 L659.1 275.6 L658.7 275.8 L658.2 276.1 L657.8 276.3 L657.3 276.5 L656.9 276.7 L656.4 277.0 L656.0 277.2 L655.6 277.4 L655.1 277.7 L654.7 277.9 L654.2 278.1 L653.8 278.4 L653.3 278.6 L652.9 278.8 L652.5 279.1 L652.0 279.3 L651.6 279.5 L651.1 279.8 L650.7 280.0 L650.2 280.2 L649.8 280.5 L649.4 280.7 L648.9 280.9 L648.5 281.2 L648.0 281.4 L647.6 281.7 L647.2 281.9 L646.7 282.1 L646.3 282.4 L645.8 282.6 L645.4 282.8 L644.9 283.1 L644.5 283.3 L644.1 283.6 L643.6 283.8 L643.2 284.0 L642.7 284.3 L642.3 284.5 L641.9 284.7 L641.4 285.0 L641.0 285.2 L640.5 285.5 L640.1 285.7 L639.7 285.9 L639.2 286.2 L638.8 286.4 L638.3 286.7 L637.9 286.9 L637.5 287.1 L637.0 287.4 L636.6 287.6 L636.1 287.9 L635.7 288.1 L635.3 288.3 L634.8 288.6 L634.4 288.8 L633.9 289.1 L633.5 289.3 L633.1 289.5 L632.6 289.8 L632.2 290.0 L631.7 290.3 L631.3 290.5 L630.9 290.7 L630.4 291.0 L630.0 291.2 L629.5 291.5 L629.1 291.7 L628.7 291.9 L628.2 292.2 L627.8 292.4 L627.3 292.7 L626.9 292.9 L626.5 293.1 L626.0 293.4 L625.6 293.6 L625.1 293.9 L624.7 294.1 L624.2 294.3 L623.8 294.6 L623.4 294.8 L622.9 295.0 L622.5 295.3 L622.0 295.5 L621.6 295.8 L621.2 296.0 L620.7 296.2 L620.3 296.5 L619.8 296.7 L619.4 297.0 L619.0 297.2 L618.5 297.4 L618.1 297.7 L617.6 297.9 L617.2 298.1 L616.7 298.4 L616.3 298.6 L615.9 298.8 L615.4 299.1 L615.0 299.3 L614.5 299.6 L614.1 299.8 L613.6 300.0 L613.2 300.3 L612.8 300.5 L612.3 300.7 L611.9 301.0 L611.4 301.2 L611.0 301.4 L610.5 301.7 L610.1 301.9 L609.7 302.1 L609.2 302.4 L608.8 302.6 L608.3 302.8 L607.9 303.0 L607.4 303.3 L607.0 303.5 L606.5 303.7 L606.1 304.0 L605.7 304.2 L605.2 304.4 L604.8 304.6 L604.3 304.9 L603.9 305.1 L603.4 305.3 L603.0 305.6 L602.5 305.8 L602.1 306.0 L601.6 306.2 L601.2 306.5 L600.7 306.7 L600.3 306.9 L599.8 307.1 L599.4 307.3 L599.0 307.6 L598.5 307.8 L598.1 308.0 L597.6 308.2 L597.2 308.5 L596.7 308.7 L596.3 308.9 L595.8 309.1 L595.4 309.3 L594.9 309.5 L594.5 309.8 L594.0 310.0 L593.6 310.2 L593.1 310.4 L592.7 310.6 L592.2 310.8 L591.8 311.1 L591.3 311.3 L590.9 311.5 L590.4 311.7 L590.0 311.9 L589.5 312.1 L589.1 312.3 L588.6 312.6 L588.1 312.8 L587.7 313.0 L587.2 313.2 L586.8 313.4 L586.3 313.6 L585.9 313.8 L585.4 314.0 L585.0 314.2 L584.5 314.4 L584.1 314.6 L583.6 314.9 L583.2 315.1 L582.7 315.3 L582.3 315.5 L581.8 315.7 L581.3 315.9 L580.9 316.1 L580.4 316.3 L580.0 316.5 L579.5 316.7 L579.1 316.9 L578.6 317.1 L578.2 317.3 L577.7 317.5 L577.2 317.7 L576.8 317.9 L576.3 318.1 L575.9 318.3 L575.4 318.5 L575.0 318.7 L574.5 318.9 L574.0 319.1 L573.6 319.3 L573.1 319.5 L572.7 319.7 L572.2 319.9 L571.8 320.1 L571.3 320.3 L570.8 320.5 L570.4 320.7 L569.9 320.9 L569.5 321.1 L569.0 321.3 L568.5 321.5 L568.1 321.7 L567.6 321.9 L567.2 322.1 L566.7 322.2 L566.2 322.4 L565.8 322.6 L565.3 322.8 L564.9 323.0 L564.4 323.2 L563.9 323.4 L563.5 323.6 L563.0 323.8 L562.6 324.0 L562.1 324.2 L561.6 324.3 L561.2 324.5 L560.7 324.7 L560.3 324.9 L559.8 325.1 L559.3 325.3 L558.9 325.5 L558.4 325.7 L557.9 325.9 L557.5 326.0 L557.0 326.2 L556.6 326.4 L556.1 326.6 L555.6 326.8 L555.2 327.0 L554.7 327.2 L554.2 327.3 L553.8 327.5 L553.3 327.7 L552.9 327.9 L552.4 328.1 L551.9 328.3 L551.5 328.4 L551.0 328.6 L550.5 328.8 L550.1 329.0 L549.6 329.2 L549.1 329.3 L548.7 329.5 L548.2 329.7 L547.7 329.9 L547.3 330.1 L546.8 330.3 L546.3 330.4 L545.9 330.6 L545.4 330.8 L545.0 331.0 L544.5 331.1 L544.0 331.3 L543.6 331.5 L543.1 331.7 L542.6 331.9 L542.2 332.0 L541.7 332.2 L541.2 332.4 L540.8 332.6 L540.3 332.7 L539.8 332.9 L539.4 333.1 L538.9 333.3 L538.4 333.4 L538.0 333.6 L537.5 333.8 L537.0 334.0 L536.6 334.1 L536.1 334.3 L535.6 334.5 L535.1 334.7 L534.7 334.8 L534.2 335.0 L533.7 335.2 L533.3 335.4 L532.8 335.5 L532.3 335.7 L531.9 335.9 L531.4 336.1 L530.9 336.2 L530.5 336.4 L530.0 336.6 L529.5 336.7 L529.1 336.9 L528.6 337.1 L528.1 337.3 L527.6 337.4 L527.2 337.6 L526.7 337.8 L526.2 337.9 L525.8 338.1 L525.3 338.3 L524.8 338.4 L524.4 338.6 L523.9 338.8 L523.4 339.0 L523.0 339.1 L522.5 339.3 L522.0 339.5 L521.5 339.6 L521.1 339.8 L520.6 340.0 L520.1 340.1 L519.7 340.3 L519.2 340.5 L518.7 340.6 L518.2 340.8 L517.8 341.0 L517.3 341.1 L516.8 341.3 L516.4 341.5 L515.9 341.6 L515.4 341.8 L514.9 342.0 L514.5 342.1 L514.0 342.3 L513.5 342.5 L513.1 342.6 L512.6 342.8 L512.1 343.0 L511.6 343.1 L511.2 343.3 L510.7 343.5 L510.2 343.6 L509.8 343.8 L509.3 344.0 L508.8 344.1 L508.3 344.3 L507.9 344.5 L507.4 344.6 L506.9 344.8 L506.4 344.9 L506.0 345.1 L505.5 345.3 L505.0 345.4 L504.6 345.6 L504.1 345.8 L503.6 345.9 L503.1 346.1 L502.7 346.3 L502.2 346.4 L501.7 346.6 L501.2 346.7 L500.8 346.9 L500.3 347.1 L499.8 347.2 L499.3 347.4 L498.9 347.6 L498.4 347.7 L497.9 347.9 L497.5 348.0 L497.0 348.2 L496.5 348.4 L496.0 348.5 L495.6 348.7 L495.1 348.9 L494.6 349.0 L494.1 349.2 L493.7 349.3 L493.2 349.5 L492.7 349.7 L492.2 349.8 L491.8 350.0 L491.3 350.2 L490.8 350.3 L490.3 350.5 L489.9 350.6 L489.4 350.8 L488.9 351.0 L488.4 351.1 L488.0 351.3 L487.5 351.4 L487.0 351.6 L486.5 351.8 L486.1 351.9 L485.6 352.1 L485.1 352.3 L484.7 352.4 L484.2 352.6 L483.7 352.7 L483.2 352.9 L482.8 353.1 L482.3 353.2 L481.8 353.4 L481.3 353.5 L480.9 353.7 L480.4 353.9 L479.9 354.0 L479.4 354.2 L479.0 354.3 L478.5 354.5 L478.0 354.7 L477.5 354.8 L477.1 355.0 L476.6 355.2 L476.1 355.3 L475.6 355.5 L475.2 355.6 L474.7 355.8 L474.2 356.0 L473.7 356.1 L473.3 356.3 L472.8 356.4 L472.3 356.6 L471.8 356.8 L471.4 356.9 L470.9 357.1 L470.4 357.2 L469.9 357.4 L469.5 357.6 L469.0 357.7 L468.5 357.9 L468.0 358.1 L467.6 358.2 L467.1 358.4 L466.6 358.5 L466.1 358.7 L465.7 358.9 L465.2 359.0 L464.7 359.2 L464.2 359.3 L463.8 359.5 L463.3 359.7 L462.8 359.8 L462.3 360.0 L461.8 360.2 L461.4 360.3 L460.9 360.5 L460.4 360.6 L459.9 360.8 L459.5 361.0 L459.0 361.1 L458.5 361.3 L458.0 361.5 L457.6 361.6 L457.1 361.8 L456.6 361.9 L456.1 362.1 L455.7 362.3 L455.2 362.4 L454.7 362.6 L454.2 362.8 L453.8 362.9 L453.3 363.1 L452.8 363.3 L452.3 363.4 L451.9 363.6 L451.4 363.7 L450.9 363.9 L450.4 364.1 L450.0 364.2 L449.5 364.4 L449.0 364.6 L448.5 364.7 L448.1 364.9 L447.6 365.1 L447.1 365.2 L446.6 365.4 L446.2 365.6 L445.7 365.7 L445.2 365.9 L444.8 366.1 L444.3 366.2 L443.8 366.4 L443.3 366.6 L442.9 366.7 L442.4 366.9 L441.9 367.1 L441.4 367.2 L441.0 367.4 L440.5 367.6 L440.0 367.7 L439.5 367.9 L439.1 368.1 L438.6 368.2 L438.1 368.4 L437.6 368.6 L437.2 368.7 L436.7 368.9 L436.2 369.1 L435.7 369.2 L435.3 369.4 L434.8 369.6 L434.3 369.8 L433.9 369.9 L433.4 370.1 L432.9 370.3 L432.4 370.4 L432.0 370.6 L431.5 370.8 L431.0 370.9 L430.5 371.1 L430.1 371.3 L429.6 371.5 L429.1 371.6 L428.7 371.8 L428.2 372.0 L427.7 372.2 L427.2 372.3 L426.8 372.5 L426.3 372.7 L425.8 372.8 L425.4 373.0 L424.9 373.2 L424.4 373.4 L423.9 373.5 L423.5 373.7 L423.0 373.9 L422.5 374.1 L422.1 374.3 L421.6 374.4 L421.1 374.6 L420.7 374.8 L420.2 375.0 L419.7 375.1 L419.2 375.3 L418.8 375.5 L418.3 375.7 L417.8 375.9 L417.4 376.0 L416.9 376.2 L416.4 376.4 L416.0 376.6 L415.5 376.8 L415.0 376.9 L414.6 377.1 L414.1 377.3 L413.6 377.5 L413.2 377.7 L412.7 377.8 L412.2 378.0 L411.8 378.2 L411.3 378.4 L410.8 378.6 L410.4 378.8 L409.9 379.0 L409.4 379.1 L409.0 379.3 L408.5 379.5 L408.0 379.7 L407.6 379.9 L407.1 380.1 L406.6 380.3 L406.2 380.4 L405.7 380.6 L405.2 380.8 L404.8 381.0 L404.3 381.2 L403.8 381.4 L403.4 381.6 L402.9 381.8 L402.5 382.0 L402.0 382.2 L401.5 382.3 L401.1 382.5 L400.6 382.7 L400.1 382.9 L399.7 383.1 L399.2 383.3 L398.8 383.5 L398.3 383.7 L397.8 383.9 L397.4 384.1 L396.9 384.3 L396.5 384.5 L396.0 384.7 L395.5 384.9 L395.1 385.1 L394.6 385.3 L394.2 385.5 L393.7 385.7 L393.3 385.9 L392.8 386.1 L392.3 386.3 L391.9 386.5 L391.4 386.7 L391.0 386.9 L390.5 387.1 L390.1 387.3 L389.6 387.5 L389.1 387.7 L388.7 387.9 L388.2 388.1 L387.8 388.3 L387.3 388.5 L386.9 388.7 L386.4 389.0 L386.0 389.2 L385.5 389.4 L385.1 389.6 L384.6 389.8 L384.1 390.0 L383.7 390.2 L383.2 390.4 L382.8 390.6 L382.3 390.9 L381.9 391.1 L381.4 391.3 L381.0 391.5 L380.5 391.7 L380.1 391.9 L379.6 392.1 L379.2 392.4 L378.7 392.6 L378.3 392.8 L377.8 393.0 L377.4 393.2 L377.0 393.5 L376.5 393.7 L376.1 393.9 L375.6 394.1 L375.2 394.3 L374.7 394.6 L374.3 394.8 L373.8 395.0 L373.4 395.2 L372.9 395.5 L372.5 395.7 L372.1 395.9 L371.6 396.1 L371.2 396.4 L370.7 396.6 L370.3 396.8 L369.8 397.1 L369.4 397.3 L369.0 397.5 L368.5 397.8 L368.1 398.0 L367.6 398.2 L367.2 398.5 L366.8 398.7 L366.3 398.9 L365.9 399.2 L365.4 399.4 L365.0 399.6 L364.6 399.9 L364.1 400.1 L363.7 400.4 L363.3 400.6 L362.8 400.8 L362.4 401.1 L361.9 401.3 L361.5 401.6 L361.1 401.8 L360.6 402.1 L360.2 402.3 L359.8 402.5 L359.3 402.8 L358.9 403.0 L358.5 403.3 L358.1 403.5 L357.6 403.8 L357.2 404.0 L356.8 404.3 L356.3 404.5 L355.9 404.8 L355.5 405.0 L355.0 405.3 L354.6 405.5 L354.2 405.8 L353.8 406.1 L353.3 406.3 L352.9 406.6 L352.5 406.8 L352.1 407.1 L351.6 407.4 L351.2 407.6 L350.8 407.9 L350.4 408.1 L349.9 408.4 L349.5 408.7 L349.1 408.9 L348.7 409.2 L348.2 409.5 L347.8 409.7 L347.4 410.0 L347.0 410.3 L346.6 410.5 L346.1 410.8 L345.7 411.1 L345.3 411.3 L344.9 411.6 L344.5 411.9 L344.1 412.2 L343.6 412.4 L343.2 412.7 L342.8 413.0 L342.4 413.3 L342.0 413.6 L341.6 413.8 L341.2 414.1 L340.7 414.4 L340.3 414.7 L339.9 415.0 L339.5 415.2 L339.1 415.5 L338.7 415.8 L338.3 416.1 L337.9 416.4 L337.5 416.7 L337.0 417.0 L336.6 417.3 L336.2 417.5 L335.8 417.8 L335.4 418.1 L335.0 418.4 L334.6 418.7 L334.2 419.0 L333.8 419.3 L333.4 419.6 L333.0 419.9 L332.6 420.2 L332.2 420.5 L331.8 420.8 L331.4 421.1 L331.0 421.4 L330.6 421.7 L330.2 422.0 L329.8 422.3 L329.4 422.6 L329.0 422.9 L328.6 423.2 L328.2 423.6 L327.8 423.9 L327.4 424.2 L327.0 424.5 L326.6 424.8 L326.2 425.1 L325.8 425.4 L325.4 425.7 L325.0 426.1 L324.7 426.4 L324.3 426.7 L323.9 427.0 L323.5 427.3 L323.1 427.7 L322.7 428.0 L322.3 428.3 L321.9 428.6 L321.6 429.0 L321.2 429.3 L320.8 429.6 L320.4 429.9 L320.0 430.3 L319.6 430.6 L319.3 430.9 L318.9 431.3 L318.5 431.6 L318.1 431.9 L317.8 432.3 L317.4 432.6 L317.0 432.9 L316.6 433.3 L316.3 433.6 L315.9 433.9 L315.5 434.3 L315.1 434.6 L314.8 435.0 L314.4 435.3 L314.0 435.7 L313.7 436.0 L313.3 436.4 L312.9 436.7 L312.6 437.0 L312.2 437.4 L311.9 437.7 L311.5 438.1 L311.1 438.5 L310.8 438.8 L310.4 439.2 L310.1 439.5 L309.7 439.9 L309.4 440.2 L309.0 440.6 L308.6 440.9 L308.3 441.3 L307.9 441.7 L307.6 442.0 L307.3 442.4 L306.9 442.8 L306.6 443.1 L306.2 443.5 L305.9 443.8 L305.5 444.2 L305.2 444.6 L304.9 445.0 L304.5 445.3 L304.2 445.7 L303.8 446.1 L303.5 446.4 L303.2 446.8 L302.9 447.2 L302.5 447.6 L302.2 447.9 L301.9 448.3 L301.5 448.7 L301.2 449.1 L300.9 449.5 L300.6 449.8 L300.3 450.2 L299.9 450.6 L299.6 451.0 L299.3 451.4 L299.0 451.8 L298.7 452.2 L298.4 452.6 L298.0 452.9 L297.7 453.3 L297.4 453.7 L297.1 454.1 L296.8 454.5 L296.5 454.9 L296.2 455.3 L295.9 455.7 L295.6 456.1 L295.3 456.5 L295.0 456.9 L294.7 457.3 L294.4 457.7 L294.2 458.1 L293.9 458.5 L293.6 458.9 L293.3 459.3 L293.0 459.7 L292.7 460.1 L292.4 460.5 L292.2 461.0 L291.9 461.4 L291.6 461.8 L291.3 462.2 L291.1 462.6 L290.8 463.0 L290.5 463.4 L290.3 463.8 L290.0 464.3 L289.7 464.7 L289.5 465.1 L289.2 465.5 L288.9 465.9 L288.7 466.4 L288.4 466.8 L288.2 467.2 L287.9 467.6 L287.7 468.1 L287.4 468.5 L287.2 468.9 L286.9 469.3 L286.7 469.8 L286.4 470.2 L286.2 470.6 L285.9 471.1 L285.7 471.5 L285.5 471.9 L285.2 472.4 L285.0 472.8 L284.8 473.2 L284.5 473.7 L284.3 474.1 L284.1 474.6 L283.8 475.0 L283.6 475.4 L283.4 475.9 L283.2 476.3 L282.9 476.8 L282.7 477.2 L282.5 477.6 L282.3 478.1 L282.1 478.5 L281.8 479.0 L281.6 479.4 L281.4 479.9 L281.2 480.3 L281.0 480.8 L280.8 481.2 L280.6 481.7 L280.4 482.1 L280.2 482.6 L279.9 483.0 L279.7 483.5 L279.5 483.9 L279.3 484.4 L279.1 484.9 L278.9 485.3 L278.8 485.8 L278.6 486.2 L278.4 486.7 L278.2 487.1 L278.0 487.6 L277.8 488.1 L277.6 488.5 L277.4 489.0 L277.2 489.5 L277.0 489.9 L276.9 490.4 L276.7 490.8 L276.5 491.3 L276.3 491.8 L276.1 492.2 L276.0 492.7 L275.8 493.2 L275.6 493.6 L275.4 494.1 L275.3 494.6 L275.1 495.0 L274.9 495.5 L274.7 496.0 L274.6 496.5 L274.4 496.9 L274.2 497.4 L274.1 497.9 L273.9 498.4 L273.8 498.8 L273.6 499.3 L273.4 499.8 L273.3 500.3 L273.1 500.7 L273.0 501.2 L272.8 501.7 L272.6 502.2 L272.5 502.6 L272.3 503.1 L272.2 503.6 L272.0 504.1 L271.9 504.6 L271.7 505.0 L271.6 505.5 L271.4 506.0 L271.3 506.5 L271.2 507.0 L271.0 507.4 L270.9 507.9 L270.7 508.4 L270.6 508.9 L270.4 509.4 L270.3 509.9 L270.2 510.3 L270.0 510.8 L269.9 511.3 L269.8 511.8 L269.6 512.3 L269.5 512.8 L269.4 513.3 L269.2 513.7 L269.1 514.2 L269.0 514.7 L268.8 515.2 L268.7 515.7 L268.6 516.2 L268.5 516.7 L268.3 517.2 L268.2 517.7 L268.1 518.2 L268.0 518.6 L267.8 519.1 L267.7 519.6 L267.6 520.1 L267.5 520.6 L267.4 521.1 L267.2 521.6 L267.1 522.1 L267.0 522.6 L266.9 523.1 L266.8 523.6 L266.7 524.1 L266.6 524.6 L266.4 525.0 L266.3 525.5 L266.2 526.0 L266.1 526.5 L266.0 527.0 L265.9 527.5 L265.8 528.0 L265.7 528.5 L265.6 529.0 L265.5 529.5 L265.4 530.0 L265.3 530.5 L265.2 531.0 L265.1 531.5 L265.0 532.0 L264.9 532.5 L264.8 533.0 L264.7 533.5 L264.6 534.0 L264.5 534.5 L264.4 535.0 L264.3 535.5 L264.2 536.0 L264.1 536.5 L264.0 537.0 L263.9 537.5 L263.8 538.0 L263.7 538.5 L263.6 539.0 L263.5 539.5 L263.4 540.0 L263.3 540.5 L263.2 541.0 L263.2 541.5 L263.1 542.0 L263.0 542.5 L262.9 543.0 L262.8 543.5 L262.7 544.0 L262.6 544.5 L262.5 545.0 L262.5 545.5 L262.4 546.0 L262.3 546.4 L262.2 546.9 L262.1 547.4 L262.0 547.9 L262.0 548.4 L261.9 548.9 L261.8 549.4 L261.7 549.9 L261.6 550.4 L261.6 550.9 L261.5 551.4 L261.4 551.9 L261.3 552.4 L261.2 552.9 L261.2 553.4 L261.1 553.9 L261.0 554.4 L260.9 554.9 L260.9 555.4 L260.8 555.9 L260.7 556.4 L260.6 556.9 L260.6 557.4 L260.5 557.9 L260.4 558.4 L260.3 558.9 L260.3 559.4 L260.2 559.9 L260.1 560.4 L260.1 560.9 L260.0 561.4 L259.9 561.9 L259.8 562.4 L259.8 562.9 L259.7 563.4 L259.6 563.9 L259.6 564.4 L259.5 564.9 L259.4 565.4 L259.4 565.9 L259.3 566.4 L259.2 566.9 L259.1 567.3 L259.1 567.8 L259.0 568.3 L258.9 568.8 L258.9 569.3 L258.8 569.8 L258.7 570.3 L258.7 570.8 L258.6 571.3 L258.6 571.8 L258.5 572.3 L258.4 572.8 L258.4 573.3 L258.3 573.8 L258.2 574.3 L258.2 574.8 L258.1 575.3 L258.0 575.7 L258.0 576.2 L257.9 576.7 L257.9 577.2 L257.8 577.7 L257.7 578.2 L257.7 578.7 L257.6 579.2 L257.5 579.7 L257.5 580.2 L257.4 580.7 L257.4 581.2 L257.3 581.7 L257.2 582.2 L257.2 582.6 L257.1 583.1 L257.1 583.6 L257.0 584.1 L256.9 584.6 L256.9 585.1 L256.8 585.6 L256.8 586.1 L256.7 586.6 L256.7 587.1 L256.6 587.6 L256.5 588.1 L256.5 588.5 L256.4 589.0 L256.4 589.5 L256.3 590.0 L256.2 590.5 L256.2 591.0 L256.1 591.5 L256.1 592.0 L256.0 592.5 L256.0 593.0 L255.9 593.5 L255.8 594.0 L255.8 594.4 L255.7 594.9 L255.7 595.4 L255.6 595.9 L255.6 596.4 L255.5 596.9 L255.5 597.4 L255.4 597.9 L255.3 598.4 L255.3 598.9 L255.2 599.4 L255.2 599.9 L255.1 600.3 L255.1 600.8 L255.0 601.3 L255.0 601.8 L254.9 602.3 L254.8 602.8 L254.8 603.3 L254.7 603.8 L254.7 604.3 L254.6 604.8 L254.6 605.3 L254.5 605.8 L254.5 606.2 L254.4 606.7 L254.4 607.2 L254.3 607.7 L254.2 608.2 L254.2 608.7 L254.1 609.2 L254.1 609.7 L254.0 610.2 L254.0 610.7 L253.9 611.2 L253.9 611.7 L253.8 612.2 L253.8 612.6 L253.7 613.1 L253.6 613.6 L253.6 614.1 L253.5 614.6 L253.5 615.1 L253.4 615.6 L253.4 616.1 L253.3 616.6 L253.3 617.1 L253.2 617.6 L253.2 618.1 L253.1 618.6 L253.0 619.1 L253.0 619.6 L252.9 620.1 L252.9 620.5 L252.8 621.0 L252.8 621.5 L252.7 622.0 L252.7 622.5 L252.6 623.0 L252.5 623.5 L252.5 624.0 L252.4 624.5 L252.4 625.0 L252.3 625.5 L252.3 626.0 L252.2 626.5 L252.2 627.0 L252.1 627.5 L252.0 628.0 L252.0 628.5 L251.9 629.0 L251.9 629.5 L251.8 630.0 L251.8 630.5 L251.7 631.0 L251.6 631.5 L251.6 632.0 L251.5 632.4 L251.5 632.9 L251.4 633.4 L251.4 633.9 L251.3 634.4 L251.2 634.9 L251.2 635.4 L251.1 635.9 L251.1 636.4 L251.0 636.9 L250.9 637.4 L250.9 637.9 L250.8 638.4 L250.8 638.9 L250.7 639.4 L250.6 639.9 L250.6 640.4 L250.5 640.9 L250.5 641.4 L250.4 641.9 L250.3 642.4 L250.3 642.9 L250.2 643.4 L250.2 643.9 L250.1 644.4 L250.0 644.9 L250.0 645.5 L249.9 646.0 L249.8 646.5 L249.8 647.0 L249.7 647.5 L249.7 648.0 L249.6 648.5 L249.5 649.0 L249.5 649.5 L249.4 650.0 L249.3 650.5 L249.3 651.0 L249.2 651.5" fill="none" stroke="#1e1e1e" stroke-width="2.6" stroke-linejoin="round"/>
</g>
<g id="bottom-curves">
<path d="M157.5 1594.0 L157.5 1593.5 L157.5 1593.0 L157.5 1592.5 L157.5 1592.0 L157.5 1591.5 L157.5 1591.0 L157.5 1590.5 L157.5 1590.0 L157.5 1589.5 L157.5 1589.0 L157.5 1588.5 L157.5 1588.0 L157.5 1587.5 L157.5 1587.0 L157.5 1586.5 L157.5 1586.0 L157.5 1585.5 L157.5 1585.0 L157.5 1584.5 L157.5 1584.0 L157.5 1583.5 L157.5 1583.0 L157.5 1582.5 L157.5 1582.0 L157.5 1581.5 L157.5 1581.0 L157.5 1580.5 L157.5 1580.0 L157.5 1579.5 L157.5 1579.0 L157.5 1578.5 L157.5 1578.0 L157.5 1577.5 L157.5 1577.0 L157.5 1576.5 L157.5 1576.0 L157.5 1575.5 L157.5 1575.0 L157.5 1574.5 L157.5 1574.0 L157.5 1573.5 L157.5 1573.0 L157.5 1572.5 L157.5 1572.0 L157.5 1571.5 L157.5 1570.9 L157.5 1570.4 L157.5 1569.9 L157.5 1569.4 L157.5 1568.9 L157.5 1568.4 L157.5 1567.9 L157.5 1567.4 L157.5 1566.9 L157.5 1566.4 L157.5 1565.9 L157.5 1565.4 L157.5 1564.9 L157.5 1564.4 L157.5 1563.9 L157.5 1563.4 L157.5 1562.9 L157.5 1562.4 L157.5 1561.9 L157.5 1561.4 L157.5 1560.9 L157.5 1560.4 L157.5 1559.9 L157.5 1559.4 L157.5 1558.9 L157.5 1558.4 L157.5 1557.9 L157.5 1557.4 L157.5 1556.9 L157.5 1556.4 L157.5 1555.9 L157.5 1555.4 L157.5 1554.9 L157.5 1554.4 L157.5 1553.9 L157.5 1553.4 L157.5 1552.9 L157.5 1552.4 L157.5 1551.9 L157.5 1551.4 L157.5 1550.9 L157.5 1550.4 L157.5 1549.9 L157.5 1549.4 L157.5 1548.9 L157.5 1548.4 L157.5 1547.9 L157.5 1547.4 L157.5 1546.9 L157.5 1546.4 L157.5 1545.9 L157.5 1545.4 L157.5 1544.9 L157.5 1544.4 L157.5 1543.9 L157.5 1543.4 L157.5 1542.9 L157.5 1542.4 L157.5 1541.9 L157.5 1541.4 L157.5 1540.9 L157.5 1540.4 L157.5 1539.9 L157.5 1539.4 L157.5 1538.9 L157.5 1538.4 L157.5 1537.9 L157.5 1537.4 L157.5 1536.9 L157.5 1536.4 L157.5 1535.9 L157.5 1535.4 L157.5 1534.9 L157.5 1534.4 L157.5 1533.9 L157.5 1533.4 L157.5 1532.9 L157.5 1532.4 L157.5 1531.9 L157.5 1531.4 L157.5 1530.9 L157.5 1530.4 L157.5 1529.9 L157.5 1529.4 L157.5 1528.9 L157.5 1528.4 L157.5 1527.9 L157.5 1527.4 L157.5 1526.9 L157.5 1526.4 L157.5 1525.9 L157.5 1525.4 L157.5 1524.8 L157.5 1524.3 L157.5 1523.8 L157.5 1523.3 L157.5 1522.8 L157.5 1522.3 L157.5 1521.8 L157.5 1521.3 L157.5 1520.8 L157.5 1520.3 L157.5 1519.8 L157.5 1519.3 L157.5 1518.8 L157.5 1518.3 L157.5 1517.8 L157.5 1517.3 L157.5 1516.8 L157.5 1516.3 L157.5 1515.8 L157.5 1515.3 L157.5 1514.8 L157.5 1514.3 L157.5 1513.8 L157.5 1513.3 L157.5 1512.8 L157.5 1512.3 L157.5 1511.8 L157.5 1511.3 L157.5 1510.8 L157.5 1510.3 L157.5 1509.8 L157.5 1509.3 L157.5 1508.8 L157.5 1508.3 L157.5 1507.8 L157.5 1507.3 L157.5 1506.8 L157.5 1506.3 L157.5 1505.8 L157.5 1505.3 L157.5 1504.8 L157.5 1504.3 L157.5 1503.8 L157.5 1503.3 L157.5 1502.8 L157.5 1502.3 L157.5 1501.8 L157.5 1501.3 L157.5 1500.8 L157.5 1500.3 L157.5 1499.8 L157.5 1499.3 L157.5 1498.8 L157.5 1498.3 L157.5 1497.8 L157.5 1497.3 L157.5 1496.8 L157.5 1496.3 L157.5 1495.8 L157.5 1495.3 L157.5 1494.8 L157.5 1494.3 L157.5 1493.8 L157.5 1493.3 L157.5 1492.8 L157.5 1492.3 L157.5 1491.8 L157.5 1491.3 L157.5 1490.8 L157.5 1490.3 L157.5 1489.8 L157.5 1489.3 L157.5 1488.8 L157.5 1488.3 L157.5 1487.8 L157.5 1487.3 L157.5 1486.8 L157.5 1486.3 L157.5 1485.8 L157.5 1485.3 L157.5 1484.8 L157.5 1484.3 L157.5 1483.8 L157.5 1483.3 L157.5 1482.8 L157.5 1482.3 L157.5 1481.8 L157.5 1481.3 L157.5 1480.8 L157.5 1480.3 L157.5 1479.8 L157.5 1479.3 L157.6 1478.7 L157.6 1478.2 L157.6 1477.7 L157.6 1477.2 L157.6 1476.7 L157.6 1476.2 L157.6 1475.7 L157.6 1475.2 L157.6 1474.7 L157.6 1474.2 L157.6 1473.7 L157.6 1473.2 L157.6 1472.7 L157.6 1472.2 L157.6 1471.7 L157.6 1471.2 L157.6 1470.7 L157.6 1470.2 L157.6 1469.7 L157.6 1469.2 L157.6 1468.7 L157.6 1468.2 L157.6 1467.7 L157.6 1467.2 L157.6 1466.7 L157.6 1466.2 L157.6 1465.7 L157.6 1465.2 L157.6 1464.7 L157.6 1464.2 L157.6 1463.7 L157.6 1463.2 L157.6 1462.7 L157.6 1462.2 L157.6 1461.7 L157.6 1461.2 L157.6 1460.7 L157.6 1460.2 L157.6 1459.7 L157.6 1459.2 L157.6 1458.7 L157.6 1458.2 L157.6 1457.7 L157.6 1457.2 L157.6 1456.7 L157.6 1456.2 L157.6 1455.7 L157.6 1455.2 L157.6 1454.7 L157.6 1454.2 L157.6 1453.7 L157.6 1453.2 L157.6 1452.7 L157.6 1452.2 L157.6 1451.7 L157.6 1451.2 L157.6 1450.7 L157.6 1450.2 L157.6 1449.7 L157.6 1449.2 L157.6 1448.7 L157.6 1448.2 L157.6 1447.7 L157.6 1447.2 L157.6 1446.7 L157.6 1446.2 L157.6 1445.7 L157.6 1445.2 L157.6 1444.7 L157.6 1444.2 L157.6 1443.7 L157.6 1443.2 L157.6 1442.7 L157.6 1442.2 L157.6 1441.7 L157.6 1441.2 L157.6 1440.7 L157.6 1440.2 L157.6 1439.7 L157.6 1439.2 L157.6 1438.7 L157.6 1438.2 L157.6 1437.7 L157.6 1437.2 L157.6 1436.7 L157.6 1436.2 L157.6 1435.7 L157.6 1435.2 L157.6 1434.7 L157.6 1434.2 L157.6 1433.7 L157.6 1433.2 L157.6 1432.6 L157.6 1432.1 L157.6 1431.6 L157.6 1431.1 L157.6 1430.6 L157.6 1430.1 L157.6 1429.6 L157.6 1429.1 L157.6 1428.6 L157.6 1428.1 L157.6 1427.6 L157.6 1427.1 L157.6 1426.6 L157.6 1426.1 L157.6 1425.6 L157.6 1425.1 L157.6 1424.6 L157.6 1424.1 L157.6 1423.6 L157.6 1423.1 L157.6 1422.6 L157.6 1422.1 L157.6 1421.6 L157.6 1421.1 L157.6 1420.6 L157.6 1420.1 L157.6 1419.6 L157.6 1419.1 L157.6 1418.6 L157.6 1418.1 L157.6 1417.6 L157.6 1417.1 L157.6 1416.6 L157.6 1416.1 L157.6 1415.6 L157.6 1415.1 L157.6 1414.6 L157.6 1414.1 L157.6 1413.6 L157.6 1413.1 L157.6 1412.6 L157.6 1412.1 L157.6 1411.6 L157.6 1411.1 L157.6 1410.6 L157.6 1410.1 L157.6 1409.6 L157.6 1409.1 L157.6 1408.6 L157.6 1408.1 L157.6 1407.6 L157.6 1407.1 L157.6 1406.6 L157.6 1406.1 L157.6 1405.6 L157.6 1405.1 L157.6 1404.6 L157.6 1404.1 L157.6 1403.6 L157.6 1403.1 L157.6 1402.6 L157.6 1402.1 L157.6 1401.6 L157.6 1401.1 L157.6 1400.6 L157.6 1400.1 L157.6 1399.6 L157.6 1399.1 L157.6 1398.6 L157.6 1398.1 L157.6 1397.6 L157.6 1397.1 L157.6 1396.6 L157.6 1396.1 L157.6 1395.6 L157.6 1395.1 L157.6 1394.6 L157.6 1394.1 L157.6 1393.6 L157.6 1393.1 L157.6 1392.6 L157.6 1392.1 L157.6 1391.6 L157.6 1391.1 L157.6 1390.6 L157.6 1390.1 L157.6 1389.6 L157.6 1389.1 L157.6 1388.6 L157.6 1388.1 L157.6 1387.6 L157.6 1387.1 L157.6 1386.5 L157.6 1386.0 L157.6 1385.5 L157.6 1385.0 L157.6 1384.5 L157.6 1384.0 L157.6 1383.5 L157.6 1383.0 L157.6 1382.5 L157.6 1382.0 L157.6 1381.5 L157.6 1381.0 L157.6 1380.5 L157.6 1380.0 L157.6 1379.5 L157.6 1379.0 L157.6 1378.5 L157.6 1378.0 L157.6 1377.5 L157.6 1377.0 L157.6 1376.5 L157.6 1376.0 L157.6 1375.5 L157.6 1375.0 L157.6 1374.5 L157.6 1374.0 L157.6 1373.5 L157.6 1373.0 L157.6 1372.5 L157.6 1372.0 L157.6 1371.5 L157.6 1371.0 L157.6 1370.5 L157.6 1370.0 L157.6 1369.5 L157.6 1369.0 L157.6 1368.5 L157.6 1368.0 L157.6 1367.5 L157.6 1367.0 L157.6 1366.5 L157.6 1366.0 L157.6 1365.5 L157.6 1365.0 L157.6 1364.5 L157.6 1364.0 L157.6 1364.0 L157.8 1363.5 L158.0 1363.0 L158.2 1362.6 L158.4 1362.1 L158.6 1361.7 L158.8 1361.3 L159.1 1360.9 L159.4 1360.5 L159.6 1360.1 L159.9 1359.7 L160.2 1359.4 L160.6 1359.0 L160.9 1358.7 L161.2 1358.4 L161.6 1358.1 L161.9 1357.8 L162.3 1357.5 L162.7 1357.2 L163.0 1357.0 L163.4 1356.7 L163.8 1356.5 L164.2 1356.2 L164.6 1356.0 L165.1 1355.8 L165.5 1355.5 L165.9 1355.3 L166.4 1355.1 L166.8 1354.9 L167.2 1354.7 L167.7 1354.5 L168.1 1354.3 L168.6 1354.2 L169.1 1354.0 L169.5 1353.8 L170.0 1353.6 L170.4 1353.4 L170.9 1353.3 L171.4 1353.1 L171.8 1352.9 L172.3 1352.8 L172.8 1352.6 L173.2 1352.4 L173.7 1352.3 L174.2 1352.1 L174.6 1351.9 L175.1 1351.8 L175.6 1351.6 L176.1 1351.5 L176.5 1351.3 L177.0 1351.1 L177.5 1351.0 L177.9 1350.8 L178.4 1350.7 L178.9 1350.5 L179.4 1350.4 L179.8 1350.2 L180.3 1350.1 L180.8 1349.9 L181.3 1349.8 L181.7 1349.6 L182.2 1349.5 L182.7 1349.3 L183.2 1349.2 L183.6 1349.0 L184.1 1348.9 L184.6 1348.7 L185.1 1348.6 L185.6 1348.4 L186.0 1348.3 L186.5 1348.1 L187.0 1348.0 L187.5 1347.9 L188.0 1347.7 L188.4 1347.6 L188.9 1347.4 L189.4 1347.3 L189.9 1347.1 L190.4 1347.0 L190.8 1346.9 L191.3 1346.7 L191.8 1346.6 L192.3 1346.5 L192.8 1346.3 L193.3 1346.2 L193.7 1346.0 L194.2 1345.9 L194.7 1345.8 L195.2 1345.6 L195.7 1345.5 L196.2 1345.4 L196.7 1345.2 L197.1 1345.1 L197.6 1345.0 L198.1 1344.8 L198.6 1344.7 L199.1 1344.6 L199.6 1344.4 L200.0 1344.3 L200.5 1344.2 L201.0 1344.0 L201.5 1343.9 L202.0 1343.8 L202.5 1343.6 L203.0 1343.5 L203.4 1343.4 L203.9 1343.2 L204.4 1343.1 L204.9 1343.0 L205.4 1342.8 L205.9 1342.7 L206.4 1342.6 L206.8 1342.4 L207.3 1342.3 L207.8 1342.2 L208.3 1342.0 L208.8 1341.9 L209.3 1341.8 L209.8 1341.6 L210.2 1341.5 L210.7 1341.4 L211.2 1341.2 L211.7 1341.1 L212.2 1341.0 L212.7 1340.8 L213.2 1340.7 L213.6 1340.5 L214.1 1340.4 L214.6 1340.3 L215.1 1340.1 L215.6 1340.0 L216.1 1339.9 L216.6 1339.7 L217.0 1339.6 L217.5 1339.4 L218.0 1339.3 L218.5 1339.2 L219.0 1339.0 L219.5 1338.9 L219.9 1338.7 L220.4 1338.6 L220.9 1338.5 L221.4 1338.3 L221.9 1338.2 L222.4 1338.0 L222.8 1337.9 L223.3 1337.7 L223.8 1337.6 L224.3 1337.4 L224.8 1337.3 L225.2 1337.1 L225.7 1337.0 L226.2 1336.8 L226.7 1336.7 L227.2 1336.5 L227.6 1336.4 L228.1 1336.2 L228.6 1336.1 L229.1 1335.9 L229.6 1335.8 L230.0 1335.6 L230.5 1335.5 L231.0 1335.3 L231.5 1335.1 L231.9 1335.0 L232.4 1334.8 L232.9 1334.7 L233.4 1334.5 L233.8 1334.3 L234.3 1334.2 L234.8 1334.0 L235.3 1333.9 L235.7 1333.7 L236.2 1333.5 L236.7 1333.4 L237.2 1333.2 L237.6 1333.0 L238.1 1332.9 L238.6 1332.7 L239.1 1332.5 L239.5 1332.3 L240.0 1332.2 L240.5 1332.0 L240.9 1331.8 L241.4 1331.7 L241.9 1331.5 L242.4 1331.3 L242.8 1331.1 L243.3 1331.0 L243.8 1330.8 L244.2 1330.6 L244.7 1330.4 L245.2 1330.3 L245.6 1330.1 L246.1 1329.9 L246.6 1329.7 L247.0 1329.6 L247.5 1329.4 L248.0 1329.2 L248.5 1329.0 L248.9 1328.8 L249.4 1328.7 L249.9 1328.5 L250.3 1328.3 L250.8 1328.1 L251.3 1327.9 L251.7 1327.8 L252.2 1327.6 L252.7 1327.4 L253.1 1327.2 L253.6 1327.0 L254.1 1326.9 L254.5 1326.7 L255.0 1326.5 L255.5 1326.3 L255.9 1326.1 L256.4 1326.0 L256.9 1325.8 L257.3 1325.6 L257.8 1325.4 L258.3 1325.2 L258.7 1325.0 L259.2 1324.9 L259.6 1324.7 L260.1 1324.5 L260.6 1324.3 L261.0 1324.1 L261.5 1323.9 L262.0 1323.8 L262.4 1323.6 L262.9 1323.4 L263.4 1323.2 L263.8 1323.0 L264.3 1322.8 L264.8 1322.7 L265.2 1322.5 L265.7 1322.3 L266.2 1322.1 L266.6 1321.9 L267.1 1321.7 L267.6 1321.6 L268.0 1321.4 L268.5 1321.2 L269.0 1321.0 L269.4 1320.8 L269.9 1320.7 L270.4 1320.5 L270.8 1320.3 L271.3 1320.1 L271.8 1319.9 L272.2 1319.8 L272.7 1319.6 L273.1 1319.4 L273.6 1319.2 L274.1 1319.0 L274.5 1318.9 L275.0 1318.7 L275.5 1318.5 L275.9 1318.3 L276.4 1318.2 L276.9 1318.0 L277.3 1317.8 L277.8 1317.6 L278.3 1317.5 L278.8 1317.3 L279.2 1317.1 L279.7 1316.9 L280.2 1316.8 L280.6 1316.6 L281.1 1316.4 L281.6 1316.2 L282.0 1316.1 L282.5 1315.9 L283.0 1315.7 L283.4 1315.6 L283.9 1315.4 L284.4 1315.2 L284.8 1315.1 L285.3 1314.9 L285.8 1314.7 L286.3 1314.6 L286.7 1314.4 L287.2 1314.2 L287.7 1314.1 L288.1 1313.9 L288.6 1313.7 L289.1 1313.6 L289.5 1313.4 L290.0 1313.3 L290.5 1313.1 L291.0 1312.9 L291.4 1312.8 L291.9 1312.6 L292.4 1312.5 L292.9 1312.3 L293.3 1312.2 L293.8 1312.0 L294.3 1311.9 L294.8 1311.7 L295.2 1311.6 L295.7 1311.4 L296.2 1311.3 L296.7 1311.1 L297.1 1311.0 L297.6 1310.8 L298.1 1310.7 L298.6 1310.5 L299.0 1310.4 L299.5 1310.2 L300.0 1310.1 L300.5 1310.0 L301.0 1309.8 L301.4 1309.7 L301.9 1309.5 L302.4 1309.4 L302.9 1309.3 L303.4 1309.1 L303.8 1309.0 L304.3 1308.9 L304.8 1308.7 L305.3 1308.6 L305.8 1308.5 L306.2 1308.3 L306.7 1308.2 L307.2 1308.1 L307.7 1308.0 L308.2 1307.8 L308.7 1307.7 L309.1 1307.6 L309.6 1307.5 L310.1 1307.3 L310.6 1307.2 L311.1 1307.1 L311.6 1307.0 L312.0 1306.9 L312.5 1306.7 L313.0 1306.6 L313.5 1306.5 L314.0 1306.4 L314.5 1306.3 L315.0 1306.1 L315.5 1306.0 L315.9 1305.9 L316.4 1305.8 L316.9 1305.7 L317.4 1305.6 L317.9 1305.5 L318.4 1305.4 L318.9 1305.3 L319.4 1305.1 L319.8 1305.0 L320.3 1304.9 L320.8 1304.8 L321.3 1304.7 L321.8 1304.6 L322.3 1304.5 L322.8 1304.4 L323.3 1304.3 L323.8 1304.2 L324.3 1304.1 L324.7 1304.0 L325.2 1303.9 L325.7 1303.8 L326.2 1303.7 L326.7 1303.6 L327.2 1303.5 L327.7 1303.4 L328.2 1303.3 L328.7 1303.2 L329.2 1303.1 L329.7 1303.0 L330.2 1302.9 L330.7 1302.8 L331.1 1302.7 L331.6 1302.6 L332.1 1302.5 L332.6 1302.4 L333.1 1302.3 L333.6 1302.2 L334.1 1302.1 L334.6 1302.0 L335.1 1301.9 L335.6 1301.8 L336.1 1301.7 L336.6 1301.6 L337.1 1301.5 L337.6 1301.4 L338.1 1301.3 L338.5 1301.2 L339.0 1301.1 L339.5 1301.0 L340.0 1301.0 L340.5 1300.9 L341.0 1300.8 L341.5 1300.7 L342.0 1300.6 L342.5 1300.5 L343.0 1300.4 L343.5 1300.3 L344.0 1300.2 L344.5 1300.1 L345.0 1300.0 L345.5 1299.9 L346.0 1299.8 L346.5 1299.7 L347.0 1299.7 L347.4 1299.6 L347.9 1299.5 L348.4 1299.4 L348.9 1299.3 L349.4 1299.2 L349.9 1299.1 L350.4 1299.0 L350.9 1298.9 L351.4 1298.8 L351.9 1298.7 L352.4 1298.6 L352.9 1298.5 L353.4 1298.5 L353.9 1298.4 L354.4 1298.3 L354.9 1298.2 L355.4 1298.1 L355.9 1298.0 L356.4 1297.9 L356.8 1297.8 L357.3 1297.7 L357.8 1297.6 L358.3 1297.5 L358.8 1297.4 L359.3 1297.3 L359.8 1297.2 L360.3 1297.1 L360.8 1297.0 L361.3 1296.9 L361.8 1296.8 L362.3 1296.7 L362.8 1296.7 L363.3 1296.6 L363.8 1296.5 L364.2 1296.4 L364.7 1296.3 L365.2 1296.2 L365.7 1296.1 L366.2 1296.0 L366.7 1295.9 L367.2 1295.8 L367.7 1295.7 L368.2 1295.6 L368.7 1295.5 L369.2 1295.4 L369.7 1295.3 L370.2 1295.2 L370.6 1295.0 L371.1 1294.9 L371.6 1294.8 L372.1 1294.7 L372.6 1294.6 L373.1 1294.5 L373.6 1294.4 L374.1 1294.3 L374.6 1294.2 L375.1 1294.1 L375.5 1294.0 L376.0 1293.9 L376.5 1293.8 L377.0 1293.7 L377.5 1293.5 L378.0 1293.4 L378.5 1293.3 L379.0 1293.2 L379.4 1293.1 L379.9 1293.0 L380.4 1292.9 L380.9 1292.8 L381.4 1292.6 L381.9 1292.5 L382.4 1292.4 L382.9 1292.3 L383.3 1292.2 L383.8 1292.0 L384.3 1291.9 L384.8 1291.8 L385.3 1291.7 L385.8 1291.6 L386.2 1291.4 L386.7 1291.3 L387.2 1291.2 L387.7 1291.1 L388.2 1290.9 L388.7 1290.8 L389.1 1290.7 L389.6 1290.5 L390.1 1290.4 L390.6 1290.3 L391.1 1290.1 L391.6 1290.0 L392.0 1289.9 L392.5 1289.7 L393.0 1289.6 L393.5 1289.5 L394.0 1289.3 L394.4 1289.2 L394.9 1289.0 L395.4 1288.9 L395.9 1288.8 L396.3 1288.6 L396.8 1288.5 L397.3 1288.3 L397.8 1288.2 L398.3 1288.0 L398.7 1287.9 L399.2 1287.7 L399.7 1287.6 L400.2 1287.4 L400.6 1287.3 L401.1 1287.1 L401.6 1287.0 L402.1 1286.8 L402.5 1286.7 L403.0 1286.5 L403.5 1286.3 L403.9 1286.2 L404.4 1286.0 L404.9 1285.9 L405.4 1285.7 L405.8 1285.5 L406.3 1285.4 L406.8 1285.2 L407.2 1285.0 L407.7 1284.9 L408.2 1284.7 L408.6 1284.5 L409.1 1284.4 L409.6 1284.2 L410.0 1284.0 L410.5 1283.8 L411.0 1283.7 L411.4 1283.5 L411.9 1283.3 L412.4 1283.1 L412.8 1283.0 L413.3 1282.8 L413.8 1282.6 L414.2 1282.4 L414.7 1282.2 L415.2 1282.1 L415.6 1281.9 L416.1 1281.7 L416.6 1281.5 L417.0 1281.3 L417.5 1281.1 L418.0 1281.0 L418.4 1280.8 L418.9 1280.6 L419.3 1280.4 L419.8 1280.2 L420.3 1280.0 L420.7 1279.8 L421.2 1279.6 L421.6 1279.4 L422.1 1279.2 L422.6 1279.0 L423.0 1278.9 L423.5 1278.7 L424.0 1278.5 L424.4 1278.3 L424.9 1278.1 L425.3 1277.9 L425.8 1277.7 L426.3 1277.5 L426.7 1277.3 L427.2 1277.1 L427.6 1276.9 L428.1 1276.7 L428.5 1276.5 L429.0 1276.3 L429.5 1276.1 L429.9 1275.9 L430.4 1275.7 L430.8 1275.5 L431.3 1275.3 L431.7 1275.1 L432.2 1274.9 L432.7 1274.7 L433.1 1274.5 L433.6 1274.3 L434.0 1274.0 L434.5 1273.8 L434.9 1273.6 L435.4 1273.4 L435.9 1273.2 L436.3 1273.0 L436.8 1272.8 L437.2 1272.6 L437.7 1272.4 L438.1 1272.2 L438.6 1272.0 L439.0 1271.8 L439.5 1271.6 L440.0 1271.3 L440.4 1271.1 L440.9 1270.9 L441.3 1270.7 L441.8 1270.5 L442.2 1270.3 L442.7 1270.1 L443.1 1269.9 L443.6 1269.7 L444.1 1269.5 L444.5 1269.2 L445.0 1269.0 L445.4 1268.8 L445.9 1268.6 L446.3 1268.4 L446.8 1268.2 L447.2 1268.0 L447.7 1267.8 L448.1 1267.5 L448.6 1267.3 L449.1 1267.1 L449.5 1266.9 L450.0 1266.7 L450.4 1266.5 L450.9 1266.3 L451.3 1266.1 L451.8 1265.9 L452.2 1265.6 L452.7 1265.4 L453.1 1265.2 L453.6 1265.0 L454.1 1264.8 L454.5 1264.6 L455.0 1264.4 L455.4 1264.2 L455.9 1263.9 L456.3 1263.7 L456.8 1263.5 L457.2 1263.3 L457.7 1263.1 L458.1 1262.9 L458.6 1262.7 L459.0 1262.5 L459.5 1262.2 L460.0 1262.0 L460.4 1261.8 L460.9 1261.6 L461.3 1261.4 L461.8 1261.2 L462.2 1261.0 L462.7 1260.8 L463.1 1260.6 L463.6 1260.3 L464.0 1260.1 L464.5 1259.9 L465.0 1259.7 L465.4 1259.5 L465.9 1259.3 L466.3 1259.1 L466.8 1258.9 L467.2 1258.6 L467.7 1258.4 L468.1 1258.2 L468.6 1258.0 L469.0 1257.8 L469.5 1257.6 L470.0 1257.4 L470.4 1257.2 L470.9 1256.9 L471.3 1256.7 L471.8 1256.5 L472.2 1256.3 L472.7 1256.1 L473.1 1255.9 L473.6 1255.7 L474.0 1255.5 L474.5 1255.2 L474.9 1255.0 L475.4 1254.8 L475.9 1254.6 L476.3 1254.4 L476.8 1254.2 L477.2 1254.0 L477.7 1253.8 L478.1 1253.5 L478.6 1253.3 L479.0 1253.1 L479.5 1252.9 L479.9 1252.7 L480.4 1252.5 L480.8 1252.3 L481.3 1252.1 L481.8 1251.8 L482.2 1251.6 L482.7 1251.4 L483.1 1251.2 L483.6 1251.0 L484.0 1250.8 L484.5 1250.6 L484.9 1250.4 L485.4 1250.1 L485.8 1249.9 L486.3 1249.7 L486.7 1249.5 L487.2 1249.3 L487.7 1249.1 L488.1 1248.9 L488.6 1248.7 L489.0 1248.4 L489.5 1248.2 L489.9 1248.0 L490.4 1247.8 L490.8 1247.6 L491.3 1247.4 L491.7 1247.2 L492.2 1246.9 L492.6 1246.7 L493.1 1246.5 L493.6 1246.3 L494.0 1246.1 L494.5 1245.9 L494.9 1245.7 L495.4 1245.5 L495.8 1245.2 L496.3 1245.0 L496.7 1244.8 L497.2 1244.6 L497.6 1244.4 L498.1 1244.2 L498.5 1244.0 L499.0 1243.7 L499.4 1243.5 L499.9 1243.3 L500.4 1243.1 L500.8 1242.9 L501.3 1242.7 L501.7 1242.5 L502.2 1242.3 L502.6 1242.0 L503.1 1241.8 L503.5 1241.6 L504.0 1241.4 L504.4 1241.2 L504.9 1241.0 L505.3 1240.8 L505.8 1240.5 L506.2 1240.3 L506.7 1240.1 L507.2 1239.9 L507.6 1239.7 L508.1 1239.5 L508.5 1239.3 L509.0 1239.0 L509.4 1238.8 L509.9 1238.6 L510.3 1238.4 L510.8 1238.2 L511.2 1238.0 L511.7 1237.8 L512.1 1237.5 L512.6 1237.3 L513.0 1237.1 L513.5 1236.9 L513.9 1236.7 L514.4 1236.5 L514.9 1236.3 L515.3 1236.0 L515.8 1235.8 L516.2 1235.6 L516.7 1235.4 L517.1 1235.2 L517.6 1235.0 L518.0 1234.8 L518.5 1234.5 L518.9 1234.3 L519.4 1234.1 L519.8 1233.9 L520.3 1233.7 L520.7 1233.5 L521.2 1233.2 L521.6 1233.0 L522.1 1232.8 L522.5 1232.6 L523.0 1232.4 L523.4 1232.2 L523.9 1232.0 L524.4 1231.7 L524.8 1231.5 L525.3 1231.3 L525.7 1231.1 L526.2 1230.9 L526.6 1230.7 L527.1 1230.4 L527.5 1230.2 L528.0 1230.0 L528.4 1229.8 L528.9 1229.6 L529.3 1229.4 L529.8 1229.2 L530.2 1228.9 L530.7 1228.7 L531.1 1228.5 L531.6 1228.3 L532.0 1228.1 L532.5 1227.9 L532.9 1227.6 L533.4 1227.4 L533.8 1227.2 L534.3 1227.0 L534.7 1226.8 L535.2 1226.6 L535.7 1226.3 L536.1 1226.1 L536.6 1225.9 L537.0 1225.7 L537.5 1225.5 L537.9 1225.3 L538.4 1225.0 L538.8 1224.8 L539.3 1224.6 L539.7 1224.4 L540.2 1224.2 L540.6 1224.0 L541.1 1223.7 L541.5 1223.5 L542.0 1223.3 L542.4 1223.1 L542.9 1222.9 L543.3 1222.7 L543.8 1222.4 L544.2 1222.2 L544.7 1222.0 L545.1 1221.8 L545.6 1221.6 L546.0 1221.3 L546.5 1221.1 L546.9 1220.9 L547.4 1220.7 L547.8 1220.5 L548.3 1220.3 L548.7 1220.0 L549.2 1219.8 L549.6 1219.6 L550.1 1219.4 L550.5 1219.2 L551.0 1218.9 L551.4 1218.7 L551.9 1218.5 L552.3 1218.3 L552.8 1218.1 L553.2 1217.9 L553.7 1217.6 L554.1 1217.4 L554.6 1217.2 L555.0 1217.0 L555.5 1216.8 L555.9 1216.5 L556.4 1216.3 L556.8 1216.1 L557.3 1215.9 L557.7 1215.7 L558.2 1215.4 L558.6 1215.2 L559.1 1215.0 L559.5 1214.8 L560.0 1214.6 L560.4 1214.3 L560.9 1214.1 L561.3 1213.9 L561.8 1213.7 L562.2 1213.5 L562.7 1213.2 L563.1 1213.0 L563.6 1212.8 L564.0 1212.6 L564.5 1212.4 L564.9 1212.1 L565.4 1211.9 L565.8 1211.7 L566.3 1211.5 L566.7 1211.3 L567.2 1211.0 L567.6 1210.8 L568.1 1210.6 L568.5 1210.4 L569.0 1210.2 L569.4 1209.9 L569.9 1209.7 L570.3 1209.5 L570.8 1209.3 L571.2 1209.1 L571.7 1208.8 L572.1 1208.6 L572.6 1208.4 L573.0 1208.2 L573.5 1207.9 L573.9 1207.7 L574.4 1207.5 L574.8 1207.3 L575.3 1207.1 L575.7 1206.8 L576.2 1206.6 L576.6 1206.4 L577.1 1206.2 L577.5 1206.0 L578.0 1205.7 L578.4 1205.5 L578.9 1205.3 L579.3 1205.1 L579.8 1204.8 L580.2 1204.6 L580.6 1204.4 L581.1 1204.2 L581.5 1203.9 L582.0 1203.7 L582.4 1203.5 L582.9 1203.3 L583.3 1203.1 L583.8 1202.8 L584.2 1202.6 L584.7 1202.4 L585.1 1202.2 L585.6 1201.9 L586.0 1201.7 L586.5 1201.5 L586.9 1201.3 L587.4 1201.0 L587.8 1200.8 L588.3 1200.6 L588.7 1200.4 L589.2 1200.1 L589.6 1199.9 L590.1 1199.7 L590.5 1199.5 L590.9 1199.3 L591.4 1199.0 L591.8 1198.8 L592.3 1198.6 L592.7 1198.4 L593.2 1198.1 L593.6 1197.9 L594.1 1197.7 L594.5 1197.5 L595.0 1197.2 L595.4 1197.0 L595.9 1196.8 L596.3 1196.5 L596.8 1196.3 L597.2 1196.1 L597.6 1195.9 L598.1 1195.6 L598.5 1195.4 L599.0 1195.2 L599.4 1195.0 L599.9 1194.7 L600.3 1194.5 L600.8 1194.3 L601.2 1194.1 L601.7 1193.8 L602.1 1193.6 L602.6 1193.4 L603.0 1193.2 L603.4 1192.9 L603.9 1192.7 L604.3 1192.5 L604.8 1192.2 L605.2 1192.0 L605.7 1191.8 L606.1 1191.6 L606.6 1191.3 L607.0 1191.1 L607.5 1190.9 L607.9 1190.7 L608.3 1190.4 L608.8 1190.2 L609.2 1190.0 L609.7 1189.7 L610.1 1189.5 L610.6 1189.3 L611.0 1189.1 L611.5 1188.8 L611.9 1188.6 L612.4 1188.4 L612.8 1188.1 L613.2 1187.9 L613.7 1187.7 L614.1 1187.5 L614.6 1187.2 L615.0 1187.0 L615.5 1186.8 L615.9 1186.5 L616.4 1186.3 L616.8 1186.1 L617.2 1185.9 L617.7 1185.6 L618.1 1185.4 L618.6 1185.2 L619.0 1184.9 L619.5 1184.7 L619.9 1184.5 L620.4 1184.2 L620.8 1184.0 L621.2 1183.8 L621.7 1183.6 L622.1 1183.3 L622.6 1183.1 L623.0 1182.9 L623.5 1182.6 L623.9 1182.4 L624.3 1182.2 L624.8 1181.9 L625.2 1181.7 L625.7 1181.5 L626.1 1181.2 L626.6 1181.0 L627.0 1180.8 L627.5 1180.5 L627.9 1180.3 L628.3 1180.1 L628.8 1179.8 L629.2 1179.6 L629.7 1179.4 L630.1 1179.1 L630.6 1178.9 L631.0 1178.7 L631.4 1178.4 L631.9 1178.2 L632.3 1178.0 L632.8 1177.8 L633.2 1177.5 L633.6 1177.3 L634.1 1177.0 L634.5 1176.8 L635.0 1176.6 L635.4 1176.3 L635.9 1176.1 L636.3 1175.9 L636.7 1175.6 L637.2 1175.4 L637.6 1175.2 L638.1 1174.9 L638.5 1174.7 L639.0 1174.5 L639.4 1174.2 L639.8 1174.0 L640.3 1173.8 L640.7 1173.5 L641.2 1173.3 L641.6 1173.1 L642.0 1172.8 L642.5 1172.6 L642.9 1172.4 L643.4 1172.1 L643.8 1171.9 L644.2 1171.6 L644.7 1171.4 L645.1 1171.2 L645.6 1170.9 L646.0 1170.7 L646.5 1170.5 L646.9 1170.2 L647.3 1170.0 L647.8 1169.8 L648.2 1169.5 L648.7 1169.3 L649.1 1169.0 L649.5 1168.8 L650.0 1168.6 L650.4 1168.3 L650.9 1168.1 L651.3 1167.9 L651.7 1167.6 L652.2 1167.4 L652.6 1167.1 L653.1 1166.9 L653.5 1166.7 L653.9 1166.4 L654.4 1166.2 L654.8 1165.9 L655.2 1165.7 L655.7 1165.5 L656.1 1165.2 L656.6 1165.0 L657.0 1164.8 L657.4 1164.5 L657.9 1164.3 L658.3 1164.0 L658.8 1163.8 L659.2 1163.6 L659.6 1163.3 L660.1 1163.1 L660.5 1162.8 L661.0 1162.6 L661.4 1162.4 L661.8 1162.1 L662.3 1161.9 L662.7 1161.6 L663.1 1161.4 L663.6 1161.1 L664.0 1160.9 L664.5 1160.7 L664.9 1160.4 L665.3 1160.2 L665.8 1159.9 L666.2 1159.7 L666.6 1159.5 L667.1 1159.2 L667.5 1159.0 L668.0 1158.7 L668.4 1158.5 L668.8 1158.2 L669.3 1158.0 L669.7 1157.8 L670.1 1157.5 L670.6 1157.3 L671.0 1157.0 L671.5 1156.8 L671.9 1156.5 L672.3 1156.3 L672.8 1156.1 L673.2 1155.8 L673.6 1155.6 L674.1 1155.3 L674.5 1155.1 L675.0 1154.8 L675.4 1154.6 L675.8 1154.3 L676.3 1154.1 L676.7 1153.9 L677.1 1153.6 L677.6 1153.4 L678.0 1153.1 L678.4 1152.9 L678.9 1152.6 L679.3 1152.4 L679.7 1152.1 L680.2 1151.9 L680.6 1151.6 L681.1 1151.4 L681.5 1151.1 L681.9 1150.9 L682.4 1150.7 L682.8 1150.4 L683.2 1150.2 L683.7 1149.9 L684.1 1149.7 L684.5 1149.4 L685.0 1149.2 L685.4 1148.9 L685.8 1148.7 L686.3 1148.4 L686.7 1148.2 L687.1 1147.9 L687.6 1147.7 L688.0 1147.4 L688.4 1147.2 L688.9 1146.9 L689.3 1146.7 L689.7 1146.4 L690.2 1146.2 L690.6 1145.9 L691.0 1145.7 L691.5 1145.4 L691.9 1145.2 L692.3 1144.9 L692.8 1144.7 L693.2 1144.4 L693.6 1144.2 L694.1 1143.9 L694.5 1143.7 L694.9 1143.4 L695.4 1143.2 L695.8 1142.9 L696.2 1142.7 L696.7 1142.4 L697.1 1142.2 L697.5 1141.9 L698.0 1141.7 L698.4 1141.4 L698.8 1141.2 L699.3 1140.9 L699.7 1140.7 L700.1 1140.4 L700.6 1140.2 L701.0 1139.9 L701.4 1139.7 L701.9 1139.4 L702.3 1139.2 L702.7 1138.9 L703.2 1138.6 L703.6 1138.4 L704.0 1138.1 L704.5 1137.9 L704.9 1137.6 L705.3 1137.4 L705.7 1137.1 L706.2 1136.9 L706.6 1136.6 L707.0 1136.4 L707.5 1136.1 L707.9 1135.9 L708.3 1135.6 L708.8 1135.3 L709.2 1135.1 L709.6 1134.8 L710.0 1134.6 L710.5 1134.3 L710.9 1134.1 L711.3 1133.8 L711.8 1133.5 L712.2 1133.3 L712.6 1133.0 L713.1 1132.8 L713.5 1132.5 L713.9 1132.3 L714.3 1132.0 L714.8 1131.7 L715.2 1131.5 L715.6 1131.2 L716.1 1131.0 L716.5 1130.7 L716.9 1130.5 L717.4 1130.2 L717.8 1129.9 L718.2 1129.7 L718.6 1129.4 L719.1 1129.2 L719.5 1128.9 L719.9 1128.6 L720.3 1128.4 L720.8 1128.1 L721.2 1127.9 L721.6 1127.6 L722.1 1127.3 L722.5 1127.1 L722.9 1126.8 L723.3 1126.6 L723.8 1126.3 L724.2 1126.0 L724.6 1125.8 L725.1 1125.5 L725.5 1125.3 L725.9 1125.0 L726.3 1124.7 L726.8 1124.5 L727.2 1124.2 L727.6 1123.9 L728.0 1123.7 L728.5 1123.4 L728.9 1123.2 L729.3 1122.9 L729.7 1122.6 L730.2 1122.4 L730.6 1122.1 L731.0 1121.8 L731.5 1121.6 L731.9 1121.3 L732.3 1121.1 L732.7 1120.8 L733.2 1120.5 L733.6 1120.3 L734.0 1120.0 L734.4 1119.7 L734.9 1119.5 L735.3 1119.2 L735.7 1118.9 L736.1 1118.7 L736.6 1118.4 L737.0 1118.1 L737.4 1117.9 L737.8 1117.6 L738.3 1117.3 L738.7 1117.1 L739.1 1116.8 L739.5 1116.5 L740.0 1116.3 L740.4 1116.0 L740.8 1115.7 L741.2 1115.5 L741.7 1115.2 L742.1 1114.9 L742.5 1114.7 L742.9 1114.4 L743.3 1114.1 L743.8 1113.9 L744.2 1113.6 L744.6 1113.3 L745.0 1113.1 L745.5 1112.8 L745.9 1112.5 L746.3 1112.2 L746.7 1112.0 L747.2 1111.7 L747.6 1111.4 L748.0 1111.2 L748.4 1110.9 L748.8 1110.6 L749.3 1110.4 L749.7 1110.1 L750.1 1109.8 L750.5 1109.5 L751.0 1109.3 L751.4 1109.0 L751.8 1108.7 L752.2 1108.4 L752.6 1108.2 L753.1 1107.9 L753.5 1107.6 L753.9 1107.4 L754.3 1107.1 L754.7 1106.8 L755.2 1106.5 L755.6 1106.3 L756.0 1106.0 L756.4 1105.7 L756.8 1105.4 L757.3 1105.2 L757.7 1104.9 L758.1 1104.6 L758.5 1104.3 L758.9 1104.0 L759.3 1103.8 L759.8 1103.5 L760.2 1103.2 L760.6 1102.9 L761.0 1102.6 L761.4 1102.4 L761.8 1102.1 L762.2 1101.8 L762.7 1101.5 L763.1 1101.2 L763.5 1100.9 L763.9 1100.7 L764.3 1100.4 L764.7 1100.1 L765.1 1099.8 L765.5 1099.5 L765.9 1099.2 L766.3 1098.9 L766.7 1098.6 L767.1 1098.3 L767.6 1098.1 L768.0 1097.8 L768.4 1097.5 L768.8 1097.2 L769.2 1096.9 L769.6 1096.6 L770.0 1096.3 L770.4 1096.0 L770.8 1095.7 L771.2 1095.4 L771.6 1095.1 L772.0 1094.8 L772.3 1094.5 L772.7 1094.2 L773.1 1093.9 L773.5 1093.6 L773.9 1093.2 L774.3 1092.9 L774.7 1092.6 L775.1 1092.3 L775.5 1092.0 L775.9 1091.7 L776.2 1091.4 L776.6 1091.1 L777.0 1090.7 L777.4 1090.4 L777.8 1090.1 L778.2 1089.8 L778.5 1089.5 L778.9 1089.1 L779.3 1088.8 L779.7 1088.5 L780.0 1088.2 L780.4 1087.8 L780.8 1087.5 L781.1 1087.2 L781.5 1086.8 L781.9 1086.5 L782.2 1086.2 L782.6 1085.8 L783.0 1085.5 L783.3 1085.1 L783.7 1084.8 L784.1 1084.5 L784.4 1084.1 L784.8 1083.8 L785.1 1083.4 L785.5 1083.1 L785.8 1082.7 L786.2 1082.4 L786.5 1082.0 L786.9 1081.6 L787.2 1081.3 L787.6 1080.9 L787.9 1080.6 L788.3 1080.2 L788.6 1079.8 L788.9 1079.5 L789.3 1079.1 L789.6 1078.7 L789.9 1078.4 L790.3 1078.0 L790.6 1077.6 L790.9 1077.2 L791.3 1076.9 L791.6 1076.5 L791.9 1076.1 L792.2 1075.7 L792.6 1075.3 L792.9 1074.9 L793.2 1074.5 L793.5 1074.1 L793.8 1073.7 L794.1 1073.3 L794.4 1072.9 L794.7 1072.5 L795.0 1072.1 L795.4 1071.7 L795.7 1071.3 L796.0 1070.9 L796.3 1070.5 L796.5 1070.1 L796.8 1069.7 L797.1 1069.3 L797.4 1068.8 L797.7 1068.4 L798.0 1068.0" fill="none" stroke="#9a9a9a" stroke-width="2"/>
<g fill="#bdbdbd" stroke="#6a6a6a" stroke-width="1.7"><circle cx="157.5" cy="1594.0" r="5.00"/><circle cx="157.5" cy="1592.5" r="5.00"/><circle cx="157.5" cy="1591.0" r="5.00"/><circle cx="157.5" cy="1589.5" r="5.00"/><circle cx="157.5" cy="1588.0" r="5.00"/><circle cx="157.5" cy="1586.5" r="5.00"/><circle cx="157.5" cy="1585.0" r="5.00"/><circle cx="157.5" cy="1583.5" r="5.00"/><circle cx="157.5" cy="1582.0" r="5.00"/><circle cx="157.5" cy="1580.5" r="5.00"/><circle cx="157.5" cy="1579.0" r="5.00"/><circle cx="157.5" cy="1577.5" r="5.00"/><circle cx="157.5" cy="1576.0" r="5.00"/><circle cx="157.5" cy="1574.5" r="5.00"/><circle cx="157.5" cy="1573.0" r="5.00"/><circle cx="157.5" cy="1571.5" r="5.00"/><circle cx="157.5" cy="1569.9" r="5.00"/><circle cx="157.5" cy="1568.4" r="5.00"/><circle cx="157.5" cy="1566.9" r="5.00"/><circle cx="157.5" cy="1565.4" r="5.00"/><circle cx="157.5" cy="1563.9" r="5.00"/><circle cx="157.5" cy="1562.4" r="5.00"/><circle cx="157.5" cy="1560.9" r="5.00"/><circle cx="157.5" cy="1559.4" r="5.00"/><circle cx="157.5" cy="1557.9" r="5.00"/><circle cx="157.5" cy="1556.4" r="5.00"/><circle cx="157.5" cy="1554.9" r="5.00"/><circle cx="157.5" cy="1553.4" r="5.00"/><circle cx="157.5" cy="1551.9" r="5.00"/><circle cx="157.5" cy="1550.4" r="5.00"/><circle cx="157.5" cy="1548.9" r="5.00"/><circle cx="157.5" cy="1547.4" r="5.00"/><circle cx="157.5" cy="1545.9" r="5.00"/><circle cx="157.5" cy="1544.4" r="5.00"/><circle cx="157.5" cy="1542.9" r="5.00"/><circle cx="157.5" cy="1541.4" r="5.00"/><circle cx="157.5" cy="1539.9" r="5.00"/><circle cx="157.5" cy="1538.4" r="5.00"/><circle cx="157.5" cy="1536.9" r="5.00"/><circle cx="157.5" cy="1535.4" r="5.00"/><circle cx="157.5" cy="1533.9" r="5.00"/><circle cx="157.5" cy="1532.4" r="5.00"/><circle cx="157.5" cy="1530.9" r="5.00"/><circle cx="157.5" cy="1529.4" r="5.00"/><circle cx="157.5" cy="1527.9" r="5.00"/><circle cx="157.5" cy="1526.4" r="5.00"/><circle cx="157.5" cy="1524.8" r="5.00"/><circle cx="157.5" cy="1523.3" r="5.00"/><circle cx="157.5" cy="1521.8" r="5.00"/><circle cx="157.5" cy="1520.3" r="5.00"/><circle cx="157.5" cy="1518.8" r="5.00"/><circle cx="157.5" cy="1517.3" r="5.00"/><circle cx="157.5" cy="1515.8" r="5.00"/><circle cx="157.5" cy="1514.3" r="5.00"/><circle cx="157.5" cy="1512.8" r="5.00"/><circle cx="157.5" cy="1511.3" r="5.00"/><circle cx="157.5" cy="1509.8" r="5.00"/><circle cx="157.5" cy="1508.3" r="5.00"/><circle cx="157.5" cy="1506.8" r="5.00"/><circle cx="157.5" cy="1505.3" r="5.00"/><circle cx="157.5" cy="1503.8" r="5.00"/><circle cx="157.5" cy="1502.3" r="5.00"/><circle cx="157.5" cy="1500.8" r="5.00"/><circle cx="157.5" cy="1499.3" r="5.00"/><circle cx="157.5" cy="1497.8" r="5.00"/><circle cx="157.5" cy="1496.3" r="5.00"/><circle cx="157.5" cy="1494.8" r="5.00"/><circle cx="157.5" cy="1493.3" r="5.00"/><circle cx="157.5" cy="1491.8" r="5.00"/><circle cx="157.5" cy="1490.3" r="5.00"/><circle cx="157.5" cy="1488.8" r="5.00"/><circle cx="157.5" cy="1487.3" r="5.00"/><circle cx="157.5" cy="1485.8" r="5.00"/><circle cx="157.5" cy="1484.3" r="5.00"/><circle cx="157.5" cy="1482.8" r="5.00"/><circle cx="157.5" cy="1481.3" r="5.00"/><circle cx="157.5" cy="1479.8" r="5.00"/><circle cx="157.6" cy="1478.2" r="5.00"/><circle cx="157.6" cy="1476.7" r="5.00"/><circle cx="157.6" cy="1475.2" r="5.00"/><circle cx="157.6" cy="1473.7" r="5.00"/><circle cx="157.6" cy="1472.2" r="5.00"/><circle cx="157.6" cy="1470.7" r="5.00"/><circle cx="157.6" cy="1469.2" r="5.00"/><circle cx="157.6" cy="1467.7" r="5.00"/><circle cx="157.6" cy="1466.2" r="5.00"/><circle cx="157.6" cy="1464.7" r="5.00"/><circle cx="157.6" cy="1463.2" r="5.00"/><circle cx="157.6" cy="1461.7" r="5.00"/><circle cx="157.6" cy="1460.2" r="5.00"/><circle cx="157.6" cy="1458.7" r="5.00"/><circle cx="157.6" cy="1457.2" r="5.00"/><circle cx="157.6" cy="1455.7" r="5.00"/><circle cx="157.6" cy="1454.2" r="5.00"/><circle cx="157.6" cy="1452.7" r="5.00"/><circle cx="157.6" cy="1451.2" r="5.00"/><circle cx="157.6" cy="1449.7" r="5.00"/><circle cx="157.6" cy="1448.2" r="5.00"/><circle cx="157.6" cy="1446.7" r="5.00"/><circle cx="157.6" cy="1445.2" r="5.00"/><circle cx="157.6" cy="1443.7" r="5.00"/><circle cx="157.6" cy="1442.2" r="5.00"/><circle cx="157.6" cy="1440.7" r="5.00"/><circle cx="157.6" cy="1439.2" r="5.00"/><circle cx="157.6" cy="1437.7" r="5.00"/><circle cx="157.6" cy="1436.2" r="5.00"/><circle cx="157.6" cy="1434.7" r="5.00"/><circle cx="157.6" cy="1433.2" r="5.00"/><circle cx="157.6" cy="1431.6" r="5.00"/><circle cx="157.6" cy="1430.1" r="5.00"/><circle cx="157.6" cy="1428.6" r="5.00"/><circle cx="157.6" cy="1427.1" r="5.00"/><circle cx="157.6" cy="1425.6" r="5.00"/><circle cx="157.6" cy="1424.1" r="5.00"/><circle cx="157.6" cy="1422.6" r="5.00"/><circle cx="157.6" cy="1421.1" r="5.00"/><circle cx="157.6" cy="1419.6" r="5.00"/><circle cx="157.6" cy="1418.1" r="5.00"/><circle cx="157.6" cy="1416.6" r="5.00"/><circle cx="157.6" cy="1415.1" r="5.00"/><circle cx="157.6" cy="1413.6" r="5.00"/><circle cx="157.6" cy="1412.1" r="5.00"/><circle cx="157.6" cy="1410.6" r="5.00"/><circle cx="157.6" cy="1409.1" r="5.00"/><circle cx="157.6" cy="1407.6" r="5.00"/><circle cx="157.6" cy="1406.1" r="5.00"/><circle cx="157.6" cy="1404.6" r="5.00"/><circle cx="157.6" cy="1403.1" r="5.00"/><circle cx="157.6" cy="1401.6" r="5.00"/><circle cx="157.6" cy="1400.1" r="5.00"/><circle cx="157.6" cy="1398.6" r="5.00"/><circle cx="157.6" cy="1397.1" r="5.00"/><circle cx="157.6" cy="1395.6" r="5.00"/><circle cx="157.6" cy="1394.1" r="5.00"/><circle cx="157.6" cy="1392.6" r="5.00"/><circle cx="157.6" cy="1391.1" r="5.00"/><circle cx="157.6" cy="1389.6" r="5.00"/><circle cx="157.6" cy="1388.1" r="5.00"/><circle cx="157.6" cy="1386.5" r="5.00"/><circle cx="157.6" cy="1385.0" r="5.00"/><circle cx="157.6" cy="1383.5" r="5.00"/><circle cx="157.6" cy="1382.0" r="5.00"/><circle cx="157.6" cy="1380.5" r="5.00"/><circle cx="157.6" cy="1379.0" r="5.00"/><circle cx="157.6" cy="1377.5" r="5.00"/><circle cx="157.6" cy="1376.0" r="5.00"/><circle cx="157.6" cy="1374.5" r="5.00"/><circle cx="157.6" cy="1373.0" r="5.00"/><circle cx="157.6" cy="1371.5" r="5.00"/><circle cx="157.6" cy="1370.0" r="5.00"/><circle cx="157.6" cy="1368.5" r="5.00"/><circle cx="157.6" cy="1367.0" r="5.00"/><circle cx="157.6" cy="1365.5" r="5.00"/><circle cx="157.6" cy="1364.0" r="5.00"/><circle cx="158.4" cy="1362.1" r="5.00"/><circle cx="159.4" cy="1360.5" r="5.00"/><circle cx="160.9" cy="1358.7" r="5.00"/><circle cx="163.0" cy="1357.0" r="5.00"/><circle cx="165.9" cy="1355.3" r="4.96"/><circle cx="169.5" cy="1353.8" r="4.73"/><circle cx="173.7" cy="1352.3" r="4.51"/><circle cx="178.4" cy="1350.7" r="4.41"/><circle cx="183.2" cy="1349.2" r="4.30"/><circle cx="188.4" cy="1347.6" r="4.20"/><circle cx="193.7" cy="1346.0" r="4.09"/><circle cx="199.6" cy="1344.4" r="3.98"/><circle cx="205.4" cy="1342.8" r="3.98"/><circle cx="211.2" cy="1341.2" r="4.08"/><circle cx="216.6" cy="1339.7" r="4.18"/><circle cx="221.9" cy="1338.2" r="4.18"/><circle cx="227.2" cy="1336.5" r="4.29"/><circle cx="231.9" cy="1335.0" r="4.39"/><circle cx="236.7" cy="1333.4" r="4.49"/><circle cx="240.9" cy="1331.8" r="4.60"/><circle cx="245.2" cy="1330.3" r="4.60"/><circle cx="249.4" cy="1328.7" r="4.60"/><circle cx="253.6" cy="1327.0" r="4.60"/><circle cx="257.8" cy="1325.4" r="4.60"/><circle cx="262.0" cy="1323.8" r="4.60"/><circle cx="266.2" cy="1322.1" r="4.60"/><circle cx="270.4" cy="1320.5" r="4.60"/><circle cx="274.5" cy="1318.9" r="4.60"/><circle cx="278.8" cy="1317.3" r="4.60"/><circle cx="283.0" cy="1315.7" r="4.60"/><circle cx="287.2" cy="1314.2" r="4.51"/><circle cx="291.9" cy="1312.6" r="4.41"/><circle cx="296.7" cy="1311.1" r="4.31"/><circle cx="301.9" cy="1309.5" r="4.11"/><circle cx="307.7" cy="1308.0" r="3.90"/><circle cx="314.0" cy="1306.4" r="3.70"/><circle cx="320.8" cy="1304.8" r="3.49" fill="#d4d4d4" stroke="#7c7c7c" stroke-width="1.4"/><circle cx="328.2" cy="1303.3" r="3.29" fill="#d4d4d4" stroke="#7c7c7c" stroke-width="1.4"/><circle cx="336.1" cy="1301.7" r="3.20" fill="#d4d4d4" stroke="#7c7c7c" stroke-width="1.4"/><circle cx="344.5" cy="1300.1" r="3.20" fill="#d4d4d4" stroke="#7c7c7c" stroke-width="1.4"/><circle cx="352.9" cy="1298.5" r="3.20" fill="#d4d4d4" stroke="#7c7c7c" stroke-width="1.4"/><circle cx="360.8" cy="1297.0" r="3.20" fill="#d4d4d4" stroke="#7c7c7c" stroke-width="1.4"/><circle cx="368.7" cy="1295.5" r="3.29" fill="#d4d4d4" stroke="#7c7c7c" stroke-width="1.4"/><circle cx="376.0" cy="1293.9" r="3.49" fill="#d4d4d4" stroke="#7c7c7c" stroke-width="1.4"/><circle cx="382.9" cy="1292.3" r="3.70"/><circle cx="389.1" cy="1290.7" r="3.90"/><circle cx="394.9" cy="1289.0" r="4.11"/><circle cx="400.2" cy="1287.4" r="4.31"/><circle cx="404.9" cy="1285.9" r="4.51"/><circle cx="409.1" cy="1284.4" r="4.61"/><circle cx="413.3" cy="1282.8" r="4.60"/><circle cx="417.5" cy="1281.1" r="4.70"/><circle cx="421.2" cy="1279.6" r="4.80"/><circle cx="424.9" cy="1278.1" r="4.80"/><circle cx="428.5" cy="1276.5" r="4.80"/><circle cx="432.2" cy="1274.9" r="4.80"/><circle cx="435.9" cy="1273.2" r="4.80"/><circle cx="439.5" cy="1271.6" r="4.80"/><circle cx="443.1" cy="1269.9" r="4.80"/><circle cx="446.8" cy="1268.2" r="4.80"/><circle cx="450.4" cy="1266.5" r="4.80"/><circle cx="454.1" cy="1264.8" r="4.80"/><circle cx="457.7" cy="1263.1" r="4.80"/><circle cx="461.3" cy="1261.4" r="4.80"/><circle cx="465.0" cy="1259.7" r="4.80"/><circle cx="468.6" cy="1258.0" r="4.80"/><circle cx="472.2" cy="1256.3" r="4.80"/><circle cx="475.9" cy="1254.6" r="4.80"/><circle cx="479.5" cy="1252.9" r="4.80"/><circle cx="483.1" cy="1251.2" r="4.80"/><circle cx="486.7" cy="1249.5" r="4.80"/><circle cx="490.4" cy="1247.8" r="4.80"/><circle cx="494.0" cy="1246.1" r="4.80"/><circle cx="497.6" cy="1244.4" r="4.80"/><circle cx="501.3" cy="1242.7" r="4.80"/><circle cx="504.9" cy="1241.0" r="4.80"/><circle cx="508.5" cy="1239.3" r="4.80"/><circle cx="512.1" cy="1237.5" r="4.90"/><circle cx="515.3" cy="1236.0" r="5.00"/><circle cx="518.5" cy="1234.5" r="5.00"/><circle cx="521.6" cy="1233.0" r="5.00"/><circle cx="524.8" cy="1231.5" r="5.00"/><circle cx="528.0" cy="1230.0" r="5.00"/><circle cx="531.1" cy="1228.5" r="5.00"/><circle cx="534.3" cy="1227.0" r="5.00"/><circle cx="537.5" cy="1225.5" r="5.00"/><circle cx="540.6" cy="1224.0" r="5.00"/><circle cx="543.8" cy="1222.4" r="5.00"/><circle cx="546.9" cy="1220.9" r="5.00"/><circle cx="550.1" cy="1219.4" r="5.00"/><circle cx="553.2" cy="1217.9" r="5.00"/><circle cx="556.4" cy="1216.3" r="5.00"/><circle cx="559.5" cy="1214.8" r="5.00"/><circle cx="562.7" cy="1213.2" r="5.00"/><circle cx="565.8" cy="1211.7" r="5.00"/><circle cx="569.0" cy="1210.2" r="5.00"/><circle cx="572.1" cy="1208.6" r="5.00"/><circle cx="575.3" cy="1207.1" r="5.00"/><circle cx="578.4" cy="1205.5" r="5.00"/><circle cx="581.5" cy="1203.9" r="5.00"/><circle cx="584.7" cy="1202.4" r="5.00"/><circle cx="587.8" cy="1200.8" r="5.00"/><circle cx="590.9" cy="1199.3" r="5.00"/><circle cx="594.1" cy="1197.7" r="5.00"/><circle cx="597.2" cy="1196.1" r="5.00"/><circle cx="600.3" cy="1194.5" r="5.00"/><circle cx="603.4" cy="1192.9" r="5.00"/><circle cx="606.6" cy="1191.3" r="5.00"/><circle cx="609.7" cy="1189.7" r="5.00"/><circle cx="612.8" cy="1188.1" r="5.00"/><circle cx="615.9" cy="1186.5" r="5.00"/><circle cx="619.0" cy="1184.9" r="5.00"/><circle cx="622.1" cy="1183.3" r="5.00"/><circle cx="625.2" cy="1181.7" r="5.00"/><circle cx="628.3" cy="1180.1" r="5.00"/><circle cx="631.4" cy="1178.4" r="5.00"/><circle cx="634.5" cy="1176.8" r="5.00"/><circle cx="637.6" cy="1175.2" r="5.00"/><circle cx="640.7" cy="1173.5" r="5.00"/><circle cx="643.8" cy="1171.9" r="5.00"/><circle cx="646.9" cy="1170.2" r="5.00"/><circle cx="650.0" cy="1168.6" r="5.00"/><circle cx="653.1" cy="1166.9" r="5.00"/><circle cx="656.1" cy="1165.2" r="5.00"/><circle cx="659.2" cy="1163.6" r="5.00"/><circle cx="662.3" cy="1161.9" r="5.00"/><circle cx="665.3" cy="1160.2" r="5.00"/><circle cx="668.4" cy="1158.5" r="5.00"/><circle cx="671.5" cy="1156.8" r="5.00"/><circle cx="674.5" cy="1155.1" r="5.00"/><circle cx="677.6" cy="1153.4" r="5.00"/><circle cx="680.6" cy="1151.6" r="5.00"/><circle cx="683.7" cy="1149.9" r="5.00"/><circle cx="686.7" cy="1148.2" r="5.00"/><circle cx="689.7" cy="1146.4" r="5.00"/><circle cx="692.8" cy="1144.7" r="5.00"/><circle cx="695.4" cy="1143.2" r="5.00"/><circle cx="698.0" cy="1141.7" r="5.00"/><circle cx="700.6" cy="1140.2" r="5.00"/><circle cx="703.2" cy="1138.6" r="5.00"/><circle cx="705.7" cy="1137.1" r="5.00"/><circle cx="708.3" cy="1135.6" r="5.00"/><circle cx="710.9" cy="1134.1" r="5.00"/><circle cx="713.5" cy="1132.5" r="5.00"/><circle cx="716.1" cy="1131.0" r="5.00"/><circle cx="718.6" cy="1129.4" r="5.00"/><circle cx="721.2" cy="1127.9" r="5.00"/><circle cx="723.8" cy="1126.3" r="5.00"/><circle cx="726.3" cy="1124.7" r="5.00"/><circle cx="728.9" cy="1123.2" r="5.00"/><circle cx="731.5" cy="1121.6" r="5.00"/><circle cx="734.0" cy="1120.0" r="5.00"/><circle cx="736.6" cy="1118.4" r="5.00"/><circle cx="739.1" cy="1116.8" r="5.00"/><circle cx="741.7" cy="1115.2" r="5.00"/><circle cx="744.2" cy="1113.6" r="5.00"/><circle cx="746.7" cy="1112.0" r="5.00"/><circle cx="749.3" cy="1110.4" r="5.00"/><circle cx="751.8" cy="1108.7" r="5.00"/><circle cx="754.3" cy="1107.1" r="5.00"/><circle cx="756.8" cy="1105.4" r="5.00"/><circle cx="759.3" cy="1103.8" r="5.00"/><circle cx="761.8" cy="1102.1" r="5.00"/><circle cx="764.3" cy="1100.4" r="5.00"/><circle cx="766.7" cy="1098.6" r="5.00"/><circle cx="769.2" cy="1096.9" r="5.00"/><circle cx="771.6" cy="1095.1" r="5.00"/><circle cx="773.5" cy="1093.6" r="5.00"/><circle cx="775.5" cy="1092.0" r="5.00"/><circle cx="777.4" cy="1090.4" r="5.00"/><circle cx="779.3" cy="1088.8" r="5.00"/><circle cx="781.1" cy="1087.2" r="5.00"/><circle cx="783.0" cy="1085.5" r="5.00"/><circle cx="784.8" cy="1083.8" r="5.00"/><circle cx="786.5" cy="1082.0" r="5.00"/><circle cx="788.3" cy="1080.2" r="5.00"/><circle cx="789.9" cy="1078.4" r="5.00"/><circle cx="791.3" cy="1076.9" r="5.00"/><circle cx="792.6" cy="1075.3" r="5.00"/><circle cx="793.8" cy="1073.7" r="5.00"/><circle cx="795.0" cy="1072.1" r="5.00"/><circle cx="796.3" cy="1070.5" r="5.00"/><circle cx="797.4" cy="1068.8" r="5.00"/></g>
<path d="M798.0 1068.0 L798.3 1068.5 L798.7 1069.0 L799.0 1069.5 L799.3 1070.0 L799.6 1070.5 L799.8 1071.0 L800.0 1071.5 L800.3 1072.1 L800.5 1072.6 L800.6 1073.1 L800.8 1073.6 L800.9 1074.2 L801.1 1074.7 L801.2 1075.2 L801.3 1075.7 L801.3 1076.2 L801.4 1076.8 L801.4 1077.3 L801.4 1077.8 L801.4 1078.3 L801.4 1078.8 L801.3 1079.3 L801.3 1079.8 L801.2 1080.2 L801.1 1080.7 L801.0 1081.2 L800.8 1081.6 L800.7 1082.0 L800.5 1082.5 L800.3 1082.9 L800.1 1083.3 L799.8 1083.7 L799.6 1084.1 L799.3 1084.5 L799.1 1084.8 L798.8 1085.2 L798.5 1085.5 L798.2 1085.9 L797.9 1086.2 L797.5 1086.6 L797.2 1086.9 L796.8 1087.2 L796.5 1087.6 L796.1 1087.9 L795.7 1088.2 L795.3 1088.5 L795.0 1088.8 L794.6 1089.1 L794.2 1089.4 L793.8 1089.7 L793.4 1090.0 L793.0 1090.3 L792.6 1090.6 L792.2 1090.9 L791.8 1091.2 L791.4 1091.5 L791.0 1091.8 L790.6 1092.1 L790.2 1092.4 L789.8 1092.7 L789.4 1093.0 L789.0 1093.3 L788.6 1093.6 L788.2 1093.9 L787.8 1094.2 L787.4 1094.5 L787.0 1094.8 L786.6 1095.1 L786.2 1095.4 L785.8 1095.7 L785.4 1096.0 L784.9 1096.3 L784.5 1096.6 L784.1 1096.9 L783.7 1097.2 L783.3 1097.4 L782.9 1097.7 L782.5 1098.0 L782.1 1098.3 L781.7 1098.6 L781.3 1098.9 L780.9 1099.2 L780.5 1099.5 L780.1 1099.8 L779.7 1100.1 L779.3 1100.4 L778.8 1100.6 L778.4 1100.9 L778.0 1101.2 L777.6 1101.5 L777.2 1101.8 L776.8 1102.1 L776.4 1102.4 L776.0 1102.7 L775.6 1102.9 L775.2 1103.2 L774.8 1103.5 L774.3 1103.8 L773.9 1104.1 L773.5 1104.4 L773.1 1104.7 L772.7 1104.9 L772.3 1105.2 L771.9 1105.5 L771.5 1105.8 L771.1 1106.1 L770.6 1106.4 L770.2 1106.6 L769.8 1106.9 L769.4 1107.2 L769.0 1107.5 L768.6 1107.8 L768.2 1108.1 L767.7 1108.3 L767.3 1108.6 L766.9 1108.9 L766.5 1109.2 L766.1 1109.5 L765.7 1109.7 L765.3 1110.0 L764.8 1110.3 L764.4 1110.6 L764.0 1110.9 L763.6 1111.1 L763.2 1111.4 L762.8 1111.7 L762.3 1112.0 L761.9 1112.2 L761.5 1112.5 L761.1 1112.8 L760.7 1113.1 L760.3 1113.4 L759.8 1113.6 L759.4 1113.9 L759.0 1114.2 L758.6 1114.5 L758.2 1114.7 L757.7 1115.0 L757.3 1115.3 L756.9 1115.6 L756.5 1115.8 L756.1 1116.1 L755.6 1116.4 L755.2 1116.6 L754.8 1116.9 L754.4 1117.2 L754.0 1117.5 L753.5 1117.7 L753.1 1118.0 L752.7 1118.3 L752.3 1118.6 L751.9 1118.8 L751.4 1119.1 L751.0 1119.4 L750.6 1119.6 L750.2 1119.9 L749.8 1120.2 L749.3 1120.4 L748.9 1120.7 L748.5 1121.0 L748.1 1121.3 L747.6 1121.5 L747.2 1121.8 L746.8 1122.1 L746.4 1122.3 L745.9 1122.6 L745.5 1122.9 L745.1 1123.1 L744.7 1123.4 L744.3 1123.7 L743.8 1123.9 L743.4 1124.2 L743.0 1124.5 L742.6 1124.7 L742.1 1125.0 L741.7 1125.3 L741.3 1125.5 L740.9 1125.8 L740.4 1126.0 L740.0 1126.3 L739.6 1126.6 L739.1 1126.8 L738.7 1127.1 L738.3 1127.4 L737.9 1127.6 L737.4 1127.9 L737.0 1128.2 L736.6 1128.4 L736.2 1128.7 L735.7 1128.9 L735.3 1129.2 L734.9 1129.5 L734.5 1129.7 L734.0 1130.0 L733.6 1130.3 L733.2 1130.5 L732.7 1130.8 L732.3 1131.0 L731.9 1131.3 L731.5 1131.6 L731.0 1131.8 L730.6 1132.1 L730.2 1132.3 L729.7 1132.6 L729.3 1132.9 L728.9 1133.1 L728.5 1133.4 L728.0 1133.6 L727.6 1133.9 L727.2 1134.1 L726.7 1134.4 L726.3 1134.7 L725.9 1134.9 L725.4 1135.2 L725.0 1135.4 L724.6 1135.7 L724.1 1135.9 L723.7 1136.2 L723.3 1136.5 L722.9 1136.7 L722.4 1137.0 L722.0 1137.2 L721.6 1137.5 L721.1 1137.7 L720.7 1138.0 L720.3 1138.2 L719.8 1138.5 L719.4 1138.8 L719.0 1139.0 L718.5 1139.3 L718.1 1139.5 L717.7 1139.8 L717.2 1140.0 L716.8 1140.3 L716.4 1140.5 L715.9 1140.8 L715.5 1141.0 L715.1 1141.3 L714.6 1141.5 L714.2 1141.8 L713.8 1142.0 L713.3 1142.3 L712.9 1142.5 L712.5 1142.8 L712.0 1143.0 L711.6 1143.3 L711.2 1143.5 L710.7 1143.8 L710.3 1144.0 L709.9 1144.3 L709.4 1144.5 L709.0 1144.8 L708.6 1145.0 L708.1 1145.3 L707.7 1145.5 L707.3 1145.8 L706.8 1146.0 L706.4 1146.3 L706.0 1146.5 L705.5 1146.8 L705.1 1147.0 L704.7 1147.3 L704.2 1147.5 L703.8 1147.8 L703.4 1148.0 L702.9 1148.3 L702.5 1148.5 L702.1 1148.8 L701.6 1149.0 L701.2 1149.3 L700.7 1149.5 L700.3 1149.8 L699.9 1150.0 L699.4 1150.3 L699.0 1150.5 L698.6 1150.7 L698.1 1151.0 L697.7 1151.2 L697.3 1151.5 L696.8 1151.7 L696.4 1152.0 L696.0 1152.2 L695.5 1152.5 L695.1 1152.7 L694.6 1153.0 L694.2 1153.2 L693.8 1153.4 L693.3 1153.7 L692.9 1153.9 L692.5 1154.2 L692.0 1154.4 L691.6 1154.7 L691.1 1154.9 L690.7 1155.2 L690.3 1155.4 L689.8 1155.6 L689.4 1155.9 L689.0 1156.1 L688.5 1156.4 L688.1 1156.6 L687.6 1156.9 L687.2 1157.1 L686.8 1157.3 L686.3 1157.6 L685.9 1157.8 L685.5 1158.1 L685.0 1158.3 L684.6 1158.5 L684.1 1158.8 L683.7 1159.0 L683.3 1159.3 L682.8 1159.5 L682.4 1159.8 L682.0 1160.0 L681.5 1160.2 L681.1 1160.5 L680.6 1160.7 L680.2 1161.0 L679.8 1161.2 L679.3 1161.4 L678.9 1161.7 L678.5 1161.9 L678.0 1162.2 L677.6 1162.4 L677.1 1162.6 L676.7 1162.9 L676.3 1163.1 L675.8 1163.4 L675.4 1163.6 L674.9 1163.8 L674.5 1164.1 L674.1 1164.3 L673.6 1164.5 L673.2 1164.8 L672.7 1165.0 L672.3 1165.3 L671.9 1165.5 L671.4 1165.7 L671.0 1166.0 L670.5 1166.2 L670.1 1166.5 L669.7 1166.7 L669.2 1166.9 L668.8 1167.2 L668.4 1167.4 L667.9 1167.6 L667.5 1167.9 L667.0 1168.1 L666.6 1168.4 L666.2 1168.6 L665.7 1168.8 L665.3 1169.1 L664.8 1169.3 L664.4 1169.5 L664.0 1169.8 L663.5 1170.0 L663.1 1170.2 L662.6 1170.5 L662.2 1170.7 L661.7 1171.0 L661.3 1171.2 L660.9 1171.4 L660.4 1171.7 L660.0 1171.9 L659.5 1172.1 L659.1 1172.4 L658.7 1172.6 L658.2 1172.8 L657.8 1173.1 L657.3 1173.3 L656.9 1173.5 L656.5 1173.8 L656.0 1174.0 L655.6 1174.2 L655.1 1174.5 L654.7 1174.7 L654.3 1174.9 L653.8 1175.2 L653.4 1175.4 L652.9 1175.7 L652.5 1175.9 L652.1 1176.1 L651.6 1176.4 L651.2 1176.6 L650.7 1176.8 L650.3 1177.1 L649.8 1177.3 L649.4 1177.5 L649.0 1177.8 L648.5 1178.0 L648.1 1178.2 L647.6 1178.5 L647.2 1178.7 L646.8 1178.9 L646.3 1179.2 L645.9 1179.4 L645.4 1179.6 L645.0 1179.9 L644.5 1180.1 L644.1 1180.3 L643.7 1180.6 L643.2 1180.8 L642.8 1181.0 L642.3 1181.3 L641.9 1181.5 L641.5 1181.7 L641.0 1182.0 L640.6 1182.2 L640.1 1182.4 L639.7 1182.6 L639.2 1182.9 L638.8 1183.1 L638.4 1183.3 L637.9 1183.6 L637.5 1183.8 L637.0 1184.0 L636.6 1184.3 L636.1 1184.5 L635.7 1184.7 L635.3 1185.0 L634.8 1185.2 L634.4 1185.4 L633.9 1185.7 L633.5 1185.9 L633.1 1186.1 L632.6 1186.4 L632.2 1186.6 L631.7 1186.8 L631.3 1187.1 L630.8 1187.3 L630.4 1187.5 L630.0 1187.7 L629.5 1188.0 L629.1 1188.2 L628.6 1188.4 L628.2 1188.7 L627.7 1188.9 L627.3 1189.1 L626.9 1189.4 L626.4 1189.6 L626.0 1189.8 L625.5 1190.1 L625.1 1190.3 L624.6 1190.5 L624.2 1190.8 L623.8 1191.0 L623.3 1191.2 L622.9 1191.4 L622.4 1191.7 L622.0 1191.9 L621.5 1192.1 L621.1 1192.4 L620.7 1192.6 L620.2 1192.8 L619.8 1193.1 L619.3 1193.3 L618.9 1193.5 L618.4 1193.8 L618.0 1194.0 L617.6 1194.2 L617.1 1194.4 L616.7 1194.7 L616.2 1194.9 L615.8 1195.1 L615.3 1195.4 L614.9 1195.6 L614.4 1195.8 L614.0 1196.1 L613.6 1196.3 L613.1 1196.5 L612.7 1196.8 L612.2 1197.0 L611.8 1197.2 L611.3 1197.4 L610.9 1197.7 L610.5 1197.9 L610.0 1198.1 L609.6 1198.4 L609.1 1198.6 L608.7 1198.8 L608.2 1199.1 L607.8 1199.3 L607.4 1199.5 L606.9 1199.7 L606.5 1200.0 L606.0 1200.2 L605.6 1200.4 L605.1 1200.7 L604.7 1200.9 L604.3 1201.1 L603.8 1201.4 L603.4 1201.6 L602.9 1201.8 L602.5 1202.1 L602.0 1202.3 L601.6 1202.5 L601.1 1202.7 L600.7 1203.0 L600.3 1203.2 L599.8 1203.4 L599.4 1203.7 L598.9 1203.9 L598.5 1204.1 L598.0 1204.4 L597.6 1204.6 L597.2 1204.8 L596.7 1205.1 L596.3 1205.3 L595.8 1205.5 L595.4 1205.7 L594.9 1206.0 L594.5 1206.2 L594.1 1206.4 L593.6 1206.7 L593.2 1206.9 L592.7 1207.1 L592.3 1207.4 L591.8 1207.6 L591.4 1207.8 L590.9 1208.1 L590.5 1208.3 L590.1 1208.5 L589.6 1208.7 L589.2 1209.0 L588.7 1209.2 L588.3 1209.4 L587.8 1209.7 L587.4 1209.9 L587.0 1210.1 L586.5 1210.4 L586.1 1210.6 L585.6 1210.8 L585.2 1211.1 L584.7 1211.3 L584.3 1211.5 L583.8 1211.7 L583.4 1212.0 L583.0 1212.2 L582.5 1212.4 L582.1 1212.7 L581.6 1212.9 L581.2 1213.1 L580.7 1213.4 L580.3 1213.6 L579.9 1213.8 L579.4 1214.0 L579.0 1214.3 L578.5 1214.5 L578.1 1214.7 L577.6 1215.0 L577.2 1215.2 L576.7 1215.4 L576.3 1215.7 L575.9 1215.9 L575.4 1216.1 L575.0 1216.3 L574.5 1216.6 L574.1 1216.8 L573.6 1217.0 L573.2 1217.3 L572.7 1217.5 L572.3 1217.7 L571.9 1217.9 L571.4 1218.2 L571.0 1218.4 L570.5 1218.6 L570.1 1218.9 L569.6 1219.1 L569.2 1219.3 L568.7 1219.6 L568.3 1219.8 L567.9 1220.0 L567.4 1220.2 L567.0 1220.5 L566.5 1220.7 L566.1 1220.9 L565.6 1221.2 L565.2 1221.4 L564.7 1221.6 L564.3 1221.8 L563.8 1222.1 L563.4 1222.3 L563.0 1222.5 L562.5 1222.7 L562.1 1223.0 L561.6 1223.2 L561.2 1223.4 L560.7 1223.7 L560.3 1223.9 L559.8 1224.1 L559.4 1224.3 L558.9 1224.6 L558.5 1224.8 L558.1 1225.0 L557.6 1225.2 L557.2 1225.5 L556.7 1225.7 L556.3 1225.9 L555.8 1226.2 L555.4 1226.4 L554.9 1226.6 L554.5 1226.8 L554.0 1227.1 L553.6 1227.3 L553.1 1227.5 L552.7 1227.7 L552.3 1228.0 L551.8 1228.2 L551.4 1228.4 L550.9 1228.6 L550.5 1228.9 L550.0 1229.1 L549.6 1229.3 L549.1 1229.5 L548.7 1229.8 L548.2 1230.0 L547.8 1230.2 L547.3 1230.4 L546.9 1230.7 L546.4 1230.9 L546.0 1231.1 L545.5 1231.3 L545.1 1231.6 L544.7 1231.8 L544.2 1232.0 L543.8 1232.2 L543.3 1232.5 L542.9 1232.7 L542.4 1232.9 L542.0 1233.1 L541.5 1233.3 L541.1 1233.6 L540.6 1233.8 L540.2 1234.0 L539.7 1234.2 L539.3 1234.5 L538.8 1234.7 L538.4 1234.9 L537.9 1235.1 L537.5 1235.3 L537.0 1235.6 L536.6 1235.8 L536.1 1236.0 L535.7 1236.2 L535.2 1236.4 L534.8 1236.7 L534.3 1236.9 L533.9 1237.1 L533.4 1237.3 L533.0 1237.5 L532.5 1237.8 L532.1 1238.0 L531.6 1238.2 L531.2 1238.4 L530.7 1238.6 L530.3 1238.9 L529.8 1239.1 L529.4 1239.3 L528.9 1239.5 L528.5 1239.7 L528.0 1240.0 L527.6 1240.2 L527.1 1240.4 L526.7 1240.6 L526.2 1240.8 L525.8 1241.0 L525.3 1241.3 L524.9 1241.5 L524.4 1241.7 L524.0 1241.9 L523.5 1242.1 L523.1 1242.3 L522.6 1242.6 L522.2 1242.8 L521.7 1243.0 L521.3 1243.2 L520.8 1243.4 L520.4 1243.6 L519.9 1243.9 L519.5 1244.1 L519.0 1244.3 L518.6 1244.5 L518.1 1244.7 L517.7 1244.9 L517.2 1245.1 L516.8 1245.4 L516.3 1245.6 L515.9 1245.8 L515.4 1246.0 L515.0 1246.2 L514.5 1246.4 L514.0 1246.6 L513.6 1246.8 L513.1 1247.1 L512.7 1247.3 L512.2 1247.5 L511.8 1247.7 L511.3 1247.9 L510.9 1248.1 L510.4 1248.3 L510.0 1248.5 L509.5 1248.7 L509.1 1249.0 L508.6 1249.2 L508.2 1249.4 L507.7 1249.6 L507.2 1249.8 L506.8 1250.0 L506.3 1250.2 L505.9 1250.4 L505.4 1250.6 L505.0 1250.8 L504.5 1251.0 L504.1 1251.3 L503.6 1251.5 L503.1 1251.7 L502.7 1251.9 L502.2 1252.1 L501.8 1252.3 L501.3 1252.5 L500.9 1252.7 L500.4 1252.9 L500.0 1253.1 L499.5 1253.3 L499.0 1253.5 L498.6 1253.7 L498.1 1253.9 L497.7 1254.1 L497.2 1254.3 L496.8 1254.5 L496.3 1254.8 L495.9 1255.0 L495.4 1255.2 L494.9 1255.4 L494.5 1255.6 L494.0 1255.8 L493.6 1256.0 L493.1 1256.2 L492.6 1256.4 L492.2 1256.6 L491.7 1256.8 L491.3 1257.0 L490.8 1257.2 L490.4 1257.4 L489.9 1257.6 L489.4 1257.8 L489.0 1258.0 L488.5 1258.2 L488.1 1258.4 L487.6 1258.6 L487.1 1258.8 L486.7 1259.0 L486.2 1259.2 L485.8 1259.4 L485.3 1259.6 L484.9 1259.8 L484.4 1260.0 L483.9 1260.2 L483.5 1260.4 L483.0 1260.6 L482.6 1260.8 L482.1 1261.0 L481.6 1261.1 L481.2 1261.3 L480.7 1261.5 L480.3 1261.7 L479.8 1261.9 L479.3 1262.1 L478.9 1262.3 L478.4 1262.5 L477.9 1262.7 L477.5 1262.9 L477.0 1263.1 L476.6 1263.3 L476.1 1263.5 L475.6 1263.7 L475.2 1263.9 L474.7 1264.1 L474.3 1264.3 L473.8 1264.4 L473.3 1264.6 L472.9 1264.8 L472.4 1265.0 L471.9 1265.2 L471.5 1265.4 L471.0 1265.6 L470.6 1265.8 L470.1 1266.0 L469.6 1266.2 L469.2 1266.4 L468.7 1266.5 L468.2 1266.7 L467.8 1266.9 L467.3 1267.1 L466.9 1267.3 L466.4 1267.5 L465.9 1267.7 L465.5 1267.9 L465.0 1268.1 L464.5 1268.2 L464.1 1268.4 L463.6 1268.6 L463.1 1268.8 L462.7 1269.0 L462.2 1269.2 L461.7 1269.4 L461.3 1269.6 L460.8 1269.7 L460.4 1269.9 L459.9 1270.1 L459.4 1270.3 L459.0 1270.5 L458.5 1270.7 L458.0 1270.8 L457.6 1271.0 L457.1 1271.2 L456.6 1271.4 L456.2 1271.6 L455.7 1271.8 L455.2 1272.0 L454.8 1272.1 L454.3 1272.3 L453.8 1272.5 L453.4 1272.7 L452.9 1272.9 L452.4 1273.0 L452.0 1273.2 L451.5 1273.4 L451.0 1273.6 L450.6 1273.8 L450.1 1273.9 L449.6 1274.1 L449.2 1274.3 L448.7 1274.5 L448.2 1274.7 L447.8 1274.8 L447.3 1275.0 L446.8 1275.2 L446.4 1275.4 L445.9 1275.6 L445.4 1275.7 L445.0 1275.9 L444.5 1276.1 L444.0 1276.3 L443.6 1276.5 L443.1 1276.6 L442.6 1276.8 L442.2 1277.0 L441.7 1277.2 L441.2 1277.3 L440.7 1277.5 L440.3 1277.7 L439.8 1277.9 L439.3 1278.0 L438.9 1278.2 L438.4 1278.4 L437.9 1278.6 L437.5 1278.7 L437.0 1278.9 L436.5 1279.1 L436.1 1279.3 L435.6 1279.4 L435.1 1279.6 L434.6 1279.8 L434.2 1280.0 L433.7 1280.1 L433.2 1280.3 L432.8 1280.5 L432.3 1280.6 L431.8 1280.8 L431.4 1281.0 L430.9 1281.2 L430.4 1281.3 L429.9 1281.5 L429.5 1281.7 L429.0 1281.8 L428.5 1282.0 L428.1 1282.2 L427.6 1282.3 L427.1 1282.5 L426.7 1282.7 L426.2 1282.9 L425.7 1283.0 L425.2 1283.2 L424.8 1283.4 L424.3 1283.5 L423.8 1283.7 L423.4 1283.9 L422.9 1284.0 L422.4 1284.2 L421.9 1284.4 L421.5 1284.5 L421.0 1284.7 L420.5 1284.9 L420.0 1285.0 L419.6 1285.2 L419.1 1285.4 L418.6 1285.5 L418.2 1285.7 L417.7 1285.9 L417.2 1286.0 L416.7 1286.2 L416.3 1286.4 L415.8 1286.5 L415.3 1286.7 L414.8 1286.8 L414.4 1287.0 L413.9 1287.2 L413.4 1287.3 L413.0 1287.5 L412.5 1287.7 L412.0 1287.8 L411.5 1288.0 L411.1 1288.2 L410.6 1288.3 L410.1 1288.5 L409.6 1288.6 L409.2 1288.8 L408.7 1289.0 L408.2 1289.1 L407.7 1289.3 L407.3 1289.4 L406.8 1289.6 L406.3 1289.8 L405.8 1289.9 L405.4 1290.1 L404.9 1290.2 L404.4 1290.4 L403.9 1290.6 L403.5 1290.7 L403.0 1290.9 L402.5 1291.0 L402.0 1291.2 L401.6 1291.3 L401.1 1291.5 L400.6 1291.7 L400.1 1291.8 L399.7 1292.0 L399.2 1292.1 L398.7 1292.3 L398.2 1292.4 L397.8 1292.6 L397.3 1292.8 L396.8 1292.9 L396.3 1293.1 L395.9 1293.2 L395.4 1293.4 L394.9 1293.5 L394.4 1293.7 L394.0 1293.8 L393.5 1294.0 L393.0 1294.1 L392.5 1294.3 L392.0 1294.5 L391.6 1294.6 L391.1 1294.8 L390.6 1294.9 L390.1 1295.1 L389.7 1295.2 L389.2 1295.4 L388.7 1295.5 L388.2 1295.7 L387.8 1295.8 L387.3 1296.0 L386.8 1296.1 L386.3 1296.3 L385.8 1296.4 L385.4 1296.6 L384.9 1296.7 L384.4 1296.9 L383.9 1297.0 L383.5 1297.2 L383.0 1297.3 L382.5 1297.5 L382.0 1297.6 L381.5 1297.8 L381.1 1297.9 L380.6 1298.1 L380.1 1298.2 L379.6 1298.4 L379.2 1298.5 L378.7 1298.7 L378.2 1298.8 L377.7 1298.9 L377.2 1299.1 L376.8 1299.2 L376.3 1299.4 L375.8 1299.5 L375.3 1299.7 L374.8 1299.8 L374.4 1300.0 L373.9 1300.1 L373.4 1300.3 L372.9 1300.4 L372.5 1300.5 L372.0 1300.7 L371.5 1300.8 L371.0 1301.0 L370.5 1301.1 L370.1 1301.3 L369.6 1301.4 L369.1 1301.6 L368.6 1301.7 L368.1 1301.8 L367.7 1302.0 L367.2 1302.1 L366.7 1302.3 L366.2 1302.4 L365.7 1302.5 L365.3 1302.7 L364.8 1302.8 L364.3 1303.0 L363.8 1303.1 L363.3 1303.3 L362.9 1303.4 L362.4 1303.5 L361.9 1303.7 L361.4 1303.8 L360.9 1304.0 L360.4 1304.1 L360.0 1304.2 L359.5 1304.4 L359.0 1304.5 L358.5 1304.6 L358.0 1304.8 L357.6 1304.9 L357.1 1305.1 L356.6 1305.2 L356.1 1305.3 L355.6 1305.5 L355.2 1305.6 L354.7 1305.7 L354.2 1305.9 L353.7 1306.0 L353.2 1306.2 L352.7 1306.3 L352.3 1306.4 L351.8 1306.6 L351.3 1306.7 L350.8 1306.8 L350.3 1307.0 L349.9 1307.1 L349.4 1307.2 L348.9 1307.4 L348.4 1307.5 L347.9 1307.6 L347.4 1307.8 L347.0 1307.9 L346.5 1308.0 L346.0 1308.2 L345.5 1308.3 L345.0 1308.4 L344.6 1308.6 L344.1 1308.7 L343.6 1308.8 L343.1 1309.0 L342.6 1309.1 L342.1 1309.2 L341.7 1309.4 L341.2 1309.5 L340.7 1309.6 L340.2 1309.8 L339.7 1309.9 L339.2 1310.0 L338.8 1310.2 L338.3 1310.3 L337.8 1310.4 L337.3 1310.5 L336.8 1310.7 L336.3 1310.8 L335.9 1310.9 L335.4 1311.1 L334.9 1311.2 L334.4 1311.3 L333.9 1311.5 L333.5 1311.6 L333.0 1311.7 L332.5 1311.9 L332.0 1312.0 L331.5 1312.1 L331.0 1312.3 L330.6 1312.4 L330.1 1312.5 L329.6 1312.6 L329.1 1312.8 L328.6 1312.9 L328.1 1313.0 L327.7 1313.2 L327.2 1313.3 L326.7 1313.4 L326.2 1313.6 L325.7 1313.7 L325.3 1313.8 L324.8 1314.0 L324.3 1314.1 L323.8 1314.2 L323.3 1314.4 L322.8 1314.5 L322.4 1314.6 L321.9 1314.8 L321.4 1314.9 L320.9 1315.0 L320.4 1315.2 L320.0 1315.3 L319.5 1315.4 L319.0 1315.6 L318.5 1315.7 L318.0 1315.8 L317.5 1316.0 L317.1 1316.1 L316.6 1316.2 L316.1 1316.4 L315.6 1316.5 L315.1 1316.6 L314.7 1316.8 L314.2 1316.9 L313.7 1317.1 L313.2 1317.2 L312.7 1317.3 L312.3 1317.5 L311.8 1317.6 L311.3 1317.7 L310.8 1317.9 L310.3 1318.0 L309.9 1318.2 L309.4 1318.3 L308.9 1318.4 L308.4 1318.6 L307.9 1318.7 L307.5 1318.9 L307.0 1319.0 L306.5 1319.1 L306.0 1319.3 L305.6 1319.4 L305.1 1319.6 L304.6 1319.7 L304.1 1319.8 L303.6 1320.0 L303.2 1320.1 L302.7 1320.3 L302.2 1320.4 L301.7 1320.6 L301.3 1320.7 L300.8 1320.9 L300.3 1321.0 L299.8 1321.1 L299.4 1321.3 L298.9 1321.4 L298.4 1321.6 L297.9 1321.7 L297.4 1321.9 L297.0 1322.0 L296.5 1322.2 L296.0 1322.3 L295.5 1322.5 L295.1 1322.6 L294.6 1322.8 L294.1 1322.9 L293.7 1323.1 L293.2 1323.3 L292.7 1323.4 L292.2 1323.6 L291.8 1323.7 L291.3 1323.9 L290.8 1324.0 L290.3 1324.2 L289.9 1324.3 L289.4 1324.5 L288.9 1324.7 L288.4 1324.8 L288.0 1325.0 L287.5 1325.1 L287.0 1325.3 L286.6 1325.5 L286.1 1325.6 L285.6 1325.8 L285.2 1325.9 L284.7 1326.1 L284.2 1326.3 L283.7 1326.4 L283.3 1326.6 L282.8 1326.8 L282.3 1326.9 L281.9 1327.1 L281.4 1327.3 L280.9 1327.4 L280.5 1327.6 L280.0 1327.8 L279.5 1328.0 L279.1 1328.1 L278.6 1328.3 L278.1 1328.5 L277.7 1328.6 L277.2 1328.8 L276.7 1329.0 L276.3 1329.2 L275.8 1329.4 L275.3 1329.5 L274.9 1329.7 L274.4 1329.9 L273.9 1330.1 L273.5 1330.3 L273.0 1330.4 L272.5 1330.6 L272.1 1330.8 L271.6 1331.0 L271.2 1331.2 L270.7 1331.4 L270.2 1331.5 L269.8 1331.7 L269.3 1331.9 L268.8 1332.1 L268.4 1332.3 L267.9 1332.5 L267.5 1332.7 L267.0 1332.9 L266.5 1333.1 L266.1 1333.3 L265.6 1333.5 L265.2 1333.7 L264.7 1333.9 L264.3 1334.0 L263.8 1334.2 L263.3 1334.4 L262.9 1334.6 L262.4 1334.9 L262.0 1335.1 L261.5 1335.3 L261.1 1335.5 L260.6 1335.7 L260.1 1335.9 L259.7 1336.1 L259.2 1336.3 L258.8 1336.5 L258.3 1336.7 L257.9 1336.9 L257.4 1337.1 L257.0 1337.3 L256.5 1337.6 L256.1 1337.8 L255.6 1338.0 L255.2 1338.2 L254.7 1338.4 L254.3 1338.7 L253.8 1338.9 L253.4 1339.1 L252.9 1339.3 L252.5 1339.5 L252.0 1339.8 L251.6 1340.0 L251.1 1340.2 L250.7 1340.4 L250.2 1340.7 L249.8 1340.9 L249.3 1341.1 L248.9 1341.4 L248.4 1341.6 L248.0 1341.8 L247.5 1342.1 L247.1 1342.3 L246.7 1342.6 L246.2 1342.8 L245.8 1343.0 L245.3 1343.3 L244.9 1343.5 L244.4 1343.8 L244.0 1344.0 L243.6 1344.3 L243.1 1344.5 L242.7 1344.7 L242.2 1345.0 L241.8 1345.2 L241.4 1345.5 L240.9 1345.8 L240.5 1346.0 L240.1 1346.3 L239.6 1346.5 L239.2 1346.8 L238.7 1347.0 L238.3 1347.3 L237.9 1347.6 L237.4 1347.8 L237.0 1348.1 L236.6 1348.3 L236.2 1348.6 L235.7 1348.9 L235.3 1349.1 L234.9 1349.4 L234.4 1349.7 L234.0 1349.9 L233.6 1350.2 L233.2 1350.5 L232.7 1350.8 L232.3 1351.0 L231.9 1351.3 L231.5 1351.6 L231.0 1351.9 L230.6 1352.2 L230.2 1352.4 L229.8 1352.7 L229.3 1353.0 L228.9 1353.3 L228.5 1353.6 L228.1 1353.9 L227.7 1354.1 L227.3 1354.4 L226.8 1354.7 L226.4 1355.0 L226.0 1355.3 L225.6 1355.6 L225.2 1355.9 L224.8 1356.2 L224.4 1356.5 L224.0 1356.8 L223.6 1357.1 L223.1 1357.4 L222.7 1357.7 L222.3 1358.0 L221.9 1358.3 L221.5 1358.6 L221.1 1358.9 L220.7 1359.2 L220.3 1359.5 L219.9 1359.8 L219.5 1360.1 L219.1 1360.4 L218.7 1360.7 L218.3 1361.0 L217.9 1361.4 L217.5 1361.7 L217.1 1362.0 L216.7 1362.3 L216.4 1362.6 L216.0 1362.9 L215.6 1363.3 L215.2 1363.6 L214.8 1363.9 L214.4 1364.2 L214.0 1364.6 L213.6 1364.9 L213.3 1365.2 L212.9 1365.5 L212.5 1365.9 L212.1 1366.2 L211.7 1366.5 L211.4 1366.9 L211.0 1367.2 L210.6 1367.5 L210.2 1367.9 L209.9 1368.2 L209.5 1368.5 L209.1 1368.9 L208.7 1369.2 L208.4 1369.5 L208.0 1369.9 L207.6 1370.2 L207.3 1370.6 L206.9 1370.9 L206.6 1371.3 L206.2 1371.6 L205.8 1372.0 L205.5 1372.3 L205.1 1372.7 L204.8 1373.0 L204.4 1373.4 L204.1 1373.7 L203.7 1374.1 L203.3 1374.4 L203.0 1374.8 L202.7 1375.1 L202.3 1375.5 L202.0 1375.9 L201.6 1376.2 L201.3 1376.6 L200.9 1377.0 L200.6 1377.3 L200.2 1377.7 L199.9 1378.0 L199.6 1378.4 L199.2 1378.8 L198.9 1379.2 L198.6 1379.5 L198.2 1379.9 L197.9 1380.3 L197.6 1380.6 L197.3 1381.0 L196.9 1381.4 L196.6 1381.8 L196.3 1382.2 L196.0 1382.5 L195.6 1382.9 L195.3 1383.3 L195.0 1383.7 L194.7 1384.1 L194.4 1384.4 L194.1 1384.8 L193.8 1385.2 L193.5 1385.6 L193.1 1386.0 L192.8 1386.4 L192.5 1386.8 L192.2 1387.2 L191.9 1387.6 L191.6 1388.0 L191.3 1388.4 L191.0 1388.8 L190.7 1389.2 L190.4 1389.5 L190.2 1389.9 L189.9 1390.3 L189.6 1390.8 L189.3 1391.2 L189.0 1391.6 L188.7 1392.0 L188.4 1392.4 L188.2 1392.8 L187.9 1393.2 L187.6 1393.6 L187.3 1394.0 L187.1 1394.4 L186.8 1394.8 L186.5 1395.2 L186.3 1395.7 L186.0 1396.1 L185.7 1396.5 L185.5 1396.9 L185.2 1397.3 L184.9 1397.8 L184.7 1398.2 L184.4 1398.6 L184.2 1399.0 L183.9 1399.4 L183.7 1399.9 L183.4 1400.3 L183.2 1400.7 L182.9 1401.2 L182.7 1401.6 L182.4 1402.0 L182.2 1402.4 L182.0 1402.9 L181.7 1403.3 L181.5 1403.7 L181.3 1404.2 L181.0 1404.6 L180.8 1405.1 L180.6 1405.5 L180.4 1405.9 L180.1 1406.4 L179.9 1406.8 L179.7 1407.3 L179.5 1407.7 L179.3 1408.2 L179.0 1408.6 L178.8 1409.0 L178.6 1409.5 L178.4 1409.9 L178.2 1410.4 L178.0 1410.8 L177.8 1411.3 L177.6 1411.8 L177.4 1412.2 L177.2 1412.7 L177.0 1413.1 L176.8 1413.6 L176.6 1414.0 L176.4 1414.5 L176.2 1414.9 L176.1 1415.4 L175.9 1415.9 L175.7 1416.3 L175.5 1416.8 L175.3 1417.3 L175.1 1417.7 L175.0 1418.2 L174.8 1418.6 L174.6 1419.1 L174.4 1419.6 L174.3 1420.0 L174.1 1420.5 L173.9 1421.0 L173.8 1421.5 L173.6 1421.9 L173.4 1422.4 L173.3 1422.9 L173.1 1423.3 L173.0 1423.8 L172.8 1424.3 L172.6 1424.8 L172.5 1425.2 L172.3 1425.7 L172.2 1426.2 L172.0 1426.7 L171.9 1427.2 L171.7 1427.6 L171.6 1428.1 L171.4 1428.6 L171.3 1429.1 L171.2 1429.6 L171.0 1430.0 L170.9 1430.5 L170.7 1431.0 L170.6 1431.5 L170.5 1432.0 L170.3 1432.5 L170.2 1432.9 L170.1 1433.4 L169.9 1433.9 L169.8 1434.4 L169.7 1434.9 L169.6 1435.4 L169.4 1435.9 L169.3 1436.3 L169.2 1436.8 L169.1 1437.3 L168.9 1437.8 L168.8 1438.3 L168.7 1438.8 L168.6 1439.3 L168.5 1439.8 L168.4 1440.3 L168.3 1440.8 L168.1 1441.3 L168.0 1441.8 L167.9 1442.2 L167.8 1442.7 L167.7 1443.2 L167.6 1443.7 L167.5 1444.2 L167.4 1444.7 L167.3 1445.2 L167.2 1445.7 L167.1 1446.2 L167.0 1446.7 L166.9 1447.2 L166.8 1447.7 L166.7 1448.2 L166.6 1448.7 L166.5 1449.2 L166.4 1449.7 L166.3 1450.2 L166.2 1450.7 L166.2 1451.2 L166.1 1451.7 L166.0 1452.2 L165.9 1452.7 L165.8 1453.2 L165.7 1453.7 L165.6 1454.2 L165.6 1454.7 L165.5 1455.2 L165.4 1455.7 L165.3 1456.2 L165.2 1456.7 L165.2 1457.2 L165.1 1457.7 L165.0 1458.2 L164.9 1458.7 L164.9 1459.2 L164.8 1459.7 L164.7 1460.2 L164.6 1460.7 L164.6 1461.2 L164.5 1461.7 L164.4 1462.2 L164.4 1462.7 L164.3 1463.2 L164.2 1463.7 L164.2 1464.2 L164.1 1464.7 L164.0 1465.2 L164.0 1465.7 L163.9 1466.2 L163.8 1466.7 L163.8 1467.2 L163.7 1467.7 L163.7 1468.2 L163.6 1468.7 L163.5 1469.2 L163.5 1469.7 L163.4 1470.2 L163.4 1470.7 L163.3 1471.2 L163.3 1471.7 L163.2 1472.2 L163.1 1472.7 L163.1 1473.2 L163.0 1473.7 L163.0 1474.2 L162.9 1474.7 L162.9 1475.2 L162.8 1475.7 L162.8 1476.2 L162.7 1476.7 L162.7 1477.2 L162.6 1477.7 L162.6 1478.2 L162.5 1478.7 L162.5 1479.2 L162.5 1479.7 L162.4 1480.2 L162.4 1480.7 L162.3 1481.2 L162.3 1481.7 L162.2 1482.2 L162.2 1482.7 L162.2 1483.2 L162.1 1483.7 L162.1 1484.2 L162.0 1484.7 L162.0 1485.2 L162.0 1485.7 L161.9 1486.2 L161.9 1486.7 L161.8 1487.2 L161.8 1487.7 L161.8 1488.2 L161.7 1488.7 L161.7 1489.2 L161.7 1489.7 L161.6 1490.2 L161.6 1490.7 L161.6 1491.2 L161.5 1491.7 L161.5 1492.2 L161.5 1492.7 L161.4 1493.2 L161.4 1493.7 L161.4 1494.2 L161.3 1494.7 L161.3 1495.2 L161.3 1495.6 L161.3 1496.1 L161.2 1496.6 L161.2 1497.1 L161.2 1497.6 L161.1 1498.1 L161.1 1498.6 L161.1 1499.1 L161.1 1499.6 L161.0 1500.1 L161.0 1500.6 L161.0 1501.1 L161.0 1501.6 L160.9 1502.1 L160.9 1502.6 L160.9 1503.1 L160.9 1503.6 L160.9 1504.1 L160.8 1504.6 L160.8 1505.1 L160.8 1505.6 L160.8 1506.1 L160.8 1506.6 L160.7 1507.1 L160.7 1507.6 L160.7 1508.1 L160.7 1508.6 L160.7 1509.1 L160.6 1509.6 L160.6 1510.1 L160.6 1510.6 L160.6 1511.1 L160.6 1511.6 L160.6 1512.1 L160.5 1512.6 L160.5 1513.1 L160.5 1513.6 L160.5 1514.1 L160.5 1514.5 L160.5 1515.0 L160.4 1515.5 L160.4 1516.0 L160.4 1516.5 L160.4 1517.0 L160.4 1517.5 L160.4 1518.0 L160.4 1518.5 L160.3 1519.0 L160.3 1519.5 L160.3 1520.0 L160.3 1520.5 L160.3 1521.0 L160.3 1521.5 L160.3 1522.0 L160.3 1522.5 L160.3 1523.0 L160.2 1523.5 L160.2 1524.0 L160.2 1524.5 L160.2 1525.0 L160.2 1525.5 L160.2 1526.0 L160.2 1526.5 L160.2 1527.0 L160.2 1527.5 L160.1 1528.0 L160.1 1528.5 L160.1 1529.0 L160.1 1529.5 L160.1 1530.0 L160.1 1530.5 L160.1 1531.0 L160.1 1531.5 L160.1 1532.0 L160.1 1532.4 L160.1 1532.9 L160.0 1533.4 L160.0 1533.9 L160.0 1534.4 L160.0 1534.9 L160.0 1535.4 L160.0 1535.9 L160.0 1536.4 L160.0 1536.9 L160.0 1537.4 L160.0 1537.9 L160.0 1538.4 L160.0 1538.9 L160.0 1539.4 L159.9 1539.9 L159.9 1540.4 L159.9 1540.9 L159.9 1541.4 L159.9 1541.9 L159.9 1542.4 L159.9 1542.9 L159.9 1543.4 L159.9 1543.9 L159.9 1544.4 L159.9 1544.9 L159.9 1545.4 L159.9 1545.9 L159.8 1546.4 L159.8 1546.9 L159.8 1547.4 L159.8 1547.9 L159.8 1548.4 L159.8 1548.9 L159.8 1549.4 L159.8 1549.9 L159.8 1550.4 L159.8 1550.9 L159.8 1551.4 L159.8 1551.9 L159.8 1552.4 L159.7 1552.9 L159.7 1553.4 L159.7 1553.9 L159.7 1554.4 L159.7 1554.9 L159.7 1555.4 L159.7 1555.9 L159.7 1556.4 L159.7 1556.9 L159.7 1557.4 L159.7 1557.9 L159.6 1558.4 L159.6 1558.9 L159.6 1559.4 L159.6 1559.9 L159.6 1560.4 L159.6 1560.9 L159.6 1561.4 L159.6 1561.9 L159.6 1562.4 L159.5 1562.9 L159.5 1563.4 L159.5 1563.9 L159.5 1564.4 L159.5 1564.9 L159.5 1565.4 L159.5 1565.9 L159.5 1566.4 L159.5 1566.9 L159.4 1567.4 L159.4 1567.9 L159.4 1568.4 L159.4 1568.9 L159.4 1569.4 L159.4 1569.9 L159.4 1570.4 L159.3 1570.9 L159.3 1571.4 L159.3 1571.9 L159.3 1572.4 L159.3 1572.9 L159.3 1573.4 L159.2 1573.9 L159.2 1574.4 L159.2 1574.9 L159.2 1575.4 L159.2 1575.9 L159.2 1576.4 L159.1 1576.9 L159.1 1577.4 L159.1 1577.9 L159.1 1578.4 L159.1 1578.9 L159.0 1579.4 L159.0 1579.9 L159.0 1580.4 L159.0 1580.9 L159.0 1581.4 L158.9 1581.9 L158.9 1582.4 L158.9 1582.9 L158.9 1583.4 L158.8 1583.9 L158.8 1584.4 L158.8 1584.9 L158.8 1585.4 L158.8 1585.9 L158.7 1586.4 L158.7 1586.9 L158.7 1587.4 L158.6 1587.9 L158.6 1588.4 L158.6 1589.0 L158.6 1589.5 L158.5 1590.0 L158.5 1590.5 L158.5 1591.0 L158.5 1591.5 L158.4 1592.0 L158.4 1592.5 L158.4 1593.0 L158.3 1593.5 L158.3 1594.0" fill="none" stroke="#9a9a9a" stroke-width="2"/>
<g fill="#bdbdbd" stroke="#6a6a6a" stroke-width="1.7"><circle cx="798.0" cy="1068.0" r="5.00"/><circle cx="799.3" cy="1070.0" r="5.00"/><circle cx="800.0" cy="1071.5" r="5.00"/><circle cx="800.6" cy="1073.1" r="5.00"/><circle cx="801.1" cy="1074.7" r="5.00"/><circle cx="801.3" cy="1076.2" r="5.00"/><circle cx="801.4" cy="1077.8" r="5.00"/><circle cx="801.3" cy="1079.8" r="5.00"/><circle cx="800.8" cy="1081.6" r="5.00"/><circle cx="800.1" cy="1083.3" r="5.00"/><circle cx="799.1" cy="1084.8" r="5.00"/><circle cx="797.5" cy="1086.6" r="5.00"/><circle cx="795.7" cy="1088.2" r="5.00"/><circle cx="793.8" cy="1089.7" r="5.00"/><circle cx="791.8" cy="1091.2" r="5.00"/><circle cx="789.4" cy="1093.0" r="5.00"/><circle cx="787.0" cy="1094.8" r="5.00"/><circle cx="784.5" cy="1096.6" r="5.00"/><circle cx="782.1" cy="1098.3" r="5.00"/><circle cx="779.7" cy="1100.1" r="5.00"/><circle cx="777.2" cy="1101.8" r="5.00"/><circle cx="774.8" cy="1103.5" r="5.00"/><circle cx="772.3" cy="1105.2" r="5.00"/><circle cx="769.8" cy="1106.9" r="5.00"/><circle cx="767.3" cy="1108.6" r="5.00"/><circle cx="764.8" cy="1110.3" r="5.00"/><circle cx="762.3" cy="1112.0" r="5.00"/><circle cx="759.8" cy="1113.6" r="5.00"/><circle cx="757.3" cy="1115.3" r="5.00"/><circle cx="754.8" cy="1116.9" r="5.00"/><circle cx="752.3" cy="1118.6" r="5.00"/><circle cx="749.8" cy="1120.2" r="5.00"/><circle cx="747.2" cy="1121.8" r="5.00"/><circle cx="744.7" cy="1123.4" r="5.00"/><circle cx="742.1" cy="1125.0" r="5.00"/><circle cx="739.6" cy="1126.6" r="5.00"/><circle cx="737.0" cy="1128.2" r="5.00"/><circle cx="734.5" cy="1129.7" r="5.00"/><circle cx="731.9" cy="1131.3" r="5.00"/><circle cx="729.3" cy="1132.9" r="5.00"/><circle cx="726.7" cy="1134.4" r="5.00"/><circle cx="724.1" cy="1135.9" r="5.00"/><circle cx="721.6" cy="1137.5" r="5.00"/><circle cx="719.0" cy="1139.0" r="5.00"/><circle cx="716.4" cy="1140.5" r="5.00"/><circle cx="713.8" cy="1142.0" r="5.00"/><circle cx="711.2" cy="1143.5" r="5.00"/><circle cx="708.6" cy="1145.0" r="5.00"/><circle cx="705.5" cy="1146.8" r="5.00"/><circle cx="702.5" cy="1148.5" r="5.00"/><circle cx="699.4" cy="1150.3" r="5.00"/><circle cx="696.4" cy="1152.0" r="5.00"/><circle cx="693.3" cy="1153.7" r="5.00"/><circle cx="690.3" cy="1155.4" r="5.00"/><circle cx="687.2" cy="1157.1" r="5.00"/><circle cx="684.1" cy="1158.8" r="5.00"/><circle cx="681.1" cy="1160.5" r="5.00"/><circle cx="678.0" cy="1162.2" r="5.00"/><circle cx="674.9" cy="1163.8" r="5.00"/><circle cx="671.9" cy="1165.5" r="5.00"/><circle cx="668.8" cy="1167.2" r="5.00"/><circle cx="665.7" cy="1168.8" r="5.00"/><circle cx="662.6" cy="1170.5" r="5.00"/><circle cx="659.5" cy="1172.1" r="5.00"/><circle cx="656.5" cy="1173.8" r="5.00"/><circle cx="653.4" cy="1175.4" r="5.00"/><circle cx="650.3" cy="1177.1" r="5.00"/><circle cx="647.2" cy="1178.7" r="5.00"/><circle cx="644.1" cy="1180.3" r="5.00"/><circle cx="641.0" cy="1182.0" r="5.00"/><circle cx="637.9" cy="1183.6" r="5.00"/><circle cx="634.8" cy="1185.2" r="5.00"/><circle cx="631.7" cy="1186.8" r="5.00"/><circle cx="628.6" cy="1188.4" r="5.00"/><circle cx="625.5" cy="1190.1" r="5.00"/><circle cx="622.4" cy="1191.7" r="5.00"/><circle cx="619.3" cy="1193.3" r="5.00"/><circle cx="616.2" cy="1194.9" r="5.00"/><circle cx="613.1" cy="1196.5" r="5.00"/><circle cx="610.0" cy="1198.1" r="5.00"/><circle cx="606.9" cy="1199.7" r="5.00"/><circle cx="603.8" cy="1201.4" r="5.00"/><circle cx="600.7" cy="1203.0" r="5.00"/><circle cx="597.6" cy="1204.6" r="5.00"/><circle cx="594.5" cy="1206.2" r="5.00"/><circle cx="591.4" cy="1207.8" r="5.00"/><circle cx="588.3" cy="1209.4" r="5.00"/><circle cx="585.2" cy="1211.1" r="5.00"/><circle cx="582.1" cy="1212.7" r="5.00"/><circle cx="579.0" cy="1214.3" r="5.00"/><circle cx="575.9" cy="1215.9" r="5.00"/><circle cx="572.7" cy="1217.5" r="5.00"/><circle cx="569.6" cy="1219.1" r="5.00"/><circle cx="566.5" cy="1220.7" r="5.00"/><circle cx="563.4" cy="1222.3" r="5.00"/><circle cx="560.3" cy="1223.9" r="5.00"/><circle cx="557.2" cy="1225.5" r="5.00"/><circle cx="554.0" cy="1227.1" r="5.00"/><circle cx="550.9" cy="1228.6" r="5.00"/><circle cx="547.8" cy="1230.2" r="5.00"/><circle cx="544.7" cy="1231.8" r="5.00"/><circle cx="541.5" cy="1233.3" r="5.00"/><circle cx="538.4" cy="1234.9" r="5.00"/><circle cx="535.2" cy="1236.4" r="5.00"/><circle cx="532.1" cy="1238.0" r="5.00"/><circle cx="528.9" cy="1239.5" r="5.00"/><circle cx="525.8" cy="1241.0" r="5.00"/><circle cx="522.6" cy="1242.6" r="5.00"/><circle cx="519.5" cy="1244.1" r="4.90"/><circle cx="515.9" cy="1245.8" r="4.80"/><circle cx="512.2" cy="1247.5" r="4.80"/><circle cx="508.6" cy="1249.2" r="4.80"/><circle cx="505.0" cy="1250.8" r="4.80"/><circle cx="501.3" cy="1252.5" r="4.80"/><circle cx="497.7" cy="1254.1" r="4.80"/><circle cx="494.0" cy="1255.8" r="4.80"/><circle cx="490.4" cy="1257.4" r="4.80"/><circle cx="486.7" cy="1259.0" r="4.80"/><circle cx="483.0" cy="1260.6" r="4.80"/><circle cx="479.3" cy="1262.1" r="4.80"/><circle cx="475.6" cy="1263.7" r="4.80"/><circle cx="471.9" cy="1265.2" r="4.80"/><circle cx="468.2" cy="1266.7" r="4.80"/><circle cx="464.5" cy="1268.2" r="4.70"/><circle cx="460.4" cy="1269.9" r="4.60"/><circle cx="456.2" cy="1271.6" r="4.60"/><circle cx="452.0" cy="1273.2" r="4.60"/><circle cx="447.8" cy="1274.8" r="4.60"/><circle cx="443.6" cy="1276.5" r="4.60"/><circle cx="439.3" cy="1278.0" r="4.60"/><circle cx="435.1" cy="1279.6" r="4.60"/><circle cx="430.9" cy="1281.2" r="4.60"/><circle cx="426.7" cy="1282.7" r="4.60"/><circle cx="422.4" cy="1284.2" r="4.50"/><circle cx="417.7" cy="1285.9" r="4.40"/><circle cx="413.0" cy="1287.5" r="4.40"/><circle cx="408.2" cy="1289.1" r="4.40"/><circle cx="403.5" cy="1290.7" r="4.40"/><circle cx="398.7" cy="1292.3" r="4.40"/><circle cx="394.0" cy="1293.8" r="4.40"/><circle cx="389.2" cy="1295.4" r="4.40"/><circle cx="384.4" cy="1296.9" r="4.30"/><circle cx="379.2" cy="1298.5" r="4.20"/><circle cx="373.9" cy="1300.1" r="4.20"/><circle cx="368.6" cy="1301.7" r="4.20"/><circle cx="363.3" cy="1303.3" r="4.20"/><circle cx="358.0" cy="1304.8" r="4.20"/><circle cx="352.7" cy="1306.3" r="4.10"/><circle cx="347.0" cy="1307.9" r="4.00"/><circle cx="341.2" cy="1309.5" r="4.00"/><circle cx="335.4" cy="1311.1" r="4.00"/><circle cx="329.6" cy="1312.6" r="4.00"/><circle cx="323.8" cy="1314.2" r="4.00"/><circle cx="318.0" cy="1315.8" r="4.00"/><circle cx="312.3" cy="1317.5" r="4.10"/><circle cx="307.0" cy="1319.0" r="4.21"/><circle cx="301.7" cy="1320.6" r="4.21"/><circle cx="296.5" cy="1322.2" r="4.31"/><circle cx="291.8" cy="1323.7" r="4.41"/><circle cx="287.0" cy="1325.3" r="4.41"/><circle cx="282.3" cy="1326.9" r="4.51"/><circle cx="278.1" cy="1328.5" r="4.61"/><circle cx="273.9" cy="1330.1" r="4.61"/><circle cx="269.8" cy="1331.7" r="4.71"/><circle cx="266.1" cy="1333.3" r="4.80"/><circle cx="262.4" cy="1334.9" r="4.80"/><circle cx="258.8" cy="1336.5" r="4.80"/><circle cx="255.2" cy="1338.2" r="4.90"/><circle cx="252.0" cy="1339.8" r="4.99"/><circle cx="248.9" cy="1341.4" r="4.99"/><circle cx="245.8" cy="1343.0" r="4.99"/><circle cx="242.7" cy="1344.7" r="5.00"/><circle cx="240.1" cy="1346.3" r="5.00"/><circle cx="237.4" cy="1347.8" r="5.00"/><circle cx="234.9" cy="1349.4" r="5.00"/><circle cx="232.3" cy="1351.0" r="5.00"/><circle cx="229.8" cy="1352.7" r="5.00"/><circle cx="227.3" cy="1354.4" r="5.00"/><circle cx="224.8" cy="1356.2" r="5.00"/><circle cx="222.3" cy="1358.0" r="5.00"/><circle cx="220.3" cy="1359.5" r="5.00"/><circle cx="218.3" cy="1361.0" r="5.00"/><circle cx="216.4" cy="1362.6" r="5.00"/><circle cx="214.4" cy="1364.2" r="5.00"/><circle cx="212.5" cy="1365.9" r="5.00"/><circle cx="210.6" cy="1367.5" r="5.00"/><circle cx="208.7" cy="1369.2" r="5.00"/><circle cx="206.9" cy="1370.9" r="5.00"/><circle cx="205.1" cy="1372.7" r="5.00"/><circle cx="203.3" cy="1374.4" r="5.00"/><circle cx="201.6" cy="1376.2" r="5.00"/><circle cx="199.9" cy="1378.0" r="5.00"/><circle cx="198.2" cy="1379.9" r="5.00"/><circle cx="196.6" cy="1381.8" r="5.00"/><circle cx="195.3" cy="1383.3" r="5.00"/><circle cx="194.1" cy="1384.8" r="5.00"/><circle cx="192.8" cy="1386.4" r="5.00"/><circle cx="191.6" cy="1388.0" r="5.00"/><circle cx="190.4" cy="1389.5" r="5.00"/><circle cx="189.3" cy="1391.2" r="5.00"/><circle cx="188.2" cy="1392.8" r="5.00"/><circle cx="187.1" cy="1394.4" r="5.00"/><circle cx="186.0" cy="1396.1" r="5.00"/><circle cx="184.9" cy="1397.8" r="5.00"/><circle cx="183.9" cy="1399.4" r="5.00"/><circle cx="182.9" cy="1401.2" r="5.00"/><circle cx="182.0" cy="1402.9" r="5.00"/><circle cx="181.0" cy="1404.6" r="5.00"/><circle cx="180.1" cy="1406.4" r="5.00"/><circle cx="179.3" cy="1408.2" r="5.00"/><circle cx="178.4" cy="1409.9" r="5.00"/><circle cx="177.6" cy="1411.8" r="5.00"/><circle cx="176.8" cy="1413.6" r="5.00"/><circle cx="176.1" cy="1415.4" r="5.00"/><circle cx="175.3" cy="1417.3" r="5.00"/><circle cx="174.6" cy="1419.1" r="5.00"/><circle cx="173.9" cy="1421.0" r="5.00"/><circle cx="173.3" cy="1422.9" r="5.00"/><circle cx="172.6" cy="1424.8" r="5.00"/><circle cx="172.0" cy="1426.7" r="5.00"/><circle cx="171.4" cy="1428.6" r="5.00"/><circle cx="170.9" cy="1430.5" r="5.00"/><circle cx="170.3" cy="1432.5" r="5.00"/><circle cx="169.8" cy="1434.4" r="5.00"/><circle cx="169.3" cy="1436.3" r="5.00"/><circle cx="168.8" cy="1438.3" r="5.00"/><circle cx="168.4" cy="1440.3" r="5.00"/><circle cx="167.9" cy="1442.2" r="5.00"/><circle cx="167.5" cy="1444.2" r="5.00"/><circle cx="167.1" cy="1446.2" r="5.00"/><circle cx="166.7" cy="1448.2" r="5.00"/><circle cx="166.3" cy="1450.2" r="5.00"/><circle cx="166.0" cy="1452.2" r="5.00"/><circle cx="165.6" cy="1454.2" r="5.00"/><circle cx="165.4" cy="1455.7" r="5.00"/><circle cx="165.2" cy="1457.2" r="5.00"/><circle cx="164.9" cy="1458.7" r="5.00"/><circle cx="164.7" cy="1460.2" r="5.00"/><circle cx="164.5" cy="1461.7" r="5.00"/><circle cx="164.3" cy="1463.2" r="5.00"/><circle cx="164.1" cy="1464.7" r="5.00"/><circle cx="163.9" cy="1466.2" r="5.00"/><circle cx="163.7" cy="1467.7" r="5.00"/><circle cx="163.5" cy="1469.2" r="5.00"/><circle cx="163.4" cy="1470.7" r="5.00"/><circle cx="163.2" cy="1472.2" r="5.00"/><circle cx="163.0" cy="1473.7" r="5.00"/><circle cx="162.8" cy="1475.7" r="5.00"/><circle cx="162.6" cy="1477.7" r="5.00"/><circle cx="162.5" cy="1479.7" r="5.00"/><circle cx="162.3" cy="1481.7" r="5.00"/><circle cx="162.1" cy="1483.7" r="5.00"/><circle cx="162.0" cy="1485.7" r="5.00"/><circle cx="161.8" cy="1487.7" r="5.00"/><circle cx="161.7" cy="1489.7" r="5.00"/><circle cx="161.5" cy="1491.7" r="5.00"/><circle cx="161.4" cy="1493.7" r="5.00"/><circle cx="161.3" cy="1495.6" r="5.00"/><circle cx="161.2" cy="1497.6" r="5.00"/><circle cx="161.1" cy="1499.6" r="5.00"/><circle cx="161.0" cy="1501.6" r="5.00"/><circle cx="160.9" cy="1503.6" r="5.00"/><circle cx="160.8" cy="1505.6" r="5.00"/><circle cx="160.7" cy="1507.6" r="5.00"/><circle cx="160.6" cy="1509.6" r="5.00"/><circle cx="160.6" cy="1511.6" r="5.00"/><circle cx="160.5" cy="1513.6" r="5.00"/><circle cx="160.4" cy="1515.5" r="5.00"/><circle cx="160.4" cy="1517.5" r="5.00"/><circle cx="160.3" cy="1519.5" r="5.00"/><circle cx="160.3" cy="1521.5" r="5.00"/><circle cx="160.2" cy="1523.5" r="5.00"/><circle cx="160.2" cy="1525.5" r="5.00"/><circle cx="160.2" cy="1527.5" r="5.00"/><circle cx="160.1" cy="1529.5" r="5.00"/><circle cx="160.1" cy="1531.5" r="5.00"/><circle cx="160.0" cy="1533.4" r="5.00"/><circle cx="160.0" cy="1535.4" r="5.00"/><circle cx="160.0" cy="1537.4" r="5.00"/><circle cx="160.0" cy="1539.4" r="5.00"/><circle cx="159.9" cy="1541.4" r="5.00"/><circle cx="159.9" cy="1543.4" r="5.00"/><circle cx="159.9" cy="1545.4" r="5.00"/><circle cx="159.8" cy="1547.4" r="5.00"/><circle cx="159.8" cy="1549.4" r="5.00"/><circle cx="159.8" cy="1551.4" r="5.00"/><circle cx="159.7" cy="1553.4" r="5.00"/><circle cx="159.7" cy="1555.4" r="5.00"/><circle cx="159.7" cy="1557.4" r="5.00"/><circle cx="159.6" cy="1559.4" r="5.00"/><circle cx="159.6" cy="1561.4" r="5.00"/><circle cx="159.5" cy="1563.4" r="5.00"/><circle cx="159.5" cy="1564.9" r="5.00"/><circle cx="159.5" cy="1566.4" r="5.00"/><circle cx="159.4" cy="1567.9" r="5.00"/><circle cx="159.4" cy="1569.4" r="5.00"/><circle cx="159.3" cy="1570.9" r="5.00"/><circle cx="159.3" cy="1572.4" r="5.00"/><circle cx="159.2" cy="1573.9" r="5.00"/><circle cx="159.2" cy="1575.4" r="5.00"/><circle cx="159.1" cy="1576.9" r="5.00"/><circle cx="159.1" cy="1578.4" r="5.00"/><circle cx="159.0" cy="1579.9" r="5.00"/><circle cx="159.0" cy="1581.4" r="5.00"/><circle cx="158.9" cy="1582.9" r="5.00"/><circle cx="158.8" cy="1584.4" r="5.00"/><circle cx="158.8" cy="1585.9" r="5.00"/><circle cx="158.7" cy="1587.4" r="5.00"/><circle cx="158.6" cy="1589.0" r="5.00"/><circle cx="158.5" cy="1590.5" r="5.00"/><circle cx="158.4" cy="1592.0" r="5.00"/><circle cx="158.3" cy="1593.5" r="5.00"/></g>
<path d="M157.5 1594.0 L157.5 1593.5 L157.5 1593.0 L157.5 1592.5 L157.5 1592.0 L157.5 1591.5 L157.5 1591.0 L157.5 1590.5 L157.5 1590.0 L157.5 1589.5 L157.5 1589.0 L157.5 1588.5 L157.5 1588.0 L157.5 1587.5 L157.5 1587.0 L157.5 1586.5 L157.5 1586.0 L157.5 1585.5 L157.5 1585.0 L157.5 1584.5 L157.5 1584.0 L157.5 1583.5 L157.5 1583.0 L157.5 1582.5 L157.5 1582.0 L157.5 1581.5 L157.5 1581.0 L157.5 1580.5 L157.5 1580.0 L157.5 1579.5 L157.5 1579.0 L157.5 1578.5 L157.5 1578.0 L157.5 1577.5 L157.5 1577.0 L157.5 1576.5 L157.5 1576.0 L157.5 1575.5 L157.5 1575.0 L157.5 1574.5 L157.5 1574.0 L157.5 1573.5 L157.5 1573.0 L157.5 1572.5 L157.5 1572.0 L157.5 1571.5 L157.5 1571.0 L157.5 1570.5 L157.5 1570.0 L157.5 1569.4 L157.5 1568.9 L157.5 1568.4 L157.5 1567.9 L157.5 1567.4 L157.5 1566.9 L157.5 1566.4 L157.5 1565.9 L157.5 1565.4 L157.5 1564.9 L157.5 1564.4 L157.5 1563.9 L157.5 1563.4 L157.5 1562.9 L157.5 1562.4 L157.5 1561.9 L157.5 1561.4 L157.5 1560.9 L157.5 1560.4 L157.5 1559.9 L157.5 1559.4 L157.5 1558.9 L157.5 1558.4 L157.5 1557.9 L157.5 1557.4 L157.5 1556.9 L157.5 1556.4 L157.5 1555.9 L157.5 1555.4 L157.5 1554.9 L157.5 1554.4 L157.5 1553.9 L157.5 1553.4 L157.5 1552.9 L157.5 1552.4 L157.5 1551.9 L157.5 1551.4 L157.5 1550.9 L157.5 1550.4 L157.5 1549.9 L157.5 1549.4 L157.5 1548.9 L157.5 1548.4 L157.5 1547.9 L157.5 1547.4 L157.5 1546.9 L157.5 1546.4 L157.5 1545.9 L157.5 1545.4 L157.5 1544.9 L157.5 1544.4 L157.5 1543.9 L157.5 1543.4 L157.5 1542.9 L157.5 1542.4 L157.5 1541.9 L157.5 1541.4 L157.5 1540.9 L157.5 1540.4 L157.5 1539.9 L157.5 1539.4 L157.5 1538.9 L157.5 1538.4 L157.5 1537.9 L157.5 1537.4 L157.5 1536.9 L157.5 1536.4 L157.5 1535.9 L157.5 1535.4 L157.5 1534.9 L157.5 1534.4 L157.5 1533.9 L157.5 1533.4 L157.5 1532.9 L157.5 1532.4 L157.5 1531.9 L157.5 1531.4 L157.5 1530.9 L157.5 1530.4 L157.5 1529.9 L157.5 1529.4 L157.5 1528.9 L157.5 1528.4 L157.5 1527.9 L157.5 1527.4 L157.5 1526.9 L157.5 1526.4 L157.5 1525.9 L157.5 1525.4 L157.5 1524.9 L157.5 1524.4 L157.5 1523.9 L157.5 1523.4 L157.5 1522.9 L157.5 1522.4 L157.5 1521.9 L157.5 1521.3 L157.5 1520.8 L157.5 1520.3 L157.5 1519.8 L157.5 1519.3 L157.5 1518.8 L157.5 1518.3 L157.5 1517.8 L157.5 1517.3 L157.5 1516.8 L157.5 1516.3 L157.5 1515.8 L157.5 1515.3 L157.5 1514.8 L157.5 1514.3 L157.5 1513.8 L157.5 1513.3 L157.5 1512.8 L157.5 1512.3 L157.5 1511.8 L157.5 1511.3 L157.5 1510.8 L157.5 1510.3 L157.5 1509.8 L157.5 1509.3 L157.5 1508.8 L157.5 1508.3 L157.5 1507.8 L157.5 1507.3 L157.5 1506.8 L157.5 1506.3 L157.5 1505.8 L157.5 1505.3 L157.5 1504.8 L157.5 1504.3 L157.5 1503.8 L157.5 1503.3 L157.5 1502.8 L157.5 1502.3 L157.5 1501.8 L157.5 1501.3 L157.5 1500.8 L157.5 1500.3 L157.5 1499.8 L157.5 1499.3 L157.5 1498.8 L157.5 1498.3 L157.5 1497.8 L157.5 1497.3 L157.5 1496.8 L157.5 1496.3 L157.5 1495.8 L157.5 1495.3 L157.5 1494.8 L157.5 1494.3 L157.5 1493.8 L157.5 1493.3 L157.5 1492.8 L157.5 1492.3 L157.5 1491.8 L157.5 1491.3 L157.5 1490.8 L157.5 1490.3 L157.5 1489.8 L157.5 1489.3 L157.5 1488.8 L157.5 1488.3 L157.5 1487.8 L157.5 1487.3 L157.5 1486.8 L157.5 1486.3 L157.5 1485.8 L157.5 1485.3 L157.5 1484.8 L157.5 1484.3 L157.5 1483.8 L157.5 1483.3 L157.5 1482.8 L157.5 1482.3 L157.5 1481.8 L157.5 1481.3 L157.5 1480.8 L157.5 1480.3 L157.5 1479.8 L157.5 1479.3 L157.5 1478.8 L157.5 1478.3 L157.5 1477.8 L157.5 1477.3 L157.5 1476.8 L157.5 1476.3 L157.5 1475.8 L157.5 1475.3 L157.5 1474.8 L157.5 1474.3 L157.5 1473.8 L157.5 1473.3 L157.6 1472.7 L157.6 1472.2 L157.6 1471.7 L157.6 1471.2 L157.6 1470.7 L157.6 1470.2 L157.6 1469.7 L157.6 1469.2 L157.6 1468.7 L157.6 1468.2 L157.6 1467.7 L157.6 1467.2 L157.6 1466.7 L157.6 1466.2 L157.6 1465.7 L157.6 1465.2 L157.6 1464.7 L157.6 1464.2 L157.6 1463.7 L157.6 1463.2 L157.6 1462.7 L157.6 1462.2 L157.6 1461.7 L157.6 1461.2 L157.6 1460.7 L157.6 1460.2 L157.6 1459.7 L157.6 1459.2 L157.6 1458.7 L157.6 1458.2 L157.6 1457.7 L157.6 1457.2 L157.6 1456.7 L157.6 1456.2 L157.6 1455.7 L157.6 1455.2 L157.6 1454.7 L157.6 1454.2 L157.6 1453.7 L157.6 1453.2 L157.6 1452.7 L157.6 1452.2 L157.6 1451.7 L157.6 1451.2 L157.6 1450.7 L157.6 1450.2 L157.6 1449.7 L157.6 1449.2 L157.6 1448.7 L157.6 1448.2 L157.6 1447.7 L157.6 1447.2 L157.6 1446.7 L157.6 1446.2 L157.6 1445.7 L157.6 1445.2 L157.6 1444.7 L157.6 1444.2 L157.6 1443.7 L157.6 1443.2 L157.6 1442.7 L157.6 1442.2 L157.6 1441.7 L157.6 1441.2 L157.6 1440.7 L157.6 1440.2 L157.6 1439.7 L157.6 1439.2 L157.6 1438.7 L157.6 1438.2 L157.6 1437.7 L157.6 1437.2 L157.6 1436.7 L157.6 1436.2 L157.6 1435.7 L157.6 1435.2 L157.6 1434.7 L157.6 1434.2 L157.6 1433.7 L157.6 1433.2 L157.6 1432.7 L157.6 1432.2 L157.6 1431.7 L157.6 1431.2 L157.6 1430.7 L157.6 1430.2 L157.6 1429.7 L157.6 1429.2 L157.6 1428.7 L157.6 1428.2 L157.6 1427.7 L157.6 1427.2 L157.6 1426.7 L157.6 1426.2 L157.6 1425.7 L157.6 1425.2 L157.6 1424.7 L157.6 1424.1 L157.6 1423.6 L157.6 1423.1 L157.6 1422.6 L157.6 1422.1 L157.6 1421.6 L157.6 1421.1 L157.6 1420.6 L157.6 1420.1 L157.6 1419.6 L157.6 1419.1 L157.6 1418.6 L157.6 1418.1 L157.6 1417.6 L157.6 1417.1 L157.6 1416.6 L157.6 1416.1 L157.6 1415.6 L157.6 1415.1 L157.6 1414.6 L157.6 1414.1 L157.6 1413.6 L157.6 1413.1 L157.6 1412.6 L157.6 1412.1 L157.6 1411.6 L157.6 1411.1 L157.6 1410.6 L157.6 1410.1 L157.6 1409.6 L157.6 1409.1 L157.6 1408.6 L157.6 1408.1 L157.6 1407.6 L157.6 1407.1 L157.6 1406.6 L157.6 1406.1 L157.6 1405.6 L157.6 1405.1 L157.6 1404.6 L157.6 1404.1 L157.6 1403.6 L157.6 1403.1 L157.6 1402.6 L157.6 1402.1 L157.6 1401.6 L157.6 1401.1 L157.6 1400.6 L157.6 1400.1 L157.6 1399.6 L157.6 1399.1 L157.6 1398.6 L157.6 1398.1 L157.6 1397.6 L157.6 1397.1 L157.6 1396.6 L157.6 1396.1 L157.6 1395.6 L157.6 1395.1 L157.6 1394.6 L157.6 1394.1 L157.6 1393.6 L157.6 1393.1 L157.6 1392.6 L157.6 1392.1 L157.6 1391.6 L157.6 1391.1 L157.6 1390.6 L157.6 1390.1 L157.6 1389.6 L157.6 1389.1 L157.6 1388.6 L157.6 1388.1 L157.6 1387.6 L157.6 1387.1 L157.6 1386.6 L157.6 1386.1 L157.6 1385.6 L157.6 1385.1 L157.6 1384.6 L157.6 1384.1 L157.6 1383.6 L157.6 1383.1 L157.6 1382.6 L157.6 1382.1 L157.6 1381.6 L157.6 1381.1 L157.6 1380.6 L157.6 1380.1 L157.6 1379.6 L157.6 1379.1 L157.6 1378.6 L157.6 1378.1 L157.6 1377.6 L157.6 1377.1 L157.6 1376.6 L157.6 1376.0 L157.6 1375.5 L157.6 1375.0 L157.6 1374.5 L157.6 1374.0 L157.6 1373.5 L157.6 1373.0 L157.6 1372.5 L157.6 1372.0 L157.6 1371.5 L157.6 1371.0 L157.6 1370.5 L157.6 1370.0 L157.6 1369.5 L157.6 1369.0 L157.6 1368.5 L157.6 1368.0 L157.6 1367.5 L157.6 1367.0 L157.6 1366.5 L157.6 1366.0 L157.6 1365.5 L157.6 1365.0 L157.6 1364.5 L157.6 1364.0 L157.6 1363.5 L157.6 1363.0 L157.6 1362.5 L157.6 1362.0 L157.6 1361.5 L157.6 1361.0 L157.6 1360.5 L157.6 1360.0 L157.6 1359.5 L157.6 1359.0 L157.6 1358.5 L157.6 1358.0 L157.6 1357.5 L157.6 1357.0 L157.6 1356.5 L157.6 1356.0 L157.6 1355.5 L157.6 1355.0 L157.6 1354.5 L157.6 1354.0 L157.6 1353.5 L157.6 1353.0 L157.6 1352.5 L157.6 1352.0 L157.6 1352.0 L157.8 1351.6 L158.1 1351.2 L158.4 1350.8 L158.6 1350.5 L158.9 1350.2 L159.2 1349.8 L159.6 1349.5 L159.9 1349.2 L160.2 1348.9 L160.6 1348.6 L160.9 1348.4 L161.3 1348.1 L161.7 1347.9 L162.1 1347.6 L162.5 1347.4 L162.9 1347.2 L163.3 1347.0 L163.7 1346.8 L164.1 1346.6 L164.6 1346.5 L165.0 1346.3 L165.4 1346.1 L165.9 1346.0 L166.4 1345.8 L166.8 1345.7 L167.3 1345.6 L167.8 1345.4 L168.3 1345.3 L168.7 1345.2 L169.2 1345.1 L169.7 1345.0 L170.2 1344.9 L170.7 1344.8 L171.2 1344.7 L171.7 1344.6 L172.2 1344.5 L172.7 1344.4 L173.2 1344.3 L173.8 1344.2 L174.3 1344.2 L174.8 1344.1 L175.3 1344.0 L175.8 1343.9 L176.3 1343.8 L176.8 1343.8 L177.4 1343.7 L177.9 1343.6 L178.4 1343.5 L178.9 1343.4 L179.4 1343.4 L179.9 1343.3 L180.4 1343.2 L180.9 1343.1 L181.4 1343.0 L181.9 1342.9 L182.5 1342.9 L183.0 1342.8 L183.5 1342.7 L184.0 1342.6 L184.5 1342.5 L185.0 1342.5 L185.5 1342.4 L186.0 1342.3 L186.5 1342.2 L187.0 1342.1 L187.5 1342.0 L188.0 1341.9 L188.5 1341.9 L189.0 1341.8 L189.5 1341.7 L190.0 1341.6 L190.5 1341.5 L191.0 1341.4 L191.6 1341.4 L192.1 1341.3 L192.6 1341.2 L193.1 1341.1 L193.6 1341.0 L194.1 1340.9 L194.6 1340.8 L195.1 1340.7 L195.6 1340.7 L196.1 1340.6 L196.6 1340.5 L197.1 1340.4 L197.6 1340.3 L198.1 1340.2 L198.6 1340.1 L199.0 1340.0 L199.5 1339.9 L200.0 1339.8 L200.5 1339.8 L201.0 1339.7 L201.5 1339.6 L202.0 1339.5 L202.5 1339.4 L203.0 1339.3 L203.5 1339.2 L204.0 1339.1 L204.5 1339.0 L205.0 1338.9 L205.5 1338.8 L206.0 1338.7 L206.5 1338.6 L207.0 1338.5 L207.5 1338.4 L208.0 1338.3 L208.5 1338.2 L208.9 1338.2 L209.4 1338.1 L209.9 1338.0 L210.4 1337.9 L210.9 1337.8 L211.4 1337.7 L211.9 1337.6 L212.4 1337.5 L212.9 1337.4 L213.4 1337.3 L213.9 1337.2 L214.4 1337.1 L214.8 1337.0 L215.3 1336.9 L215.8 1336.8 L216.3 1336.7 L216.8 1336.6 L217.3 1336.5 L217.8 1336.4 L218.3 1336.2 L218.8 1336.1 L219.2 1336.0 L219.7 1335.9 L220.2 1335.8 L220.7 1335.7 L221.2 1335.6 L221.7 1335.5 L222.2 1335.4 L222.7 1335.3 L223.1 1335.2 L223.6 1335.1 L224.1 1335.0 L224.6 1334.9 L225.1 1334.8 L225.6 1334.6 L226.1 1334.5 L226.5 1334.4 L227.0 1334.3 L227.5 1334.2 L228.0 1334.1 L228.5 1334.0 L229.0 1333.9 L229.4 1333.8 L229.9 1333.6 L230.4 1333.5 L230.9 1333.4 L231.4 1333.3 L231.9 1333.2 L232.4 1333.1 L232.8 1332.9 L233.3 1332.8 L233.8 1332.7 L234.3 1332.6 L234.8 1332.5 L235.3 1332.4 L235.7 1332.2 L236.2 1332.1 L236.7 1332.0 L237.2 1331.9 L237.7 1331.8 L238.2 1331.6 L238.6 1331.5 L239.1 1331.4 L239.6 1331.3 L240.1 1331.1 L240.6 1331.0 L241.0 1330.9 L241.5 1330.8 L242.0 1330.6 L242.5 1330.5 L243.0 1330.4 L243.5 1330.3 L243.9 1330.1 L244.4 1330.0 L244.9 1329.9 L245.4 1329.8 L245.9 1329.6 L246.3 1329.5 L246.8 1329.4 L247.3 1329.2 L247.8 1329.1 L248.3 1329.0 L248.8 1328.8 L249.2 1328.7 L249.7 1328.6 L250.2 1328.4 L250.7 1328.3 L251.2 1328.2 L251.6 1328.0 L252.1 1327.9 L252.6 1327.8 L253.1 1327.6 L253.6 1327.5 L254.0 1327.4 L254.5 1327.2 L255.0 1327.1 L255.5 1327.0 L256.0 1326.8 L256.4 1326.7 L256.9 1326.6 L257.4 1326.4 L257.9 1326.3 L258.4 1326.1 L258.8 1326.0 L259.3 1325.9 L259.8 1325.7 L260.3 1325.6 L260.8 1325.5 L261.2 1325.3 L261.7 1325.2 L262.2 1325.0 L262.7 1324.9 L263.2 1324.8 L263.6 1324.6 L264.1 1324.5 L264.6 1324.3 L265.1 1324.2 L265.6 1324.1 L266.0 1323.9 L266.5 1323.8 L267.0 1323.6 L267.5 1323.5 L268.0 1323.4 L268.4 1323.2 L268.9 1323.1 L269.4 1322.9 L269.9 1322.8 L270.4 1322.6 L270.8 1322.5 L271.3 1322.4 L271.8 1322.2 L272.3 1322.1 L272.8 1321.9 L273.2 1321.8 L273.7 1321.7 L274.2 1321.5 L274.7 1321.4 L275.2 1321.2 L275.6 1321.1 L276.1 1320.9 L276.6 1320.8 L277.1 1320.7 L277.6 1320.5 L278.0 1320.4 L278.5 1320.2 L279.0 1320.1 L279.5 1319.9 L280.0 1319.8 L280.5 1319.7 L280.9 1319.5 L281.4 1319.4 L281.9 1319.2 L282.4 1319.1 L282.9 1319.0 L283.3 1318.8 L283.8 1318.7 L284.3 1318.5 L284.8 1318.4 L285.3 1318.2 L285.7 1318.1 L286.2 1318.0 L286.7 1317.8 L287.2 1317.7 L287.7 1317.5 L288.1 1317.4 L288.6 1317.3 L289.1 1317.1 L289.6 1317.0 L290.1 1316.8 L290.6 1316.7 L291.0 1316.6 L291.5 1316.4 L292.0 1316.3 L292.5 1316.1 L293.0 1316.0 L293.4 1315.9 L293.9 1315.7 L294.4 1315.6 L294.9 1315.5 L295.4 1315.3 L295.9 1315.2 L296.3 1315.0 L296.8 1314.9 L297.3 1314.8 L297.8 1314.6 L298.3 1314.5 L298.7 1314.4 L299.2 1314.2 L299.7 1314.1 L300.2 1314.0 L300.7 1313.8 L301.2 1313.7 L301.6 1313.6 L302.1 1313.4 L302.6 1313.3 L303.1 1313.2 L303.6 1313.0 L304.1 1312.9 L304.6 1312.8 L305.0 1312.6 L305.5 1312.5 L306.0 1312.4 L306.5 1312.2 L307.0 1312.1 L307.5 1312.0 L307.9 1311.8 L308.4 1311.7 L308.9 1311.6 L309.4 1311.5 L309.9 1311.3 L310.4 1311.2 L310.8 1311.1 L311.3 1310.9 L311.8 1310.8 L312.3 1310.7 L312.8 1310.6 L313.3 1310.4 L313.8 1310.3 L314.2 1310.2 L314.7 1310.0 L315.2 1309.9 L315.7 1309.8 L316.2 1309.7 L316.7 1309.5 L317.2 1309.4 L317.6 1309.3 L318.1 1309.2 L318.6 1309.0 L319.1 1308.9 L319.6 1308.8 L320.1 1308.7 L320.6 1308.5 L321.0 1308.4 L321.5 1308.3 L322.0 1308.2 L322.5 1308.0 L323.0 1307.9 L323.5 1307.8 L324.0 1307.7 L324.4 1307.5 L324.9 1307.4 L325.4 1307.3 L325.9 1307.2 L326.4 1307.1 L326.9 1306.9 L327.4 1306.8 L327.9 1306.7 L328.3 1306.6 L328.8 1306.4 L329.3 1306.3 L329.8 1306.2 L330.3 1306.1 L330.8 1306.0 L331.3 1305.8 L331.7 1305.7 L332.2 1305.6 L332.7 1305.5 L333.2 1305.4 L333.7 1305.2 L334.2 1305.1 L334.7 1305.0 L335.2 1304.9 L335.6 1304.7 L336.1 1304.6 L336.6 1304.5 L337.1 1304.4 L337.6 1304.3 L338.1 1304.1 L338.6 1304.0 L339.1 1303.9 L339.5 1303.8 L340.0 1303.7 L340.5 1303.5 L341.0 1303.4 L341.5 1303.3 L342.0 1303.2 L342.5 1303.1 L342.9 1302.9 L343.4 1302.8 L343.9 1302.7 L344.4 1302.6 L344.9 1302.5 L345.4 1302.3 L345.9 1302.2 L346.4 1302.1 L346.8 1302.0 L347.3 1301.9 L347.8 1301.7 L348.3 1301.6 L348.8 1301.5 L349.3 1301.4 L349.8 1301.2 L350.3 1301.1 L350.7 1301.0 L351.2 1300.9 L351.7 1300.8 L352.2 1300.6 L352.7 1300.5 L353.2 1300.4 L353.7 1300.3 L354.1 1300.2 L354.6 1300.0 L355.1 1299.9 L355.6 1299.8 L356.1 1299.7 L356.6 1299.6 L357.1 1299.4 L357.6 1299.3 L358.0 1299.2 L358.5 1299.1 L359.0 1298.9 L359.5 1298.8 L360.0 1298.7 L360.5 1298.6 L361.0 1298.5 L361.4 1298.3 L361.9 1298.2 L362.4 1298.1 L362.9 1298.0 L363.4 1297.8 L363.9 1297.7 L364.4 1297.6 L364.8 1297.5 L365.3 1297.3 L365.8 1297.2 L366.3 1297.1 L366.8 1297.0 L367.3 1296.8 L367.8 1296.7 L368.2 1296.6 L368.7 1296.5 L369.2 1296.4 L369.7 1296.2 L370.2 1296.1 L370.7 1296.0 L371.2 1295.8 L371.6 1295.7 L372.1 1295.6 L372.6 1295.5 L373.1 1295.3 L373.6 1295.2 L374.1 1295.1 L374.5 1295.0 L375.0 1294.8 L375.5 1294.7 L376.0 1294.6 L376.5 1294.5 L377.0 1294.3 L377.4 1294.2 L377.9 1294.1 L378.4 1293.9 L378.9 1293.8 L379.4 1293.7 L379.9 1293.5 L380.3 1293.4 L380.8 1293.3 L381.3 1293.2 L381.8 1293.0 L382.3 1292.9 L382.8 1292.8 L383.2 1292.6 L383.7 1292.5 L384.2 1292.4 L384.7 1292.2 L385.2 1292.1 L385.7 1292.0 L386.1 1291.8 L386.6 1291.7 L387.1 1291.6 L387.6 1291.4 L388.1 1291.3 L388.6 1291.2 L389.0 1291.0 L389.5 1290.9 L390.0 1290.8 L390.5 1290.6 L391.0 1290.5 L391.4 1290.4 L391.9 1290.2 L392.4 1290.1 L392.9 1289.9 L393.4 1289.8 L393.8 1289.7 L394.3 1289.5 L394.8 1289.4 L395.3 1289.2 L395.8 1289.1 L396.2 1289.0 L396.7 1288.8 L397.2 1288.7 L397.7 1288.5 L398.2 1288.4 L398.6 1288.3 L399.1 1288.1 L399.6 1288.0 L400.1 1287.8 L400.6 1287.7 L401.0 1287.5 L401.5 1287.4 L402.0 1287.3 L402.5 1287.1 L402.9 1287.0 L403.4 1286.8 L403.9 1286.7 L404.4 1286.5 L404.9 1286.4 L405.3 1286.2 L405.8 1286.1 L406.3 1285.9 L406.8 1285.8 L407.2 1285.6 L407.7 1285.5 L408.2 1285.3 L408.7 1285.2 L409.1 1285.0 L409.6 1284.9 L410.1 1284.7 L410.6 1284.6 L411.1 1284.4 L411.5 1284.3 L412.0 1284.1 L412.5 1284.0 L413.0 1283.8 L413.4 1283.7 L413.9 1283.5 L414.4 1283.3 L414.9 1283.2 L415.3 1283.0 L415.8 1282.9 L416.3 1282.7 L416.8 1282.6 L417.2 1282.4 L417.7 1282.2 L418.2 1282.1 L418.6 1281.9 L419.1 1281.8 L419.6 1281.6 L420.1 1281.5 L420.5 1281.3 L421.0 1281.1 L421.5 1281.0 L422.0 1280.8 L422.4 1280.7 L422.9 1280.5 L423.4 1280.3 L423.8 1280.2 L424.3 1280.0 L424.8 1279.8 L425.3 1279.7 L425.7 1279.5 L426.2 1279.4 L426.7 1279.2 L427.2 1279.0 L427.6 1278.9 L428.1 1278.7 L428.6 1278.5 L429.0 1278.4 L429.5 1278.2 L430.0 1278.0 L430.4 1277.9 L430.9 1277.7 L431.4 1277.5 L431.9 1277.4 L432.3 1277.2 L432.8 1277.0 L433.3 1276.9 L433.7 1276.7 L434.2 1276.5 L434.7 1276.3 L435.1 1276.2 L435.6 1276.0 L436.1 1275.8 L436.6 1275.7 L437.0 1275.5 L437.5 1275.3 L438.0 1275.1 L438.4 1275.0 L438.9 1274.8 L439.4 1274.6 L439.8 1274.5 L440.3 1274.3 L440.8 1274.1 L441.2 1273.9 L441.7 1273.8 L442.2 1273.6 L442.6 1273.4 L443.1 1273.2 L443.6 1273.1 L444.0 1272.9 L444.5 1272.7 L445.0 1272.5 L445.5 1272.3 L445.9 1272.2 L446.4 1272.0 L446.9 1271.8 L447.3 1271.6 L447.8 1271.5 L448.3 1271.3 L448.7 1271.1 L449.2 1270.9 L449.6 1270.7 L450.1 1270.6 L450.6 1270.4 L451.0 1270.2 L451.5 1270.0 L452.0 1269.8 L452.4 1269.6 L452.9 1269.5 L453.4 1269.3 L453.8 1269.1 L454.3 1268.9 L454.8 1268.7 L455.2 1268.6 L455.7 1268.4 L456.2 1268.2 L456.6 1268.0 L457.1 1267.8 L457.6 1267.6 L458.0 1267.4 L458.5 1267.3 L458.9 1267.1 L459.4 1266.9 L459.9 1266.7 L460.3 1266.5 L460.8 1266.3 L461.3 1266.1 L461.7 1266.0 L462.2 1265.8 L462.7 1265.6 L463.1 1265.4 L463.6 1265.2 L464.0 1265.0 L464.5 1264.8 L465.0 1264.6 L465.4 1264.4 L465.9 1264.3 L466.4 1264.1 L466.8 1263.9 L467.3 1263.7 L467.7 1263.5 L468.2 1263.3 L468.7 1263.1 L469.1 1262.9 L469.6 1262.7 L470.1 1262.5 L470.5 1262.3 L471.0 1262.1 L471.4 1262.0 L471.9 1261.8 L472.4 1261.6 L472.8 1261.4 L473.3 1261.2 L473.7 1261.0 L474.2 1260.8 L474.7 1260.6 L475.1 1260.4 L475.6 1260.2 L476.1 1260.0 L476.5 1259.8 L477.0 1259.6 L477.4 1259.4 L477.9 1259.2 L478.4 1259.0 L478.8 1258.8 L479.3 1258.6 L479.7 1258.4 L480.2 1258.2 L480.7 1258.0 L481.1 1257.8 L481.6 1257.6 L482.0 1257.4 L482.5 1257.3 L482.9 1257.1 L483.4 1256.9 L483.9 1256.7 L484.3 1256.5 L484.8 1256.3 L485.2 1256.1 L485.7 1255.9 L486.2 1255.7 L486.6 1255.5 L487.1 1255.3 L487.5 1255.1 L488.0 1254.8 L488.5 1254.6 L488.9 1254.4 L489.4 1254.2 L489.8 1254.0 L490.3 1253.8 L490.7 1253.6 L491.2 1253.4 L491.7 1253.2 L492.1 1253.0 L492.6 1252.8 L493.0 1252.6 L493.5 1252.4 L493.9 1252.2 L494.4 1252.0 L494.9 1251.8 L495.3 1251.6 L495.8 1251.4 L496.2 1251.2 L496.7 1251.0 L497.1 1250.8 L497.6 1250.6 L498.1 1250.4 L498.5 1250.2 L499.0 1250.0 L499.4 1249.7 L499.9 1249.5 L500.3 1249.3 L500.8 1249.1 L501.3 1248.9 L501.7 1248.7 L502.2 1248.5 L502.6 1248.3 L503.1 1248.1 L503.5 1247.9 L504.0 1247.7 L504.4 1247.5 L504.9 1247.3 L505.4 1247.0 L505.8 1246.8 L506.3 1246.6 L506.7 1246.4 L507.2 1246.2 L507.6 1246.0 L508.1 1245.8 L508.5 1245.6 L509.0 1245.4 L509.4 1245.2 L509.9 1244.9 L510.4 1244.7 L510.8 1244.5 L511.3 1244.3 L511.7 1244.1 L512.2 1243.9 L512.6 1243.7 L513.1 1243.5 L513.5 1243.3 L514.0 1243.0 L514.4 1242.8 L514.9 1242.6 L515.4 1242.4 L515.8 1242.2 L516.3 1242.0 L516.7 1241.8 L517.2 1241.6 L517.6 1241.3 L518.1 1241.1 L518.5 1240.9 L519.0 1240.7 L519.4 1240.5 L519.9 1240.3 L520.3 1240.1 L520.8 1239.8 L521.2 1239.6 L521.7 1239.4 L522.2 1239.2 L522.6 1239.0 L523.1 1238.8 L523.5 1238.6 L524.0 1238.3 L524.4 1238.1 L524.9 1237.9 L525.3 1237.7 L525.8 1237.5 L526.2 1237.3 L526.7 1237.0 L527.1 1236.8 L527.6 1236.6 L528.0 1236.4 L528.5 1236.2 L528.9 1236.0 L529.4 1235.7 L529.8 1235.5 L530.3 1235.3 L530.7 1235.1 L531.2 1234.9 L531.7 1234.7 L532.1 1234.4 L532.6 1234.2 L533.0 1234.0 L533.5 1233.8 L533.9 1233.6 L534.4 1233.3 L534.8 1233.1 L535.3 1232.9 L535.7 1232.7 L536.2 1232.5 L536.6 1232.2 L537.1 1232.0 L537.5 1231.8 L538.0 1231.6 L538.4 1231.4 L538.9 1231.2 L539.3 1230.9 L539.8 1230.7 L540.2 1230.5 L540.7 1230.3 L541.1 1230.1 L541.6 1229.8 L542.0 1229.6 L542.5 1229.4 L542.9 1229.2 L543.4 1229.0 L543.8 1228.7 L544.3 1228.5 L544.7 1228.3 L545.2 1228.1 L545.6 1227.8 L546.1 1227.6 L546.5 1227.4 L547.0 1227.2 L547.4 1227.0 L547.9 1226.7 L548.3 1226.5 L548.8 1226.3 L549.2 1226.1 L549.7 1225.9 L550.1 1225.6 L550.6 1225.4 L551.0 1225.2 L551.5 1225.0 L551.9 1224.7 L552.4 1224.5 L552.8 1224.3 L553.3 1224.1 L553.7 1223.9 L554.2 1223.6 L554.6 1223.4 L555.1 1223.2 L555.5 1223.0 L556.0 1222.7 L556.4 1222.5 L556.9 1222.3 L557.3 1222.1 L557.8 1221.8 L558.2 1221.6 L558.7 1221.4 L559.1 1221.2 L559.6 1220.9 L560.0 1220.7 L560.5 1220.5 L560.9 1220.3 L561.4 1220.1 L561.8 1219.8 L562.3 1219.6 L562.7 1219.4 L563.1 1219.2 L563.6 1218.9 L564.0 1218.7 L564.5 1218.5 L564.9 1218.3 L565.4 1218.0 L565.8 1217.8 L566.3 1217.6 L566.7 1217.4 L567.2 1217.1 L567.6 1216.9 L568.1 1216.7 L568.5 1216.5 L569.0 1216.2 L569.4 1216.0 L569.9 1215.8 L570.3 1215.5 L570.8 1215.3 L571.2 1215.1 L571.7 1214.9 L572.1 1214.6 L572.5 1214.4 L573.0 1214.2 L573.4 1214.0 L573.9 1213.7 L574.3 1213.5 L574.8 1213.3 L575.2 1213.0 L575.7 1212.8 L576.1 1212.6 L576.6 1212.4 L577.0 1212.1 L577.5 1211.9 L577.9 1211.7 L578.4 1211.5 L578.8 1211.2 L579.2 1211.0 L579.7 1210.8 L580.1 1210.5 L580.6 1210.3 L581.0 1210.1 L581.5 1209.8 L581.9 1209.6 L582.4 1209.4 L582.8 1209.2 L583.3 1208.9 L583.7 1208.7 L584.1 1208.5 L584.6 1208.2 L585.0 1208.0 L585.5 1207.8 L585.9 1207.5 L586.4 1207.3 L586.8 1207.1 L587.3 1206.9 L587.7 1206.6 L588.1 1206.4 L588.6 1206.2 L589.0 1205.9 L589.5 1205.7 L589.9 1205.5 L590.4 1205.2 L590.8 1205.0 L591.2 1204.8 L591.7 1204.5 L592.1 1204.3 L592.6 1204.1 L593.0 1203.8 L593.5 1203.6 L593.9 1203.4 L594.3 1203.1 L594.8 1202.9 L595.2 1202.7 L595.7 1202.4 L596.1 1202.2 L596.6 1202.0 L597.0 1201.7 L597.4 1201.5 L597.9 1201.3 L598.3 1201.0 L598.8 1200.8 L599.2 1200.5 L599.7 1200.3 L600.1 1200.1 L600.5 1199.8 L601.0 1199.6 L601.4 1199.4 L601.9 1199.1 L602.3 1198.9 L602.7 1198.7 L603.2 1198.4 L603.6 1198.2 L604.1 1197.9 L604.5 1197.7 L604.9 1197.5 L605.4 1197.2 L605.8 1197.0 L606.3 1196.8 L606.7 1196.5 L607.1 1196.3 L607.6 1196.0 L608.0 1195.8 L608.5 1195.6 L608.9 1195.3 L609.3 1195.1 L609.8 1194.8 L610.2 1194.6 L610.7 1194.4 L611.1 1194.1 L611.5 1193.9 L612.0 1193.6 L612.4 1193.4 L612.9 1193.2 L613.3 1192.9 L613.7 1192.7 L614.2 1192.4 L614.6 1192.2 L615.0 1192.0 L615.5 1191.7 L615.9 1191.5 L616.4 1191.2 L616.8 1191.0 L617.2 1190.7 L617.7 1190.5 L618.1 1190.3 L618.5 1190.0 L619.0 1189.8 L619.4 1189.5 L619.9 1189.3 L620.3 1189.0 L620.7 1188.8 L621.2 1188.6 L621.6 1188.3 L622.0 1188.1 L622.5 1187.8 L622.9 1187.6 L623.3 1187.3 L623.8 1187.1 L624.2 1186.8 L624.6 1186.6 L625.1 1186.3 L625.5 1186.1 L626.0 1185.8 L626.4 1185.6 L626.8 1185.4 L627.3 1185.1 L627.7 1184.9 L628.1 1184.6 L628.6 1184.4 L629.0 1184.1 L629.4 1183.9 L629.9 1183.6 L630.3 1183.4 L630.7 1183.1 L631.2 1182.9 L631.6 1182.6 L632.0 1182.4 L632.5 1182.1 L632.9 1181.9 L633.3 1181.6 L633.8 1181.4 L634.2 1181.1 L634.6 1180.9 L635.0 1180.6 L635.5 1180.4 L635.9 1180.1 L636.3 1179.9 L636.8 1179.6 L637.2 1179.4 L637.6 1179.1 L638.1 1178.9 L638.5 1178.6 L638.9 1178.3 L639.4 1178.1 L639.8 1177.8 L640.2 1177.6 L640.6 1177.3 L641.1 1177.1 L641.5 1176.8 L641.9 1176.6 L642.4 1176.3 L642.8 1176.1 L643.2 1175.8 L643.6 1175.5 L644.1 1175.3 L644.5 1175.0 L644.9 1174.8 L645.4 1174.5 L645.8 1174.3 L646.2 1174.0 L646.6 1173.7 L647.1 1173.5 L647.5 1173.2 L647.9 1173.0 L648.4 1172.7 L648.8 1172.5 L649.2 1172.2 L649.6 1171.9 L650.1 1171.7 L650.5 1171.4 L650.9 1171.2 L651.3 1170.9 L651.8 1170.6 L652.2 1170.4 L652.6 1170.1 L653.0 1169.9 L653.5 1169.6 L653.9 1169.3 L654.3 1169.1 L654.7 1168.8 L655.2 1168.5 L655.6 1168.3 L656.0 1168.0 L656.4 1167.8 L656.9 1167.5 L657.3 1167.2 L657.7 1167.0 L658.1 1166.7 L658.6 1166.4 L659.0 1166.2 L659.4 1165.9 L659.8 1165.7 L660.3 1165.4 L660.7 1165.1 L661.1 1164.9 L661.5 1164.6 L661.9 1164.3 L662.4 1164.1 L662.8 1163.8 L663.2 1163.5 L663.6 1163.3 L664.1 1163.0 L664.5 1162.7 L664.9 1162.5 L665.3 1162.2 L665.8 1161.9 L666.2 1161.7 L666.6 1161.4 L667.0 1161.2 L667.4 1160.9 L667.9 1160.6 L668.3 1160.4 L668.7 1160.1 L669.1 1159.8 L669.6 1159.6 L670.0 1159.3 L670.4 1159.0 L670.8 1158.8 L671.3 1158.5 L671.7 1158.2 L672.1 1158.0 L672.5 1157.7 L672.9 1157.4 L673.4 1157.2 L673.8 1156.9 L674.2 1156.6 L674.6 1156.4 L675.1 1156.1 L675.5 1155.8 L675.9 1155.6 L676.3 1155.3 L676.7 1155.0 L677.2 1154.8 L677.6 1154.5 L678.0 1154.2 L678.4 1154.0 L678.9 1153.7 L679.3 1153.4 L679.7 1153.2 L680.1 1152.9 L680.6 1152.6 L681.0 1152.4 L681.4 1152.1 L681.8 1151.8 L682.3 1151.6 L682.7 1151.3 L683.1 1151.1 L683.5 1150.8 L684.0 1150.5 L684.4 1150.3 L684.8 1150.0 L685.2 1149.7 L685.7 1149.5 L686.1 1149.2 L686.5 1148.9 L686.9 1148.7 L687.4 1148.4 L687.8 1148.1 L688.2 1147.9 L688.6 1147.6 L689.1 1147.4 L689.5 1147.1 L689.9 1146.8 L690.3 1146.6 L690.8 1146.3 L691.2 1146.0 L691.6 1145.8 L692.0 1145.5 L692.5 1145.3 L692.9 1145.0 L693.3 1144.7 L693.8 1144.5 L694.2 1144.2 L694.6 1144.0 L695.0 1143.7 L695.5 1143.4 L695.9 1143.2 L696.3 1142.9 L696.8 1142.7 L697.2 1142.4 L697.6 1142.1 L698.1 1141.9 L698.5 1141.6 L698.9 1141.4 L699.3 1141.1 L699.8 1140.8 L700.2 1140.6 L700.6 1140.3 L701.1 1140.1 L701.5 1139.8 L701.9 1139.6 L702.4 1139.3 L702.8 1139.1 L703.2 1138.8 L703.7 1138.5 L704.1 1138.3 L704.5 1138.0 L705.0 1137.8 L705.4 1137.5 L705.8 1137.3 L706.3 1137.0 L706.7 1136.8 L707.1 1136.5 L707.6 1136.3 L708.0 1136.0 L708.4 1135.8 L708.9 1135.5 L709.3 1135.2 L709.8 1135.0 L710.2 1134.7 L710.6 1134.5 L711.1 1134.2 L711.5 1134.0 L711.9 1133.7 L712.4 1133.5 L712.8 1133.2 L713.2 1133.0 L713.7 1132.7 L714.1 1132.5 L714.5 1132.2 L715.0 1132.0 L715.4 1131.7 L715.9 1131.5 L716.3 1131.2 L716.7 1131.0 L717.2 1130.7 L717.6 1130.5 L718.0 1130.2 L718.5 1130.0 L718.9 1129.7 L719.3 1129.5 L719.8 1129.2 L720.2 1129.0 L720.7 1128.7 L721.1 1128.5 L721.5 1128.2 L722.0 1127.9 L722.4 1127.7 L722.8 1127.4 L723.3 1127.2 L723.7 1126.9 L724.1 1126.7 L724.6 1126.4 L725.0 1126.2 L725.4 1125.9 L725.9 1125.7 L726.3 1125.4 L726.8 1125.2 L727.2 1124.9 L727.6 1124.7 L728.1 1124.4 L728.5 1124.2 L728.9 1123.9 L729.4 1123.6 L729.8 1123.4 L730.2 1123.1 L730.7 1122.9 L731.1 1122.6 L731.5 1122.4 L732.0 1122.1 L732.4 1121.9 L732.8 1121.6 L733.3 1121.4 L733.7 1121.1 L734.1 1120.8 L734.6 1120.6 L735.0 1120.3 L735.4 1120.1 L735.8 1119.8 L736.3 1119.5 L736.7 1119.3 L737.1 1119.0 L737.6 1118.8 L738.0 1118.5 L738.4 1118.3 L738.9 1118.0 L739.3 1117.7 L739.7 1117.5 L740.1 1117.2 L740.6 1116.9 L741.0 1116.7 L741.4 1116.4 L741.8 1116.2 L742.3 1115.9 L742.7 1115.6 L743.1 1115.4 L743.5 1115.1 L744.0 1114.8 L744.4 1114.6 L744.8 1114.3 L745.2 1114.0 L745.7 1113.8 L746.1 1113.5 L746.5 1113.2 L746.9 1113.0 L747.4 1112.7 L747.8 1112.4 L748.2 1112.2 L748.6 1111.9 L749.0 1111.6 L749.5 1111.3 L749.9 1111.1 L750.3 1110.8 L750.7 1110.5 L751.1 1110.2 L751.5 1110.0 L752.0 1109.7 L752.4 1109.4 L752.8 1109.1 L753.2 1108.9 L753.6 1108.6 L754.0 1108.3 L754.5 1108.0 L754.9 1107.8 L755.3 1107.5 L755.7 1107.2 L756.1 1106.9 L756.5 1106.6 L756.9 1106.3 L757.3 1106.1 L757.7 1105.8 L758.1 1105.5 L758.6 1105.2 L759.0 1104.9 L759.4 1104.6 L759.8 1104.3 L760.2 1104.1 L760.6 1103.8 L761.0 1103.5 L761.4 1103.2 L761.8 1102.9 L762.2 1102.6 L762.6 1102.3 L763.0 1102.0 L763.4 1101.7 L763.8 1101.4 L764.2 1101.1 L764.6 1100.8 L765.0 1100.5 L765.4 1100.2 L765.8 1099.9 L766.2 1099.6 L766.6 1099.3 L767.0 1099.0 L767.4 1098.7 L767.8 1098.4 L768.1 1098.1 L768.5 1097.8 L768.9 1097.5 L769.3 1097.2 L769.7 1096.9 L770.1 1096.6 L770.5 1096.3 L770.9 1096.0 L771.3 1095.6 L771.6 1095.3 L772.0 1095.0 L772.4 1094.7 L772.8 1094.4 L773.2 1094.1 L773.6 1093.8 L773.9 1093.4 L774.3 1093.1 L774.7 1092.8 L775.1 1092.5 L775.4 1092.2 L775.8 1091.8 L776.2 1091.5 L776.6 1091.2 L776.9 1090.8 L777.3 1090.5 L777.7 1090.2 L778.1 1089.9 L778.4 1089.5 L778.8 1089.2 L779.2 1088.9 L779.5 1088.5 L779.9 1088.2 L780.3 1087.9 L780.6 1087.5 L781.0 1087.2 L781.3 1086.8 L781.7 1086.5 L782.1 1086.2 L782.4 1085.8 L782.8 1085.5 L783.1 1085.1 L783.5 1084.8 L783.9 1084.4 L784.2 1084.1 L784.6 1083.7 L784.9 1083.4 L785.3 1083.0 L785.6 1082.7 L786.0 1082.3 L786.3 1082.0 L786.7 1081.6 L787.0 1081.2 L787.3 1080.9 L787.7 1080.5 L788.0 1080.2 L788.4 1079.8 L788.7 1079.4 L789.1 1079.1 L789.4 1078.7 L789.7 1078.3 L790.1 1077.9 L790.4 1077.6 L790.7 1077.2 L791.1 1076.8 L791.4 1076.5 L791.7 1076.1 L792.1 1075.7 L792.4 1075.3 L792.7 1074.9 L793.0 1074.6 L793.4 1074.2 L793.7 1073.8 L794.0 1073.4 L794.3 1073.0 L794.7 1072.6 L795.0 1072.2 L795.3 1071.8 L795.6 1071.4 L795.9 1071.0 L796.2 1070.6 L796.5 1070.2 L796.9 1069.8 L797.2 1069.4 L797.5 1069.0 L797.8 1068.6 L798.1 1068.2 L798.4 1067.8 L798.7 1067.4 L799.0 1067.0" fill="none" stroke="#1e1e1e" stroke-width="2.6" stroke-linejoin="round"/>
<path d="M799.0 1067.0 L799.4 1067.4 L799.8 1067.8 L800.1 1068.2 L800.5 1068.7 L800.8 1069.1 L801.1 1069.6 L801.4 1070.1 L801.7 1070.5 L801.9 1071.0 L802.1 1071.5 L802.4 1072.0 L802.6 1072.5 L802.7 1073.0 L802.9 1073.5 L803.0 1074.0 L803.2 1074.5 L803.3 1075.1 L803.4 1075.6 L803.4 1076.1 L803.5 1076.6 L803.5 1077.1 L803.5 1077.6 L803.5 1078.1 L803.5 1078.6 L803.4 1079.1 L803.4 1079.6 L803.3 1080.0 L803.2 1080.5 L803.1 1081.0 L802.9 1081.4 L802.8 1081.8 L802.6 1082.3 L802.4 1082.7 L802.2 1083.1 L802.0 1083.5 L801.8 1083.9 L801.5 1084.3 L801.3 1084.7 L801.0 1085.1 L800.7 1085.5 L800.4 1085.9 L800.1 1086.2 L799.8 1086.6 L799.4 1086.9 L799.1 1087.3 L798.8 1087.6 L798.4 1088.0 L798.1 1088.3 L797.7 1088.7 L797.3 1089.0 L796.9 1089.3 L796.6 1089.7 L796.2 1090.0 L795.8 1090.3 L795.4 1090.6 L795.0 1091.0 L794.6 1091.3 L794.2 1091.6 L793.8 1091.9 L793.5 1092.2 L793.1 1092.5 L792.7 1092.9 L792.3 1093.2 L791.9 1093.5 L791.5 1093.8 L791.1 1094.1 L790.7 1094.4 L790.3 1094.7 L789.9 1095.1 L789.5 1095.4 L789.1 1095.7 L788.7 1096.0 L788.3 1096.3 L787.9 1096.6 L787.5 1096.9 L787.1 1097.2 L786.7 1097.5 L786.3 1097.8 L785.9 1098.1 L785.5 1098.4 L785.1 1098.7 L784.7 1099.0 L784.3 1099.3 L783.9 1099.6 L783.5 1099.9 L783.1 1100.2 L782.7 1100.5 L782.3 1100.8 L781.9 1101.1 L781.5 1101.4 L781.1 1101.7 L780.7 1102.0 L780.3 1102.3 L779.8 1102.5 L779.4 1102.8 L779.0 1103.1 L778.6 1103.4 L778.2 1103.7 L777.8 1104.0 L777.4 1104.3 L777.0 1104.6 L776.6 1104.8 L776.2 1105.1 L775.7 1105.4 L775.3 1105.7 L774.9 1106.0 L774.5 1106.3 L774.1 1106.5 L773.7 1106.8 L773.3 1107.1 L772.8 1107.4 L772.4 1107.7 L772.0 1107.9 L771.6 1108.2 L771.2 1108.5 L770.8 1108.8 L770.3 1109.0 L769.9 1109.3 L769.5 1109.6 L769.1 1109.9 L768.7 1110.1 L768.3 1110.4 L767.8 1110.7 L767.4 1110.9 L767.0 1111.2 L766.6 1111.5 L766.2 1111.8 L765.7 1112.0 L765.3 1112.3 L764.9 1112.6 L764.5 1112.8 L764.1 1113.1 L763.6 1113.4 L763.2 1113.6 L762.8 1113.9 L762.4 1114.2 L761.9 1114.4 L761.5 1114.7 L761.1 1115.0 L760.7 1115.2 L760.2 1115.5 L759.8 1115.8 L759.4 1116.0 L759.0 1116.3 L758.5 1116.5 L758.1 1116.8 L757.7 1117.1 L757.3 1117.3 L756.8 1117.6 L756.4 1117.8 L756.0 1118.1 L755.6 1118.4 L755.1 1118.6 L754.7 1118.9 L754.3 1119.1 L753.8 1119.4 L753.4 1119.7 L753.0 1119.9 L752.6 1120.2 L752.1 1120.4 L751.7 1120.7 L751.3 1120.9 L750.8 1121.2 L750.4 1121.4 L750.0 1121.7 L749.5 1122.0 L749.1 1122.2 L748.7 1122.5 L748.3 1122.7 L747.8 1123.0 L747.4 1123.2 L747.0 1123.5 L746.5 1123.7 L746.1 1124.0 L745.7 1124.2 L745.2 1124.5 L744.8 1124.7 L744.4 1125.0 L743.9 1125.2 L743.5 1125.5 L743.1 1125.7 L742.6 1126.0 L742.2 1126.2 L741.8 1126.5 L741.3 1126.7 L740.9 1127.0 L740.5 1127.2 L740.0 1127.5 L739.6 1127.7 L739.2 1128.0 L738.7 1128.2 L738.3 1128.5 L737.9 1128.7 L737.4 1129.0 L737.0 1129.2 L736.6 1129.5 L736.1 1129.7 L735.7 1130.0 L735.3 1130.2 L734.8 1130.5 L734.4 1130.7 L734.0 1131.0 L733.5 1131.2 L733.1 1131.5 L732.7 1131.7 L732.2 1132.0 L731.8 1132.2 L731.3 1132.5 L730.9 1132.7 L730.5 1133.0 L730.0 1133.2 L729.6 1133.4 L729.2 1133.7 L728.7 1133.9 L728.3 1134.2 L727.9 1134.4 L727.4 1134.7 L727.0 1134.9 L726.6 1135.2 L726.1 1135.4 L725.7 1135.7 L725.3 1135.9 L724.8 1136.2 L724.4 1136.4 L724.0 1136.7 L723.5 1136.9 L723.1 1137.2 L722.6 1137.4 L722.2 1137.7 L721.8 1137.9 L721.3 1138.2 L720.9 1138.4 L720.5 1138.7 L720.0 1138.9 L719.6 1139.2 L719.2 1139.4 L718.7 1139.6 L718.3 1139.9 L717.9 1140.1 L717.4 1140.4 L717.0 1140.6 L716.6 1140.9 L716.1 1141.1 L715.7 1141.4 L715.3 1141.6 L714.8 1141.9 L714.4 1142.1 L714.0 1142.4 L713.5 1142.7 L713.1 1142.9 L712.7 1143.2 L712.2 1143.4 L711.8 1143.7 L711.4 1143.9 L710.9 1144.2 L710.5 1144.4 L710.1 1144.7 L709.6 1144.9 L709.2 1145.2 L708.8 1145.4 L708.3 1145.7 L707.9 1145.9 L707.5 1146.2 L707.0 1146.4 L706.6 1146.7 L706.2 1147.0 L705.7 1147.2 L705.3 1147.5 L704.9 1147.7 L704.4 1148.0 L704.0 1148.2 L703.6 1148.5 L703.1 1148.8 L702.7 1149.0 L702.3 1149.3 L701.9 1149.5 L701.4 1149.8 L701.0 1150.1 L700.6 1150.3 L700.1 1150.6 L699.7 1150.8 L699.3 1151.1 L698.9 1151.4 L698.4 1151.6 L698.0 1151.9 L697.6 1152.1 L697.1 1152.4 L696.7 1152.7 L696.3 1152.9 L695.9 1153.2 L695.4 1153.5 L695.0 1153.7 L694.6 1154.0 L694.2 1154.3 L693.7 1154.5 L693.3 1154.8 L692.9 1155.1 L692.5 1155.3 L692.0 1155.6 L691.6 1155.9 L691.2 1156.1 L690.8 1156.4 L690.3 1156.7 L689.9 1156.9 L689.5 1157.2 L689.0 1157.5 L688.6 1157.7 L688.2 1158.0 L687.8 1158.3 L687.4 1158.5 L686.9 1158.8 L686.5 1159.1 L686.1 1159.3 L685.7 1159.6 L685.2 1159.9 L684.8 1160.1 L684.4 1160.4 L684.0 1160.7 L683.5 1160.9 L683.1 1161.2 L682.7 1161.5 L682.3 1161.7 L681.8 1162.0 L681.4 1162.3 L681.0 1162.6 L680.6 1162.8 L680.1 1163.1 L679.7 1163.4 L679.3 1163.6 L678.9 1163.9 L678.4 1164.2 L678.0 1164.4 L677.6 1164.7 L677.2 1165.0 L676.7 1165.2 L676.3 1165.5 L675.9 1165.8 L675.5 1166.0 L675.0 1166.3 L674.6 1166.6 L674.2 1166.8 L673.8 1167.1 L673.3 1167.4 L672.9 1167.6 L672.5 1167.9 L672.1 1168.1 L671.6 1168.4 L671.2 1168.7 L670.8 1168.9 L670.3 1169.2 L669.9 1169.5 L669.5 1169.7 L669.1 1170.0 L668.6 1170.2 L668.2 1170.5 L667.8 1170.8 L667.4 1171.0 L666.9 1171.3 L666.5 1171.5 L666.1 1171.8 L665.6 1172.1 L665.2 1172.3 L664.8 1172.6 L664.4 1172.8 L663.9 1173.1 L663.5 1173.3 L663.1 1173.6 L662.6 1173.8 L662.2 1174.1 L661.8 1174.3 L661.3 1174.6 L660.9 1174.9 L660.5 1175.1 L660.0 1175.4 L659.6 1175.6 L659.2 1175.9 L658.7 1176.1 L658.3 1176.3 L657.9 1176.6 L657.4 1176.8 L657.0 1177.1 L656.6 1177.3 L656.1 1177.6 L655.7 1177.8 L655.3 1178.1 L654.8 1178.3 L654.4 1178.5 L654.0 1178.8 L653.5 1179.0 L653.1 1179.3 L652.6 1179.5 L652.2 1179.7 L651.8 1180.0 L651.3 1180.2 L650.9 1180.4 L650.4 1180.7 L650.0 1180.9 L649.6 1181.1 L649.1 1181.4 L648.7 1181.6 L648.2 1181.8 L647.8 1182.1 L647.4 1182.3 L646.9 1182.5 L646.5 1182.7 L646.0 1183.0 L645.6 1183.2 L645.1 1183.4 L644.7 1183.6 L644.2 1183.9 L643.8 1184.1 L643.4 1184.3 L642.9 1184.5 L642.5 1184.7 L642.0 1185.0 L641.6 1185.2 L641.1 1185.4 L640.7 1185.6 L640.2 1185.8 L639.8 1186.0 L639.3 1186.3 L638.9 1186.5 L638.4 1186.7 L638.0 1186.9 L637.5 1187.1 L637.1 1187.3 L636.6 1187.5 L636.2 1187.7 L635.7 1188.0 L635.3 1188.2 L634.8 1188.4 L634.4 1188.6 L633.9 1188.8 L633.5 1189.0 L633.0 1189.2 L632.6 1189.4 L632.1 1189.6 L631.6 1189.8 L631.2 1190.0 L630.7 1190.2 L630.3 1190.4 L629.8 1190.6 L629.4 1190.8 L628.9 1191.0 L628.5 1191.2 L628.0 1191.5 L627.6 1191.7 L627.1 1191.9 L626.6 1192.1 L626.2 1192.3 L625.7 1192.5 L625.3 1192.7 L624.8 1192.9 L624.4 1193.1 L623.9 1193.3 L623.5 1193.5 L623.0 1193.7 L622.5 1193.9 L622.1 1194.1 L621.6 1194.3 L621.2 1194.5 L620.7 1194.7 L620.3 1194.9 L619.8 1195.1 L619.3 1195.3 L618.9 1195.5 L618.4 1195.7 L618.0 1195.9 L617.5 1196.1 L617.1 1196.3 L616.6 1196.5 L616.1 1196.7 L615.7 1196.9 L615.2 1197.0 L614.8 1197.2 L614.3 1197.4 L613.9 1197.6 L613.4 1197.8 L612.9 1198.0 L612.5 1198.2 L612.0 1198.4 L611.6 1198.6 L611.1 1198.8 L610.7 1199.0 L610.2 1199.2 L609.7 1199.4 L609.3 1199.6 L608.8 1199.8 L608.4 1200.0 L607.9 1200.2 L607.5 1200.4 L607.0 1200.6 L606.5 1200.8 L606.1 1201.0 L605.6 1201.2 L605.2 1201.5 L604.7 1201.7 L604.3 1201.9 L603.8 1202.1 L603.3 1202.3 L602.9 1202.5 L602.4 1202.7 L602.0 1202.9 L601.5 1203.1 L601.1 1203.3 L600.6 1203.5 L600.1 1203.7 L599.7 1203.9 L599.2 1204.1 L598.8 1204.3 L598.3 1204.5 L597.9 1204.7 L597.4 1204.9 L597.0 1205.2 L596.5 1205.4 L596.1 1205.6 L595.6 1205.8 L595.1 1206.0 L594.7 1206.2 L594.2 1206.4 L593.8 1206.6 L593.3 1206.8 L592.9 1207.0 L592.4 1207.3 L592.0 1207.5 L591.5 1207.7 L591.1 1207.9 L590.6 1208.1 L590.2 1208.3 L589.7 1208.5 L589.3 1208.8 L588.8 1209.0 L588.4 1209.2 L587.9 1209.4 L587.4 1209.6 L587.0 1209.8 L586.5 1210.1 L586.1 1210.3 L585.6 1210.5 L585.2 1210.7 L584.7 1210.9 L584.3 1211.1 L583.8 1211.4 L583.4 1211.6 L582.9 1211.8 L582.5 1212.0 L582.0 1212.2 L581.6 1212.5 L581.1 1212.7 L580.7 1212.9 L580.2 1213.1 L579.8 1213.4 L579.3 1213.6 L578.9 1213.8 L578.4 1214.0 L578.0 1214.2 L577.5 1214.5 L577.1 1214.7 L576.6 1214.9 L576.2 1215.1 L575.7 1215.4 L575.3 1215.6 L574.8 1215.8 L574.4 1216.0 L573.9 1216.3 L573.5 1216.5 L573.0 1216.7 L572.6 1216.9 L572.1 1217.2 L571.7 1217.4 L571.2 1217.6 L570.8 1217.8 L570.3 1218.1 L569.9 1218.3 L569.4 1218.5 L569.0 1218.7 L568.6 1219.0 L568.1 1219.2 L567.7 1219.4 L567.2 1219.7 L566.8 1219.9 L566.3 1220.1 L565.9 1220.3 L565.4 1220.6 L565.0 1220.8 L564.5 1221.0 L564.1 1221.3 L563.6 1221.5 L563.2 1221.7 L562.7 1221.9 L562.3 1222.2 L561.8 1222.4 L561.4 1222.6 L560.9 1222.9 L560.5 1223.1 L560.0 1223.3 L559.6 1223.5 L559.2 1223.8 L558.7 1224.0 L558.3 1224.2 L557.8 1224.5 L557.4 1224.7 L556.9 1224.9 L556.5 1225.2 L556.0 1225.4 L555.6 1225.6 L555.1 1225.9 L554.7 1226.1 L554.2 1226.3 L553.8 1226.6 L553.3 1226.8 L552.9 1227.0 L552.5 1227.2 L552.0 1227.5 L551.6 1227.7 L551.1 1227.9 L550.7 1228.2 L550.2 1228.4 L549.8 1228.6 L549.3 1228.9 L548.9 1229.1 L548.4 1229.3 L548.0 1229.6 L547.5 1229.8 L547.1 1230.0 L546.6 1230.3 L546.2 1230.5 L545.8 1230.7 L545.3 1231.0 L544.9 1231.2 L544.4 1231.4 L544.0 1231.7 L543.5 1231.9 L543.1 1232.1 L542.6 1232.4 L542.2 1232.6 L541.7 1232.8 L541.3 1233.1 L540.8 1233.3 L540.4 1233.5 L540.0 1233.7 L539.5 1234.0 L539.1 1234.2 L538.6 1234.4 L538.2 1234.7 L537.7 1234.9 L537.3 1235.1 L536.8 1235.4 L536.4 1235.6 L535.9 1235.8 L535.5 1236.1 L535.0 1236.3 L534.6 1236.5 L534.2 1236.8 L533.7 1237.0 L533.3 1237.2 L532.8 1237.5 L532.4 1237.7 L531.9 1237.9 L531.5 1238.2 L531.0 1238.4 L530.6 1238.6 L530.1 1238.8 L529.7 1239.1 L529.2 1239.3 L528.8 1239.5 L528.3 1239.8 L527.9 1240.0 L527.5 1240.2 L527.0 1240.5 L526.6 1240.7 L526.1 1240.9 L525.7 1241.1 L525.2 1241.4 L524.8 1241.6 L524.3 1241.8 L523.9 1242.1 L523.4 1242.3 L523.0 1242.5 L522.5 1242.7 L522.1 1243.0 L521.6 1243.2 L521.2 1243.4 L520.7 1243.7 L520.3 1243.9 L519.8 1244.1 L519.4 1244.3 L519.0 1244.6 L518.5 1244.8 L518.1 1245.0 L517.6 1245.2 L517.2 1245.5 L516.7 1245.7 L516.3 1245.9 L515.8 1246.2 L515.4 1246.4 L514.9 1246.6 L514.5 1246.8 L514.0 1247.1 L513.6 1247.3 L513.1 1247.5 L512.7 1247.7 L512.2 1247.9 L511.8 1248.2 L511.3 1248.4 L510.9 1248.6 L510.4 1248.8 L510.0 1249.1 L509.5 1249.3 L509.1 1249.5 L508.6 1249.7 L508.2 1250.0 L507.7 1250.2 L507.3 1250.4 L506.8 1250.6 L506.4 1250.8 L505.9 1251.1 L505.5 1251.3 L505.0 1251.5 L504.6 1251.7 L504.1 1251.9 L503.7 1252.2 L503.2 1252.4 L502.8 1252.6 L502.3 1252.8 L501.9 1253.0 L501.4 1253.2 L501.0 1253.5 L500.5 1253.7 L500.1 1253.9 L499.6 1254.1 L499.2 1254.3 L498.7 1254.5 L498.3 1254.8 L497.8 1255.0 L497.4 1255.2 L496.9 1255.4 L496.5 1255.6 L496.0 1255.8 L495.6 1256.0 L495.1 1256.3 L494.7 1256.5 L494.2 1256.7 L493.7 1256.9 L493.3 1257.1 L492.8 1257.3 L492.4 1257.5 L491.9 1257.7 L491.5 1257.9 L491.0 1258.1 L490.6 1258.4 L490.1 1258.6 L489.7 1258.8 L489.2 1259.0 L488.8 1259.2 L488.3 1259.4 L487.9 1259.6 L487.4 1259.8 L486.9 1260.0 L486.5 1260.2 L486.0 1260.4 L485.6 1260.6 L485.1 1260.8 L484.7 1261.1 L484.2 1261.3 L483.8 1261.5 L483.3 1261.7 L482.9 1261.9 L482.4 1262.1 L481.9 1262.3 L481.5 1262.5 L481.0 1262.7 L480.6 1262.9 L480.1 1263.1 L479.7 1263.3 L479.2 1263.5 L478.7 1263.7 L478.3 1263.9 L477.8 1264.1 L477.4 1264.3 L476.9 1264.5 L476.5 1264.7 L476.0 1264.9 L475.6 1265.1 L475.1 1265.3 L474.6 1265.5 L474.2 1265.7 L473.7 1265.9 L473.3 1266.1 L472.8 1266.3 L472.4 1266.5 L471.9 1266.7 L471.4 1266.9 L471.0 1267.1 L470.5 1267.3 L470.1 1267.5 L469.6 1267.7 L469.1 1267.9 L468.7 1268.1 L468.2 1268.3 L467.8 1268.5 L467.3 1268.7 L466.9 1268.8 L466.4 1269.0 L465.9 1269.2 L465.5 1269.4 L465.0 1269.6 L464.6 1269.8 L464.1 1270.0 L463.6 1270.2 L463.2 1270.4 L462.7 1270.6 L462.3 1270.8 L461.8 1271.0 L461.3 1271.2 L460.9 1271.4 L460.4 1271.5 L460.0 1271.7 L459.5 1271.9 L459.0 1272.1 L458.6 1272.3 L458.1 1272.5 L457.7 1272.7 L457.2 1272.9 L456.7 1273.1 L456.3 1273.3 L455.8 1273.5 L455.4 1273.6 L454.9 1273.8 L454.4 1274.0 L454.0 1274.2 L453.5 1274.4 L453.1 1274.6 L452.6 1274.8 L452.1 1275.0 L451.7 1275.1 L451.2 1275.3 L450.8 1275.5 L450.3 1275.7 L449.8 1275.9 L449.4 1276.1 L448.9 1276.3 L448.4 1276.4 L448.0 1276.6 L447.5 1276.8 L447.1 1277.0 L446.6 1277.2 L446.1 1277.4 L445.7 1277.6 L445.2 1277.7 L444.7 1277.9 L444.3 1278.1 L443.8 1278.3 L443.4 1278.5 L442.9 1278.7 L442.4 1278.8 L442.0 1279.0 L441.5 1279.2 L441.0 1279.4 L440.6 1279.6 L440.1 1279.8 L439.7 1279.9 L439.2 1280.1 L438.7 1280.3 L438.3 1280.5 L437.8 1280.7 L437.3 1280.8 L436.9 1281.0 L436.4 1281.2 L435.9 1281.4 L435.5 1281.6 L435.0 1281.7 L434.6 1281.9 L434.1 1282.1 L433.6 1282.3 L433.2 1282.5 L432.7 1282.6 L432.2 1282.8 L431.8 1283.0 L431.3 1283.2 L430.8 1283.4 L430.4 1283.5 L429.9 1283.7 L429.4 1283.9 L429.0 1284.1 L428.5 1284.3 L428.0 1284.4 L427.6 1284.6 L427.1 1284.8 L426.7 1285.0 L426.2 1285.1 L425.7 1285.3 L425.3 1285.5 L424.8 1285.7 L424.3 1285.8 L423.9 1286.0 L423.4 1286.2 L422.9 1286.4 L422.5 1286.6 L422.0 1286.7 L421.5 1286.9 L421.1 1287.1 L420.6 1287.3 L420.1 1287.4 L419.7 1287.6 L419.2 1287.8 L418.7 1288.0 L418.3 1288.1 L417.8 1288.3 L417.3 1288.5 L416.9 1288.7 L416.4 1288.8 L415.9 1289.0 L415.5 1289.2 L415.0 1289.3 L414.5 1289.5 L414.1 1289.7 L413.6 1289.9 L413.1 1290.0 L412.7 1290.2 L412.2 1290.4 L411.7 1290.6 L411.3 1290.7 L410.8 1290.9 L410.3 1291.1 L409.9 1291.3 L409.4 1291.4 L408.9 1291.6 L408.5 1291.8 L408.0 1291.9 L407.5 1292.1 L407.1 1292.3 L406.6 1292.5 L406.1 1292.6 L405.6 1292.8 L405.2 1293.0 L404.7 1293.1 L404.2 1293.3 L403.8 1293.5 L403.3 1293.7 L402.8 1293.8 L402.4 1294.0 L401.9 1294.2 L401.4 1294.3 L401.0 1294.5 L400.5 1294.7 L400.0 1294.9 L399.6 1295.0 L399.1 1295.2 L398.6 1295.4 L398.2 1295.5 L397.7 1295.7 L397.2 1295.9 L396.7 1296.0 L396.3 1296.2 L395.8 1296.4 L395.3 1296.6 L394.9 1296.7 L394.4 1296.9 L393.9 1297.1 L393.5 1297.2 L393.0 1297.4 L392.5 1297.6 L392.1 1297.7 L391.6 1297.9 L391.1 1298.1 L390.6 1298.3 L390.2 1298.4 L389.7 1298.6 L389.2 1298.8 L388.8 1298.9 L388.3 1299.1 L387.8 1299.3 L387.4 1299.4 L386.9 1299.6 L386.4 1299.8 L385.9 1299.9 L385.5 1300.1 L385.0 1300.3 L384.5 1300.4 L384.1 1300.6 L383.6 1300.8 L383.1 1300.9 L382.7 1301.1 L382.2 1301.3 L381.7 1301.5 L381.2 1301.6 L380.8 1301.8 L380.3 1302.0 L379.8 1302.1 L379.4 1302.3 L378.9 1302.5 L378.4 1302.6 L377.9 1302.8 L377.5 1303.0 L377.0 1303.1 L376.5 1303.3 L376.1 1303.5 L375.6 1303.6 L375.1 1303.8 L374.7 1304.0 L374.2 1304.1 L373.7 1304.3 L373.2 1304.5 L372.8 1304.6 L372.3 1304.8 L371.8 1305.0 L371.4 1305.1 L370.9 1305.3 L370.4 1305.5 L369.9 1305.6 L369.5 1305.8 L369.0 1306.0 L368.5 1306.2 L368.1 1306.3 L367.6 1306.5 L367.1 1306.7 L366.6 1306.8 L366.2 1307.0 L365.7 1307.2 L365.2 1307.3 L364.8 1307.5 L364.3 1307.7 L363.8 1307.8 L363.3 1308.0 L362.9 1308.2 L362.4 1308.3 L361.9 1308.5 L361.5 1308.7 L361.0 1308.8 L360.5 1309.0 L360.0 1309.2 L359.6 1309.3 L359.1 1309.5 L358.6 1309.7 L358.1 1309.8 L357.7 1310.0 L357.2 1310.2 L356.7 1310.3 L356.3 1310.5 L355.8 1310.7 L355.3 1310.8 L354.8 1311.0 L354.4 1311.2 L353.9 1311.3 L353.4 1311.5 L353.0 1311.7 L352.5 1311.8 L352.0 1312.0 L351.5 1312.2 L351.1 1312.4 L350.6 1312.5 L350.1 1312.7 L349.6 1312.9 L349.2 1313.0 L348.7 1313.2 L348.2 1313.4 L347.8 1313.5 L347.3 1313.7 L346.8 1313.9 L346.3 1314.0 L345.9 1314.2 L345.4 1314.4 L344.9 1314.5 L344.4 1314.7 L344.0 1314.9 L343.5 1315.0 L343.0 1315.2 L342.6 1315.4 L342.1 1315.6 L341.6 1315.7 L341.1 1315.9 L340.7 1316.1 L340.2 1316.2 L339.7 1316.4 L339.2 1316.6 L338.8 1316.7 L338.3 1316.9 L337.8 1317.1 L337.4 1317.2 L336.9 1317.4 L336.4 1317.6 L335.9 1317.8 L335.5 1317.9 L335.0 1318.1 L334.5 1318.3 L334.0 1318.4 L333.6 1318.6 L333.1 1318.8 L332.6 1318.9 L332.2 1319.1 L331.7 1319.3 L331.2 1319.5 L330.7 1319.6 L330.3 1319.8 L329.8 1320.0 L329.3 1320.1 L328.8 1320.3 L328.4 1320.5 L327.9 1320.7 L327.4 1320.8 L326.9 1321.0 L326.5 1321.2 L326.0 1321.3 L325.5 1321.5 L325.1 1321.7 L324.6 1321.9 L324.1 1322.0 L323.6 1322.2 L323.2 1322.4 L322.7 1322.5 L322.2 1322.7 L321.7 1322.9 L321.3 1323.1 L320.8 1323.2 L320.3 1323.4 L319.8 1323.6 L319.4 1323.8 L318.9 1323.9 L318.4 1324.1 L318.0 1324.3 L317.5 1324.4 L317.0 1324.6 L316.5 1324.8 L316.1 1325.0 L315.6 1325.1 L315.1 1325.3 L314.6 1325.5 L314.2 1325.7 L313.7 1325.8 L313.2 1326.0 L312.7 1326.2 L312.3 1326.4 L311.8 1326.5 L311.3 1326.7 L310.9 1326.9 L310.4 1327.1 L309.9 1327.2 L309.4 1327.4 L309.0 1327.6 L308.5 1327.8 L308.0 1327.9 L307.5 1328.1 L307.1 1328.3 L306.6 1328.5 L306.1 1328.7 L305.6 1328.8 L305.2 1329.0 L304.7 1329.2 L304.2 1329.4 L303.8 1329.5 L303.3 1329.7 L302.8 1329.9 L302.3 1330.1 L301.9 1330.2 L301.4 1330.4 L300.9 1330.6 L300.4 1330.8 L300.0 1331.0 L299.5 1331.1 L299.0 1331.3 L298.5 1331.5 L298.1 1331.7 L297.6 1331.9 L297.1 1332.0 L296.7 1332.2 L296.2 1332.4 L295.7 1332.6 L295.2 1332.8 L294.8 1332.9 L294.3 1333.1 L293.8 1333.3 L293.3 1333.5 L292.9 1333.7 L292.4 1333.9 L291.9 1334.0 L291.5 1334.2 L291.0 1334.4 L290.5 1334.6 L290.0 1334.8 L289.6 1335.0 L289.1 1335.1 L288.6 1335.3 L288.2 1335.5 L287.7 1335.7 L287.2 1335.9 L286.7 1336.1 L286.3 1336.3 L285.8 1336.4 L285.3 1336.6 L284.9 1336.8 L284.4 1337.0 L283.9 1337.2 L283.5 1337.4 L283.0 1337.6 L282.5 1337.8 L282.1 1338.0 L281.6 1338.1 L281.1 1338.3 L280.7 1338.5 L280.2 1338.7 L279.7 1338.9 L279.3 1339.1 L278.8 1339.3 L278.3 1339.5 L277.9 1339.7 L277.4 1339.9 L276.9 1340.1 L276.5 1340.3 L276.0 1340.5 L275.5 1340.7 L275.1 1340.9 L274.6 1341.1 L274.2 1341.3 L273.7 1341.5 L273.2 1341.7 L272.8 1341.9 L272.3 1342.1 L271.8 1342.3 L271.4 1342.5 L270.9 1342.7 L270.5 1342.9 L270.0 1343.1 L269.6 1343.3 L269.1 1343.5 L268.6 1343.7 L268.2 1344.0 L267.7 1344.2 L267.3 1344.4 L266.8 1344.6 L266.4 1344.8 L265.9 1345.0 L265.5 1345.2 L265.0 1345.4 L264.5 1345.7 L264.1 1345.9 L263.6 1346.1 L263.2 1346.3 L262.7 1346.5 L262.3 1346.7 L261.8 1347.0 L261.4 1347.2 L261.0 1347.4 L260.5 1347.6 L260.1 1347.9 L259.6 1348.1 L259.2 1348.3 L258.7 1348.5 L258.3 1348.8 L257.8 1349.0 L257.4 1349.2 L257.0 1349.5 L256.5 1349.7 L256.1 1349.9 L255.6 1350.2 L255.2 1350.4 L254.8 1350.6 L254.3 1350.9 L253.9 1351.1 L253.4 1351.3 L253.0 1351.6 L252.6 1351.8 L252.1 1352.1 L251.7 1352.3 L251.3 1352.6 L250.8 1352.8 L250.4 1353.0 L250.0 1353.3 L249.5 1353.5 L249.1 1353.8 L248.7 1354.0 L248.3 1354.3 L247.8 1354.5 L247.4 1354.8 L247.0 1355.1 L246.6 1355.3 L246.1 1355.6 L245.7 1355.8 L245.3 1356.1 L244.9 1356.3 L244.5 1356.6 L244.0 1356.9 L243.6 1357.1 L243.2 1357.4 L242.8 1357.7 L242.4 1357.9 L242.0 1358.2 L241.5 1358.5 L241.1 1358.8 L240.7 1359.0 L240.3 1359.3 L239.9 1359.6 L239.5 1359.9 L239.1 1360.1 L238.7 1360.4 L238.3 1360.7 L237.9 1361.0 L237.5 1361.3 L237.1 1361.5 L236.7 1361.8 L236.3 1362.1 L235.9 1362.4 L235.5 1362.7 L235.1 1363.0 L234.7 1363.3 L234.3 1363.6 L233.9 1363.9 L233.5 1364.2 L233.1 1364.5 L232.7 1364.8 L232.3 1365.1 L231.9 1365.4 L231.5 1365.7 L231.1 1366.0 L230.8 1366.3 L230.4 1366.6 L230.0 1366.9 L229.6 1367.2 L229.2 1367.6 L228.9 1367.9 L228.5 1368.2 L228.1 1368.5 L227.7 1368.8 L227.3 1369.2 L227.0 1369.5 L226.6 1369.8 L226.2 1370.1 L225.9 1370.5 L225.5 1370.8 L225.1 1371.1 L224.7 1371.5 L224.4 1371.8 L224.0 1372.1 L223.7 1372.5 L223.3 1372.8 L222.9 1373.1 L222.6 1373.5 L222.2 1373.8 L221.9 1374.2 L221.5 1374.5 L221.1 1374.9 L220.8 1375.2 L220.4 1375.6 L220.1 1375.9 L219.7 1376.3 L219.4 1376.6 L219.0 1377.0 L218.7 1377.3 L218.3 1377.7 L218.0 1378.0 L217.6 1378.4 L217.3 1378.8 L217.0 1379.1 L216.6 1379.5 L216.3 1379.9 L215.9 1380.2 L215.6 1380.6 L215.3 1381.0 L214.9 1381.3 L214.6 1381.7 L214.3 1382.1 L213.9 1382.4 L213.6 1382.8 L213.3 1383.2 L213.0 1383.6 L212.6 1384.0 L212.3 1384.3 L212.0 1384.7 L211.7 1385.1 L211.3 1385.5 L211.0 1385.9 L210.7 1386.3 L210.4 1386.6 L210.1 1387.0 L209.8 1387.4 L209.4 1387.8 L209.1 1388.2 L208.8 1388.6 L208.5 1389.0 L208.2 1389.4 L207.9 1389.8 L207.6 1390.2 L207.3 1390.6 L207.0 1391.0 L206.7 1391.4 L206.4 1391.8 L206.1 1392.2 L205.8 1392.6 L205.5 1393.0 L205.2 1393.4 L204.9 1393.8 L204.6 1394.2 L204.3 1394.6 L204.0 1395.0 L203.7 1395.4 L203.4 1395.8 L203.1 1396.3 L202.9 1396.7 L202.6 1397.1 L202.3 1397.5 L202.0 1397.9 L201.7 1398.3 L201.4 1398.7 L201.2 1399.2 L200.9 1399.6 L200.6 1400.0 L200.3 1400.4 L200.1 1400.9 L199.8 1401.3 L199.5 1401.7 L199.3 1402.1 L199.0 1402.5 L198.7 1403.0 L198.4 1403.4 L198.2 1403.8 L197.9 1404.3 L197.7 1404.7 L197.4 1405.1 L197.1 1405.6 L196.9 1406.0 L196.6 1406.4 L196.4 1406.9 L196.1 1407.3 L195.9 1407.7 L195.6 1408.2 L195.4 1408.6 L195.1 1409.0 L194.9 1409.5 L194.6 1409.9 L194.4 1410.4 L194.1 1410.8 L193.9 1411.2 L193.6 1411.7 L193.4 1412.1 L193.2 1412.6 L192.9 1413.0 L192.7 1413.5 L192.4 1413.9 L192.2 1414.3 L192.0 1414.8 L191.7 1415.2 L191.5 1415.7 L191.3 1416.1 L191.1 1416.6 L190.8 1417.0 L190.6 1417.5 L190.4 1417.9 L190.2 1418.4 L189.9 1418.8 L189.7 1419.3 L189.5 1419.7 L189.3 1420.2 L189.1 1420.7 L188.9 1421.1 L188.6 1421.6 L188.4 1422.0 L188.2 1422.5 L188.0 1422.9 L187.8 1423.4 L187.6 1423.9 L187.4 1424.3 L187.2 1424.8 L187.0 1425.2 L186.8 1425.7 L186.6 1426.2 L186.4 1426.6 L186.2 1427.1 L186.0 1427.5 L185.8 1428.0 L185.6 1428.5 L185.4 1428.9 L185.2 1429.4 L185.0 1429.9 L184.9 1430.3 L184.7 1430.8 L184.5 1431.2 L184.3 1431.7 L184.1 1432.2 L183.9 1432.6 L183.8 1433.1 L183.6 1433.6 L183.4 1434.0 L183.2 1434.5 L183.1 1435.0 L182.9 1435.5 L182.7 1435.9 L182.5 1436.4 L182.4 1436.9 L182.2 1437.3 L182.0 1437.8 L181.9 1438.3 L181.7 1438.7 L181.5 1439.2 L181.4 1439.7 L181.2 1440.2 L181.1 1440.6 L180.9 1441.1 L180.7 1441.6 L180.6 1442.0 L180.4 1442.5 L180.3 1443.0 L180.1 1443.5 L180.0 1443.9 L179.8 1444.4 L179.7 1444.9 L179.5 1445.4 L179.4 1445.8 L179.2 1446.3 L179.1 1446.8 L179.0 1447.3 L178.8 1447.8 L178.7 1448.2 L178.5 1448.7 L178.4 1449.2 L178.3 1449.7 L178.1 1450.1 L178.0 1450.6 L177.9 1451.1 L177.7 1451.6 L177.6 1452.1 L177.5 1452.5 L177.3 1453.0 L177.2 1453.5 L177.1 1454.0 L176.9 1454.5 L176.8 1455.0 L176.7 1455.4 L176.6 1455.9 L176.5 1456.4 L176.3 1456.9 L176.2 1457.4 L176.1 1457.8 L176.0 1458.3 L175.9 1458.8 L175.7 1459.3 L175.6 1459.8 L175.5 1460.3 L175.4 1460.8 L175.3 1461.2 L175.2 1461.7 L175.1 1462.2 L174.9 1462.7 L174.8 1463.2 L174.7 1463.7 L174.6 1464.2 L174.5 1464.6 L174.4 1465.1 L174.3 1465.6 L174.2 1466.1 L174.1 1466.6 L174.0 1467.1 L173.9 1467.6 L173.8 1468.1 L173.7 1468.6 L173.6 1469.0 L173.5 1469.5 L173.4 1470.0 L173.3 1470.5 L173.2 1471.0 L173.1 1471.5 L173.0 1472.0 L172.9 1472.5 L172.8 1473.0 L172.8 1473.5 L172.7 1473.9 L172.6 1474.4 L172.5 1474.9 L172.4 1475.4 L172.3 1475.9 L172.2 1476.4 L172.1 1476.9 L172.0 1477.4 L172.0 1477.9 L171.9 1478.4 L171.8 1478.9 L171.7 1479.4 L171.6 1479.9 L171.6 1480.4 L171.5 1480.8 L171.4 1481.3 L171.3 1481.8 L171.2 1482.3 L171.2 1482.8 L171.1 1483.3 L171.0 1483.8 L170.9 1484.3 L170.9 1484.8 L170.8 1485.3 L170.7 1485.8 L170.6 1486.3 L170.6 1486.8 L170.5 1487.3 L170.4 1487.8 L170.3 1488.3 L170.3 1488.8 L170.2 1489.3 L170.1 1489.8 L170.1 1490.3 L170.0 1490.8 L169.9 1491.3 L169.9 1491.8 L169.8 1492.3 L169.7 1492.7 L169.7 1493.2 L169.6 1493.7 L169.5 1494.2 L169.5 1494.7 L169.4 1495.2 L169.4 1495.7 L169.3 1496.2 L169.2 1496.7 L169.2 1497.2 L169.1 1497.7 L169.1 1498.2 L169.0 1498.7 L168.9 1499.2 L168.9 1499.7 L168.8 1500.2 L168.8 1500.7 L168.7 1501.2 L168.6 1501.7 L168.6 1502.2 L168.5 1502.7 L168.5 1503.2 L168.4 1503.7 L168.4 1504.2 L168.3 1504.7 L168.3 1505.2 L168.2 1505.7 L168.1 1506.2 L168.1 1506.7 L168.0 1507.2 L168.0 1507.7 L167.9 1508.2 L167.9 1508.7 L167.8 1509.2 L167.8 1509.7 L167.7 1510.2 L167.7 1510.7 L167.6 1511.2 L167.6 1511.7 L167.5 1512.2 L167.5 1512.7 L167.4 1513.2 L167.4 1513.7 L167.3 1514.2 L167.3 1514.7 L167.2 1515.2 L167.2 1515.7 L167.1 1516.2 L167.1 1516.7 L167.1 1517.2 L167.0 1517.7 L167.0 1518.3 L166.9 1518.8 L166.9 1519.3 L166.8 1519.8 L166.8 1520.3 L166.7 1520.8 L166.7 1521.3 L166.6 1521.8 L166.6 1522.3 L166.5 1522.8 L166.5 1523.3 L166.5 1523.8 L166.4 1524.3 L166.4 1524.8 L166.3 1525.3 L166.3 1525.8 L166.2 1526.3 L166.2 1526.8 L166.2 1527.3 L166.1 1527.8 L166.1 1528.3 L166.0 1528.8 L166.0 1529.3 L165.9 1529.8 L165.9 1530.3 L165.8 1530.8 L165.8 1531.3 L165.8 1531.8 L165.7 1532.3 L165.7 1532.8 L165.6 1533.3 L165.6 1533.8 L165.5 1534.3 L165.5 1534.8 L165.5 1535.3 L165.4 1535.8 L165.4 1536.3 L165.3 1536.8 L165.3 1537.3 L165.2 1537.8 L165.2 1538.3 L165.2 1538.8 L165.1 1539.3 L165.1 1539.8 L165.0 1540.3 L165.0 1540.8 L164.9 1541.3 L164.9 1541.8 L164.9 1542.3 L164.8 1542.8 L164.8 1543.3 L164.7 1543.8 L164.7 1544.3 L164.6 1544.8 L164.6 1545.3 L164.5 1545.8 L164.5 1546.3 L164.5 1546.8 L164.4 1547.3 L164.4 1547.8 L164.3 1548.3 L164.3 1548.8 L164.2 1549.3 L164.2 1549.8 L164.1 1550.3 L164.1 1550.8 L164.0 1551.3 L164.0 1551.8 L163.9 1552.3 L163.9 1552.8 L163.9 1553.3 L163.8 1553.8 L163.8 1554.3 L163.7 1554.8 L163.7 1555.3 L163.6 1555.8 L163.6 1556.3 L163.5 1556.8 L163.5 1557.3 L163.4 1557.8 L163.4 1558.3 L163.3 1558.8 L163.3 1559.3 L163.2 1559.8 L163.2 1560.3 L163.1 1560.8 L163.1 1561.2 L163.0 1561.7 L163.0 1562.2 L162.9 1562.7 L162.8 1563.2 L162.8 1563.7 L162.7 1564.2 L162.7 1564.7 L162.6 1565.2 L162.6 1565.7 L162.5 1566.2 L162.5 1566.7 L162.4 1567.2 L162.3 1567.7 L162.3 1568.2 L162.2 1568.7 L162.2 1569.2 L162.1 1569.7 L162.1 1570.2 L162.0 1570.6 L161.9 1571.1 L161.9 1571.6 L161.8 1572.1 L161.8 1572.6 L161.7 1573.1 L161.6 1573.6 L161.6 1574.1 L161.5 1574.6 L161.4 1575.1 L161.4 1575.6 L161.3 1576.1 L161.2 1576.5 L161.2 1577.0 L161.1 1577.5 L161.0 1578.0 L161.0 1578.5 L160.9 1579.0 L160.8 1579.5 L160.8 1580.0 L160.7 1580.5 L160.6 1580.9 L160.6 1581.4 L160.5 1581.9 L160.4 1582.4 L160.3 1582.9 L160.3 1583.4 L160.2 1583.9 L160.1 1584.4 L160.0 1584.8 L160.0 1585.3 L159.9 1585.8 L159.8 1586.3 L159.7 1586.8 L159.7 1587.3 L159.6 1587.8 L159.5 1588.2 L159.4 1588.7 L159.3 1589.2 L159.3 1589.7 L159.2 1590.2 L159.1 1590.7 L159.0 1591.1 L158.9 1591.6 L158.8 1592.1 L158.7 1592.6 L158.7 1593.1 L158.6 1593.6 L158.5 1594.0 L158.4 1594.5 L158.3 1595.0" fill="none" stroke="#1e1e1e" stroke-width="2.6" stroke-linejoin="round"/>
</g>
</svg>
</body></html>
